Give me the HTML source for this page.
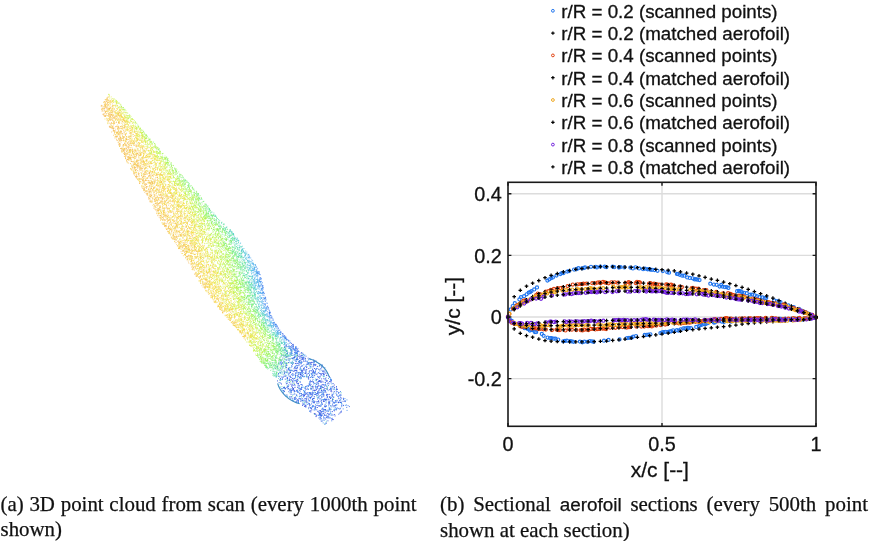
<!DOCTYPE html>
<html lang="en"><head><meta charset="utf-8"><title>Figure</title>
<style>
html,body{margin:0;padding:0;background:#fff;}
body{width:869px;height:541px;overflow:hidden;position:relative;}
svg{position:absolute;left:0;top:0;}
svg text{font-family:"Liberation Sans",sans-serif;fill:#111;stroke:#111;stroke-width:0.3px;}
.cap{position:absolute;-webkit-text-stroke:0.25px #111;font-family:"Liberation Serif",serif;font-size:20.9px;line-height:24.5px;color:#111;text-align:justify;}
.cap .sf{font-family:"Liberation Sans",sans-serif;font-size:18.9px;}
#ca{left:0.5px;top:492px;width:416px;}
#cb{left:440px;top:492px;width:428px;}
</style></head><body>
<svg width="869" height="541" viewBox="0 0 869 541">
<g id="cloud"><path d="M289.0 380.6h0.9M314.8 394.3h0.9M300.8 370.5h0.9M312.9 365.8h0.9M300.1 374.5h0.9M292.9 345.9h0.9" stroke="#2132d0" stroke-width="0.9" fill="none"/>
<path d="M288.9 379.0h0.9M311.9 386.3h0.9M320.2 388.5h0.9M311.8 394.2h0.9M281.1 384.0h0.9M284.1 347.5h0.9M318.0 401.6h0.9M306.1 398.8h0.9M284.1 387.6h0.9M317.3 366.4h0.9M305.3 406.9h0.9M308.7 397.2h0.9M319.3 392.3h0.9M291.5 347.2h0.9M329.4 396.5h0.9M296.7 353.2h0.9M334.9 400.8h0.9M324.8 378.7h0.9M305.9 401.8h0.9M319.5 376.4h0.9M301.7 398.6h0.9M334.2 387.4h0.9M299.0 362.1h0.9M327.1 380.9h0.9M323.5 411.0h0.9M286.5 395.1h0.9M304.1 406.3h0.9M295.8 365.3h0.9M331.3 391.7h0.9M315.2 414.2h0.9M312.0 377.6h0.9M293.9 397.7h0.9M316.7 386.4h0.9M308.3 379.0h0.9M303.5 361.5h0.9M317.3 405.3h0.9M283.6 387.3h0.9M311.1 408.4h0.9M299.6 374.3h0.9M326.7 389.5h0.9M301.9 358.1h0.9M324.2 406.3h0.9M299.2 356.2h0.9M314.4 413.7h0.9M332.7 419.6h0.9M320.6 411.5h0.9M296.1 359.6h0.9M316.9 407.5h0.9M322.9 399.9h0.9M329.4 377.5h0.9M314.8 373.2h0.9M313.8 390.2h0.9M332.6 383.5h0.9M312.6 371.9h0.9M326.5 394.7h0.9M294.4 360.0h0.9M300.8 389.4h0.9M313.8 401.2h0.9M298.8 361.7h0.9M328.8 394.4h0.9M313.8 396.6h0.9M305.5 394.3h0.9M288.3 341.0h0.9M302.3 370.7h0.9M321.0 415.2h0.9M320.5 406.0h0.9M318.7 412.9h0.9M290.9 343.4h0.9M317.6 393.1h0.9M317.4 391.8h0.9M339.4 413.1h0.9M340.4 412.0h0.9M312.3 372.3h0.9M324.2 414.8h0.9M320.2 410.7h0.9M285.8 364.1h0.9M293.6 390.9h0.9M287.8 386.7h0.9M313.5 361.4h0.9M299.4 364.0h0.9M321.4 385.1h0.9M314.2 375.4h0.9M285.2 338.4h0.9M324.7 412.7h0.9M308.1 363.9h0.9M315.6 416.6h0.9M306.8 388.2h0.9M325.0 382.6h0.9M301.1 395.3h0.9M292.7 344.4h0.9M293.7 368.7h0.9M296.4 370.3h0.9M291.1 350.9h0.9M322.4 384.5h0.9M296.2 395.3h0.9M302.0 373.0h0.9M294.5 387.5h0.9M321.4 397.4h0.9M301.8 385.1h0.9M326.4 399.9h0.9M287.4 386.4h0.9M309.0 375.6h0.9M296.7 383.4h0.9M296.2 382.1h0.9M327.4 416.7h0.9M300.4 401.3h0.9M332.0 400.9h0.9M321.4 409.2h0.9M299.8 373.1h0.9M342.9 398.3h0.9M312.5 387.4h0.9M293.6 357.8h0.9M305.8 393.2h0.9M321.1 390.5h0.9M285.9 344.9h0.9M307.3 392.9h0.9M316.6 382.7h0.9M301.4 365.9h0.9M323.3 374.5h0.9M319.2 365.5h0.9M277.1 366.8h0.9M286.7 356.6h0.9M328.5 399.9h0.9M290.2 348.9h0.9M304.7 405.9h0.9M325.1 409.7h0.9M297.0 375.9h0.9M311.5 373.5h0.9M306.2 367.6h0.9M292.1 387.4h0.9M308.8 403.8h0.9M309.5 363.9h0.9M281.5 388.4h0.9M323.2 396.0h0.9M294.1 357.6h0.9M334.0 410.8h0.9M318.9 381.1h0.9M302.6 404.7h0.9M292.2 388.9h0.9M303.7 400.1h0.9M286.3 356.9h0.9M313.8 413.7h0.9M290.7 392.1h0.9M310.7 388.4h0.9M315.8 415.8h0.9M292.6 358.4h0.9M314.0 402.2h0.9M334.4 405.6h0.9M325.8 380.3h0.9M315.4 364.4h0.9M286.1 367.6h0.9M303.9 395.6h0.9M333.8 391.6h0.9M315.2 406.9h0.9M298.1 403.1h0.9M309.0 405.8h0.9M333.8 385.0h0.9M281.9 362.8h0.9M325.5 373.2h0.9M307.3 364.5h0.9M312.1 381.1h0.9M294.4 357.2h0.9M289.3 382.7h0.9M298.8 385.9h0.9M297.8 383.8h0.9M322.8 390.2h0.9M344.0 401.1h0.9M282.6 392.4h0.9M327.1 373.3h0.9M337.9 402.7h0.9M311.1 362.4h0.9M305.2 386.9h0.9M323.3 387.5h0.9M290.6 394.2h0.9M299.8 382.2h0.9M313.1 398.6h0.9M295.5 373.2h0.9M332.5 405.8h0.9M312.6 386.3h0.9M318.5 396.1h0.9M294.0 367.3h0.9M342.9 405.6h0.9M304.2 395.1h0.9M293.2 388.9h0.9M331.7 395.6h0.9M298.1 401.9h0.9M289.7 352.8h0.9M289.2 373.1h0.9" stroke="#2339d6" stroke-width="0.9" fill="none"/>
<path d="M297.3 355.4h0.9M319.6 412.6h0.9M317.8 377.1h0.9M330.3 391.1h0.9M323.3 384.9h0.9M325.1 406.4h0.9M316.7 373.9h0.9M290.7 379.8h0.9M283.6 371.0h0.9M309.6 411.1h0.9M314.3 361.4h0.9M310.1 385.2h0.9M331.9 411.6h0.9M309.9 381.2h0.9M287.9 368.2h0.9M296.1 370.7h0.9M314.2 390.7h0.9M307.5 363.1h0.9M290.1 377.3h0.9M292.0 390.0h0.9M296.7 357.4h0.9M317.4 411.4h0.9M289.9 372.5h0.9M330.9 390.3h0.9M308.4 368.5h0.9M302.7 395.8h0.9M291.5 351.2h0.9M331.3 389.2h0.9M333.6 406.1h0.9M314.0 368.5h0.9M312.2 392.8h0.9M333.7 402.6h0.9M312.9 382.4h0.9M320.5 386.1h0.9M326.7 397.3h0.9M301.5 371.0h0.9M296.7 349.4h0.9M334.6 415.9h0.9M313.3 360.0h0.9M321.8 373.4h0.9M300.7 353.7h0.9M312.0 399.3h0.9M288.0 388.6h0.9M296.9 379.8h0.9M326.9 413.4h0.9M322.9 413.2h0.9M338.5 398.7h0.9M333.3 397.2h0.9M291.4 385.9h0.9M300.7 355.7h0.9M280.1 378.6h0.9M299.4 358.2h0.9M290.0 376.2h0.9M326.0 423.1h0.9M308.2 373.4h0.9M299.4 377.7h0.9M291.1 355.0h0.9M311.0 364.2h0.9M291.8 398.3h0.9M285.8 345.8h0.9M318.5 414.9h0.9M283.9 373.7h0.9M316.0 379.4h0.9M295.3 353.4h0.9M296.2 401.1h0.9M299.7 368.1h0.9M292.8 362.9h0.9M316.9 401.7h0.9M296.8 381.2h0.9M301.3 359.3h0.9M323.4 374.1h0.9M330.4 381.5h0.9M295.1 375.3h0.9M314.5 365.6h0.9M323.4 371.7h0.9M300.3 360.2h0.9M284.3 376.2h0.9M277.0 380.9h0.9M332.1 399.6h0.9M326.0 417.4h0.9M336.1 386.9h0.9M295.0 370.5h0.9M295.1 376.6h0.9M311.4 409.8h0.9M326.4 375.6h0.9M315.0 390.3h0.9M305.1 358.3h0.9M288.4 346.6h0.9M298.5 385.8h0.9M321.4 391.0h0.9M331.0 380.7h0.9M293.0 389.3h0.9M292.2 380.9h0.9M329.4 408.2h0.9M314.7 407.7h0.9M318.3 390.3h0.9M295.2 367.9h0.9M328.5 383.8h0.9M322.7 409.7h0.9M316.8 388.7h0.9M327.4 394.6h0.9M289.8 354.9h0.9M304.6 358.9h0.9M308.8 404.4h0.9M290.4 384.2h0.9M320.5 413.3h0.9M304.9 373.0h0.9M294.9 363.5h0.9M308.9 384.6h0.9M291.8 358.3h0.9M309.3 400.9h0.9M326.3 395.1h0.9M324.5 388.5h0.9M304.7 392.3h0.9M340.2 402.5h0.9M315.3 386.8h0.9M325.3 419.0h0.9M296.1 402.3h0.9M289.7 370.3h0.9M321.2 401.0h0.9M308.8 371.6h0.9M332.6 386.3h0.9M300.2 389.3h0.9M297.4 387.2h0.9M328.0 402.9h0.9M284.2 372.8h0.9M283.8 349.9h0.9M336.2 409.0h0.9M340.3 397.7h0.9M291.3 345.7h0.9M292.0 364.7h0.9M319.4 389.9h0.9M319.4 398.9h0.9M294.2 349.3h0.9M336.2 389.5h0.9M325.9 381.3h0.9M309.8 377.5h0.9M297.8 351.2h0.9M313.2 364.1h0.9M292.2 378.5h0.9M300.4 356.7h0.9M337.0 389.3h0.9M284.9 376.1h0.9M286.5 346.7h0.9M319.0 380.9h0.9M303.5 357.4h0.9M327.5 420.8h0.9M286.6 383.5h0.9M313.4 390.6h0.9M321.5 381.2h0.9M320.7 386.5h0.9M318.3 369.3h0.9M320.4 368.6h0.9M305.5 369.9h0.9M302.7 369.8h0.9M321.0 366.9h0.9M330.1 398.5h0.9M299.0 390.2h0.9M314.6 372.2h0.9M288.6 369.9h0.9M323.4 400.8h0.9M324.1 409.7h0.9M283.7 356.0h0.9M314.4 364.6h0.9M285.9 363.5h0.9M282.7 366.4h0.9M323.4 378.7h0.9M301.2 371.1h0.9M292.3 400.5h0.9M320.9 418.8h0.9M297.5 359.4h0.9M301.8 376.5h0.9M320.0 373.8h0.9M339.4 409.0h0.9M308.5 407.4h0.9M303.8 370.0h0.9M296.5 390.2h0.9M292.8 371.4h0.9M323.4 394.6h0.9M299.2 360.6h0.9M283.1 390.6h0.9M316.0 389.8h0.9M328.9 389.7h0.9M329.0 414.2h0.9M301.3 387.4h0.9M328.3 401.9h0.9M325.1 399.7h0.9M318.2 385.8h0.9M296.7 359.5h0.9M316.4 368.4h0.9M292.9 388.4h0.9M327.6 416.1h0.9M301.1 387.8h0.9M292.7 385.3h0.9M306.5 389.5h0.9M330.3 388.5h0.9M309.8 362.7h0.9M318.5 381.1h0.9M310.1 397.6h0.9M303.0 368.7h0.9M297.9 372.6h0.9M317.4 386.4h0.9M312.3 362.4h0.9M308.5 395.0h0.9M303.3 358.9h0.9M331.2 418.9h0.9M304.6 394.5h0.9M312.6 388.8h0.9M295.7 363.3h0.9M310.4 394.8h0.9M319.1 413.6h0.9M297.1 399.9h0.9M309.0 392.5h0.9M329.2 402.6h0.9" stroke="#2641dc" stroke-width="0.9" fill="none"/>
<path d="M283.6 336.0h0.78M282.1 333.7h0.78M270.8 315.9h0.78" stroke="#294be2" stroke-width="0.78" fill="none"/>
<path d="M326.0 386.1h0.9M302.5 359.5h0.9M296.1 380.1h0.9M300.5 384.5h0.9M322.6 411.5h0.9M340.6 412.1h0.9M302.8 358.1h0.9M285.3 355.0h0.9M287.0 378.4h0.9M285.8 356.9h0.9M312.8 382.0h0.9M306.2 376.3h0.9M296.8 353.9h0.9M323.1 401.5h0.9M287.0 377.8h0.9M311.0 381.6h0.9M317.3 379.3h0.9M289.7 371.2h0.9M332.3 419.5h0.9M317.5 381.9h0.9M279.6 359.5h0.9M316.0 380.2h0.9M324.2 401.3h0.9M303.0 396.0h0.9M288.3 373.8h0.9M294.4 356.7h0.9M321.7 387.5h0.9M297.7 351.0h0.9M304.6 388.6h0.9M325.5 392.3h0.9M294.2 391.4h0.9M291.7 384.6h0.9M329.1 376.6h0.9M313.2 406.0h0.9M301.9 375.3h0.9M293.8 350.7h0.9M295.7 361.3h0.9M295.6 391.3h0.9M282.5 355.3h0.9M319.7 381.2h0.9M306.7 396.8h0.9M307.9 377.2h0.9M283.1 393.6h0.9M310.4 412.0h0.9M315.6 394.4h0.9M312.2 375.3h0.9M305.6 405.1h0.9M286.5 369.9h0.9M316.4 415.1h0.9M322.2 371.1h0.9M284.8 379.2h0.9M323.0 373.3h0.9M311.4 394.5h0.9M312.8 402.2h0.9M297.8 383.3h0.9M340.7 402.2h0.9M296.2 359.1h0.9M312.9 370.5h0.9M300.5 374.7h0.9M296.5 358.8h0.9M330.6 386.9h0.9M291.3 380.0h0.9M292.7 349.3h0.9M326.1 375.3h0.9M309.5 370.5h0.9M316.4 395.7h0.9M318.3 377.3h0.9M337.8 402.4h0.9M292.4 373.6h0.9M293.4 382.0h0.9M322.6 382.0h0.9M300.9 362.3h0.9M323.7 390.2h0.9M319.4 410.8h0.9M320.4 381.0h0.9M295.3 380.8h0.9M286.7 387.1h0.9M324.3 392.0h0.9M310.3 389.0h0.9M307.7 377.2h0.9M321.9 365.2h0.9M282.7 376.7h0.9M290.0 372.4h0.9M311.9 399.8h0.9M326.2 399.6h0.9M296.4 368.4h0.9M313.5 398.4h0.9M310.0 407.6h0.9M325.3 415.4h0.9M302.1 405.4h0.9M310.7 388.7h0.9M290.1 346.8h0.9M311.7 395.9h0.9M327.9 414.8h0.9M296.5 350.2h0.9M304.5 373.3h0.9M318.8 373.3h0.9M295.8 398.8h0.9M309.9 393.3h0.9M293.5 378.4h0.9M297.9 400.3h0.9M334.2 414.5h0.9M315.7 374.4h0.9M318.1 400.8h0.9M329.8 409.3h0.9M332.5 403.2h0.9M297.7 400.2h0.9M311.8 401.2h0.9M290.0 350.1h0.9M306.3 369.6h0.9M305.2 405.7h0.9M322.1 387.1h0.9M305.1 373.2h0.9M293.8 399.0h0.9M308.7 362.4h0.9M335.2 405.6h0.9M295.2 348.0h0.9M302.1 358.0h0.9M294.4 394.1h0.9M305.3 400.9h0.9M300.9 363.7h0.9M300.8 355.5h0.9M285.1 388.3h0.9M318.4 381.2h0.9M298.6 398.8h0.9M297.7 356.5h0.9M287.6 359.9h0.9M316.1 384.4h0.9M343.0 399.4h0.9M305.7 399.3h0.9M301.5 362.1h0.9M297.1 367.6h0.9M291.0 396.8h0.9M296.2 359.5h0.9M326.3 395.7h0.9M327.8 382.9h0.9M307.7 358.2h0.9M338.0 402.2h0.9M295.5 375.4h0.9M285.3 357.1h0.9M288.8 376.7h0.9M301.8 400.5h0.9M297.5 392.2h0.9M284.9 388.9h0.9M330.6 397.7h0.9M296.9 363.4h0.9M323.5 370.4h0.9M291.5 358.3h0.9M287.9 368.7h0.9M322.6 408.2h0.9M305.8 402.8h0.9M321.1 374.8h0.9M291.0 390.5h0.9M294.3 384.8h0.9M317.9 383.9h0.9M310.8 370.8h0.9M330.4 379.9h0.9M318.6 405.9h0.9M301.9 371.3h0.9M297.2 379.2h0.9M306.7 374.0h0.9M289.5 359.2h0.9M297.2 355.2h0.9M328.5 404.1h0.9M288.5 358.4h0.9M324.9 384.9h0.9M292.4 348.7h0.9M291.4 363.3h0.9M290.8 349.7h0.9M300.0 376.2h0.9M318.9 405.9h0.9M330.4 405.6h0.9M317.0 393.6h0.9M313.7 402.9h0.9M282.5 377.5h0.9M342.6 401.3h0.9M310.4 410.7h0.9M302.4 403.1h0.9M299.0 393.2h0.9M320.3 382.0h0.9M318.3 397.4h0.9M285.9 383.8h0.9M320.4 375.0h0.9M302.3 353.2h0.9M288.4 391.7h0.9" stroke="#294be2" stroke-width="0.9" fill="none"/>
<path d="M284.3 335.5h0.78M282.7 334.6h0.78M269.8 312.9h0.78M268.9 310.7h0.78M285.6 337.3h0.78M267.3 306.1h0.78M278.9 330.3h0.78M268.9 312.5h0.78M264.0 293.6h0.78M278.1 328.4h0.78M283.4 336.2h0.78M269.0 313.4h0.78M275.8 324.5h0.78M295.5 346.7h0.78M265.2 298.2h0.78M282.5 333.5h0.78M264.8 297.1h0.78M271.7 318.4h0.78M285.3 337.0h0.78M289.5 341.0h0.78M269.4 311.3h0.78M271.3 317.2h0.78M262.5 285.6h0.78M275.5 324.1h0.78" stroke="#2e5fe7" stroke-width="0.78" fill="none"/>
<path d="M341.0 411.1h0.9M313.5 362.5h0.9M297.9 363.3h0.9M322.5 371.6h0.9M330.6 382.8h0.9M314.0 372.8h0.9M315.1 371.3h0.9M313.7 364.3h0.9M278.2 373.5h0.9M331.6 394.2h0.9M304.6 398.5h0.9M320.2 387.3h0.9M325.7 388.7h0.9M321.4 373.7h0.9M307.6 394.9h0.9M299.5 369.6h0.9M320.7 420.9h0.9M304.5 401.2h0.9M321.2 378.9h0.9M293.8 390.6h0.9M315.2 365.2h0.9M303.3 360.3h0.9M308.7 383.8h0.9M280.9 364.8h0.9M320.7 382.4h0.9M306.7 361.4h0.9M296.9 391.2h0.9M341.5 404.1h0.9M295.4 372.9h0.9M339.7 394.4h0.9M295.1 402.1h0.9M305.9 364.3h0.9M306.2 375.1h0.9M323.8 390.3h0.9M305.6 356.2h0.9M312.5 398.6h0.9M324.4 367.8h0.9M305.2 361.2h0.9M289.4 348.0h0.9M324.4 424.2h0.9M299.6 396.4h0.9M278.3 363.3h0.9M288.4 385.0h0.9M332.6 415.0h0.9M320.7 416.4h0.9M296.4 368.1h0.9M315.6 387.3h0.9M293.8 354.4h0.9M289.7 390.3h0.9M303.0 394.4h0.9M326.8 387.8h0.9M313.3 401.9h0.9M300.7 378.6h0.9M293.8 370.4h0.9M321.9 404.4h0.9M289.4 390.1h0.9M322.3 415.3h0.9M292.7 346.9h0.9M307.3 402.2h0.9M297.9 383.8h0.9M320.1 414.4h0.9M294.3 352.7h0.9M320.3 417.2h0.9M309.7 364.6h0.9M286.6 381.9h0.9M305.6 393.4h0.9M294.2 378.4h0.9M295.8 352.5h0.9M328.2 417.9h0.9M309.6 366.9h0.9M300.2 372.9h0.9M315.9 389.3h0.9M309.9 363.1h0.9M319.6 410.6h0.9M296.0 348.3h0.9M276.1 376.2h0.9M290.2 389.2h0.9M291.7 370.5h0.9M336.2 395.0h0.9M320.9 400.2h0.9M298.7 378.0h0.9M328.7 402.0h0.9M310.5 386.9h0.9M313.4 372.0h0.9M297.9 374.6h0.9M320.6 386.9h0.9M312.6 366.8h0.9M281.4 369.8h0.9M284.8 348.1h0.9M311.2 403.9h0.9M321.4 392.5h0.9M297.4 387.4h0.9M320.5 414.5h0.9M298.4 388.7h0.9M296.2 382.0h0.9M298.5 365.7h0.9M320.1 415.5h0.9M322.9 394.1h0.9M286.5 387.6h0.9M279.3 376.9h0.9M305.5 406.8h0.9M340.1 395.9h0.9M282.5 358.0h0.9M294.2 371.1h0.9M339.6 402.4h0.9M321.4 411.5h0.9M324.7 407.1h0.9M315.5 360.9h0.9M327.2 396.7h0.9M281.7 379.3h0.9M305.0 390.0h0.9M300.6 366.5h0.9M318.2 381.6h0.9M321.2 412.7h0.9M280.2 383.0h0.9M286.6 370.9h0.9M299.5 357.8h0.9M283.0 387.5h0.9M291.5 366.6h0.9M346.3 407.4h0.9M321.6 403.7h0.9M294.4 352.3h0.9M313.9 373.2h0.9M298.8 398.4h0.9M319.9 413.6h0.9M332.4 386.8h0.9M314.5 406.6h0.9M306.4 366.8h0.9M338.4 392.4h0.9M325.3 399.4h0.9M283.9 362.0h0.9M328.3 413.8h0.9M293.1 348.2h0.9M335.7 402.0h0.9M318.5 418.0h0.9M290.7 370.5h0.9M300.9 352.5h0.9M286.7 378.5h0.9M306.2 400.2h0.9M278.2 376.3h0.9M317.4 383.9h0.9M287.0 353.5h0.9M306.2 396.9h0.9M313.6 409.9h0.9M309.3 393.9h0.9M301.7 400.6h0.9M296.9 365.7h0.9M292.3 344.5h0.9M336.7 391.6h0.9M313.1 371.8h0.9M309.8 382.0h0.9M320.6 388.4h0.9M339.0 400.4h0.9M283.9 391.6h0.9M329.2 409.4h0.9M292.1 381.8h0.9M309.9 394.1h0.9M328.6 404.0h0.9M319.6 417.4h0.9M286.0 372.3h0.9M279.5 379.9h0.9M295.4 351.8h0.9M316.3 409.8h0.9M325.0 391.2h0.9M325.0 409.6h0.9M281.4 360.1h0.9M321.2 365.4h0.9M300.7 372.6h0.9M329.0 397.3h0.9M308.8 403.7h0.9M279.7 363.8h0.9M299.2 377.1h0.9M313.9 383.3h0.9M302.1 359.2h0.9M333.5 402.5h0.9M295.4 368.8h0.9M336.1 386.7h0.9M308.1 386.2h0.9M284.0 391.2h0.9M286.0 351.4h0.9M285.7 365.9h0.9M293.6 357.7h0.9M324.5 373.0h0.9M303.9 367.7h0.9M291.3 374.7h0.9M307.7 398.8h0.9M348.9 406.6h0.9M329.5 397.4h0.9M338.0 393.2h0.9M311.2 396.8h0.9M279.7 362.0h0.9M316.4 393.7h0.9M306.8 362.9h0.9M334.6 409.3h0.9M284.5 371.6h0.9M297.5 392.3h0.9M279.6 372.6h0.9M293.9 384.2h0.9M313.2 371.7h0.9M315.5 369.1h0.9M301.1 393.6h0.9M308.2 399.9h0.9M324.0 399.5h0.9M301.4 375.5h0.9M293.0 375.0h0.9M287.6 340.1h0.9M303.7 396.0h0.9M303.5 368.3h0.9M323.1 416.9h0.9M292.5 355.4h0.9M324.1 415.3h0.9M332.1 394.8h0.9M288.1 362.5h0.9M305.1 371.1h0.9M307.9 378.7h0.9M340.8 398.2h0.9M310.9 393.1h0.9M321.5 421.4h0.9M317.1 399.0h0.9M298.2 361.7h0.9M314.8 408.6h0.9M299.5 388.3h0.9M305.5 386.5h0.9" stroke="#2e5fe7" stroke-width="0.9" fill="none"/>
<path d="M274.5 324.1h0.78M280.0 332.4h0.78M270.8 317.9h0.78M259.8 277.9h0.78M273.9 322.3h0.78M272.8 320.3h0.78M277.6 327.5h0.78M269.5 312.9h0.78M263.0 287.4h0.78M269.4 312.8h0.78M263.4 292.3h0.78M269.2 313.0h0.78M263.9 298.1h0.78M260.8 278.5h0.78M269.8 312.3h0.78M265.0 297.7h0.78M279.5 330.1h0.78M278.7 332.9h0.78M266.5 306.9h0.78M280.3 332.0h0.78M262.8 292.7h0.78M262.3 288.4h0.78M276.6 326.2h0.78M267.7 307.4h0.78M268.5 309.7h0.78M265.2 301.4h0.78M265.4 298.0h0.78M277.3 328.9h0.78M276.6 325.6h0.78M276.9 326.6h0.78M280.5 331.6h0.78M259.5 279.5h0.78M270.1 315.4h0.78M266.9 306.4h0.78M262.8 289.0h0.78M259.9 277.8h0.78M275.0 324.9h0.78M294.9 348.5h0.78M267.8 307.5h0.78M258.4 273.0h0.78M289.4 343.3h0.78M263.6 303.6h0.78M285.7 338.5h0.78M286.4 339.2h0.78M275.3 326.6h0.78M283.8 336.8h0.78M280.8 332.8h0.78M260.6 281.7h0.78M273.7 322.9h0.78M292.7 346.2h0.78M261.9 290.2h0.78M285.4 338.7h0.78M286.8 339.5h0.78M261.8 285.3h0.78M261.8 286.5h0.78M295.2 350.5h0.78M281.9 336.1h0.78M264.2 304.7h0.78M285.2 337.2h0.78M266.0 308.1h0.78M269.2 312.6h0.78M261.8 286.0h0.78M263.7 299.3h0.78M259.9 274.7h0.78" stroke="#3473ed" stroke-width="0.78" fill="none"/>
<path d="M312.5 375.1h0.9M328.7 407.9h0.9M340.1 391.6h0.9M324.5 417.8h0.9M286.0 353.7h0.9M310.0 398.7h0.9M310.8 397.1h0.9M319.2 378.3h0.9M282.1 378.9h0.9M301.0 357.7h0.9M331.8 418.3h0.9M319.5 380.5h0.9M314.3 394.5h0.9M319.7 401.2h0.9M336.4 404.9h0.9M324.4 398.4h0.9M332.5 399.5h0.9M338.2 398.0h0.9M329.3 403.5h0.9M320.6 405.2h0.9M319.4 370.9h0.9M286.7 377.5h0.9M323.4 409.6h0.9M295.0 397.0h0.9M291.0 362.9h0.9M324.7 404.7h0.9M305.8 371.1h0.9M284.9 355.3h0.9M331.4 388.2h0.9M333.6 388.3h0.9M304.7 398.4h0.9M327.1 397.1h0.9M294.7 398.2h0.9M326.7 410.2h0.9M325.3 400.5h0.9M311.5 370.7h0.9M291.2 352.5h0.9M317.3 392.2h0.9M337.2 396.2h0.9M298.8 362.5h0.9M311.2 389.0h0.9M318.8 388.8h0.9M309.5 383.0h0.9M315.6 401.5h0.9M320.9 415.7h0.9M323.8 374.7h0.9M325.7 411.2h0.9M301.3 389.4h0.9M340.8 395.1h0.9M335.5 404.8h0.9M294.9 399.4h0.9M325.1 390.6h0.9M339.9 408.3h0.9M286.3 375.9h0.9M310.6 384.6h0.9M304.9 388.2h0.9M307.6 385.9h0.9M304.9 366.3h0.9M322.2 413.9h0.9M289.3 380.0h0.9M329.2 381.5h0.9M303.1 404.0h0.9M304.2 391.6h0.9M333.2 410.1h0.9M314.7 394.3h0.9M335.4 400.7h0.9M301.8 357.2h0.9M303.0 354.4h0.9M315.1 392.6h0.9M329.4 417.9h0.9M335.9 391.8h0.9M312.3 369.2h0.9M340.8 402.7h0.9M299.5 388.6h0.9M326.5 394.2h0.9M319.1 414.6h0.9M324.5 405.9h0.9M332.1 396.7h0.9M321.3 390.4h0.9M294.6 355.9h0.9M336.4 394.8h0.9M347.6 405.6h0.9M321.1 415.4h0.9M307.8 376.6h0.9M305.9 372.9h0.9M313.4 377.0h0.9M323.4 417.9h0.9M284.7 345.9h0.9M326.0 406.1h0.9M284.8 350.6h0.9M333.2 397.2h0.9M293.9 399.0h0.9M338.3 414.2h0.9M292.8 346.8h0.9M298.3 364.9h0.9M331.3 420.8h0.9M310.3 408.6h0.9M306.3 386.1h0.9M323.2 393.1h0.9M326.8 411.2h0.9M297.5 348.4h0.9M299.4 373.0h0.9M295.0 347.8h0.9M329.2 381.6h0.9M337.2 408.0h0.9M321.3 402.5h0.9M319.1 414.7h0.9M293.2 379.8h0.9M298.9 393.9h0.9M289.0 367.9h0.9M295.5 350.7h0.9M317.6 392.5h0.9M319.4 373.5h0.9M304.3 376.3h0.9M320.4 386.2h0.9M328.4 417.0h0.9M302.2 365.8h0.9M335.3 407.3h0.9M285.0 366.9h0.9M301.2 384.5h0.9M289.4 370.3h0.9M304.0 392.1h0.9M323.5 418.9h0.9M310.0 397.4h0.9M313.0 392.8h0.9M290.3 396.9h0.9M303.4 376.8h0.9M317.5 403.3h0.9M317.7 411.2h0.9M290.7 391.7h0.9M321.4 367.6h0.9M331.4 414.2h0.9M325.6 403.0h0.9M332.1 398.9h0.9M295.7 359.9h0.9M288.9 396.9h0.9M296.7 401.2h0.9M311.7 406.6h0.9M310.2 392.6h0.9M287.3 388.9h0.9M312.1 406.2h0.9M284.6 372.6h0.9M291.3 386.2h0.9M312.2 399.2h0.9M312.1 393.0h0.9M312.9 406.0h0.9M281.3 364.1h0.9M323.6 389.2h0.9M274.9 368.7h0.9M336.6 400.9h0.9M328.3 405.8h0.9M309.4 397.8h0.9M312.7 373.0h0.9M294.6 385.8h0.9M300.4 399.6h0.9M344.9 401.6h0.9M296.2 394.9h0.9M312.1 369.3h0.9M334.8 402.2h0.9M342.8 405.3h0.9M290.3 398.7h0.9M316.3 393.5h0.9M309.1 385.1h0.9M292.6 400.9h0.9M290.2 391.0h0.9M295.7 347.9h0.9M323.3 413.6h0.9M303.8 391.4h0.9M278.7 382.5h0.9M284.4 346.5h0.9M327.0 417.8h0.9M301.3 374.0h0.9M296.3 353.6h0.9M327.0 383.8h0.9M300.7 361.3h0.9M303.7 393.1h0.9M324.5 371.8h0.9M315.4 383.4h0.9M288.8 389.2h0.9M293.6 390.4h0.9M285.9 360.0h0.9M302.0 355.6h0.9M318.4 405.9h0.9M338.0 396.3h0.9M324.6 379.8h0.9M318.4 412.3h0.9M307.6 392.8h0.9M322.0 394.8h0.9M299.9 391.1h0.9M341.1 405.3h0.9M328.2 399.2h0.9M278.0 374.1h0.9M341.3 406.7h0.9M308.2 363.2h0.9M309.9 380.2h0.9M287.3 352.6h0.9M318.1 394.2h0.9M336.0 388.7h0.9M297.1 351.5h0.9M296.7 381.4h0.9M296.8 352.6h0.9M308.3 396.2h0.9M301.9 394.5h0.9M301.0 393.8h0.9M286.2 365.4h0.9M335.7 390.1h0.9M330.1 389.6h0.9M295.3 397.9h0.9M296.8 358.4h0.9" stroke="#3473ed" stroke-width="0.9" fill="none"/>
<path d="M262.3 292.5h0.78M259.1 281.5h0.78M273.4 324.1h0.78M268.3 308.6h0.78M262.0 282.7h0.78M269.8 315.4h0.78M260.9 281.3h0.78M273.6 323.1h0.78M265.0 304.0h0.78M275.2 324.4h0.78M261.1 290.1h0.78M264.5 300.9h0.78M275.2 324.5h0.78M262.8 297.7h0.78M260.5 279.5h0.78M268.8 315.0h0.78M288.0 340.8h0.78M277.2 331.7h0.78M258.6 271.8h0.78M256.8 273.8h0.78M284.7 337.5h0.78M255.9 267.3h0.78M277.3 331.3h0.78M264.4 298.3h0.78M262.5 286.0h0.78M273.4 322.7h0.78M261.2 288.8h0.78M257.2 272.4h0.78M270.3 317.3h0.78M282.5 336.0h0.78M260.5 278.0h0.78M272.4 320.1h0.78M291.6 346.2h0.78M286.1 339.7h0.78M263.0 301.7h0.78M265.0 304.9h0.78M259.9 281.7h0.78M255.5 273.8h0.78M264.1 298.4h0.78M258.2 286.8h0.78M261.7 288.3h0.78M259.1 274.5h0.78M256.3 271.8h0.78M258.3 285.0h0.78M254.9 264.7h0.78M257.3 268.4h0.78M257.9 274.0h0.78M273.4 322.4h0.78M257.6 275.9h0.78M258.6 271.7h0.78M265.6 299.9h0.78M256.7 271.5h0.78M256.5 269.4h0.78M262.0 287.5h0.78M265.9 307.7h0.78M268.6 316.7h0.78M259.3 280.0h0.78M260.2 281.6h0.78M267.4 313.2h0.78M262.6 303.8h0.78M269.1 316.1h0.78M273.7 325.1h0.78M263.0 292.0h0.78M266.5 309.2h0.78M257.1 273.0h0.78M284.0 337.4h0.78M253.5 270.7h0.78M266.5 303.0h0.78M272.8 319.1h0.78M266.8 303.4h0.78M256.9 272.2h0.78M266.9 311.6h0.78M285.7 340.1h0.78M261.8 295.2h0.78M256.2 272.7h0.78M264.9 305.2h0.78M264.6 303.7h0.78M275.8 325.2h0.78M266.9 309.0h0.78M286.1 339.8h0.78M259.3 278.2h0.78M271.7 317.1h0.78M265.5 299.9h0.78M266.5 314.3h0.78M265.8 310.3h0.78M263.5 306.8h0.78M258.1 273.4h0.78M270.5 315.6h0.78M275.7 326.2h0.78M268.9 314.4h0.78M260.6 284.6h0.78M262.6 293.7h0.78M260.9 289.4h0.78M248.3 254.5h0.78M277.9 330.5h0.78M260.5 279.1h0.78M264.4 298.5h0.78M258.8 272.8h0.78M269.8 318.8h0.78M292.6 345.8h0.78M268.6 317.9h0.78M275.6 327.0h0.78M263.0 292.4h0.78M272.2 323.2h0.78M265.4 309.6h0.78M254.0 268.0h0.78M261.4 293.4h0.78M260.4 282.6h0.78M262.8 295.1h0.78M273.3 326.4h0.78M261.2 284.8h0.78M284.3 336.9h0.78" stroke="#3987ef" stroke-width="0.78" fill="none"/>
<path d="M319.3 385.9h0.9M291.3 347.7h0.9M323.5 395.8h0.9M312.9 364.5h0.9M280.8 355.2h0.9M330.8 379.7h0.9M311.5 407.5h0.9M312.1 391.0h0.9M297.6 402.8h0.9M284.8 349.5h0.9M298.9 396.7h0.9M330.5 397.8h0.9M332.0 404.7h0.9M288.3 369.8h0.9M303.4 364.7h0.9M302.4 400.0h0.9M294.0 399.3h0.9M297.6 373.8h0.9M315.4 407.6h0.9M321.1 402.9h0.9M331.4 415.4h0.9M335.7 409.9h0.9M335.7 408.4h0.9M319.6 377.1h0.9M297.7 375.9h0.9M312.4 377.5h0.9M286.5 365.2h0.9M281.7 390.5h0.9M300.0 398.5h0.9M297.3 391.3h0.9M298.9 354.3h0.9M307.1 394.8h0.9M305.1 360.1h0.9M311.0 374.3h0.9M320.4 398.8h0.9M333.6 407.0h0.9M293.8 380.6h0.9M291.0 353.5h0.9M324.7 382.5h0.9M295.5 346.6h0.9M309.5 359.6h0.9M308.6 400.8h0.9M329.6 415.0h0.9M326.1 415.1h0.9M321.8 393.3h0.9M321.0 396.2h0.9M300.7 369.8h0.9M281.0 377.0h0.9M343.2 399.2h0.9M338.4 392.6h0.9M313.0 402.6h0.9M302.7 376.3h0.9M311.0 376.2h0.9M321.6 396.6h0.9M295.2 402.3h0.9M288.0 374.9h0.9M329.1 408.7h0.9M317.1 387.5h0.9M330.6 379.3h0.9M287.4 380.3h0.9M291.0 365.7h0.9M307.8 362.7h0.9M339.3 402.0h0.9M309.2 374.6h0.9M330.6 400.9h0.9M289.8 342.5h0.9M335.5 402.2h0.9M302.9 396.9h0.9M322.7 394.1h0.9M312.0 405.8h0.9M319.3 366.2h0.9M325.6 377.8h0.9M298.1 402.3h0.9M306.2 377.0h0.9M340.3 400.7h0.9M303.1 357.6h0.9M318.6 402.8h0.9M314.8 386.4h0.9M288.4 348.3h0.9M335.6 393.3h0.9M305.9 366.0h0.9M292.7 362.8h0.9M316.9 366.5h0.9M292.6 394.6h0.9M289.6 362.7h0.9M326.4 416.3h0.9M325.3 384.1h0.9M318.7 388.8h0.9M346.6 410.4h0.9M300.2 363.1h0.9M339.3 395.4h0.9M301.6 387.5h0.9M317.9 372.5h0.9M307.5 385.8h0.9M296.7 372.1h0.9M329.3 401.4h0.9M301.4 372.4h0.9M324.6 385.3h0.9M279.7 370.9h0.9M302.7 400.8h0.9M311.6 402.0h0.9M310.7 373.4h0.9M291.2 390.2h0.9M323.5 384.8h0.9M300.0 367.9h0.9M312.6 393.9h0.9M302.7 372.6h0.9M295.4 352.4h0.9M288.7 360.4h0.9M322.9 392.3h0.9M321.6 365.2h0.9M295.0 354.1h0.9M326.4 399.0h0.9M326.9 388.3h0.9M322.4 420.2h0.9M328.1 410.1h0.9M285.7 396.4h0.9M308.0 359.8h0.9M329.9 379.6h0.9M338.2 408.6h0.9M298.1 400.9h0.9M330.4 411.7h0.9M303.4 356.2h0.9M295.1 366.3h0.9M315.9 405.4h0.9M344.5 398.6h0.9M296.6 366.0h0.9M304.2 404.3h0.9M281.4 363.0h0.9M289.5 379.8h0.9M282.1 368.0h0.9M318.5 363.6h0.9M317.6 391.6h0.9M294.8 380.3h0.9M296.7 351.3h0.9M292.0 375.7h0.9M315.3 388.1h0.9M295.6 361.4h0.9M296.4 372.0h0.9M298.5 361.4h0.9M312.3 395.3h0.9M279.9 362.7h0.9M320.0 392.3h0.9M330.0 413.0h0.9M328.0 385.6h0.9M346.5 399.9h0.9M317.1 376.3h0.9M289.3 348.2h0.9M329.5 410.7h0.9M300.5 400.0h0.9M298.6 351.7h0.9M321.7 391.6h0.9M291.2 377.6h0.9M314.5 410.0h0.9M335.7 409.7h0.9M333.2 394.0h0.9M304.1 391.2h0.9M308.2 408.7h0.9M320.6 404.3h0.9M310.1 359.4h0.9M308.1 389.2h0.9M311.9 376.0h0.9M323.5 375.9h0.9M316.5 368.5h0.9M319.9 418.3h0.9M315.1 370.0h0.9M319.5 369.5h0.9M315.6 369.7h0.9M303.1 390.6h0.9M284.9 363.2h0.9M298.1 376.5h0.9M294.1 350.0h0.9M328.1 411.4h0.9M320.2 395.4h0.9M329.7 417.9h0.9M313.3 384.0h0.9M321.4 370.2h0.9M294.5 374.8h0.9M296.0 390.5h0.9M321.1 394.4h0.9M316.2 403.0h0.9M326.0 405.9h0.9M294.8 356.2h0.9M330.0 388.3h0.9M296.4 402.8h0.9M338.8 395.8h0.9M283.4 388.4h0.9M321.8 411.4h0.9M346.1 405.0h0.9M281.5 363.3h0.9M325.6 380.2h0.9M291.7 374.2h0.9M303.8 369.0h0.9M280.1 372.9h0.9M300.2 362.4h0.9M323.7 420.3h0.9M344.9 405.3h0.9M288.1 369.4h0.9M324.3 386.3h0.9M318.8 396.0h0.9M314.5 408.5h0.9M327.0 394.7h0.9M309.1 411.2h0.9M331.3 406.9h0.9M280.8 361.4h0.9M287.5 380.5h0.9M345.1 400.9h0.9M289.3 346.8h0.9M315.1 404.8h0.9M293.6 349.1h0.9M290.3 353.8h0.9M309.3 393.2h0.9M323.3 399.5h0.9M310.0 366.7h0.9M322.6 375.9h0.9M290.6 367.6h0.9M317.9 415.5h0.9M310.7 366.9h0.9M331.8 401.1h0.9M336.6 400.2h0.9M325.2 410.3h0.9M307.9 403.3h0.9M316.8 395.2h0.9M333.4 389.6h0.9M300.1 393.4h0.9M330.3 380.4h0.9M322.0 408.8h0.9M309.1 381.9h0.9M342.7 408.9h0.9M340.3 399.5h0.9M281.9 379.4h0.9M295.2 377.7h0.9M290.6 392.5h0.9M310.6 377.2h0.9M297.2 390.2h0.9M292.9 357.7h0.9M321.7 399.6h0.9M319.6 419.4h0.9M295.2 373.7h0.9M333.2 402.0h0.9M310.1 405.0h0.9M312.6 379.6h0.9M299.8 395.7h0.9M319.2 415.8h0.9M313.8 398.2h0.9M318.7 393.0h0.9M300.8 388.5h0.9M333.9 403.2h0.9" stroke="#3987ef" stroke-width="0.9" fill="none"/>
<path d="M258.4 284.3h0.78M260.7 298.5h0.78M261.4 288.3h0.78M252.3 260.7h0.78M250.4 258.0h0.78M269.7 323.8h0.78M258.5 280.8h0.78M291.0 350.9h0.78M264.6 310.7h0.78M279.4 332.7h0.78M270.7 323.1h0.78M284.4 338.5h0.78M276.5 332.3h0.78M279.7 334.5h0.78M257.1 274.1h0.78M261.4 283.7h0.78M254.1 269.4h0.78M261.9 293.6h0.78M259.0 280.1h0.78M257.3 281.3h0.78M263.7 298.8h0.78M280.2 337.2h0.78M282.6 338.1h0.78M262.6 297.9h0.78M269.6 321.9h0.78M273.0 324.4h0.78M272.6 327.4h0.78M248.3 257.2h0.78M261.0 297.5h0.78M259.1 286.6h0.78M252.1 263.2h0.78M255.6 276.4h0.78M265.1 307.8h0.78M259.5 301.4h0.78M278.1 331.9h0.78M248.2 257.6h0.78M256.5 281.6h0.78M257.3 279.7h0.78M257.0 275.5h0.78M259.8 292.4h0.78M253.2 264.2h0.78M280.3 333.0h0.78M258.4 281.8h0.78M264.9 311.2h0.78M263.9 307.0h0.78M262.7 293.4h0.78M288.3 344.0h0.78M274.8 325.0h0.78M260.0 292.4h0.78M270.1 325.6h0.78M283.0 336.8h0.78M278.1 334.4h0.78M255.3 265.5h0.78M249.4 257.5h0.78M241.3 251.0h0.78M255.9 275.6h0.78M251.4 259.9h0.78M254.4 275.1h0.78M260.0 290.8h0.78M253.6 274.2h0.78M263.6 295.4h0.78M280.3 334.0h0.78M275.5 326.8h0.78M259.7 286.1h0.78M253.9 267.7h0.78M263.1 305.2h0.78M295.3 349.8h0.78M255.6 269.4h0.78M261.9 290.9h0.78M262.5 299.5h0.78M253.5 275.8h0.78M260.0 285.8h0.78M260.6 288.9h0.78M266.4 308.3h0.78M282.4 339.2h0.78M277.6 332.6h0.78M262.3 300.7h0.78M276.1 330.6h0.78M263.6 307.6h0.78M254.2 271.1h0.78M266.8 315.1h0.78M259.1 285.8h0.78M256.4 272.3h0.78M272.1 325.4h0.78M261.1 298.5h0.78M280.5 337.7h0.78M257.3 278.2h0.78M259.4 287.4h0.78M256.5 270.7h0.78M264.9 308.6h0.78M272.8 323.1h0.78M262.0 292.2h0.78M269.3 317.6h0.78M257.9 271.8h0.78M256.2 270.7h0.78M257.2 293.2h0.78M269.1 319.2h0.78M252.9 264.3h0.78M257.6 282.6h0.78M277.8 330.0h0.78M268.2 316.2h0.78M267.1 319.8h0.78M261.3 301.0h0.78M259.1 273.8h0.78M259.5 281.1h0.78M259.5 285.8h0.78M281.5 337.5h0.78M284.3 337.9h0.78M270.6 320.4h0.78M256.6 282.7h0.78M253.6 269.6h0.78M254.1 278.8h0.78M254.0 285.0h0.78M280.5 337.3h0.78M252.0 270.5h0.78M261.9 289.2h0.78M254.2 267.1h0.78M258.4 291.5h0.78M256.3 279.5h0.78M252.1 268.9h0.78M256.1 273.3h0.78M258.1 285.3h0.78M258.8 281.3h0.78M280.3 334.5h0.78M261.1 293.2h0.78M258.4 283.3h0.78M252.1 264.0h0.78M263.7 312.7h0.78M275.8 328.1h0.78M259.8 292.9h0.78M265.4 310.4h0.78M257.2 273.4h0.78M273.7 325.2h0.78M281.8 336.0h0.78M255.9 266.7h0.78M279.9 334.5h0.78M265.7 315.1h0.78M249.3 256.1h0.78" stroke="#3f9ded" stroke-width="0.78" fill="none"/>
<path d="M318.2 383.2h0.9M311.5 374.2h0.9M299.6 381.4h0.9M322.0 408.3h0.9M314.2 372.4h0.9M333.3 392.8h0.9M309.4 383.3h0.9M302.9 374.7h0.9M309.2 392.8h0.9M330.0 378.2h0.9M329.9 388.2h0.9M304.5 355.0h0.9M287.3 386.2h0.9M288.6 356.5h0.9M303.4 387.2h0.9M335.4 405.1h0.9M292.0 353.3h0.9M322.7 410.8h0.9M300.3 377.7h0.9M304.1 403.0h0.9M320.1 406.2h0.9M284.2 388.7h0.9M306.6 361.2h0.9M308.1 389.4h0.9M281.3 366.9h0.9M294.8 349.6h0.9M281.7 388.8h0.9M289.4 397.1h0.9M314.8 409.4h0.9M309.0 400.6h0.9M325.0 423.1h0.9M295.9 353.5h0.9M281.7 372.1h0.9M287.8 385.0h0.9M331.4 395.9h0.9M291.6 363.2h0.9M301.7 373.6h0.9M296.5 353.8h0.9M294.7 366.7h0.9M288.2 355.7h0.9M287.5 372.4h0.9M298.9 372.4h0.9M318.2 398.1h0.9M300.9 377.4h0.9M313.0 361.0h0.9M323.5 376.5h0.9M285.5 395.0h0.9M297.4 359.9h0.9M312.4 406.9h0.9M308.1 386.1h0.9M291.8 383.0h0.9M327.7 390.7h0.9M297.5 385.2h0.9M285.8 360.0h0.9M283.4 374.8h0.9M328.0 378.5h0.9M322.7 422.9h0.9M291.3 370.1h0.9M293.8 393.0h0.9M291.8 361.6h0.9M280.5 373.0h0.9" stroke="#3f9ded" stroke-width="0.9" fill="none"/>
<path d="M252.8 279.7h0.78M248.5 255.1h0.78M259.7 293.5h0.78M261.5 304.5h0.78M257.4 280.4h0.78M262.0 302.0h0.78M259.9 283.0h0.78M235.5 241.4h0.78M251.0 262.0h0.78M286.9 379.7h0.78M291.0 349.3h0.78M284.1 342.6h0.78M253.2 269.0h0.78M261.3 302.8h0.78M233.0 233.5h0.78M286.2 342.4h0.78M278.7 333.0h0.78M284.2 344.1h0.78M271.9 329.0h0.78M271.4 322.4h0.78M255.5 285.4h0.78M255.5 271.4h0.78M256.1 283.1h0.78M283.3 391.2h0.78M258.5 282.7h0.78M288.9 375.2h0.78M258.0 285.3h0.78M241.7 249.0h0.78M260.5 292.9h0.78M247.5 260.6h0.78M281.5 340.0h0.78M238.0 240.3h0.78M264.5 315.8h0.78M280.3 380.2h0.78M250.5 261.5h0.78M247.6 261.2h0.78M284.1 343.5h0.78M291.0 349.4h0.78M248.8 260.8h0.78M255.1 264.9h0.78M261.8 301.9h0.78M252.8 272.6h0.78M257.2 286.6h0.78M264.5 312.9h0.78M260.9 307.2h0.78M253.9 268.4h0.78M252.4 262.8h0.78M268.5 312.8h0.78M262.9 311.1h0.78M253.2 265.8h0.78M277.3 335.7h0.78M255.9 275.8h0.78M252.9 263.8h0.78M250.8 267.6h0.78M267.6 320.1h0.78M248.5 265.7h0.78M274.0 329.3h0.78M266.7 316.6h0.78M253.7 280.4h0.78M256.8 282.3h0.78M276.4 334.2h0.78M244.9 255.5h0.78M245.3 258.6h0.78M254.3 264.8h0.78M253.7 269.4h0.78M252.7 270.7h0.78M253.9 280.0h0.78M257.1 281.2h0.78M255.6 283.4h0.78M259.4 298.4h0.78M277.2 331.1h0.78M253.8 277.4h0.78M254.6 267.3h0.78M274.2 328.5h0.78M294.9 353.7h0.78M259.0 292.4h0.78M241.6 250.9h0.78M265.3 314.7h0.78M266.3 319.9h0.78M257.8 286.9h0.78M260.8 298.1h0.78M259.0 289.1h0.78M250.1 265.1h0.78M263.9 308.3h0.78M260.2 299.5h0.78M273.3 325.6h0.78M256.6 279.3h0.78M259.6 304.8h0.78M245.5 257.1h0.78M254.0 268.7h0.78M273.3 326.4h0.78M264.5 306.5h0.78M259.6 295.4h0.78M277.5 333.3h0.78M254.7 272.2h0.78M255.3 271.2h0.78M252.6 272.7h0.78M278.1 333.4h0.78M259.2 296.3h0.78M258.2 284.2h0.78M257.2 276.8h0.78M289.7 354.5h0.78M284.5 343.8h0.78M262.4 303.5h0.78M288.6 346.0h0.78M265.6 310.8h0.78M254.5 282.0h0.78M270.3 322.9h0.78M249.6 261.3h0.78M286.9 343.9h0.78M269.7 321.7h0.78M254.7 274.4h0.78M248.8 261.8h0.78M259.5 293.3h0.78M249.2 256.8h0.78M288.7 345.7h0.78M243.9 252.4h0.78M247.6 255.7h0.78M271.0 321.8h0.78M266.1 313.8h0.78M252.9 270.7h0.78M268.8 325.0h0.78M271.2 326.0h0.78M257.7 291.7h0.78M260.4 310.5h0.78M284.8 343.1h0.78M246.5 252.1h0.78M289.5 348.3h0.78M248.7 258.8h0.78M284.4 339.2h0.78M271.8 325.9h0.78M255.2 283.0h0.78M268.6 316.5h0.78M271.8 322.8h0.78M248.9 276.5h0.78M252.5 268.8h0.78M260.1 296.1h0.78M250.8 272.2h0.78M255.0 285.7h0.78M285.4 342.7h0.78M262.4 310.7h0.78M254.9 287.0h0.78M257.7 280.1h0.78M277.2 333.1h0.78M263.1 311.7h0.78M270.6 325.0h0.78M249.7 265.1h0.78M240.3 243.0h0.78M258.3 292.1h0.78M257.2 293.7h0.78M249.9 267.1h0.78M260.7 302.0h0.78M263.2 308.3h0.78M251.4 263.7h0.78M283.2 340.0h0.78M254.9 279.9h0.78M258.3 293.6h0.78M242.9 251.4h0.78M244.9 254.6h0.78M296.0 359.1h0.78M254.2 278.4h0.78M267.1 315.1h0.78M252.6 268.1h0.78M258.0 288.8h0.78M255.2 267.2h0.78M253.8 281.2h0.78M262.3 308.5h0.78M274.8 330.9h0.78M257.1 297.4h0.78M256.7 282.2h0.78M284.3 340.2h0.78M265.1 310.5h0.78M260.9 305.8h0.78M284.2 342.1h0.78M251.9 270.2h0.78M246.0 259.4h0.78M247.5 257.2h0.78M264.0 311.1h0.78" stroke="#44b2eb" stroke-width="0.78" fill="none"/>
<path d="M316.2 362.0h0.9M295.1 360.0h0.9M307.3 364.0h0.9M313.8 362.6h0.9M298.3 392.1h0.9M322.7 399.5h0.9M290.8 388.7h0.9M291.5 350.2h0.9M312.8 381.7h0.9M312.9 400.5h0.9M328.9 408.2h0.9M304.2 376.6h0.9M301.5 386.2h0.9M309.1 372.7h0.9M289.4 369.2h0.9M315.1 385.9h0.9M284.4 361.8h0.9M304.5 393.6h0.9M323.3 391.1h0.9M330.3 413.6h0.9M292.6 359.9h0.9M298.0 374.1h0.9M331.4 384.0h0.9M308.0 396.2h0.9M293.4 401.0h0.9M332.1 386.9h0.9M307.0 404.4h0.9M303.8 355.3h0.9M341.0 403.5h0.9M304.2 391.9h0.9M285.5 382.2h0.9M301.4 362.5h0.9M300.4 368.7h0.9M314.8 380.2h0.9" stroke="#44b2eb" stroke-width="0.9" fill="none"/>
<path d="M251.3 270.2h0.78M261.0 311.4h0.78M246.8 267.4h0.78M248.3 260.9h0.78M251.4 286.0h0.78M240.7 251.3h0.78M265.3 315.0h0.78M250.9 282.0h0.78M279.8 379.8h0.78M257.6 285.2h0.78M270.0 322.2h0.78M260.5 305.4h0.78M255.8 285.3h0.78M250.4 268.9h0.78M273.4 332.5h0.78M258.1 299.4h0.78M256.7 298.5h0.78M255.2 294.8h0.78M278.7 384.1h0.78M262.9 314.1h0.78M248.5 279.0h0.78M236.6 239.6h0.78M255.5 288.2h0.78M248.6 265.6h0.78M259.3 301.4h0.78M265.2 320.4h0.78M275.1 331.7h0.78M247.1 260.5h0.78M262.0 313.0h0.78M294.3 355.0h0.78M234.1 236.2h0.78M258.6 306.6h0.78M255.0 277.8h0.78M249.4 267.6h0.78M253.0 279.5h0.78M244.8 255.5h0.78M276.3 334.1h0.78M286.8 385.6h0.78M250.6 270.6h0.78M249.2 268.5h0.78M251.6 278.9h0.78M287.8 348.0h0.78M262.6 307.9h0.78M253.8 295.7h0.78M258.1 304.7h0.78M267.6 320.8h0.78M252.5 284.7h0.78M268.0 324.9h0.78M254.8 286.9h0.78M250.3 266.6h0.78M247.6 264.1h0.78M267.3 325.4h0.78M251.7 266.8h0.78M255.0 298.2h0.78M277.4 334.2h0.78M251.1 274.0h0.78M254.2 288.0h0.78M246.7 258.9h0.78M246.0 253.4h0.78M258.2 300.3h0.78M236.1 239.7h0.78M263.6 311.4h0.78M241.4 246.8h0.78M275.4 335.5h0.78M242.5 248.6h0.78M268.3 325.7h0.78M251.8 278.2h0.78M246.2 257.8h0.78M277.2 332.9h0.78M252.8 282.1h0.78M247.2 264.7h0.78M239.8 243.6h0.78M261.1 309.6h0.78M250.8 276.5h0.78M252.6 266.8h0.78M236.6 243.5h0.78M282.7 342.4h0.78M275.9 377.2h0.78M264.4 317.8h0.78M255.5 282.0h0.78M258.0 294.0h0.78M254.3 283.4h0.78M268.6 321.0h0.78M285.1 376.2h0.78M258.9 307.0h0.78M233.2 233.7h0.78M263.6 315.8h0.78M284.6 344.6h0.78M242.8 251.6h0.78M258.5 303.8h0.78M266.9 316.9h0.78M246.6 267.2h0.78M249.0 276.0h0.78M243.0 250.4h0.78M249.1 265.6h0.78M281.4 389.1h0.78M266.5 316.1h0.78M275.6 336.5h0.78M252.7 280.9h0.78M279.7 386.9h0.78M284.5 342.0h0.78M277.5 334.1h0.78M286.7 373.8h0.78M241.9 250.1h0.78M249.6 269.9h0.78M270.0 323.9h0.78M280.6 343.2h0.78M253.5 288.3h0.78M255.4 284.8h0.78M244.4 256.9h0.78M242.1 249.3h0.78M252.1 276.4h0.78M277.2 333.2h0.78M244.8 253.5h0.78M243.6 252.2h0.78M252.6 285.6h0.78M258.9 308.0h0.78M273.1 329.9h0.78M276.2 332.8h0.78M256.5 289.1h0.78M295.9 356.5h0.78M255.5 274.6h0.78M274.6 333.0h0.78M250.1 264.9h0.78M277.0 336.1h0.78M240.9 250.2h0.78M273.7 330.5h0.78M270.9 325.9h0.78M290.1 348.6h0.78M270.9 326.0h0.78M238.8 245.2h0.78M260.5 301.7h0.78M239.3 246.2h0.78M250.8 266.0h0.78M257.3 299.2h0.78M275.6 329.1h0.78M243.9 253.1h0.78M270.8 327.1h0.78M260.6 308.6h0.78M241.0 253.9h0.78M257.5 282.0h0.78M248.5 262.4h0.78M251.0 270.5h0.78M248.1 269.4h0.78M255.0 289.5h0.78M265.2 314.9h0.78M281.5 342.3h0.78M234.5 238.1h0.78M249.4 263.3h0.78M242.9 260.1h0.78M235.5 243.7h0.78M279.8 379.9h0.78M253.6 286.9h0.78M258.3 297.5h0.78M276.6 334.4h0.78M229.5 231.6h0.78M281.6 379.7h0.78M271.0 327.8h0.78M251.7 276.0h0.78M244.6 253.7h0.78M243.6 248.5h0.78M252.3 275.9h0.78M262.2 312.9h0.78M259.9 297.6h0.78M254.2 293.4h0.78M286.8 346.5h0.78M283.5 341.6h0.78M270.7 326.7h0.78M257.1 288.1h0.78M270.0 324.7h0.78M251.7 282.4h0.78M253.1 285.0h0.78M261.0 313.2h0.78M248.2 262.1h0.78M269.1 320.6h0.78M261.3 311.2h0.78M268.6 325.7h0.78M248.9 269.1h0.78M253.2 263.3h0.78M258.5 301.3h0.78M253.5 283.5h0.78M281.5 343.6h0.78M237.8 240.7h0.78M254.1 281.8h0.78M254.4 286.9h0.78M254.5 290.2h0.78M245.3 251.0h0.78M282.6 391.8h0.78M254.8 298.9h0.78M249.7 268.8h0.78M292.8 363.6h0.78M245.7 254.5h0.78M244.2 256.0h0.78M276.1 336.4h0.78M249.6 282.3h0.78M235.6 241.7h0.78M262.5 315.9h0.78M275.7 333.1h0.78M272.6 327.1h0.78M256.5 297.9h0.78M256.0 289.3h0.78M254.1 283.2h0.78M279.6 338.4h0.78M261.2 307.6h0.78M257.7 279.8h0.78M233.0 234.7h0.78M254.9 293.2h0.78M236.9 238.6h0.78M289.4 361.3h0.78M230.3 231.6h0.78M263.8 314.4h0.78M289.5 353.4h0.78M264.6 319.3h0.78M269.4 323.9h0.78M248.9 283.0h0.78M251.3 271.4h0.78M245.0 252.7h0.78M252.1 287.4h0.78M263.8 311.7h0.78M271.3 331.1h0.78M254.5 289.9h0.78M259.2 303.0h0.78M238.5 240.9h0.78M243.5 257.3h0.78M255.9 273.3h0.78M243.1 257.7h0.78M266.9 320.7h0.78M253.9 282.2h0.78M252.1 276.3h0.78M250.3 263.1h0.78M250.8 290.8h0.78M244.0 259.9h0.78M284.4 344.2h0.78M284.6 347.9h0.78M251.4 273.5h0.78" stroke="#4bc3d8" stroke-width="0.78" fill="none"/>
<path d="M298.8 361.6h0.9M300.0 378.8h0.9M310.5 365.2h0.9M296.7 396.2h0.9M334.0 409.2h0.9M324.6 424.0h0.9M316.9 397.5h0.9M313.7 373.9h0.9M293.4 357.9h0.9M295.0 376.9h0.9M304.6 387.5h0.9M287.1 396.4h0.9M314.3 392.3h0.9M319.5 365.2h0.9M292.0 399.8h0.9M296.9 377.2h0.9M289.4 392.9h0.9M300.5 369.9h0.9M315.6 384.1h0.9M298.8 388.0h0.9M330.2 406.1h0.9M330.9 409.3h0.9M325.8 401.9h0.9M321.0 386.9h0.9" stroke="#4bc3d8" stroke-width="0.9" fill="none"/>
<path d="M211.4 212.4h0.78M276.6 371.0h0.78M281.1 340.0h0.78M261.8 305.6h0.78M263.2 311.0h0.78M229.8 235.3h0.78M250.5 285.7h0.78M274.4 333.2h0.78M256.2 291.3h0.78M264.1 318.7h0.78M289.5 355.4h0.78M258.3 305.1h0.78M250.9 277.1h0.78M238.1 240.9h0.78M242.2 249.7h0.78M235.4 241.2h0.78M282.3 350.3h0.78M247.5 262.6h0.78M286.4 363.6h0.78M241.0 256.6h0.78M242.0 259.2h0.78M274.8 376.0h0.78M264.5 323.7h0.78M279.6 375.8h0.78M273.2 365.3h0.78M244.0 275.9h0.78M241.4 256.0h0.78M278.9 369.2h0.78M227.9 235.2h0.78M264.3 314.7h0.78M232.8 234.8h0.78M277.7 342.4h0.78M263.0 317.7h0.78M290.4 362.9h0.78M275.3 335.1h0.78M234.0 238.7h0.78M266.0 323.5h0.78M256.3 291.9h0.78M265.8 322.9h0.78M269.0 325.7h0.78M230.2 229.9h0.78M273.4 368.9h0.78M272.4 332.7h0.78M265.1 322.4h0.78M244.7 264.0h0.78M252.8 292.6h0.78M279.0 339.9h0.78M283.0 344.8h0.78M240.4 253.3h0.78M288.7 355.1h0.78M246.9 269.8h0.78M251.6 278.8h0.78M279.0 372.6h0.78M283.9 363.4h0.78M246.7 265.8h0.78M248.4 270.7h0.78M249.4 286.7h0.78M214.0 216.1h0.78M249.7 290.0h0.78M281.6 386.5h0.78M284.1 355.9h0.78M241.0 256.9h0.78M291.5 355.5h0.78M272.3 373.4h0.78M279.3 344.7h0.78M247.8 272.9h0.78M241.8 263.1h0.78M244.2 273.7h0.78M241.3 253.8h0.78M260.0 310.3h0.78M228.0 233.1h0.78M281.2 348.9h0.78M241.5 256.6h0.78M264.2 315.0h0.78M273.5 373.4h0.78M231.4 232.2h0.78M258.6 306.3h0.78M284.5 368.8h0.78M285.3 359.7h0.78M247.4 254.2h0.78M267.7 322.3h0.78M243.2 251.6h0.78M232.6 237.1h0.78M249.9 285.9h0.78M255.9 301.0h0.78M235.7 239.1h0.78M262.4 315.5h0.78M287.4 354.5h0.78M258.0 309.4h0.78M275.9 339.3h0.78M263.1 313.5h0.78M286.5 362.7h0.78M263.7 318.0h0.78M244.9 274.8h0.78M275.6 335.8h0.78M252.2 277.4h0.78M236.7 237.9h0.78M250.9 283.0h0.78M223.6 224.3h0.78M281.2 343.1h0.78M245.1 263.2h0.78M253.9 292.9h0.78M258.5 306.5h0.78M257.3 302.7h0.78M232.8 235.2h0.78M273.9 333.1h0.78M225.3 228.0h0.78M260.1 315.9h0.78M286.8 371.5h0.78M277.7 370.0h0.78M254.3 295.2h0.78M284.6 346.9h0.78M249.8 270.4h0.78M285.2 349.9h0.78M251.2 292.2h0.78M256.8 303.2h0.78M283.5 342.3h0.78M233.6 240.1h0.78M221.0 223.4h0.78M245.1 266.1h0.78M292.7 359.9h0.78M254.0 291.4h0.78M245.3 262.9h0.78M239.4 260.0h0.78M257.1 301.2h0.78M281.9 343.5h0.78M264.9 319.1h0.78M234.6 238.1h0.78M225.8 227.5h0.78M279.4 370.8h0.78M265.5 321.0h0.78M283.5 360.2h0.78M287.7 382.2h0.78M253.9 297.3h0.78M243.4 265.6h0.78M287.5 358.1h0.78M275.5 335.6h0.78M248.4 273.0h0.78M241.2 251.0h0.78M283.7 372.8h0.78M250.3 279.4h0.78M286.2 350.4h0.78M251.0 287.4h0.78M245.7 270.9h0.78M237.1 247.7h0.78M265.7 322.0h0.78M271.5 332.5h0.78M249.0 284.3h0.78M238.2 242.8h0.78M226.5 226.9h0.78M271.1 330.7h0.78M286.3 354.9h0.78M219.4 220.4h0.78M275.6 377.0h0.78M281.0 347.8h0.78M231.0 231.3h0.78M265.5 321.2h0.78M243.1 260.0h0.78M241.1 246.9h0.78M265.2 323.0h0.78M277.8 376.2h0.78M245.7 262.5h0.78M282.4 366.8h0.78M246.9 261.2h0.78M246.6 264.9h0.78M258.2 308.6h0.78M282.6 350.5h0.78M277.5 375.2h0.78M283.4 364.7h0.78M285.7 348.1h0.78M233.4 238.8h0.78M284.0 350.0h0.78M229.7 230.4h0.78M238.9 247.6h0.78M253.0 288.5h0.78M281.0 342.6h0.78M256.7 299.8h0.78M278.0 336.8h0.78M290.7 371.0h0.78M271.7 329.6h0.78M245.2 258.8h0.78M252.6 281.2h0.78M254.0 287.7h0.78M291.7 355.2h0.78M254.9 292.5h0.78M274.9 358.0h0.78M241.4 255.6h0.78M268.5 326.1h0.78M254.8 294.8h0.78M270.7 325.9h0.78M238.2 256.6h0.78M280.5 341.8h0.78M248.3 278.7h0.78M244.5 261.0h0.78M286.6 350.6h0.78M269.0 326.0h0.78M250.6 284.6h0.78M236.2 246.6h0.78M261.8 313.1h0.78M253.1 289.7h0.78M239.0 247.6h0.78M287.3 352.0h0.78M277.7 336.0h0.78M283.8 347.7h0.78M242.3 249.5h0.78M290.4 351.9h0.78M249.3 280.4h0.78M285.1 374.9h0.78M237.8 254.2h0.78M231.6 231.6h0.78M236.6 241.0h0.78M283.9 386.7h0.78M242.7 265.0h0.78M286.6 379.9h0.78M242.5 267.1h0.78M270.4 333.9h0.78M288.1 355.2h0.78M250.2 276.2h0.78M286.8 372.6h0.78M264.7 322.4h0.78M234.5 239.0h0.78M253.6 290.0h0.78M248.6 281.7h0.78M232.3 237.6h0.78M251.5 278.5h0.78M232.0 233.4h0.78M245.0 254.8h0.78M289.7 358.8h0.78M247.5 276.7h0.78M256.9 301.3h0.78M252.6 297.3h0.78M234.1 238.1h0.78M275.6 335.2h0.78M231.0 233.0h0.78M214.9 215.6h0.78M239.1 255.5h0.78M264.4 320.3h0.78M267.1 319.5h0.78M242.1 246.2h0.78M249.1 288.2h0.78M241.3 249.9h0.78M279.4 344.3h0.78M262.3 314.4h0.78M231.6 234.8h0.78M279.8 387.4h0.78M275.2 334.9h0.78M242.4 252.4h0.78M244.8 268.3h0.78M247.8 275.5h0.78M240.2 254.2h0.78M229.0 235.1h0.78M247.8 267.5h0.78M276.2 372.4h0.78M278.1 378.5h0.78M238.3 249.2h0.78M274.5 362.9h0.78M237.5 245.4h0.78M232.9 257.1h0.78M231.9 232.9h0.78M274.0 375.9h0.78M271.1 365.3h0.78M262.3 314.2h0.78M225.3 229.2h0.78M283.7 344.5h0.78M253.8 288.2h0.78M241.9 257.3h0.78M275.6 338.2h0.78M241.2 250.3h0.78M240.2 256.0h0.78M261.4 314.3h0.78M279.8 380.4h0.78M256.4 299.0h0.78M252.2 285.2h0.78M259.7 314.1h0.78M251.7 288.1h0.78M291.8 350.9h0.78M253.0 287.1h0.78M248.5 278.4h0.78M273.5 334.9h0.78M236.7 249.2h0.78M279.8 345.3h0.78M229.2 231.4h0.78M281.6 343.0h0.78M258.1 297.8h0.78M223.7 230.1h0.78M271.9 335.2h0.78M230.1 230.0h0.78M250.5 289.2h0.78M280.5 341.4h0.78M254.8 288.7h0.78M241.2 253.3h0.78M244.5 268.0h0.78M276.3 340.3h0.78M255.7 289.8h0.78M252.9 292.0h0.78M257.3 293.1h0.78M247.1 272.8h0.78M248.0 270.7h0.78M224.5 228.4h0.78M239.1 253.3h0.78M239.2 250.2h0.78M241.2 250.5h0.78M240.4 246.3h0.78" stroke="#52d3bd" stroke-width="0.78" fill="none"/>
<path d="M315.0 379.0h0.9M308.8 362.7h0.9M297.9 380.3h0.9M311.1 386.6h0.9M316.5 395.9h0.9M301.0 397.0h0.9M310.3 368.2h0.9M334.2 389.3h0.9M325.9 421.2h0.9M311.3 388.8h0.9M340.7 392.8h0.9M314.1 414.5h0.9M315.7 380.9h0.9M302.6 401.8h0.9" stroke="#52d3bd" stroke-width="0.9" fill="none"/>
<path d="M260.1 315.4h0.78M285.6 357.1h0.78M271.7 362.5h0.78M254.0 303.2h0.78M282.4 363.5h0.78M236.6 243.8h0.78M234.2 249.8h0.78M282.6 350.0h0.78M277.9 363.5h0.78M241.6 263.1h0.78M273.0 335.1h0.78M251.2 283.2h0.78M212.0 222.0h0.78M253.6 296.4h0.78M250.7 280.4h0.78M245.3 274.9h0.78M245.5 266.7h0.78M279.7 360.3h0.78M259.9 316.3h0.78M229.4 231.8h0.78M261.9 319.4h0.78M231.3 232.9h0.78M247.1 273.8h0.78M280.8 366.4h0.78M285.3 365.6h0.78M266.4 324.4h0.78M252.6 300.0h0.78M237.5 256.4h0.78M250.9 298.1h0.78M251.7 294.1h0.78M256.8 307.7h0.78M260.8 321.7h0.78M217.8 221.2h0.78M215.9 220.4h0.78M258.2 315.3h0.78M237.9 255.1h0.78M231.8 239.6h0.78M260.4 312.7h0.78M244.9 289.8h0.78M276.5 376.0h0.78M281.4 355.0h0.78M236.1 241.9h0.78M205.8 204.3h0.78M223.1 228.5h0.78M255.0 307.1h0.78M246.1 271.4h0.78M219.5 227.1h0.78M244.9 277.3h0.78M234.2 239.1h0.78M285.1 348.4h0.78M226.3 227.3h0.78M247.6 272.1h0.78M252.0 299.0h0.78M240.2 247.0h0.78M235.4 252.6h0.78M241.8 264.4h0.78M258.1 314.4h0.78M264.4 363.5h0.78M251.4 291.8h0.78M265.7 324.1h0.78M259.2 321.7h0.78M273.3 369.2h0.78M265.3 365.4h0.78M287.6 356.7h0.78M230.6 234.8h0.78M267.4 330.1h0.78M240.7 266.5h0.78M249.0 276.3h0.78M207.6 208.7h0.78M274.2 367.6h0.78M243.1 266.0h0.78M209.4 209.4h0.78M281.7 342.9h0.78M284.3 354.9h0.78M278.5 344.1h0.78M225.4 229.5h0.78M249.5 285.0h0.78M267.1 329.2h0.78M278.2 345.0h0.78M255.0 299.1h0.78M247.5 288.5h0.78M274.0 373.0h0.78M240.3 257.8h0.78M214.7 219.9h0.78M241.1 256.8h0.78M245.4 282.6h0.78M227.2 229.4h0.78M218.2 222.6h0.78M239.0 253.3h0.78M219.3 222.2h0.78M262.9 320.2h0.78M273.5 338.0h0.78M243.8 262.1h0.78M248.6 287.6h0.78M250.1 284.6h0.78M246.8 281.3h0.78M214.7 216.5h0.78M278.1 370.3h0.78M247.4 285.7h0.78M272.6 337.3h0.78M234.3 247.2h0.78M225.7 233.1h0.78M251.8 301.1h0.78M287.0 355.2h0.78M230.6 242.9h0.78M251.9 284.2h0.78M268.0 329.1h0.78M279.6 338.2h0.78M262.4 320.4h0.78M236.9 247.7h0.78M280.6 351.3h0.78M216.0 219.5h0.78M276.2 367.0h0.78M230.4 236.1h0.78M248.3 282.0h0.78M277.0 344.7h0.78M284.4 351.8h0.78M244.4 276.1h0.78M249.1 302.1h0.78M237.6 253.1h0.78M262.3 322.2h0.78M287.2 350.7h0.78M243.8 265.4h0.78M276.0 373.4h0.78M234.4 245.7h0.78M270.2 331.1h0.78M265.6 367.1h0.78M277.5 337.7h0.78M243.8 260.8h0.78M250.5 284.2h0.78M253.6 301.2h0.78M238.6 247.5h0.78M232.2 240.2h0.78M280.0 349.1h0.78M248.1 278.3h0.78M229.4 229.8h0.78M265.5 326.2h0.78M208.8 209.9h0.78M281.8 349.2h0.78M238.7 254.9h0.78M211.5 211.8h0.78M250.9 297.6h0.78M201.6 199.3h0.78M232.2 238.7h0.78M277.1 342.2h0.78M246.9 272.7h0.78M235.7 244.4h0.78M285.3 365.0h0.78M282.9 363.0h0.78M236.0 251.2h0.78M226.4 231.3h0.78M246.3 274.7h0.78M209.0 209.4h0.78M272.0 337.6h0.78M257.0 308.9h0.78M241.7 272.7h0.78M292.2 362.4h0.78M291.6 363.2h0.78M215.4 216.0h0.78M291.3 355.3h0.78M238.4 257.5h0.78M273.8 371.4h0.78M274.0 374.8h0.78M268.2 329.3h0.78M282.6 352.5h0.78M262.7 317.7h0.78M238.5 250.4h0.78M275.0 368.4h0.78M236.4 246.7h0.78M241.9 273.3h0.78M277.4 368.5h0.78M247.1 278.8h0.78M276.2 372.1h0.78M250.4 295.0h0.78M250.7 298.0h0.78M278.7 361.8h0.78M246.1 278.7h0.78M256.0 304.7h0.78M244.7 267.3h0.78M277.2 367.7h0.78M222.8 227.1h0.78M246.7 277.4h0.78M275.1 375.9h0.78M233.3 258.4h0.78M273.8 375.6h0.78M234.7 245.2h0.78M279.7 346.7h0.78M243.9 262.5h0.78M240.8 258.9h0.78M240.9 253.2h0.78M282.9 354.1h0.78M245.8 283.5h0.78M235.0 248.4h0.78M286.4 353.4h0.78M245.8 270.6h0.78M257.8 315.8h0.78M239.7 255.7h0.78M276.4 374.8h0.78M237.8 276.4h0.78M265.7 319.6h0.78M268.8 330.9h0.78M262.5 319.1h0.78M233.4 255.7h0.78M240.4 271.0h0.78M278.1 344.4h0.78M275.2 355.9h0.78M258.9 318.0h0.78M239.8 261.8h0.78M283.4 355.7h0.78M208.9 208.6h0.78M279.9 372.9h0.78M284.9 355.3h0.78M254.0 294.4h0.78M285.5 367.9h0.78M246.5 285.5h0.78M244.0 275.5h0.78M281.0 371.3h0.78M279.5 369.7h0.78M214.6 215.0h0.78M231.0 235.3h0.78M216.6 218.5h0.78M275.2 365.3h0.78M255.3 304.2h0.78M288.5 359.9h0.78M264.2 316.4h0.78M231.5 242.2h0.78M262.2 318.6h0.78M273.4 334.7h0.78M280.8 347.6h0.78M251.8 296.0h0.78M275.5 341.9h0.78M281.7 374.7h0.78M274.4 373.2h0.78M214.9 216.4h0.78M243.5 278.6h0.78M253.6 288.5h0.78M281.8 373.2h0.78M239.4 253.4h0.78M283.1 367.9h0.78M286.1 356.4h0.78M229.0 231.9h0.78M228.9 237.5h0.78M232.4 250.0h0.78M221.1 222.5h0.78M234.8 238.0h0.78M289.8 353.3h0.78M268.0 368.6h0.78M266.9 326.8h0.78M283.2 364.3h0.78M237.9 266.5h0.78M290.2 356.4h0.78M272.7 339.9h0.78M237.3 252.7h0.78M262.6 315.8h0.78M232.6 247.1h0.78M242.5 263.7h0.78M289.1 367.4h0.78M272.7 360.3h0.78M275.6 336.5h0.78M271.7 370.0h0.78M284.5 352.5h0.78M272.1 338.3h0.78M278.1 347.1h0.78M234.4 253.6h0.78M275.3 374.9h0.78M236.5 256.6h0.78M276.9 365.2h0.78M231.1 238.2h0.78M251.3 292.7h0.78M255.3 311.7h0.78M214.1 220.5h0.78M222.8 224.3h0.78M247.8 283.1h0.78M275.4 367.7h0.78M241.0 251.8h0.78M279.0 344.6h0.78M229.4 235.3h0.78M257.3 307.4h0.78M254.8 297.1h0.78M237.0 256.5h0.78M248.5 287.2h0.78M243.2 269.7h0.78M256.3 312.3h0.78M285.5 359.1h0.78M246.1 276.2h0.78M279.9 357.6h0.78M278.8 341.4h0.78M287.6 355.9h0.78M228.8 240.6h0.78M256.0 310.3h0.78M253.7 293.5h0.78M231.4 243.5h0.78M275.6 373.3h0.78M290.3 358.4h0.78M276.2 345.3h0.78M268.9 365.6h0.78M249.1 281.8h0.78M273.6 366.0h0.78M274.3 365.7h0.78M281.0 343.0h0.78M282.7 350.1h0.78M272.3 367.9h0.78M251.4 286.3h0.78M287.1 351.7h0.78M251.4 287.4h0.78M285.2 352.2h0.78M248.0 282.5h0.78M243.0 273.7h0.78M235.9 254.1h0.78M271.3 365.2h0.78M237.1 248.3h0.78M242.4 269.7h0.78M276.2 350.2h0.78M285.7 353.4h0.78M219.6 225.0h0.78M285.7 362.6h0.78M276.4 339.0h0.78M241.4 260.8h0.78M255.3 294.9h0.78M246.7 282.3h0.78M279.1 346.5h0.78M240.5 268.6h0.78M282.9 351.8h0.78M231.0 238.5h0.78M279.3 350.2h0.78M238.8 249.8h0.78M234.0 240.5h0.78M188.8 183.7h0.78M282.6 365.7h0.78M246.5 274.7h0.78M240.5 257.4h0.78M274.7 371.5h0.78M240.5 262.5h0.78M273.2 375.9h0.78M233.2 234.5h0.78M285.4 355.1h0.78M284.0 353.0h0.78M251.1 283.7h0.78M263.2 315.0h0.78M275.2 365.6h0.78M213.5 213.0h0.78M273.5 332.8h0.78M279.3 343.8h0.78M236.9 252.0h0.78M249.9 293.5h0.78M272.5 371.5h0.78M263.3 319.4h0.78M263.3 323.5h0.78M230.2 247.6h0.78M280.4 360.5h0.78M242.3 263.6h0.78M208.6 211.7h0.78M262.5 322.8h0.78M244.5 268.4h0.78M233.4 234.4h0.78M257.3 311.0h0.78M278.9 348.2h0.78M253.0 300.1h0.78M234.9 246.9h0.78M281.3 353.8h0.78M280.0 368.5h0.78M250.4 287.3h0.78M240.2 269.4h0.78M197.9 195.8h0.78M207.6 205.9h0.78M257.2 311.1h0.78M228.5 233.5h0.78M279.8 356.4h0.78M248.4 285.8h0.78M276.1 342.4h0.78M251.3 283.8h0.78M261.6 322.3h0.78M284.6 353.1h0.78M259.4 314.8h0.78M232.1 239.9h0.78M221.6 222.2h0.78M237.2 249.6h0.78M269.5 328.1h0.78M208.2 213.1h0.78M250.7 287.0h0.78M243.6 270.0h0.78M240.9 267.6h0.78M245.1 283.3h0.78M272.4 334.4h0.78M275.2 336.6h0.78M275.7 367.1h0.78M240.2 257.0h0.78M230.4 239.9h0.78M246.3 274.5h0.78M213.4 214.7h0.78M223.6 223.8h0.78M225.2 228.9h0.78M277.0 338.1h0.78M285.4 367.5h0.78M209.1 209.9h0.78M284.1 371.4h0.78M257.6 296.3h0.78M236.3 255.3h0.78M283.9 359.4h0.78M249.8 276.5h0.78M244.7 264.2h0.78M244.5 284.3h0.78M216.1 217.6h0.78M227.0 234.1h0.78M276.7 374.0h0.78M224.4 230.5h0.78M252.0 296.6h0.78M286.4 381.4h0.78M220.5 225.7h0.78M273.7 334.5h0.78M273.2 333.0h0.78M283.0 350.4h0.78M277.1 368.5h0.78M278.7 364.2h0.78M257.1 310.5h0.78M273.7 362.5h0.78M221.0 226.9h0.78M281.2 356.1h0.78M263.7 323.0h0.78M241.9 252.8h0.78M227.5 232.3h0.78M187.8 182.5h0.78M273.1 374.4h0.78M246.8 268.3h0.78M260.0 315.4h0.78M274.4 336.2h0.78M250.3 289.7h0.78M253.4 303.3h0.78M277.9 364.9h0.78M232.8 243.0h0.78M285.2 355.1h0.78M229.5 233.3h0.78M247.9 282.1h0.78M286.9 355.0h0.78M254.6 295.1h0.78M229.0 231.3h0.78M233.9 244.2h0.78M278.6 364.9h0.78M255.2 296.4h0.78M256.2 306.1h0.78M249.7 289.7h0.78M234.7 254.5h0.78M271.5 335.4h0.78M250.0 290.4h0.78M237.1 240.3h0.78M279.3 343.4h0.78M218.2 219.5h0.78M256.1 306.7h0.78M254.3 294.5h0.78M246.7 292.6h0.78M279.7 340.1h0.78M232.2 237.8h0.78M283.1 361.8h0.78M253.0 295.3h0.78M239.5 248.2h0.78M239.1 253.6h0.78M248.8 282.7h0.78M238.1 242.5h0.78M254.3 298.3h0.78M276.1 375.0h0.78M281.4 351.3h0.78M286.5 350.0h0.78M278.3 362.9h0.78M255.2 304.3h0.78M244.7 262.6h0.78M243.0 275.5h0.78M272.1 334.2h0.78M212.7 215.0h0.78M286.1 350.5h0.78M275.3 374.2h0.78M266.6 325.5h0.78M226.4 231.5h0.78M280.0 350.3h0.78M284.2 349.4h0.78M234.1 242.6h0.78M248.2 278.4h0.78M270.3 365.9h0.78M279.2 344.0h0.78M282.9 348.3h0.78M266.2 366.4h0.78M238.4 256.7h0.78" stroke="#59e2a2" stroke-width="0.78" fill="none"/>
<path d="M321.1 389.3h0.9M304.6 402.4h0.9M326.9 386.2h0.9M292.2 395.9h0.9M323.2 376.8h0.9M301.8 354.2h0.9M308.8 365.6h0.9" stroke="#59e2a2" stroke-width="0.9" fill="none"/>
<path d="M271.2 365.4h0.78M286.5 363.1h0.78M270.0 363.6h0.78M218.1 230.7h0.78M219.7 228.1h0.78M277.2 367.4h0.78M208.6 216.3h0.78M283.9 358.1h0.78M278.2 343.0h0.78M211.4 215.4h0.78M231.2 241.7h0.78M275.3 352.3h0.78M226.3 231.7h0.78M232.2 249.3h0.78M212.7 218.4h0.78M276.5 365.8h0.78M248.4 296.0h0.78M243.5 271.9h0.78M246.0 271.1h0.78M232.3 252.6h0.78M244.0 270.7h0.78M280.7 365.5h0.78M275.9 362.7h0.78M276.0 341.0h0.78M223.8 230.2h0.78M257.9 314.4h0.78M276.2 373.7h0.78M235.1 254.1h0.78M252.5 301.0h0.78M232.7 251.2h0.78M256.2 309.3h0.78M239.4 264.9h0.78M264.9 327.7h0.78M277.1 351.6h0.78M273.5 346.6h0.78M184.5 180.5h0.78M237.2 265.4h0.78M269.4 338.2h0.78M243.1 280.2h0.78M253.9 301.5h0.78M269.5 362.4h0.78M257.9 313.2h0.78M226.5 246.3h0.78M267.6 362.8h0.78M251.0 306.0h0.78M232.0 253.4h0.78M190.0 186.1h0.78M229.2 246.5h0.78M250.7 303.9h0.78M234.4 250.0h0.78M232.6 253.0h0.78M249.0 285.1h0.78M269.2 331.9h0.78M239.8 284.3h0.78M218.5 226.5h0.78M247.8 288.4h0.78M210.9 215.5h0.78M261.5 359.9h0.78M280.7 360.6h0.78M235.2 251.6h0.78M224.8 230.2h0.78M275.5 357.8h0.78M277.9 346.5h0.78M242.5 283.3h0.78M212.8 215.0h0.78M275.3 344.2h0.78M281.0 348.0h0.78M259.5 321.0h0.78M193.4 189.1h0.78M234.9 263.3h0.78M275.2 360.6h0.78M224.0 244.3h0.78M242.4 271.1h0.78M188.3 186.6h0.78M198.2 194.2h0.78M238.9 272.7h0.78M239.9 264.6h0.78M263.3 323.3h0.78M261.4 322.9h0.78M222.6 234.8h0.78M251.5 305.3h0.78M238.9 262.7h0.78M237.2 262.9h0.78M271.2 367.5h0.78M236.3 260.1h0.78M231.1 241.1h0.78M221.1 232.2h0.78M279.7 352.0h0.78M275.8 366.7h0.78M223.0 226.5h0.78M265.5 366.0h0.78M224.1 231.2h0.78M278.0 368.8h0.78M224.2 227.9h0.78M225.1 239.6h0.78M225.3 243.6h0.78M261.3 324.9h0.78M277.4 372.5h0.78M211.6 216.3h0.78M249.9 290.6h0.78M280.0 368.8h0.78M224.6 230.9h0.78M197.9 198.2h0.78M247.1 296.1h0.78M275.4 368.6h0.78M251.6 300.8h0.78M249.4 293.3h0.78M206.0 212.2h0.78M230.4 253.8h0.78M276.0 369.1h0.78M280.5 360.4h0.78M224.0 235.9h0.78M265.1 365.8h0.78M274.3 359.2h0.78M257.0 320.4h0.78M231.5 270.7h0.78M233.3 239.2h0.78M267.1 361.2h0.78M264.8 329.8h0.78M235.8 260.3h0.78M251.0 287.5h0.78M244.8 298.9h0.78M264.8 327.5h0.78M282.0 347.7h0.78M246.9 295.8h0.78M254.4 311.0h0.78M206.1 208.8h0.78M241.4 278.7h0.78M277.7 351.3h0.78M230.5 250.4h0.78M245.9 282.0h0.78M244.2 277.2h0.78M275.9 351.7h0.78M282.2 359.2h0.78M258.5 313.6h0.78M199.8 199.6h0.78M279.9 359.9h0.78M281.4 351.6h0.78M254.3 316.7h0.78M207.8 211.9h0.78M248.1 286.8h0.78M276.6 348.8h0.78M185.2 179.8h0.78M198.6 203.7h0.78M251.3 306.4h0.78M276.3 358.2h0.78M215.5 221.8h0.78M224.2 245.4h0.78M253.7 311.5h0.78M220.1 243.1h0.78M279.1 346.4h0.78M266.8 367.5h0.78M264.2 365.0h0.78M249.8 304.4h0.78M257.3 310.1h0.78M251.7 307.2h0.78M248.0 283.8h0.78M234.7 252.5h0.78M198.4 199.3h0.78M277.4 345.5h0.78M230.7 241.3h0.78M224.8 232.2h0.78M230.0 240.8h0.78M246.7 281.1h0.78M206.1 205.2h0.78M267.2 368.9h0.78M274.8 363.6h0.78M196.3 192.4h0.78M222.7 229.1h0.78M276.5 344.1h0.78M185.1 180.6h0.78M184.3 184.2h0.78M257.0 315.9h0.78M231.5 240.5h0.78M267.4 327.6h0.78M227.8 232.4h0.78M252.9 298.9h0.78M236.6 258.7h0.78M242.7 275.3h0.78M259.1 314.7h0.78M243.8 286.7h0.78M234.3 252.2h0.78M242.4 285.9h0.78M218.0 225.7h0.78M218.6 223.7h0.78M230.1 242.4h0.78M261.6 325.9h0.78M280.9 354.5h0.78M272.9 339.1h0.78M268.9 364.4h0.78M225.4 233.2h0.78M225.8 231.5h0.78M275.4 338.0h0.78M204.8 208.3h0.78M263.1 325.4h0.78M259.5 313.0h0.78M275.0 362.4h0.78M282.8 354.3h0.78M276.2 361.9h0.78M232.4 251.8h0.78M240.0 274.6h0.78M231.3 251.2h0.78M237.0 260.5h0.78M153.2 142.1h0.78M230.6 250.7h0.78M218.8 228.5h0.78M186.5 189.8h0.78M224.3 243.7h0.78M242.0 267.9h0.78M266.1 356.9h0.78M283.7 362.1h0.78M206.2 207.3h0.78M254.3 308.7h0.78M216.8 229.0h0.78M242.8 275.8h0.78M253.9 302.7h0.78M239.6 273.9h0.78M263.2 325.3h0.78M233.5 250.5h0.78M227.9 249.8h0.78M277.3 353.2h0.78M235.6 259.3h0.78M279.9 345.2h0.78M232.4 247.5h0.78M257.1 318.5h0.78M212.7 215.9h0.78M237.7 261.6h0.78M287.5 363.3h0.78M232.5 249.2h0.78M242.9 280.9h0.78M224.2 238.9h0.78M236.7 264.9h0.78M268.7 353.5h0.78M238.6 257.2h0.78M284.2 358.9h0.78M227.5 237.8h0.78M224.9 243.5h0.78M252.2 295.9h0.78M258.1 312.7h0.78M232.7 252.1h0.78M273.6 368.3h0.78M225.4 235.4h0.78M277.0 344.2h0.78M232.3 251.5h0.78M265.4 329.1h0.78M197.2 195.4h0.78M243.9 297.7h0.78M265.0 360.4h0.78M229.3 236.4h0.78M276.2 372.8h0.78M273.8 349.2h0.78M218.2 233.3h0.78M246.1 284.1h0.78M259.0 322.0h0.78M197.3 193.9h0.78M276.5 364.9h0.78M170.6 164.4h0.78M263.3 321.7h0.78M278.4 347.8h0.78M198.0 193.6h0.78M275.7 338.7h0.78M231.7 246.4h0.78M242.8 286.3h0.78M201.5 202.4h0.78M252.6 304.5h0.78M236.6 268.4h0.78M235.8 253.5h0.78M214.9 223.5h0.78M204.5 204.9h0.78M195.2 193.5h0.78M221.8 234.0h0.78M204.9 206.7h0.78M247.1 289.1h0.78M276.9 369.7h0.78M280.8 356.7h0.78M251.3 304.7h0.78M239.7 267.3h0.78M275.9 364.0h0.78M245.0 282.2h0.78M209.9 217.2h0.78M266.4 353.2h0.78M278.3 363.0h0.78M245.9 282.5h0.78M240.6 269.7h0.78M242.6 257.8h0.78M257.2 319.2h0.78M216.8 224.4h0.78M271.6 356.5h0.78M278.4 349.3h0.78M179.7 175.0h0.78M232.5 251.0h0.78M277.9 358.7h0.78M249.9 300.4h0.78M235.7 256.2h0.78M234.9 254.1h0.78M242.2 285.0h0.78M272.8 338.5h0.78M280.8 366.1h0.78M268.7 332.6h0.78M252.1 295.4h0.78M224.5 242.1h0.78M275.9 350.6h0.78M263.5 327.0h0.78M244.8 291.4h0.78M269.8 364.2h0.78M209.7 210.6h0.78M222.4 229.4h0.78M265.1 359.4h0.78M246.4 298.4h0.78M264.0 325.9h0.78M188.4 186.1h0.78M276.1 346.1h0.78M273.0 371.1h0.78M277.4 351.6h0.78M267.5 332.2h0.78M226.0 238.7h0.78M233.2 238.2h0.78M203.7 205.5h0.78M271.9 362.9h0.78M279.8 349.9h0.78M286.1 354.8h0.78M253.8 307.8h0.78M242.7 279.6h0.78M243.9 286.4h0.78M159.2 148.9h0.78M183.1 177.3h0.78M248.8 289.5h0.78M278.0 363.3h0.78M269.4 336.3h0.78M264.9 363.3h0.78M227.3 236.8h0.78M271.6 337.4h0.78M273.7 360.5h0.78M256.7 316.3h0.78M227.0 246.2h0.78M230.7 244.5h0.78M249.0 295.2h0.78M248.5 301.4h0.78M253.6 308.1h0.78M249.9 297.8h0.78M232.0 234.4h0.78M255.1 309.7h0.78M174.6 169.3h0.78M234.6 276.5h0.78M218.6 230.3h0.78M264.4 325.2h0.78M271.7 352.9h0.78M213.4 223.1h0.78M239.2 281.9h0.78M264.1 322.7h0.78M250.9 304.8h0.78M199.5 202.9h0.78M263.2 326.2h0.78M261.4 324.0h0.78M249.8 292.3h0.78M246.1 297.8h0.78M222.1 228.5h0.78M196.9 193.7h0.78M230.4 235.7h0.78M235.0 248.2h0.78M276.0 360.8h0.78M238.5 264.2h0.78M219.5 226.2h0.78M175.6 171.3h0.78M266.1 363.5h0.78M184.4 181.9h0.78M229.3 236.4h0.78M269.3 367.1h0.78M234.0 255.1h0.78M241.2 280.2h0.78M244.2 285.7h0.78M254.9 315.0h0.78M201.2 198.9h0.78M266.9 359.8h0.78M235.4 263.6h0.78M245.2 277.6h0.78M234.7 253.1h0.78M262.8 324.3h0.78M256.7 312.9h0.78M266.6 329.4h0.78M240.9 286.6h0.78M266.4 331.4h0.78M239.6 272.5h0.78M183.4 181.2h0.78M243.1 265.8h0.78M218.5 223.9h0.78M233.1 240.9h0.78M247.2 290.2h0.78M254.4 306.6h0.78M273.1 341.0h0.78M231.7 260.6h0.78M275.0 360.5h0.78M202.9 201.5h0.78M271.8 364.5h0.78M214.7 220.0h0.78M275.0 356.9h0.78M195.9 191.3h0.78M238.5 256.3h0.78M236.0 257.6h0.78M275.7 357.7h0.78M254.8 309.1h0.78M278.1 360.8h0.78M280.4 352.9h0.78M256.4 307.1h0.78M207.1 206.9h0.78M238.2 268.4h0.78M241.6 266.3h0.78M228.9 244.0h0.78M220.3 231.5h0.78M230.4 238.7h0.78M269.3 367.7h0.78M239.4 263.0h0.78M234.6 262.2h0.78M196.2 194.4h0.78M266.3 367.8h0.78M188.4 184.5h0.78M236.1 262.7h0.78M228.3 237.3h0.78M260.5 356.8h0.78M254.7 315.2h0.78M241.7 270.7h0.78M233.0 251.4h0.78M253.0 304.6h0.78M251.5 306.9h0.78M250.5 295.1h0.78M203.2 212.8h0.78M197.5 194.7h0.78M238.8 268.9h0.78M179.7 174.4h0.78M275.2 357.6h0.78M275.8 350.8h0.78M280.4 353.3h0.78M275.2 349.0h0.78M241.9 265.0h0.78M281.5 354.5h0.78M266.0 327.9h0.78M242.4 261.7h0.78M248.6 296.6h0.78M210.8 220.9h0.78M277.8 367.0h0.78M232.1 264.7h0.78M192.1 187.3h0.78M273.8 343.3h0.78M267.5 360.0h0.78M225.8 240.4h0.78M268.4 351.6h0.78M212.5 215.5h0.78M249.8 295.4h0.78M267.5 327.8h0.78M232.3 256.8h0.78M264.5 328.9h0.78M246.8 287.3h0.78M249.6 300.5h0.78M263.9 325.8h0.78M244.5 268.0h0.78M250.7 288.7h0.78M237.6 259.2h0.78M276.4 364.2h0.78M246.8 296.6h0.78M217.4 229.3h0.78M254.2 310.2h0.78M217.0 218.4h0.78M280.4 350.5h0.78M275.0 348.1h0.78M282.7 355.2h0.78M273.6 366.2h0.78M269.4 366.1h0.78M280.0 349.3h0.78M281.3 353.6h0.78M271.8 366.1h0.78M193.8 190.8h0.78M199.6 198.0h0.78M233.0 266.7h0.78M211.0 215.4h0.78M276.4 343.4h0.78M256.5 309.8h0.78M241.8 280.5h0.78M204.7 208.5h0.78M238.5 283.5h0.78M269.6 363.9h0.78M246.4 287.1h0.78M249.7 302.3h0.78M272.7 338.3h0.78M210.0 212.7h0.78M260.9 328.5h0.78M234.2 248.3h0.78M186.8 181.3h0.78M210.2 210.7h0.78M279.6 367.3h0.78M266.1 367.8h0.78M246.8 297.0h0.78M275.1 360.8h0.78M264.4 362.5h0.78M207.3 220.8h0.78M269.4 334.5h0.78M210.3 213.2h0.78M248.8 304.4h0.78M199.3 206.4h0.78M222.6 240.6h0.78M258.5 311.4h0.78M261.1 316.3h0.78M245.8 301.9h0.78M222.9 229.3h0.78M184.4 181.8h0.78M238.2 263.1h0.78M228.8 241.4h0.78M243.5 267.0h0.78M252.3 304.1h0.78M232.1 246.9h0.78M243.2 275.1h0.78M253.7 303.2h0.78M237.2 259.1h0.78M273.5 365.2h0.78M267.3 367.2h0.78M239.7 267.4h0.78M269.7 363.2h0.78M236.7 266.2h0.78M270.6 334.1h0.78M253.1 309.8h0.78M280.6 360.5h0.78M263.8 352.6h0.78M248.0 289.2h0.78M227.5 239.4h0.78M208.4 211.2h0.78M210.3 215.1h0.78M270.2 370.4h0.78M223.1 229.9h0.78M276.2 356.0h0.78M272.4 375.2h0.78M270.4 365.7h0.78M223.5 224.8h0.78M203.5 201.3h0.78M251.1 306.5h0.78M233.2 247.3h0.78M281.7 351.0h0.78M284.2 366.1h0.78M244.6 269.1h0.78M247.0 285.9h0.78M247.6 288.7h0.78M239.9 266.2h0.78M233.4 251.8h0.78M256.4 312.1h0.78M219.2 226.2h0.78M207.6 209.3h0.78M269.9 367.6h0.78M182.3 177.7h0.78M188.5 186.9h0.78M272.5 362.8h0.78M244.3 280.9h0.78M247.7 295.3h0.78M268.4 354.2h0.78M216.3 223.7h0.78M283.0 361.1h0.78M278.7 354.4h0.78M271.8 360.5h0.78M230.3 240.9h0.78M248.7 289.9h0.78M267.6 363.2h0.78M250.1 301.8h0.78M238.8 275.1h0.78M212.1 216.8h0.78M279.0 347.1h0.78M225.7 233.1h0.78M248.4 290.8h0.78M250.9 300.7h0.78M237.6 257.3h0.78M277.8 351.3h0.78M206.4 210.3h0.78M209.2 218.4h0.78M216.2 217.0h0.78M207.9 213.6h0.78M279.0 343.4h0.78M279.9 349.2h0.78M184.3 180.0h0.78M247.1 290.2h0.78M226.6 256.6h0.78M272.5 363.8h0.78M251.9 295.3h0.78M264.7 329.7h0.78M195.9 202.4h0.78M242.9 285.8h0.78M219.5 228.4h0.78M274.6 348.7h0.78M224.8 234.5h0.78M220.8 227.3h0.78M239.5 261.8h0.78M214.6 222.8h0.78M273.3 353.8h0.78M212.0 216.0h0.78M281.5 368.4h0.78M261.3 325.3h0.78M244.7 282.2h0.78M241.7 266.5h0.78M279.0 350.3h0.78M207.7 213.6h0.78M280.6 348.2h0.78M225.9 248.0h0.78M241.5 269.1h0.78M250.5 302.2h0.78M277.7 352.0h0.78M283.5 370.8h0.78M251.4 299.7h0.78M258.6 316.8h0.78M259.4 316.4h0.78M240.6 268.4h0.78M252.0 304.4h0.78M268.0 363.7h0.78M280.3 367.8h0.78M246.2 289.6h0.78M198.6 197.1h0.78M282.9 356.0h0.78M276.9 345.9h0.78M267.3 332.0h0.78M208.2 207.8h0.78M272.0 351.9h0.78M240.5 267.4h0.78M273.7 364.5h0.78M277.6 352.8h0.78M281.5 359.5h0.78M199.3 198.9h0.78M237.7 257.1h0.78M209.5 211.3h0.78M228.0 248.9h0.78M250.5 292.7h0.78M265.5 334.0h0.78" stroke="#6eeb7f" stroke-width="0.78" fill="none"/>
<path d="M296.5 355.9h0.9M293.5 383.5h0.9M296.0 355.3h0.9M326.4 388.7h0.9M332.9 399.2h0.9M306.6 376.2h0.9M290.3 381.4h0.9" stroke="#6eeb7f" stroke-width="0.9" fill="none"/>
<path d="M166.8 159.6h0.78M264.9 351.3h0.78M155.0 145.3h0.78M223.6 243.2h0.78M267.7 343.4h0.78M276.9 354.7h0.78M227.0 236.3h0.78M267.6 356.8h0.78M241.9 283.1h0.78M223.0 242.7h0.78M279.0 344.5h0.78M233.7 269.6h0.78M248.9 299.6h0.78M230.9 241.2h0.78M182.4 181.5h0.78M263.4 333.4h0.78M264.9 330.1h0.78M261.3 362.1h0.78M194.2 195.6h0.78M198.6 200.9h0.78M143.3 131.9h0.78M214.1 220.7h0.78M218.0 229.8h0.78M166.3 157.1h0.78M207.7 213.6h0.78M255.3 318.6h0.78M260.0 356.3h0.78M269.6 335.9h0.78M237.4 267.6h0.78M268.8 356.2h0.78M214.0 230.6h0.78M191.8 195.3h0.78M216.0 229.0h0.78M271.9 349.5h0.78M178.7 176.5h0.78M206.6 214.5h0.78M261.9 361.1h0.78M256.1 318.4h0.78M178.7 179.9h0.78M172.9 165.6h0.78M225.5 255.7h0.78M247.9 290.6h0.78M269.4 347.5h0.78M213.4 229.5h0.78M248.2 291.0h0.78M263.3 361.4h0.78M267.8 337.8h0.78M265.3 367.3h0.78M240.2 284.5h0.78M225.4 234.0h0.78M204.9 210.5h0.78M229.0 252.7h0.78M260.5 328.1h0.78M261.7 356.1h0.78M245.3 289.9h0.78M242.1 297.7h0.78M268.3 345.6h0.78M275.2 338.8h0.78M263.5 363.7h0.78M273.4 343.7h0.78M277.2 351.8h0.78M186.5 188.7h0.78M185.6 182.1h0.78M200.1 203.4h0.78M278.6 360.1h0.78M252.9 309.2h0.78M249.8 312.2h0.78M275.9 352.9h0.78M234.4 263.5h0.78M162.5 157.2h0.78M264.4 326.6h0.78M207.8 216.0h0.78M226.0 252.2h0.78M247.6 287.9h0.78M264.7 363.0h0.78M211.2 219.6h0.78M248.6 298.5h0.78M225.6 235.6h0.78M266.6 363.5h0.78M266.5 361.7h0.78M204.8 209.7h0.78M240.2 291.1h0.78M227.4 254.9h0.78M276.0 348.8h0.78M154.6 147.4h0.78M253.4 310.5h0.78M226.4 245.0h0.78M273.7 360.2h0.78M269.8 337.3h0.78M178.5 177.4h0.78M204.5 218.6h0.78M245.2 292.4h0.78M182.0 176.1h0.78M259.5 319.5h0.78M209.5 215.0h0.78M189.4 193.5h0.78M257.3 355.1h0.78M167.0 159.3h0.78M181.1 177.7h0.78M246.0 297.3h0.78M231.8 276.6h0.78M216.5 230.4h0.78M171.1 166.3h0.78M230.4 255.7h0.78M174.9 169.9h0.78M230.1 244.2h0.78M257.4 355.0h0.78M187.0 185.7h0.78M269.3 356.1h0.78M259.7 323.0h0.78M274.6 350.5h0.78M239.0 264.9h0.78M251.9 314.7h0.78M243.5 302.7h0.78M236.7 287.3h0.78M269.8 335.8h0.78M192.5 189.0h0.78M275.1 366.3h0.78M168.6 165.5h0.78M257.3 353.4h0.78M142.6 136.0h0.78M229.9 285.5h0.78M204.4 216.1h0.78M248.3 295.4h0.78M263.7 359.3h0.78M249.8 311.7h0.78M277.7 345.6h0.78M268.3 351.7h0.78M175.8 173.1h0.78M194.9 198.4h0.78M255.2 319.3h0.78M260.7 348.6h0.78M251.6 314.7h0.78M194.4 192.9h0.78M245.2 287.4h0.78M203.7 210.3h0.78M189.2 187.4h0.78M230.7 252.5h0.78M206.4 213.8h0.78M271.8 368.8h0.78M195.6 200.6h0.78M203.9 206.6h0.78M225.5 237.7h0.78M273.1 349.6h0.78M261.4 357.9h0.78M197.4 198.8h0.78M239.8 265.8h0.78M264.5 354.3h0.78M242.0 280.6h0.78M248.8 299.8h0.78M264.9 359.8h0.78M208.4 216.7h0.78M224.1 247.1h0.78M231.8 263.1h0.78M270.4 362.0h0.78M247.5 309.4h0.78M243.1 297.0h0.78M243.6 265.8h0.78M221.0 239.8h0.78M266.1 360.6h0.78M267.6 353.7h0.78M259.0 326.3h0.78M231.0 242.2h0.78M274.0 356.1h0.78M236.3 271.6h0.78M205.2 218.5h0.78M190.2 189.7h0.78M236.4 269.2h0.78M239.2 294.3h0.78M242.0 284.4h0.78M236.1 276.9h0.78M170.7 163.1h0.78M227.8 244.4h0.78M166.0 157.3h0.78M195.9 195.9h0.78M245.6 284.5h0.78M273.5 344.1h0.78M216.5 223.7h0.78M272.9 357.8h0.78M268.1 335.5h0.78M203.3 206.9h0.78M239.9 276.0h0.78M251.1 317.4h0.78M269.7 343.3h0.78M233.2 260.3h0.78M239.5 283.3h0.78M212.2 218.3h0.78M210.0 219.0h0.78M224.9 233.0h0.78M270.3 356.2h0.78M147.1 136.3h0.78M180.2 177.0h0.78M267.6 335.0h0.78M194.2 205.5h0.78M260.9 325.3h0.78M254.0 313.7h0.78M262.6 362.8h0.78M191.1 194.0h0.78M278.9 359.5h0.78M266.7 355.1h0.78M273.0 347.1h0.78M234.9 260.4h0.78M242.7 280.6h0.78M275.7 362.6h0.78M233.8 260.4h0.78M228.0 248.7h0.78M267.1 355.3h0.78M220.6 234.9h0.78M277.3 350.5h0.78M274.5 346.3h0.78M238.6 275.4h0.78M252.0 309.6h0.78M267.7 332.5h0.78M241.6 272.4h0.78M267.2 356.3h0.78M265.4 355.7h0.78M268.4 358.6h0.78M137.4 125.0h0.78M268.2 352.0h0.78M270.8 367.2h0.78M249.7 311.3h0.78M199.1 198.4h0.78M221.9 232.2h0.78M252.5 305.3h0.78M239.8 290.6h0.78M241.0 284.7h0.78M230.9 259.1h0.78M224.9 233.1h0.78M238.2 284.5h0.78M225.5 249.1h0.78M263.1 354.5h0.78M149.5 140.8h0.78M232.9 257.8h0.78M220.3 237.5h0.78M260.4 326.8h0.78M267.5 347.1h0.78M267.5 360.5h0.78M185.5 189.6h0.78M225.9 249.7h0.78M279.3 358.6h0.78M271.8 358.5h0.78M221.7 238.4h0.78M236.4 277.5h0.78M224.3 232.4h0.78M212.2 237.6h0.78M199.8 207.9h0.78M205.3 204.3h0.78M228.5 247.2h0.78M253.0 322.5h0.78M263.6 331.7h0.78M247.8 304.4h0.78M233.6 255.8h0.78M237.7 251.4h0.78M273.0 345.4h0.78M188.5 185.7h0.78M223.7 239.1h0.78M248.9 292.4h0.78M234.1 266.1h0.78M187.0 187.6h0.78M244.2 297.3h0.78M240.5 287.9h0.78M214.4 222.5h0.78M235.7 254.5h0.78M216.1 220.9h0.78M193.9 194.4h0.78M235.6 280.9h0.78M227.5 269.7h0.78M251.9 301.0h0.78M243.2 292.9h0.78M197.8 205.2h0.78M230.0 240.5h0.78M236.7 279.3h0.78M239.9 287.7h0.78M247.0 295.6h0.78M267.1 360.3h0.78M243.3 284.3h0.78M244.1 299.5h0.78M253.2 310.9h0.78M229.1 253.2h0.78M185.7 180.5h0.78M240.6 287.5h0.78M263.9 336.4h0.78M149.6 139.3h0.78M196.4 195.9h0.78M240.5 283.3h0.78M269.6 365.9h0.78M218.1 231.4h0.78M268.9 338.5h0.78M244.1 282.9h0.78M228.1 256.6h0.78M235.5 266.4h0.78M222.2 247.2h0.78M271.9 356.8h0.78M188.9 188.5h0.78M193.1 199.5h0.78M242.2 277.5h0.78M276.7 349.1h0.78M274.4 360.9h0.78M212.9 229.4h0.78M205.5 205.4h0.78M231.4 253.2h0.78M266.8 331.2h0.78M263.6 363.2h0.78M201.7 204.0h0.78M259.0 349.2h0.78M188.5 185.4h0.78M236.8 263.7h0.78M246.1 288.0h0.78M230.3 250.2h0.78M238.1 289.7h0.78M262.5 322.5h0.78M270.1 350.8h0.78M235.4 255.5h0.78M154.3 143.7h0.78M237.3 277.0h0.78M157.4 147.4h0.78M247.8 302.6h0.78M248.6 311.7h0.78M259.0 325.3h0.78M227.8 269.0h0.78M232.4 257.1h0.78M258.9 357.9h0.78M248.4 304.0h0.78M231.8 254.2h0.78M232.6 256.0h0.78M194.5 195.0h0.78M215.7 234.9h0.78M191.1 198.2h0.78M228.9 267.6h0.78M184.9 184.3h0.78M192.8 192.5h0.78M253.3 315.1h0.78M232.1 265.4h0.78M207.5 217.1h0.78M274.0 353.9h0.78M238.0 266.7h0.78M243.5 301.2h0.78M174.1 168.1h0.78M271.8 340.7h0.78M236.6 268.5h0.78M262.6 359.9h0.78M279.3 347.0h0.78M272.9 346.1h0.78M241.3 282.2h0.78M218.8 231.8h0.78M272.4 342.6h0.78M261.6 363.3h0.78M240.5 281.2h0.78M205.5 215.5h0.78M205.7 215.9h0.78M263.4 357.2h0.78M269.3 334.7h0.78M206.6 217.2h0.78M207.9 218.6h0.78M269.9 354.8h0.78M226.3 239.0h0.78M172.3 170.6h0.78M259.5 330.6h0.78M263.3 323.8h0.78M278.0 348.9h0.78M124.0 109.3h0.78M226.3 270.3h0.78M275.6 342.5h0.78M211.0 222.5h0.78M258.4 317.8h0.78M244.0 299.2h0.78M193.4 189.3h0.78M240.5 292.5h0.78M167.8 163.1h0.78M269.5 354.1h0.78M241.8 283.6h0.78M230.7 266.9h0.78M203.0 212.5h0.78M192.3 187.7h0.78M234.7 274.4h0.78M265.4 331.0h0.78M220.6 238.3h0.78M272.7 339.7h0.78M214.2 218.6h0.78M245.8 297.6h0.78M190.7 190.7h0.78M208.2 214.9h0.78M237.4 261.3h0.78M230.1 248.3h0.78M261.4 358.7h0.78M255.0 312.9h0.78M243.8 284.9h0.78M220.4 226.4h0.78M231.9 253.6h0.78M209.5 222.2h0.78M251.3 308.1h0.78M268.4 341.3h0.78M241.0 273.6h0.78M189.1 188.3h0.78M237.4 279.9h0.78M201.2 197.8h0.78M269.0 343.2h0.78M161.8 157.9h0.78M167.6 160.3h0.78M244.1 295.3h0.78M228.1 252.3h0.78M236.4 290.0h0.78M230.4 264.7h0.78M272.5 339.5h0.78M226.7 249.9h0.78M206.4 213.9h0.78M263.9 340.3h0.78M254.6 316.8h0.78M167.2 161.3h0.78M196.6 197.7h0.78M268.8 361.5h0.78M220.0 228.5h0.78M161.8 153.9h0.78M243.1 283.2h0.78M267.4 367.3h0.78M257.4 320.7h0.78M202.7 201.7h0.78M156.6 149.8h0.78M263.3 362.5h0.78M235.3 266.8h0.78M266.8 351.2h0.78M207.4 213.0h0.78M261.5 323.9h0.78M274.1 353.9h0.78M207.7 216.2h0.78M209.8 218.5h0.78M174.5 168.3h0.78M239.6 282.4h0.78M179.4 181.1h0.78M183.6 178.8h0.78M274.9 361.3h0.78M174.8 174.4h0.78M265.6 358.4h0.78M265.8 360.6h0.78M252.3 305.8h0.78M218.5 222.2h0.78M229.9 260.0h0.78M243.6 288.1h0.78M239.1 281.7h0.78M250.7 313.8h0.78M206.8 206.2h0.78M173.3 172.9h0.78M260.3 357.9h0.78M277.0 358.0h0.78M261.7 362.7h0.78M190.9 199.8h0.78M195.9 199.6h0.78M196.3 202.1h0.78M261.0 324.4h0.78M229.0 243.0h0.78M209.0 208.7h0.78M145.5 134.8h0.78M266.4 360.9h0.78M248.4 302.2h0.78M148.7 139.9h0.78M276.0 347.1h0.78M247.8 292.7h0.78M228.2 248.6h0.78M184.3 184.1h0.78M191.9 188.7h0.78M228.0 260.9h0.78M271.3 357.0h0.78M201.0 206.1h0.78M229.6 267.6h0.78M165.9 162.5h0.78M159.5 151.4h0.78M269.6 336.2h0.78M167.8 164.0h0.78M215.2 233.2h0.78M255.2 321.7h0.78M198.7 204.0h0.78M273.6 349.7h0.78M250.2 309.2h0.78M253.7 310.7h0.78M179.6 175.2h0.78M246.9 292.3h0.78M271.3 344.1h0.78M182.2 180.6h0.78M271.5 357.0h0.78M231.0 257.8h0.78M249.8 300.9h0.78M243.1 299.6h0.78M247.6 299.2h0.78M232.7 261.6h0.78M210.9 221.9h0.78M261.7 329.7h0.78M247.0 305.0h0.78M268.1 337.8h0.78M227.4 248.9h0.78M194.6 201.1h0.78M233.5 271.1h0.78M197.9 198.0h0.78M268.2 364.3h0.78M265.0 365.1h0.78M226.9 246.6h0.78M271.8 342.9h0.78M222.0 229.2h0.78M274.6 347.8h0.78M226.0 239.3h0.78M238.6 276.5h0.78M215.5 225.3h0.78M228.6 257.3h0.78M262.2 335.5h0.78M270.1 336.7h0.78M226.2 244.8h0.78M233.4 274.4h0.78M191.9 199.3h0.78M191.7 187.2h0.78M176.0 171.4h0.78M266.1 365.8h0.78M205.0 214.2h0.78M198.2 204.1h0.78M275.8 358.2h0.78M211.7 218.5h0.78M255.4 311.6h0.78M237.0 260.7h0.78M255.0 311.8h0.78M227.3 251.0h0.78M211.7 225.0h0.78M258.3 332.2h0.78M265.1 333.8h0.78M275.1 346.8h0.78M263.5 329.9h0.78M234.8 261.0h0.78M245.6 282.7h0.78M211.5 218.8h0.78M228.7 261.2h0.78M271.7 350.9h0.78M247.9 303.4h0.78M232.9 258.7h0.78M223.4 242.5h0.78M221.9 257.8h0.78M199.7 195.6h0.78M249.5 296.6h0.78M253.1 301.4h0.78M204.8 217.6h0.78M228.7 264.3h0.78M234.9 264.3h0.78M197.6 200.7h0.78M204.5 215.8h0.78M243.7 297.5h0.78M240.0 277.9h0.78M230.7 270.7h0.78M234.8 261.3h0.78M170.9 165.3h0.78M238.5 267.4h0.78M236.9 278.3h0.78M213.8 220.1h0.78M229.7 253.0h0.78M183.5 179.8h0.78M238.6 266.9h0.78M190.8 185.6h0.78M279.5 358.1h0.78M271.8 336.6h0.78M223.9 244.5h0.78M166.5 166.9h0.78M205.9 214.7h0.78M175.8 171.2h0.78M205.8 213.2h0.78M224.9 245.8h0.78M266.8 351.6h0.78M244.2 307.7h0.78M239.2 283.3h0.78M193.6 193.2h0.78M234.5 269.3h0.78M272.1 359.9h0.78M239.7 272.8h0.78M270.4 349.0h0.78M212.1 221.4h0.78M181.2 180.1h0.78M177.4 175.7h0.78M205.9 213.2h0.78M277.2 353.7h0.78M238.2 264.6h0.78M257.4 356.7h0.78M276.2 352.7h0.78M243.8 290.7h0.78M163.8 157.5h0.78M226.9 257.5h0.78M265.6 354.1h0.78M241.9 287.4h0.78M215.8 224.5h0.78M221.9 231.6h0.78M199.1 198.2h0.78M229.1 263.1h0.78M263.4 327.2h0.78M270.0 341.5h0.78M268.9 358.5h0.78M271.8 356.9h0.78M270.1 341.6h0.78M149.2 139.4h0.78M247.0 309.4h0.78M275.8 356.1h0.78M255.8 323.7h0.78M269.7 336.7h0.78M265.9 366.5h0.78M275.2 359.5h0.78M266.8 354.8h0.78M248.5 307.9h0.78M260.2 328.0h0.78M266.1 353.4h0.78M231.7 282.4h0.78M265.1 358.6h0.78M257.8 355.0h0.78M270.2 355.1h0.78M215.6 229.1h0.78M237.5 271.4h0.78M276.3 352.6h0.78M231.1 265.3h0.78M187.9 185.2h0.78M270.5 357.9h0.78M145.5 135.0h0.78M198.8 205.5h0.78M235.1 274.1h0.78M178.9 182.8h0.78M272.0 367.2h0.78M209.1 217.0h0.78M206.6 217.3h0.78M187.4 182.6h0.78M264.6 332.9h0.78M219.9 229.4h0.78M246.4 302.4h0.78M261.6 328.8h0.78M277.2 349.0h0.78M226.3 254.1h0.78M204.6 206.6h0.78M216.9 230.5h0.78M263.6 361.9h0.78M216.9 229.2h0.78M205.2 214.4h0.78M266.0 363.7h0.78M248.5 300.3h0.78M177.2 178.7h0.78M195.1 199.4h0.78M261.6 325.0h0.78M278.3 350.4h0.78M201.0 198.2h0.78M215.4 233.0h0.78M184.8 183.9h0.78M269.9 359.0h0.78M267.9 349.0h0.78M232.4 258.7h0.78M263.2 327.4h0.78M261.2 320.0h0.78M264.5 358.4h0.78M242.9 287.0h0.78M222.2 230.6h0.78M165.5 159.0h0.78M272.4 345.7h0.78M264.1 334.6h0.78M259.2 359.5h0.78M235.7 261.8h0.78M220.6 231.0h0.78M264.4 350.7h0.78M245.1 295.1h0.78M244.2 301.0h0.78M270.3 358.9h0.78M239.0 273.4h0.78M276.3 355.0h0.78M271.2 350.4h0.78M248.1 299.3h0.78M195.5 203.3h0.78M241.1 279.5h0.78M254.1 312.0h0.78M265.6 364.8h0.78M221.3 239.9h0.78M259.3 353.7h0.78M216.2 222.4h0.78M244.5 277.7h0.78M204.6 203.8h0.78M172.2 167.8h0.78M241.9 276.2h0.78M121.0 106.7h0.78M255.2 318.5h0.78M229.3 259.6h0.78M249.6 313.6h0.78M245.7 298.6h0.78M226.8 229.2h0.78M275.2 351.3h0.78M216.9 225.1h0.78M263.8 331.1h0.78M261.2 320.6h0.78M226.4 264.0h0.78M206.0 211.3h0.78M176.5 169.9h0.78M209.9 220.4h0.78M259.9 361.2h0.78M233.9 256.3h0.78M258.0 357.6h0.78M218.1 226.6h0.78M229.1 248.6h0.78M252.0 311.5h0.78M235.8 271.9h0.78M192.2 197.6h0.78M232.8 266.7h0.78M204.5 215.5h0.78M172.3 170.0h0.78M272.8 346.0h0.78M255.7 313.5h0.78M265.7 336.0h0.78M239.1 292.1h0.78M233.6 263.1h0.78M181.0 185.8h0.78M213.7 229.4h0.78M206.5 215.6h0.78M234.4 260.0h0.78M226.2 240.6h0.78M194.1 192.4h0.78M233.5 260.7h0.78M256.7 312.7h0.78M272.1 353.3h0.78M255.6 310.4h0.78M274.0 348.4h0.78M235.6 280.3h0.78M225.6 252.9h0.78M252.4 314.9h0.78M241.2 278.3h0.78M279.1 357.4h0.78M223.3 248.0h0.78M218.1 237.6h0.78M274.3 346.6h0.78M274.3 364.4h0.78M239.0 273.9h0.78M181.6 175.7h0.78M232.4 269.1h0.78M251.7 316.0h0.78M177.2 173.3h0.78M247.5 302.0h0.78M271.6 360.4h0.78M239.2 279.9h0.78M203.1 208.4h0.78M248.9 295.7h0.78M272.8 343.3h0.78M264.1 328.5h0.78M259.1 322.7h0.78M217.1 229.8h0.78M254.7 319.7h0.78M229.3 247.1h0.78M207.6 225.3h0.78M257.8 325.1h0.78M251.6 343.2h0.78M268.3 347.4h0.78M229.0 244.3h0.78M251.6 303.9h0.78M259.1 326.3h0.78M205.5 209.9h0.78M247.8 297.1h0.78M222.9 245.5h0.78M146.3 137.2h0.78M183.8 185.1h0.78M239.5 287.8h0.78M226.3 239.4h0.78M214.8 224.6h0.78M267.2 358.1h0.78M271.7 340.9h0.78M267.0 359.5h0.78M242.3 282.1h0.78M207.1 220.4h0.78M267.6 363.4h0.78M244.1 295.9h0.78M168.4 160.8h0.78M275.7 351.1h0.78M271.1 359.7h0.78M200.0 204.7h0.78M165.4 159.1h0.78M224.8 243.2h0.78M201.9 207.0h0.78M232.2 268.9h0.78M212.8 215.6h0.78M254.9 319.8h0.78M243.9 262.9h0.78M227.2 263.7h0.78M266.3 345.3h0.78M236.1 262.4h0.78M250.9 311.2h0.78M211.7 217.3h0.78M258.9 354.9h0.78M241.5 300.8h0.78M260.8 362.2h0.78M244.5 288.5h0.78M240.0 286.2h0.78M272.3 355.6h0.78M247.5 284.4h0.78M236.3 278.1h0.78M178.4 171.9h0.78M210.8 223.5h0.78M273.9 348.0h0.78M209.5 220.6h0.78M234.7 271.8h0.78M238.9 271.7h0.78M258.0 317.2h0.78M279.5 360.3h0.78M234.2 254.7h0.78M158.1 149.6h0.78M265.0 329.1h0.78M280.0 353.6h0.78" stroke="#85f45c" stroke-width="0.78" fill="none"/>
<path d="M211.0 223.0h0.78M237.2 280.1h0.78M243.8 290.4h0.78M140.9 129.8h0.78M227.4 262.0h0.78M236.3 282.4h0.78M177.1 176.5h0.78M255.2 320.4h0.78M181.8 185.0h0.78M206.0 218.7h0.78M230.6 253.7h0.78M205.7 224.3h0.78M205.5 225.7h0.78M269.2 343.6h0.78M206.3 223.7h0.78M264.2 365.6h0.78M270.5 352.2h0.78M189.4 189.8h0.78M256.7 348.2h0.78M267.6 347.8h0.78M199.4 206.6h0.78M155.1 146.8h0.78M237.2 279.8h0.78M171.8 168.0h0.78M176.5 172.3h0.78M135.1 122.0h0.78M193.2 200.4h0.78M218.8 222.2h0.78M263.7 335.1h0.78M142.2 135.8h0.78M165.1 164.1h0.78M242.3 298.4h0.78M220.6 246.9h0.78M178.0 184.5h0.78M229.9 278.1h0.78M128.9 116.4h0.78M227.6 254.6h0.78M261.2 359.3h0.78M203.1 212.4h0.78M196.6 198.9h0.78M191.3 196.3h0.78M231.2 283.2h0.78M212.5 230.6h0.78M208.9 228.8h0.78M203.6 212.9h0.78M186.6 194.8h0.78M122.8 107.5h0.78M262.2 352.6h0.78M273.9 346.4h0.78M226.8 286.6h0.78M233.7 259.4h0.78M226.9 268.8h0.78M143.9 136.4h0.78M196.1 215.2h0.78M181.6 181.7h0.78M217.0 243.5h0.78M185.3 193.0h0.78M208.5 224.9h0.78M226.2 240.3h0.78M239.8 287.3h0.78M234.4 274.4h0.78M230.7 272.2h0.78M151.4 141.8h0.78M237.7 287.3h0.78M239.1 282.9h0.78M165.0 165.6h0.78M248.3 299.8h0.78M222.1 245.9h0.78M175.3 170.3h0.78M216.6 247.3h0.78M231.7 271.4h0.78M235.9 281.7h0.78M228.5 265.9h0.78M228.9 254.7h0.78M217.2 228.5h0.78M246.6 320.2h0.78M183.4 183.9h0.78M151.9 143.8h0.78M262.3 351.7h0.78M259.5 350.2h0.78M198.0 200.7h0.78M234.2 292.5h0.78M269.8 337.4h0.78M260.8 333.6h0.78M160.2 151.4h0.78M236.8 305.6h0.78M206.9 216.2h0.78M225.0 248.4h0.78M230.5 261.0h0.78M158.7 150.2h0.78M244.7 296.4h0.78M120.4 107.3h0.78M223.2 277.5h0.78M223.5 246.1h0.78M141.5 130.4h0.78M202.2 207.0h0.78M217.5 246.1h0.78M235.8 280.8h0.78M233.7 273.6h0.78M203.2 213.1h0.78M213.4 227.3h0.78M182.7 183.9h0.78M259.5 339.7h0.78M190.1 191.2h0.78M223.8 249.1h0.78M184.9 188.5h0.78M240.0 283.7h0.78M188.0 189.8h0.78M195.6 211.4h0.78M246.4 312.0h0.78M200.2 211.0h0.78M233.0 269.2h0.78M236.2 277.0h0.78M258.5 329.1h0.78M226.3 246.1h0.78M220.7 266.6h0.78M211.4 228.3h0.78M141.2 133.1h0.78M270.7 364.0h0.78M229.3 250.4h0.78M237.9 291.8h0.78M230.7 260.4h0.78M201.8 207.9h0.78M250.3 319.0h0.78M167.1 174.0h0.78M226.5 271.5h0.78M203.5 217.3h0.78M230.1 263.0h0.78M199.2 210.6h0.78M265.3 333.2h0.78M235.6 307.6h0.78M249.0 317.3h0.78M228.7 256.2h0.78M242.3 282.9h0.78M209.7 226.2h0.78M272.8 358.8h0.78M144.5 134.0h0.78M135.7 129.1h0.78M264.3 343.0h0.78M188.8 195.7h0.78M179.7 182.9h0.78M271.9 346.0h0.78M264.7 332.5h0.78M173.3 170.7h0.78M261.0 329.8h0.78M260.4 345.3h0.78M238.3 281.0h0.78M135.8 128.5h0.78M227.8 291.5h0.78M267.2 354.6h0.78M233.3 285.1h0.78M229.3 271.4h0.78M264.5 329.6h0.78M212.4 237.7h0.78M223.2 264.0h0.78M262.0 357.8h0.78M167.1 162.5h0.78M183.1 180.0h0.78M265.4 331.6h0.78M233.8 265.8h0.78M220.5 259.1h0.78M272.8 355.5h0.78M234.6 298.3h0.78M238.4 299.8h0.78M252.9 317.2h0.78M165.2 162.9h0.78M180.7 174.6h0.78M199.3 214.1h0.78M198.5 209.5h0.78M260.4 356.8h0.78M271.2 350.1h0.78M222.0 231.2h0.78M255.8 323.3h0.78M193.5 216.5h0.78M236.4 267.1h0.78M212.1 224.6h0.78M154.2 143.6h0.78M219.3 249.2h0.78M267.6 341.2h0.78M269.3 347.8h0.78M233.5 261.9h0.78M236.2 274.0h0.78M266.0 344.6h0.78M224.9 255.1h0.78M177.4 179.1h0.78M261.0 359.6h0.78M219.6 234.2h0.78M217.6 243.5h0.78M263.5 360.3h0.78M237.7 301.8h0.78M257.5 349.0h0.78M230.4 283.9h0.78M203.1 220.1h0.78M257.5 355.3h0.78M245.9 304.8h0.78M265.7 350.1h0.78M167.7 158.7h0.78M220.0 235.6h0.78M226.8 249.2h0.78M160.7 157.2h0.78M198.0 214.9h0.78M212.9 219.8h0.78M233.8 287.0h0.78M232.3 289.2h0.78M252.8 316.1h0.78M175.0 185.4h0.78M248.6 313.3h0.78M231.8 282.9h0.78M233.6 294.0h0.78M205.6 218.4h0.78M242.5 291.9h0.78M232.5 266.2h0.78M146.0 134.9h0.78M244.1 305.0h0.78M252.4 316.0h0.78M209.3 238.3h0.78M198.0 211.5h0.78M215.6 245.8h0.78M259.8 349.6h0.78M184.1 193.6h0.78M194.0 195.9h0.78M219.4 236.6h0.78M136.2 129.1h0.78M262.9 358.9h0.78M231.4 288.7h0.78M224.6 293.0h0.78M200.5 211.6h0.78M186.5 189.1h0.78M199.9 209.7h0.78M222.2 256.9h0.78M267.0 359.8h0.78M232.5 271.7h0.78M226.7 258.8h0.78M264.0 340.9h0.78M262.1 336.9h0.78M158.2 153.2h0.78M222.8 245.1h0.78M263.3 350.3h0.78M161.8 158.1h0.78M269.7 345.1h0.78M265.2 349.9h0.78M218.0 258.8h0.78M236.0 287.0h0.78M196.6 207.9h0.78M233.7 291.6h0.78M267.5 343.5h0.78M182.5 180.8h0.78M206.0 230.2h0.78M145.5 138.4h0.78M223.3 254.2h0.78M247.6 304.2h0.78M197.2 212.7h0.78M238.0 287.7h0.78M207.7 218.1h0.78M176.9 184.8h0.78M228.0 288.2h0.78M253.7 322.5h0.78M190.7 192.4h0.78M233.2 291.4h0.78M267.2 337.4h0.78M260.3 344.3h0.78M265.4 347.4h0.78M185.6 197.1h0.78M237.8 273.2h0.78M194.0 197.3h0.78M114.8 101.5h0.78M249.1 304.9h0.78M228.7 272.6h0.78M215.2 241.7h0.78M247.5 315.6h0.78M199.8 217.0h0.78M129.2 114.9h0.78M236.1 296.9h0.78M247.9 311.0h0.78M182.1 184.4h0.78M187.7 198.2h0.78M268.0 354.7h0.78M259.8 361.3h0.78M227.1 259.8h0.78M225.6 259.3h0.78M225.2 238.1h0.78M241.9 296.5h0.78M212.1 237.0h0.78M221.0 248.7h0.78M263.1 337.5h0.78M227.4 262.0h0.78M237.3 290.6h0.78M179.1 179.2h0.78M260.0 326.9h0.78M222.9 257.8h0.78M191.2 191.1h0.78M199.6 210.7h0.78M191.6 200.3h0.78M231.5 267.5h0.78M165.1 168.0h0.78M239.9 299.5h0.78M175.6 168.5h0.78M263.8 334.5h0.78M261.5 361.4h0.78M157.7 148.1h0.78M233.8 275.3h0.78M243.4 292.5h0.78M244.0 286.8h0.78M210.4 226.2h0.78M268.3 354.2h0.78M258.5 325.2h0.78M213.6 239.1h0.78M187.6 191.3h0.78M226.1 245.9h0.78M248.6 306.6h0.78M227.4 260.5h0.78M250.2 310.2h0.78M263.1 330.8h0.78M238.0 284.7h0.78M267.9 351.9h0.78M219.6 256.2h0.78M219.8 247.1h0.78M248.5 307.1h0.78M214.7 224.6h0.78M260.8 325.6h0.78M219.8 251.9h0.78M149.6 139.1h0.78M139.7 129.1h0.78M263.6 360.6h0.78M233.6 274.5h0.78M184.5 186.2h0.78M189.6 191.2h0.78M255.8 331.1h0.78M213.9 240.2h0.78M228.0 250.9h0.78M251.9 318.8h0.78M259.9 338.5h0.78M210.1 219.0h0.78M165.6 160.2h0.78M226.0 260.2h0.78M205.0 218.3h0.78M151.2 142.9h0.78M197.1 196.1h0.78M145.1 138.8h0.78M204.1 225.4h0.78M263.9 351.0h0.78M220.9 243.6h0.78M117.5 102.7h0.78M265.7 338.9h0.78M217.8 238.1h0.78M207.5 225.3h0.78M197.6 205.0h0.78M201.9 224.8h0.78M199.7 211.9h0.78M191.9 195.1h0.78M157.2 151.8h0.78M217.6 245.2h0.78M203.8 215.2h0.78M270.3 349.4h0.78M263.1 363.4h0.78M193.4 195.9h0.78M263.1 349.2h0.78M256.8 327.4h0.78M115.9 101.0h0.78M228.3 274.0h0.78M151.3 153.2h0.78M214.6 241.7h0.78M271.9 345.9h0.78M222.4 260.1h0.78M217.7 235.3h0.78M219.9 236.9h0.78M205.3 217.9h0.78M162.7 159.7h0.78M214.4 245.5h0.78M171.1 165.3h0.78M212.8 244.1h0.78M265.2 354.6h0.78M209.2 223.6h0.78M221.8 246.2h0.78M233.5 269.6h0.78M169.5 172.0h0.78M239.1 282.0h0.78M232.4 304.4h0.78M263.8 350.0h0.78M203.7 217.2h0.78M267.3 342.2h0.78M264.6 359.0h0.78M266.8 346.6h0.78M260.2 347.9h0.78M265.0 342.8h0.78M207.7 247.5h0.78M248.8 311.3h0.78M205.6 207.0h0.78M258.9 350.7h0.78M273.7 344.2h0.78M165.3 157.7h0.78M207.7 258.3h0.78M261.1 342.3h0.78M236.4 293.4h0.78M262.3 338.4h0.78M197.6 199.0h0.78M241.2 308.1h0.78M263.6 354.0h0.78M240.7 290.9h0.78M150.0 153.4h0.78M220.3 242.4h0.78M163.8 159.3h0.78M172.1 169.7h0.78M208.7 228.1h0.78M234.7 287.7h0.78M184.8 186.8h0.78M239.1 294.0h0.78M233.5 281.2h0.78M269.7 349.7h0.78M264.6 361.7h0.78M214.0 226.8h0.78M226.0 274.2h0.78M266.6 340.8h0.78M203.4 211.4h0.78M261.8 352.6h0.78M242.9 307.9h0.78M273.2 348.1h0.78M268.4 347.8h0.78M167.9 162.7h0.78M239.6 280.8h0.78M209.7 220.3h0.78M224.9 265.3h0.78M243.2 298.1h0.78M215.7 231.3h0.78M192.2 207.3h0.78M243.2 308.4h0.78M273.4 349.5h0.78M243.1 310.1h0.78M212.8 231.7h0.78M219.1 233.1h0.78M232.9 275.6h0.78M219.6 249.2h0.78M259.8 358.3h0.78M234.2 280.6h0.78M270.7 346.8h0.78M242.1 292.6h0.78M241.3 290.5h0.78M197.4 215.4h0.78M268.9 343.8h0.78M139.8 127.9h0.78M201.7 211.9h0.78M245.0 308.2h0.78M253.4 344.6h0.78M238.1 287.7h0.78M221.8 242.8h0.78M252.9 322.3h0.78M234.7 294.6h0.78M136.4 123.3h0.78M202.9 209.4h0.78M195.7 199.3h0.78M261.1 332.3h0.78M205.4 218.3h0.78M236.0 293.9h0.78M164.5 158.0h0.78M138.4 126.4h0.78M175.3 169.9h0.78M145.9 138.6h0.78M192.0 203.3h0.78M196.7 204.1h0.78M259.3 355.0h0.78M267.4 335.5h0.78M242.7 297.0h0.78M190.7 216.4h0.78M177.9 180.8h0.78M193.8 204.8h0.78M254.2 345.0h0.78M198.2 212.4h0.78M166.7 162.8h0.78M198.0 193.9h0.78M256.4 341.5h0.78M211.3 222.0h0.78M156.4 153.1h0.78M217.9 229.9h0.78M225.3 247.7h0.78M264.2 350.3h0.78M185.0 191.2h0.78M139.6 132.9h0.78M245.5 290.2h0.78M223.1 243.9h0.78M230.3 291.6h0.78M265.2 335.2h0.78M271.5 357.2h0.78M182.6 182.9h0.78M186.0 182.2h0.78M198.3 200.1h0.78M202.5 219.5h0.78M264.6 335.8h0.78M236.0 282.6h0.78M255.4 316.8h0.78M260.3 359.1h0.78M167.1 160.4h0.78M230.7 287.6h0.78M260.4 345.6h0.78M258.9 330.3h0.78M191.8 198.7h0.78M214.2 242.5h0.78M248.3 319.2h0.78M253.2 315.3h0.78M167.6 164.8h0.78M143.9 137.2h0.78M271.7 352.9h0.78M237.5 282.2h0.78M262.5 343.6h0.78M195.2 197.0h0.78M260.3 348.7h0.78M179.2 176.2h0.78M212.5 232.3h0.78M166.7 162.4h0.78M179.3 174.1h0.78M265.5 361.1h0.78M236.6 289.3h0.78M217.1 234.7h0.78M267.9 347.2h0.78M246.6 313.9h0.78M199.2 219.4h0.78M263.5 332.2h0.78M260.4 328.7h0.78M118.6 102.8h0.78M226.5 268.1h0.78M192.5 208.4h0.78M235.1 280.8h0.78M182.8 185.2h0.78M265.8 330.5h0.78M230.8 280.3h0.78M216.8 235.8h0.78M221.0 239.1h0.78M211.0 228.3h0.78M267.8 343.4h0.78M176.7 178.1h0.78M197.6 222.1h0.78M225.7 256.3h0.78M170.7 168.3h0.78M167.3 162.6h0.78M239.8 292.7h0.78M220.8 244.8h0.78M178.1 178.4h0.78M240.7 296.1h0.78M231.8 258.6h0.78M200.9 209.7h0.78M222.4 236.8h0.78M251.9 323.6h0.78M226.6 264.8h0.78M188.2 191.9h0.78M265.9 355.5h0.78M227.7 248.2h0.78M122.5 107.7h0.78M223.0 274.9h0.78M214.9 235.6h0.78M197.8 242.1h0.78M222.6 241.3h0.78M159.4 151.9h0.78M226.2 254.6h0.78M169.7 167.2h0.78M220.5 257.0h0.78M254.0 350.3h0.78M173.7 172.4h0.78M253.3 318.2h0.78M166.1 163.6h0.78M260.1 356.7h0.78M269.3 336.3h0.78M243.8 293.4h0.78M244.2 297.5h0.78M249.4 309.2h0.78M192.8 198.1h0.78M196.3 191.8h0.78M234.0 267.1h0.78M241.4 301.9h0.78M187.6 193.7h0.78M212.8 229.5h0.78M193.4 210.8h0.78M172.0 171.8h0.78M269.3 343.1h0.78M256.8 328.1h0.78M166.6 163.8h0.78M225.1 251.0h0.78M216.5 237.4h0.78M230.3 290.0h0.78M240.8 281.9h0.78M241.4 296.9h0.78M230.7 262.5h0.78M132.1 118.7h0.78M222.1 238.8h0.78M188.5 183.8h0.78M249.0 345.3h0.78M260.7 340.7h0.78M234.8 285.5h0.78M187.8 187.4h0.78M201.4 210.8h0.78M146.0 135.7h0.78M210.4 234.5h0.78M212.5 223.6h0.78M242.5 324.2h0.78M226.6 257.1h0.78M179.5 181.5h0.78M210.5 243.4h0.78M223.0 267.7h0.78M177.8 184.7h0.78M236.8 288.3h0.78M195.6 205.1h0.78M240.0 284.0h0.78M233.0 270.1h0.78M252.5 341.6h0.78M225.2 261.9h0.78M230.4 252.2h0.78M198.2 200.1h0.78M163.1 160.2h0.78M268.8 353.6h0.78M233.3 270.7h0.78M250.5 315.4h0.78M231.1 248.0h0.78M247.6 309.1h0.78M172.6 177.9h0.78M184.5 191.3h0.78M204.0 223.4h0.78M248.5 314.7h0.78M261.8 357.4h0.78M260.6 350.4h0.78M241.2 296.7h0.78M122.8 107.7h0.78M199.4 210.1h0.78M188.1 194.8h0.78M190.8 191.0h0.78M241.1 290.4h0.78M170.8 162.7h0.78M251.3 316.4h0.78M254.6 318.2h0.78M146.5 137.9h0.78M264.1 349.0h0.78M266.6 334.3h0.78M202.2 218.2h0.78M204.6 218.5h0.78M201.0 213.7h0.78M175.7 171.1h0.78M155.9 148.8h0.78M228.0 277.5h0.78M165.2 158.8h0.78M272.3 353.5h0.78M211.2 223.9h0.78M239.3 291.3h0.78M178.9 178.3h0.78M200.2 215.9h0.78M221.3 246.4h0.78M158.3 156.9h0.78M140.1 130.8h0.78M227.6 261.8h0.78M177.8 178.8h0.78M275.9 345.6h0.78M241.0 296.3h0.78M218.1 238.4h0.78M134.9 128.4h0.78M243.6 293.4h0.78M182.5 185.8h0.78M197.9 209.1h0.78M229.4 256.4h0.78M227.6 250.1h0.78M142.9 131.5h0.78M230.4 270.7h0.78M217.0 234.0h0.78M211.1 214.5h0.78M188.8 189.8h0.78M156.3 147.0h0.78M197.1 207.4h0.78M218.8 236.6h0.78M255.6 348.5h0.78M124.0 110.9h0.78M199.6 206.4h0.78M239.5 303.9h0.78M204.3 216.7h0.78M202.8 217.9h0.78M255.6 317.4h0.78M222.8 245.8h0.78M228.7 252.5h0.78M157.8 149.6h0.78M266.8 360.8h0.78M126.6 112.9h0.78M248.9 304.0h0.78M265.5 359.5h0.78M150.1 141.9h0.78M230.5 260.3h0.78M202.6 210.5h0.78M196.2 193.7h0.78M234.0 285.0h0.78M219.4 273.4h0.78M252.2 316.5h0.78M255.0 324.4h0.78M234.2 285.3h0.78M213.1 236.2h0.78M251.5 318.4h0.78M186.6 191.1h0.78M213.3 227.7h0.78M120.7 105.1h0.78M247.7 312.9h0.78M197.9 197.4h0.78M264.7 352.6h0.78M209.1 227.7h0.78M257.0 351.4h0.78M223.1 272.3h0.78M250.0 322.9h0.78M255.3 345.0h0.78M220.4 257.8h0.78M233.9 296.3h0.78M254.2 317.0h0.78M211.1 228.6h0.78M174.8 172.4h0.78M207.2 223.1h0.78M228.5 264.7h0.78M231.4 277.9h0.78M224.7 264.5h0.78M258.4 357.0h0.78M162.1 153.5h0.78M143.4 134.3h0.78M247.4 312.2h0.78M190.1 212.4h0.78M220.1 237.1h0.78M267.7 353.6h0.78M169.7 167.1h0.78M180.3 180.6h0.78M194.1 202.0h0.78M242.7 309.0h0.78M224.6 265.9h0.78M217.0 224.3h0.78M147.4 140.6h0.78M227.2 260.8h0.78M241.7 304.2h0.78M240.8 300.4h0.78M261.5 342.4h0.78M256.2 350.6h0.78M236.1 287.5h0.78M245.5 313.1h0.78M250.0 310.5h0.78M243.7 307.9h0.78M239.9 299.1h0.78M226.1 243.4h0.78M224.7 274.1h0.78M265.0 349.3h0.78M258.9 337.9h0.78M238.8 287.1h0.78M245.3 308.8h0.78M208.7 225.7h0.78M263.5 328.0h0.78M217.4 253.5h0.78M229.5 248.5h0.78M214.6 234.3h0.78M218.3 243.6h0.78M172.9 171.1h0.78M159.9 156.4h0.78M239.6 296.0h0.78M145.3 138.4h0.78M201.1 220.8h0.78M232.2 274.4h0.78M172.7 165.4h0.78M266.2 340.6h0.78M156.7 148.2h0.78M215.3 233.4h0.78M190.3 197.6h0.78M207.3 221.8h0.78M264.9 333.8h0.78M160.4 153.1h0.78M258.6 330.1h0.78M230.8 276.7h0.78M236.1 298.3h0.78M202.5 213.9h0.78M181.0 181.8h0.78M198.8 225.6h0.78M201.6 211.0h0.78M272.7 352.1h0.78M200.1 211.2h0.78M196.0 202.4h0.78M170.6 164.0h0.78M158.0 149.0h0.78M243.9 289.0h0.78M259.0 352.3h0.78M224.1 263.8h0.78M259.4 321.2h0.78M229.5 247.9h0.78M217.6 228.9h0.78M190.3 191.5h0.78M251.3 314.1h0.78M263.3 339.6h0.78M159.4 151.1h0.78M240.4 301.6h0.78M227.4 272.8h0.78M256.2 319.0h0.78M234.1 270.2h0.78M236.1 280.4h0.78M189.7 190.9h0.78M272.5 343.3h0.78M171.0 166.3h0.78M180.6 181.7h0.78M254.1 322.5h0.78M218.1 243.9h0.78M233.2 293.1h0.78M261.0 349.8h0.78M225.1 248.1h0.78M231.7 281.0h0.78M146.3 135.5h0.78M211.2 223.1h0.78M255.3 325.0h0.78M167.1 158.3h0.78M197.8 202.0h0.78M221.9 249.3h0.78M232.1 265.2h0.78M264.8 349.0h0.78M241.1 299.0h0.78M213.7 227.7h0.78M228.4 258.5h0.78M182.8 189.6h0.78M209.4 224.9h0.78M230.4 287.5h0.78M193.4 197.3h0.78M148.3 138.1h0.78M227.8 285.6h0.78M225.4 260.1h0.78M236.4 288.1h0.78M209.2 216.3h0.78M162.7 153.4h0.78M235.5 283.6h0.78M237.9 298.2h0.78M269.1 354.0h0.78M253.1 348.4h0.78M233.4 276.9h0.78M257.5 351.2h0.78M215.2 237.9h0.78M203.1 206.0h0.78M165.4 158.5h0.78M266.4 352.3h0.78M210.9 228.3h0.78M223.2 256.6h0.78M264.7 349.7h0.78M237.0 282.8h0.78M234.5 287.4h0.78M216.3 231.2h0.78M248.8 311.4h0.78M222.4 254.1h0.78M169.0 165.1h0.78M183.2 182.7h0.78M142.0 134.6h0.78M236.2 290.5h0.78M182.0 183.5h0.78M261.6 329.7h0.78M231.6 258.3h0.78M204.0 218.7h0.78M218.5 233.9h0.78M175.2 181.1h0.78M183.3 188.4h0.78M272.6 350.2h0.78M271.6 347.8h0.78M219.7 265.1h0.78M200.7 217.4h0.78M271.3 342.7h0.78M200.7 207.9h0.78M231.9 272.9h0.78M225.3 267.9h0.78M233.9 261.3h0.78M260.1 356.5h0.78M261.2 328.2h0.78M206.0 212.9h0.78M212.8 234.4h0.78M236.5 262.2h0.78M262.7 333.4h0.78M159.2 153.7h0.78M261.6 327.3h0.78M162.0 161.2h0.78M271.3 345.4h0.78M151.7 143.1h0.78M218.9 229.2h0.78M171.5 174.0h0.78M272.5 356.5h0.78M183.1 186.2h0.78M241.4 297.8h0.78M235.5 276.0h0.78M243.9 294.6h0.78M204.8 211.9h0.78M252.1 320.0h0.78M261.9 344.3h0.78M218.7 245.1h0.78M229.3 256.7h0.78M159.4 152.6h0.78M185.2 183.2h0.78M207.9 228.4h0.78M233.9 273.9h0.78M224.4 258.7h0.78M248.4 308.5h0.78M253.0 321.0h0.78M194.0 202.7h0.78M257.1 325.0h0.78M264.1 348.8h0.78M143.7 132.6h0.78M233.1 270.8h0.78M268.3 356.8h0.78M257.8 323.9h0.78M194.0 194.9h0.78M237.5 264.8h0.78M173.0 173.6h0.78M261.3 360.9h0.78M262.0 346.0h0.78M216.2 242.8h0.78M225.7 249.0h0.78M243.6 305.7h0.78M257.0 332.4h0.78M154.9 147.2h0.78M213.0 245.9h0.78M225.4 253.9h0.78M216.0 252.1h0.78M225.2 239.7h0.78M225.9 240.1h0.78M198.5 208.0h0.78M232.2 283.0h0.78M261.8 329.7h0.78M257.2 321.2h0.78M223.7 241.5h0.78M274.8 349.6h0.78M240.0 293.2h0.78M222.4 238.9h0.78M266.2 353.4h0.78M154.1 146.2h0.78M227.7 261.5h0.78M273.3 355.4h0.78M254.1 316.9h0.78M260.6 348.6h0.78M234.1 279.0h0.78M234.9 277.7h0.78M197.2 199.3h0.78M142.2 132.6h0.78M195.2 212.3h0.78M218.5 244.3h0.78M237.6 280.2h0.78M220.8 255.4h0.78M220.9 236.1h0.78M176.2 174.3h0.78M236.5 287.0h0.78M256.2 355.5h0.78M237.8 288.7h0.78M261.2 361.3h0.78M155.7 147.0h0.78M239.1 299.8h0.78M256.1 348.2h0.78M172.6 174.1h0.78M164.7 157.8h0.78M188.9 191.2h0.78M217.2 253.5h0.78M153.6 151.9h0.78M230.6 258.8h0.78M233.2 299.5h0.78M212.6 258.6h0.78M215.4 242.9h0.78M239.9 289.8h0.78M249.5 326.0h0.78M122.7 109.2h0.78M221.5 244.3h0.78M233.4 292.9h0.78M236.6 286.7h0.78M191.0 206.5h0.78M235.0 280.7h0.78M197.5 211.8h0.78M239.1 299.7h0.78M240.7 287.1h0.78M238.2 298.2h0.78M173.2 176.1h0.78M246.3 310.4h0.78M258.3 321.7h0.78M208.1 220.8h0.78M228.1 254.7h0.78M261.6 328.6h0.78M269.8 338.4h0.78M222.2 238.6h0.78M187.8 192.5h0.78M259.8 354.9h0.78M249.3 308.6h0.78M244.6 304.3h0.78M228.3 244.1h0.78M256.4 349.4h0.78M192.6 204.0h0.78M162.0 156.1h0.78M203.0 216.5h0.78M121.0 106.9h0.78M222.6 232.4h0.78M180.4 182.3h0.78M233.1 286.8h0.78M235.6 283.3h0.78M232.1 276.2h0.78M237.0 264.1h0.78M253.0 311.7h0.78M246.8 309.0h0.78M223.3 259.5h0.78M245.8 313.7h0.78M269.6 338.0h0.78M222.8 253.5h0.78M266.7 349.5h0.78M190.8 192.7h0.78M205.7 216.6h0.78M194.6 207.6h0.78M189.2 191.4h0.78M239.5 279.3h0.78M260.7 351.7h0.78M263.6 351.6h0.78M140.2 129.0h0.78M214.7 225.1h0.78M223.0 245.4h0.78M210.7 233.8h0.78M213.8 224.5h0.78M240.6 284.9h0.78M267.9 349.2h0.78M198.7 209.1h0.78M216.9 242.4h0.78M145.4 140.4h0.78M192.9 209.5h0.78M224.8 273.9h0.78M235.8 287.3h0.78M258.2 324.0h0.78M262.3 337.0h0.78M165.7 163.6h0.78M262.4 327.3h0.78M213.0 225.4h0.78M227.7 249.9h0.78M227.0 260.4h0.78" stroke="#a4f54f" stroke-width="0.78" fill="none"/>
<path d="M247.9 315.6h0.78M209.3 280.1h0.78M204.5 249.4h0.78M199.8 206.9h0.78M116.0 102.4h0.78M256.2 346.1h0.78M229.0 260.5h0.78M185.1 193.5h0.78M222.0 281.5h0.78M108.2 94.4h0.78M158.4 152.5h0.78M196.2 206.9h0.78M248.7 342.6h0.78M181.0 184.4h0.78M206.1 237.1h0.78M250.6 315.4h0.78M124.7 109.4h0.78M215.6 257.3h0.78M256.7 329.6h0.78M214.6 229.1h0.78M181.3 188.8h0.78M211.0 246.6h0.78M188.6 221.1h0.78M253.3 350.4h0.78M160.1 152.0h0.78M213.0 245.4h0.78M238.3 305.4h0.78M169.7 169.3h0.78M225.3 275.3h0.78M251.4 321.6h0.78M209.7 239.9h0.78M174.3 189.6h0.78M195.7 211.7h0.78M216.2 236.4h0.78M147.6 150.6h0.78M250.7 325.3h0.78M218.7 250.3h0.78M219.5 256.7h0.78M130.6 116.4h0.78M172.3 195.9h0.78M253.9 349.5h0.78M240.5 292.9h0.78M187.1 197.1h0.78M196.6 209.1h0.78M251.3 342.8h0.78M224.9 266.4h0.78M230.1 266.0h0.78M226.2 263.6h0.78M174.8 173.2h0.78M225.8 277.2h0.78M229.0 293.5h0.78M263.2 344.3h0.78M192.1 196.7h0.78M215.1 253.7h0.78M219.4 256.5h0.78M224.8 275.3h0.78M227.8 262.7h0.78M184.0 218.1h0.78M219.6 274.6h0.78M149.0 153.0h0.78M196.0 196.7h0.78M222.9 262.7h0.78M174.9 192.1h0.78M228.6 288.2h0.78M174.2 177.6h0.78M253.8 324.3h0.78M154.4 155.5h0.78M226.1 282.7h0.78M167.8 162.6h0.78M252.0 328.1h0.78M155.7 148.4h0.78M250.5 346.2h0.78M190.8 205.4h0.78M263.2 345.9h0.78M215.5 225.0h0.78M220.9 259.4h0.78M191.0 218.4h0.78M208.4 242.3h0.78M150.0 142.5h0.78M248.2 319.8h0.78M207.4 228.2h0.78M204.8 226.4h0.78M186.0 207.6h0.78M259.9 342.2h0.78M220.6 240.6h0.78M143.9 137.9h0.78M189.3 201.9h0.78M151.2 147.9h0.78M251.2 314.7h0.78M249.5 318.5h0.78M204.9 218.6h0.78M156.1 151.3h0.78M159.5 158.4h0.78M211.0 239.0h0.78M162.9 161.5h0.78M214.5 270.0h0.78M227.9 262.0h0.78M230.5 272.7h0.78M261.4 358.3h0.78M205.1 219.1h0.78M183.6 211.9h0.78M248.8 314.8h0.78M238.3 307.3h0.78M238.1 304.2h0.78M252.6 332.3h0.78M242.0 314.0h0.78M223.7 263.3h0.78M198.8 202.5h0.78M239.5 302.0h0.78M118.4 103.5h0.78M238.0 295.3h0.78M156.8 151.7h0.78M222.7 244.2h0.78M168.1 172.6h0.78M234.4 322.3h0.78M237.1 288.6h0.78M221.6 300.4h0.78M228.5 276.6h0.78M238.5 303.3h0.78M198.9 246.5h0.78M165.6 162.1h0.78M265.8 349.1h0.78M227.0 271.0h0.78M212.4 250.7h0.78M232.3 285.9h0.78M171.8 216.9h0.78M135.6 131.5h0.78M191.8 212.6h0.78M254.5 338.7h0.78M212.6 236.9h0.78M175.8 183.6h0.78M216.4 250.5h0.78M229.6 264.7h0.78M251.2 316.2h0.78M231.7 283.5h0.78M217.7 251.3h0.78M186.1 191.0h0.78M194.4 223.8h0.78M216.5 249.3h0.78M210.2 239.2h0.78M212.5 265.9h0.78M226.6 295.8h0.78M218.5 235.7h0.78M236.6 284.9h0.78M193.2 198.3h0.78M238.6 307.9h0.78M188.7 199.2h0.78M219.5 264.3h0.78M220.4 255.8h0.78M119.9 110.8h0.78M201.3 230.3h0.78M207.0 255.6h0.78M214.5 277.6h0.78M176.7 177.0h0.78M202.5 266.0h0.78M239.6 305.2h0.78M161.9 157.8h0.78M202.2 218.9h0.78M178.3 188.4h0.78M238.8 302.3h0.78M149.1 142.0h0.78M173.6 177.8h0.78M179.0 180.4h0.78M218.1 232.2h0.78M197.3 217.7h0.78M273.1 345.6h0.78M232.2 308.3h0.78M198.7 227.7h0.78M217.7 271.8h0.78M254.9 326.8h0.78M166.9 164.5h0.78M204.4 243.8h0.78M188.8 194.5h0.78M233.2 281.8h0.78M206.9 276.2h0.78M249.0 326.3h0.78M225.1 276.4h0.78M142.1 132.5h0.78M230.9 278.5h0.78M151.3 152.5h0.78M185.9 202.0h0.78M196.6 216.5h0.78M122.5 109.8h0.78M225.8 257.4h0.78M208.5 289.8h0.78M218.8 241.2h0.78M135.5 123.1h0.78M235.7 297.2h0.78M145.4 137.7h0.78M209.1 284.0h0.78M208.4 235.5h0.78M183.6 189.0h0.78M159.4 158.3h0.78M210.3 248.9h0.78M226.5 248.9h0.78M256.2 338.2h0.78M236.6 286.0h0.78M116.0 100.8h0.78M218.2 234.1h0.78M180.1 184.2h0.78M252.2 330.2h0.78M209.0 285.4h0.78M204.2 221.2h0.78M229.7 270.2h0.78M249.8 323.9h0.78M138.3 127.4h0.78M232.2 303.7h0.78M185.2 194.1h0.78M125.7 112.6h0.78M233.7 304.4h0.78M222.1 280.2h0.78M247.8 320.3h0.78M229.0 305.2h0.78M165.5 168.1h0.78M165.4 171.9h0.78M233.2 299.4h0.78M127.6 118.3h0.78M218.9 257.9h0.78M213.1 271.3h0.78M267.9 345.9h0.78M220.8 260.5h0.78M223.1 250.6h0.78M217.2 235.0h0.78M232.5 317.3h0.78M131.5 126.6h0.78M235.2 288.2h0.78M250.7 321.6h0.78M231.2 306.3h0.78M250.8 341.3h0.78M265.3 336.7h0.78M265.5 346.8h0.78M142.5 130.3h0.78M257.6 321.9h0.78M246.6 314.6h0.78M261.2 336.3h0.78M202.3 264.7h0.78M138.8 132.0h0.78M220.9 261.5h0.78M239.4 287.1h0.78M214.6 250.1h0.78M225.3 293.5h0.78M204.2 224.8h0.78M159.9 153.6h0.78M222.7 263.6h0.78M189.3 197.8h0.78M169.9 172.1h0.78M125.2 117.5h0.78M265.7 350.8h0.78M237.8 297.7h0.78M220.1 266.0h0.78M210.9 246.0h0.78M202.0 237.0h0.78M241.4 306.3h0.78M250.1 324.8h0.78M175.3 183.4h0.78M218.2 250.9h0.78M196.6 198.7h0.78M177.4 183.9h0.78M253.7 331.4h0.78M225.6 276.8h0.78M127.9 115.7h0.78M195.2 219.0h0.78M134.8 122.9h0.78M227.1 272.9h0.78M242.8 302.2h0.78M254.3 335.1h0.78M173.0 177.1h0.78M186.3 196.7h0.78M245.0 303.8h0.78M148.8 144.4h0.78M250.7 334.1h0.78M170.8 170.8h0.78M173.1 177.4h0.78M227.4 284.2h0.78M142.3 136.1h0.78M155.7 156.1h0.78M173.4 187.4h0.78M157.5 153.3h0.78M178.9 193.0h0.78M241.7 300.2h0.78M205.7 238.7h0.78M199.6 212.0h0.78M186.1 205.6h0.78M204.0 232.0h0.78M256.7 347.7h0.78M259.7 330.1h0.78M220.8 252.4h0.78M245.6 317.6h0.78M156.3 153.7h0.78M249.5 329.1h0.78M195.9 203.8h0.78M199.8 233.6h0.78M224.7 291.3h0.78M178.3 180.8h0.78M195.6 240.0h0.78M164.2 159.0h0.78M266.7 338.3h0.78M243.1 306.6h0.78M222.0 280.8h0.78M228.7 308.7h0.78M266.7 354.6h0.78M212.6 242.3h0.78M187.1 195.1h0.78M241.9 308.5h0.78M259.5 334.1h0.78M153.6 152.0h0.78M137.9 126.6h0.78M214.5 250.6h0.78M228.5 282.8h0.78M206.4 243.4h0.78M184.5 187.5h0.78M212.5 259.7h0.78M245.8 313.6h0.78M259.0 351.6h0.78M262.8 344.4h0.78M207.7 252.9h0.78M250.5 330.7h0.78M203.1 212.1h0.78M258.8 333.1h0.78M214.4 242.7h0.78M181.6 186.4h0.78M232.7 282.0h0.78M120.8 109.9h0.78M248.4 337.2h0.78M223.9 270.5h0.78M134.1 120.8h0.78M245.4 313.0h0.78M191.4 241.0h0.78M128.9 115.8h0.78M266.4 346.2h0.78M193.0 196.9h0.78M192.9 210.9h0.78M233.7 280.0h0.78M253.7 320.7h0.78M166.3 170.3h0.78M220.6 264.8h0.78M208.2 240.0h0.78M208.8 247.4h0.78M174.0 181.7h0.78M206.9 228.3h0.78M194.6 214.5h0.78M173.1 181.2h0.78M244.1 307.9h0.78M255.2 345.5h0.78M136.2 127.7h0.78M169.0 169.9h0.78M216.4 236.6h0.78M135.1 126.6h0.78M239.9 324.2h0.78M193.0 219.8h0.78M221.7 281.5h0.78M233.6 272.1h0.78M207.7 233.1h0.78M217.9 263.9h0.78M221.0 273.5h0.78M205.1 256.0h0.78M131.3 118.9h0.78M116.2 104.0h0.78M167.2 170.9h0.78M246.5 325.6h0.78M235.6 292.4h0.78M228.8 286.3h0.78M242.3 326.9h0.78M126.1 117.5h0.78M225.6 286.0h0.78M260.1 327.3h0.78M214.1 256.6h0.78M157.0 153.2h0.78M260.4 345.3h0.78M133.4 122.6h0.78M224.0 260.7h0.78M255.3 354.1h0.78M221.5 251.3h0.78M240.3 309.4h0.78M267.4 346.0h0.78M243.3 309.5h0.78M221.5 255.3h0.78M217.1 234.6h0.78M169.1 171.0h0.78M150.3 141.9h0.78M206.0 271.7h0.78M150.2 162.9h0.78M193.7 215.6h0.78M183.5 189.3h0.78M249.4 317.8h0.78M231.0 280.0h0.78M242.6 304.2h0.78M236.5 289.3h0.78M146.5 141.8h0.78M253.2 351.2h0.78M262.2 351.4h0.78M224.0 276.1h0.78M136.6 136.0h0.78M190.4 201.2h0.78M258.4 348.3h0.78M185.2 193.1h0.78M175.0 179.9h0.78M206.5 240.0h0.78M231.6 287.4h0.78M261.5 339.2h0.78M225.0 282.9h0.78M235.4 302.3h0.78M191.5 199.4h0.78M129.7 115.4h0.78M252.9 329.3h0.78M145.5 136.8h0.78M228.4 276.7h0.78M139.2 129.7h0.78M190.4 202.5h0.78M211.6 250.4h0.78M190.6 209.3h0.78M191.0 203.9h0.78M231.1 283.2h0.78M202.1 226.5h0.78M151.1 141.7h0.78M215.0 279.6h0.78M232.8 288.4h0.78M232.9 291.9h0.78M216.0 260.4h0.78M123.6 115.1h0.78M185.1 199.5h0.78M194.7 214.6h0.78M208.6 236.8h0.78M212.6 225.3h0.78M118.7 108.3h0.78M198.7 228.6h0.78M233.8 290.9h0.78M194.5 207.0h0.78M141.0 132.3h0.78M200.0 268.1h0.78M197.6 220.2h0.78M200.2 223.9h0.78M225.1 256.8h0.78M216.7 246.4h0.78M176.6 219.0h0.78M203.6 238.4h0.78M199.5 223.6h0.78M230.2 283.7h0.78M216.1 256.7h0.78M115.8 113.8h0.78M181.4 188.0h0.78M166.6 167.2h0.78M235.2 305.0h0.78M187.0 197.9h0.78M119.3 132.1h0.78M243.0 312.0h0.78M221.7 258.3h0.78M193.4 206.5h0.78M201.9 220.0h0.78M160.5 167.1h0.78M226.9 267.6h0.78M218.3 245.9h0.78M183.7 195.7h0.78M141.0 133.3h0.78M252.4 327.4h0.78M235.7 292.3h0.78M246.1 315.2h0.78M237.0 284.8h0.78M201.6 223.1h0.78M144.5 150.8h0.78M161.7 159.3h0.78M163.6 168.1h0.78M189.6 203.0h0.78M215.6 251.0h0.78M229.3 283.5h0.78M189.3 199.6h0.78M220.4 263.5h0.78M242.4 300.3h0.78M254.8 344.7h0.78M191.1 218.1h0.78M250.5 340.9h0.78M201.3 225.3h0.78M206.0 237.1h0.78M113.6 98.5h0.78M251.6 335.0h0.78M188.8 208.0h0.78M151.3 144.2h0.78M195.3 205.2h0.78M143.6 141.4h0.78M201.2 233.6h0.78M206.5 220.6h0.78M235.5 313.7h0.78M251.4 319.1h0.78M127.7 117.8h0.78M230.6 279.8h0.78M160.7 158.4h0.78M229.1 259.6h0.78M234.3 276.2h0.78M190.2 199.1h0.78M197.1 243.8h0.78M228.6 276.4h0.78M183.3 191.9h0.78M232.3 292.8h0.78M253.6 319.6h0.78M172.4 185.0h0.78M246.4 342.0h0.78M221.5 295.3h0.78M235.2 309.0h0.78M178.7 185.7h0.78M131.9 119.2h0.78M209.0 259.0h0.78M130.1 120.8h0.78M233.4 306.6h0.78M181.2 211.3h0.78M253.9 324.3h0.78M170.9 173.9h0.78M145.0 135.7h0.78M262.5 345.1h0.78M120.7 108.6h0.78M258.5 345.9h0.78M170.5 173.4h0.78M177.4 206.3h0.78M125.5 110.6h0.78M214.3 237.8h0.78M187.6 191.8h0.78M212.0 226.2h0.78M261.8 346.2h0.78M219.5 252.2h0.78M214.3 261.6h0.78M244.4 308.5h0.78M214.9 237.2h0.78M221.7 241.7h0.78M127.8 118.2h0.78M136.6 127.9h0.78M203.7 234.0h0.78M158.4 152.8h0.78M183.7 192.5h0.78M230.4 267.8h0.78M230.5 278.7h0.78M191.7 211.7h0.78M120.8 106.5h0.78M234.3 314.3h0.78M225.9 260.5h0.78M135.3 125.0h0.78M197.2 274.0h0.78M232.5 284.1h0.78M255.8 347.1h0.78M190.8 214.6h0.78M249.7 345.3h0.78M200.0 208.7h0.78M252.0 339.4h0.78M236.3 286.8h0.78M220.3 250.5h0.78M195.2 214.4h0.78M224.3 258.9h0.78M251.8 325.8h0.78M195.9 196.8h0.78M141.0 135.4h0.78M243.5 322.1h0.78M232.6 311.7h0.78M247.9 307.1h0.78M195.3 208.1h0.78M157.6 157.1h0.78M237.1 301.8h0.78M218.2 245.7h0.78M147.3 145.0h0.78M184.6 193.6h0.78M160.9 157.2h0.78M142.9 136.7h0.78M186.3 201.8h0.78M260.4 332.7h0.78M240.4 305.4h0.78M174.3 184.1h0.78M196.4 207.3h0.78M221.8 264.1h0.78M191.2 203.8h0.78M217.0 252.6h0.78M197.3 233.1h0.78M222.6 286.1h0.78M223.6 286.9h0.78M239.2 306.3h0.78M186.3 194.6h0.78M184.4 198.6h0.78M236.5 314.9h0.78M247.6 317.8h0.78M207.3 257.0h0.78M120.1 104.8h0.78M216.5 240.2h0.78M237.0 294.3h0.78M164.6 156.1h0.78M153.0 146.7h0.78M146.5 144.9h0.78M129.9 121.9h0.78M220.5 259.3h0.78M239.3 307.3h0.78M210.2 234.3h0.78M212.5 235.1h0.78M175.0 193.7h0.78M188.9 213.6h0.78M194.6 237.8h0.78M253.0 350.0h0.78M223.8 266.5h0.78M180.6 185.9h0.78M198.3 218.9h0.78M220.3 262.7h0.78M221.3 274.1h0.78M234.3 310.1h0.78M177.2 222.5h0.78M237.0 299.0h0.78M193.3 238.4h0.78M222.0 276.0h0.78M180.0 196.7h0.78M218.0 251.0h0.78M139.3 128.3h0.78M233.5 288.7h0.78M160.1 163.1h0.78M252.1 333.7h0.78M223.5 300.9h0.78M256.5 332.3h0.78M145.2 141.7h0.78M237.7 298.5h0.78M174.7 227.7h0.78M163.7 178.6h0.78M218.4 269.4h0.78M234.6 287.6h0.78M244.0 317.0h0.78M211.8 252.9h0.78M191.9 240.7h0.78M167.1 173.3h0.78M225.4 268.1h0.78M140.0 128.5h0.78M131.7 119.6h0.78M236.4 308.7h0.78M197.9 220.2h0.78M218.5 245.0h0.78M205.5 240.0h0.78M194.1 211.8h0.78M240.9 327.6h0.78M197.6 224.4h0.78M181.4 194.5h0.78M207.6 262.0h0.78M229.0 292.4h0.78M266.6 339.3h0.78M228.2 261.4h0.78M150.8 153.8h0.78M259.7 331.0h0.78M162.5 172.0h0.78M222.3 279.3h0.78M242.7 305.2h0.78M255.1 327.8h0.78M253.1 320.9h0.78M239.8 294.0h0.78M115.5 100.4h0.78M261.8 337.8h0.78M190.9 209.9h0.78M217.3 261.8h0.78M165.4 158.6h0.78M126.9 119.8h0.78M259.2 334.1h0.78M180.3 198.7h0.78M210.6 285.1h0.78M144.9 142.5h0.78M213.7 258.6h0.78M240.2 299.1h0.78M239.5 293.9h0.78M181.9 188.6h0.78M246.6 320.5h0.78M259.2 337.3h0.78M195.8 207.6h0.78M196.5 233.5h0.78M224.5 256.0h0.78M196.3 257.1h0.78M258.3 350.6h0.78M244.3 297.6h0.78M204.2 237.0h0.78M200.7 209.0h0.78M210.6 239.3h0.78M200.6 227.5h0.78M219.0 266.3h0.78M118.9 107.0h0.78M255.7 355.4h0.78M203.9 221.7h0.78M196.2 213.7h0.78M229.9 282.5h0.78M267.8 340.1h0.78M205.4 234.6h0.78M178.9 180.4h0.78M176.1 184.8h0.78M178.8 183.8h0.78M222.3 270.7h0.78M219.4 240.2h0.78M182.5 190.7h0.78M167.4 165.8h0.78M158.5 153.5h0.78M247.3 311.4h0.78M222.2 254.0h0.78M230.5 275.6h0.78M229.0 316.6h0.78M245.1 309.3h0.78M203.2 272.2h0.78M194.7 210.7h0.78M253.9 347.2h0.78M215.1 266.1h0.78M161.5 170.9h0.78M235.3 283.9h0.78M128.1 118.8h0.78M235.1 291.6h0.78M218.0 248.5h0.78M147.8 147.0h0.78M138.1 139.3h0.78M135.0 122.1h0.78M245.8 300.2h0.78M169.3 161.8h0.78M176.7 178.2h0.78M231.6 296.8h0.78M152.0 147.4h0.78M223.9 273.3h0.78M193.4 217.7h0.78M216.0 266.2h0.78M218.7 287.3h0.78M227.8 269.5h0.78M129.4 117.2h0.78M233.0 293.5h0.78M235.4 295.9h0.78M241.3 292.9h0.78M202.0 241.3h0.78M212.7 242.0h0.78M250.7 337.8h0.78M199.1 218.4h0.78M255.7 328.5h0.78M163.6 162.4h0.78M204.6 219.1h0.78M214.0 251.6h0.78M197.2 221.2h0.78M229.7 286.2h0.78M240.7 305.6h0.78M227.0 275.4h0.78M227.8 255.7h0.78M250.0 341.3h0.78M252.9 323.0h0.78M219.4 236.9h0.78M231.1 284.5h0.78M163.5 182.7h0.78M189.0 207.0h0.78M203.4 234.5h0.78M262.3 332.3h0.78M221.5 259.0h0.78M152.8 148.0h0.78M166.2 172.1h0.78M181.7 191.0h0.78M222.6 268.3h0.78M161.2 161.4h0.78M208.5 245.0h0.78M182.9 200.5h0.78M251.6 342.9h0.78M208.7 228.8h0.78M220.2 273.9h0.78M199.1 223.7h0.78M212.4 274.8h0.78M225.9 295.9h0.78M225.7 254.4h0.78M213.9 254.8h0.78M201.0 256.5h0.78M240.9 314.1h0.78M192.6 208.4h0.78M228.3 265.4h0.78M173.2 176.4h0.78M198.3 226.2h0.78M202.0 218.4h0.78M194.6 211.3h0.78M210.7 259.7h0.78M208.0 223.7h0.78M198.5 214.7h0.78M236.9 298.2h0.78M220.6 278.0h0.78M192.7 209.6h0.78M155.1 157.0h0.78M256.2 332.9h0.78M239.3 300.9h0.78M206.6 278.8h0.78M222.0 265.0h0.78M223.5 267.2h0.78M239.1 298.7h0.78M210.5 235.3h0.78M218.3 241.4h0.78M221.8 245.2h0.78M190.9 259.0h0.78M140.4 138.2h0.78M243.3 305.3h0.78M238.4 290.0h0.78M231.8 287.0h0.78M223.2 282.6h0.78M221.2 251.7h0.78M229.2 272.7h0.78M260.0 331.5h0.78M198.3 222.0h0.78M207.9 245.4h0.78M221.0 274.9h0.78M222.5 264.6h0.78M136.5 142.8h0.78M184.6 189.5h0.78M188.9 200.1h0.78M199.5 213.8h0.78M200.0 236.4h0.78M261.8 347.2h0.78M243.8 305.9h0.78M145.7 157.3h0.78M255.0 351.3h0.78M191.9 202.7h0.78M234.4 281.7h0.78M204.3 221.5h0.78M208.1 224.2h0.78M238.1 315.8h0.78M264.6 346.2h0.78M224.9 287.6h0.78M144.8 141.3h0.78M265.9 342.6h0.78M123.1 109.4h0.78M226.6 261.5h0.78M129.6 118.0h0.78M132.3 128.2h0.78M191.9 198.8h0.78M254.3 344.3h0.78M181.1 186.4h0.78M179.7 213.1h0.78M211.2 233.3h0.78M188.6 193.4h0.78M259.8 343.5h0.78M189.3 208.5h0.78M201.9 227.9h0.78M127.9 118.3h0.78M145.5 144.4h0.78M196.3 201.2h0.78M219.9 259.5h0.78M218.2 267.8h0.78M189.0 188.8h0.78M210.4 248.3h0.78M236.5 289.0h0.78M172.5 172.7h0.78M191.4 227.6h0.78M201.4 229.2h0.78M234.9 280.2h0.78M263.4 351.5h0.78M203.1 220.0h0.78M154.0 152.1h0.78M244.2 312.1h0.78M150.4 141.1h0.78M170.1 193.3h0.78M225.7 247.9h0.78M214.1 259.5h0.78M200.9 216.2h0.78M248.2 318.9h0.78M193.4 212.5h0.78M228.8 287.6h0.78M194.9 206.0h0.78M234.6 292.4h0.78M192.9 205.7h0.78M237.7 288.8h0.78M200.5 214.3h0.78M202.1 224.0h0.78M243.4 317.8h0.78M176.8 181.5h0.78M228.5 308.2h0.78M176.3 183.2h0.78M111.0 99.1h0.78M180.6 189.5h0.78M181.0 186.8h0.78M223.0 256.8h0.78M233.5 299.2h0.78M247.2 339.6h0.78M157.1 155.3h0.78M194.5 225.4h0.78M144.2 140.0h0.78M196.7 224.7h0.78M257.5 347.7h0.78M210.3 235.1h0.78M237.4 298.7h0.78M181.2 197.1h0.78M204.8 232.4h0.78M244.2 316.0h0.78M198.1 208.7h0.78M147.5 147.5h0.78M173.0 181.3h0.78M219.3 267.9h0.78M117.8 107.6h0.78M157.1 154.1h0.78M244.0 307.2h0.78M211.9 245.0h0.78M211.2 233.5h0.78M137.5 128.7h0.78M123.9 112.6h0.78M151.2 151.2h0.78M122.2 117.4h0.78M200.0 211.6h0.78M210.4 239.3h0.78M159.7 160.3h0.78M244.5 319.2h0.78M261.3 350.1h0.78M194.3 204.1h0.78M227.7 274.8h0.78M170.1 174.3h0.78M172.4 181.7h0.78M127.4 113.1h0.78M260.9 353.3h0.78M126.0 115.9h0.78M241.2 318.6h0.78M226.9 268.7h0.78M232.6 295.3h0.78M256.1 325.1h0.78M161.0 156.8h0.78M186.2 202.9h0.78M190.3 208.4h0.78M142.6 137.9h0.78M163.2 163.9h0.78M256.1 327.1h0.78M195.7 242.7h0.78M256.4 328.2h0.78M216.8 257.4h0.78M185.3 194.8h0.78M220.9 253.0h0.78M233.0 289.0h0.78M225.2 262.4h0.78M248.9 340.1h0.78M252.3 327.1h0.78M209.6 235.8h0.78M219.4 261.8h0.78M148.7 150.9h0.78M114.6 99.7h0.78M191.6 241.7h0.78M136.4 127.6h0.78M150.5 152.0h0.78M148.2 144.7h0.78M234.6 314.8h0.78M210.8 239.2h0.78M199.2 273.5h0.78M264.3 351.2h0.78M225.2 257.8h0.78M215.4 251.9h0.78M196.5 217.5h0.78M244.3 319.2h0.78M174.6 175.1h0.78M189.9 207.1h0.78M226.1 261.8h0.78M253.6 335.9h0.78M232.9 283.2h0.78M235.5 308.4h0.78M198.0 210.1h0.78M215.8 237.9h0.78M254.0 350.4h0.78M193.6 207.9h0.78M208.9 234.8h0.78M254.4 329.1h0.78M229.2 279.7h0.78M202.3 228.5h0.78M261.3 352.8h0.78M224.6 268.8h0.78M130.0 120.1h0.78M244.7 311.3h0.78M246.0 307.3h0.78M235.6 284.0h0.78M135.6 126.6h0.78M144.0 133.9h0.78M237.2 314.7h0.78M240.0 313.7h0.78M256.6 348.0h0.78M129.6 117.4h0.78M263.3 333.6h0.78M248.0 325.7h0.78M226.9 280.8h0.78M231.4 303.6h0.78M255.4 327.6h0.78M127.0 115.7h0.78M208.0 240.3h0.78M231.9 278.6h0.78M190.5 197.7h0.78M172.4 170.6h0.78M138.0 126.1h0.78M168.7 169.8h0.78M219.1 254.0h0.78M186.8 201.9h0.78M195.6 230.6h0.78M219.3 243.7h0.78M145.5 142.4h0.78M263.4 339.9h0.78M192.9 206.2h0.78M233.7 287.3h0.78M230.1 285.2h0.78M258.0 341.8h0.78M203.5 214.3h0.78M244.8 303.3h0.78M233.7 289.9h0.78M136.5 135.4h0.78M237.7 293.6h0.78M195.3 201.8h0.78M222.1 271.4h0.78M243.3 313.0h0.78M164.0 165.2h0.78M223.4 269.5h0.78M199.8 226.9h0.78M171.4 183.5h0.78M234.8 276.3h0.78M198.4 235.6h0.78M214.9 232.0h0.78M147.0 143.7h0.78M211.1 250.4h0.78M202.0 226.6h0.78M182.2 198.5h0.78M224.7 256.8h0.78M216.0 243.9h0.78M178.9 200.1h0.78M220.6 257.4h0.78M235.9 306.2h0.78M230.7 292.3h0.78M202.4 241.1h0.78M255.2 342.4h0.78M152.5 147.8h0.78M210.2 226.6h0.78M133.6 123.0h0.78M152.2 150.0h0.78M144.7 138.5h0.78M213.2 271.7h0.78M229.0 273.9h0.78M170.1 177.4h0.78M223.8 283.2h0.78M195.5 206.3h0.78M234.6 286.7h0.78M140.7 140.5h0.78M226.0 269.9h0.78M151.6 148.1h0.78M150.3 144.9h0.78M249.8 316.6h0.78M264.5 338.3h0.78M220.9 252.0h0.78M207.7 229.1h0.78M237.4 301.5h0.78M162.4 168.4h0.78M224.1 302.1h0.78M239.7 312.7h0.78M224.6 280.2h0.78M219.8 256.7h0.78M217.6 239.9h0.78M179.6 184.2h0.78M192.5 209.1h0.78M170.2 176.7h0.78M166.7 180.0h0.78M214.8 247.9h0.78M216.8 233.7h0.78M232.9 283.2h0.78M252.9 337.5h0.78M222.6 238.4h0.78M225.2 266.1h0.78M131.3 135.2h0.78M219.2 267.4h0.78M249.5 328.3h0.78M268.0 344.6h0.78M208.6 246.1h0.78M232.0 280.7h0.78M224.3 299.3h0.78M228.1 269.4h0.78M165.0 164.5h0.78M216.4 279.3h0.78M164.7 161.8h0.78M163.8 158.8h0.78M247.5 322.4h0.78M240.9 319.7h0.78M251.2 314.6h0.78M216.6 272.1h0.78M170.2 172.4h0.78M234.5 288.2h0.78M242.2 304.2h0.78M211.2 246.6h0.78M241.3 320.0h0.78M257.1 355.7h0.78M217.6 269.0h0.78M229.4 271.8h0.78M204.5 262.7h0.78M203.0 248.1h0.78M206.6 251.6h0.78M168.9 170.9h0.78M214.5 233.9h0.78M165.0 168.9h0.78M148.3 139.8h0.78M208.0 269.2h0.78M118.1 113.5h0.78M231.8 283.3h0.78M228.6 293.8h0.78M234.9 280.9h0.78M229.7 256.1h0.78M201.4 214.3h0.78M236.5 286.8h0.78M258.7 347.5h0.78M211.4 262.9h0.78M224.3 271.6h0.78M116.1 103.4h0.78M196.2 220.0h0.78M261.2 341.9h0.78M122.5 113.0h0.78M162.4 165.3h0.78M218.0 246.2h0.78M131.8 125.5h0.78M204.4 231.6h0.78M167.5 170.8h0.78M160.3 174.0h0.78M261.4 349.1h0.78M198.0 259.1h0.78M224.7 274.8h0.78M213.7 237.7h0.78M147.8 140.5h0.78M161.7 158.9h0.78M229.1 264.8h0.78M217.4 257.5h0.78M191.0 206.7h0.78M252.5 325.8h0.78M182.0 227.1h0.78M215.9 256.7h0.78M221.4 267.4h0.78M255.0 323.9h0.78M158.1 156.5h0.78M261.7 354.1h0.78M193.2 194.8h0.78M175.7 181.1h0.78M154.0 161.1h0.78M217.6 270.0h0.78M167.8 178.2h0.78M246.1 328.9h0.78M244.9 306.5h0.78M214.9 239.2h0.78M170.8 181.3h0.78M240.4 297.1h0.78M255.0 325.3h0.78M259.2 345.5h0.78M214.9 234.8h0.78M227.5 250.8h0.78M260.4 336.4h0.78M208.9 234.8h0.78M174.9 178.7h0.78M194.7 207.1h0.78M244.4 307.4h0.78M203.8 229.6h0.78M193.5 209.3h0.78M259.4 349.3h0.78M149.7 143.8h0.78M217.1 252.4h0.78M243.9 313.4h0.78M255.4 344.8h0.78M186.9 201.4h0.78M249.1 325.3h0.78M227.3 254.1h0.78M223.4 254.7h0.78M201.2 230.1h0.78M242.3 306.6h0.78M218.2 271.8h0.78M237.4 302.6h0.78M174.5 183.6h0.78M177.3 185.1h0.78M200.3 209.0h0.78M228.5 276.8h0.78M208.9 267.8h0.78M220.7 291.3h0.78M178.8 182.1h0.78M170.7 169.6h0.78M192.5 197.3h0.78M218.0 242.5h0.78M250.6 322.7h0.78M236.5 288.5h0.78M263.5 350.2h0.78M157.0 156.1h0.78M194.4 239.0h0.78M227.9 281.4h0.78M204.1 229.1h0.78M225.2 279.8h0.78M228.6 310.2h0.78M214.3 241.4h0.78M142.2 136.0h0.78M123.2 109.9h0.78M132.2 123.1h0.78M247.4 323.9h0.78M192.3 207.0h0.78M218.7 277.3h0.78M199.0 230.1h0.78M250.5 325.0h0.78M238.8 297.5h0.78M250.1 320.8h0.78M171.3 197.5h0.78M224.9 273.6h0.78M219.8 246.7h0.78M236.6 288.6h0.78M142.1 132.4h0.78M127.5 117.4h0.78M253.6 343.0h0.78M235.8 282.3h0.78M199.8 226.2h0.78M230.6 289.4h0.78M220.8 273.1h0.78M184.7 195.9h0.78M224.6 257.5h0.78M154.8 144.3h0.78M204.6 217.0h0.78M219.5 264.9h0.78M208.6 237.9h0.78M251.7 344.0h0.78M156.3 151.8h0.78M141.7 137.9h0.78M228.4 269.9h0.78M178.7 184.0h0.78M234.1 298.8h0.78M158.4 166.6h0.78M209.0 277.1h0.78M236.5 284.5h0.78M219.8 280.1h0.78M209.2 245.2h0.78M260.1 335.3h0.78M232.1 276.9h0.78M207.6 243.6h0.78M205.8 217.3h0.78M131.2 121.6h0.78M175.1 180.8h0.78M250.3 333.9h0.78M229.4 302.5h0.78M233.4 292.6h0.78M158.4 158.7h0.78M201.4 239.5h0.78M211.9 262.2h0.78M162.6 167.7h0.78M193.8 220.7h0.78M193.7 215.7h0.78M192.9 221.2h0.78M254.8 350.7h0.78M260.4 352.8h0.78M155.5 151.3h0.78M248.7 317.3h0.78M236.1 301.1h0.78M240.1 313.1h0.78M108.9 95.1h0.78M140.7 132.3h0.78M256.9 328.4h0.78M260.9 355.6h0.78M224.2 264.8h0.78M201.2 225.0h0.78M164.3 168.5h0.78M220.7 239.6h0.78M262.9 358.3h0.78M249.3 320.0h0.78M167.6 179.6h0.78M260.9 354.6h0.78M139.1 135.5h0.78M206.8 247.4h0.78M233.5 308.1h0.78M218.3 276.3h0.78M258.2 347.6h0.78M237.0 305.0h0.78M214.3 255.7h0.78M201.4 217.8h0.78M137.5 126.9h0.78M230.1 292.7h0.78M155.7 152.7h0.78M224.3 250.3h0.78M257.8 331.0h0.78M198.6 240.2h0.78M200.5 227.0h0.78M171.7 167.6h0.78M186.5 196.2h0.78M260.4 354.4h0.78M263.5 340.0h0.78M203.3 219.2h0.78M219.8 263.9h0.78M230.9 274.6h0.78M130.8 118.7h0.78M164.7 163.6h0.78M156.7 155.8h0.78M248.9 313.3h0.78M260.0 342.5h0.78M175.4 181.7h0.78M257.1 346.4h0.78M256.4 351.4h0.78M229.3 282.7h0.78M119.7 112.4h0.78M251.2 326.5h0.78M155.8 165.3h0.78M184.2 199.8h0.78M203.3 240.3h0.78M173.1 171.0h0.78M146.5 146.7h0.78M219.1 246.7h0.78M214.7 240.7h0.78M176.0 179.4h0.78M215.9 229.3h0.78M159.6 168.4h0.78M259.4 340.5h0.78M240.4 301.2h0.78M176.7 180.6h0.78M200.7 219.9h0.78M226.3 271.9h0.78M205.6 229.8h0.78M230.4 295.0h0.78M185.1 193.0h0.78M252.8 326.0h0.78M188.2 198.7h0.78M137.8 134.3h0.78M132.2 127.7h0.78M165.7 162.6h0.78M232.5 290.7h0.78M220.2 240.0h0.78" stroke="#c3f544" stroke-width="0.78" fill="none"/>
<path d="M208.0 288.2h0.78M174.9 197.9h0.78M220.6 271.5h0.78M197.5 219.9h0.78M240.7 313.7h0.78M244.8 324.8h0.78M147.2 143.0h0.78M259.6 336.9h0.78M176.3 179.5h0.78M251.6 335.9h0.78M121.4 117.5h0.78M223.5 284.0h0.78M185.0 233.1h0.78M197.7 226.2h0.78M119.0 107.0h0.78M170.2 188.4h0.78M206.5 251.0h0.78M195.2 240.4h0.78M191.0 220.2h0.78M118.3 114.4h0.78M119.0 109.9h0.78M225.6 271.6h0.78M149.1 157.2h0.78M163.2 180.8h0.78M141.5 138.5h0.78M131.8 127.7h0.78M251.7 335.8h0.78M145.4 165.4h0.78M212.3 243.1h0.78M227.6 264.5h0.78M151.6 158.6h0.78M217.1 278.8h0.78M212.5 283.6h0.78M164.0 181.0h0.78M193.6 215.3h0.78M167.5 176.1h0.78M228.9 295.9h0.78M215.4 276.1h0.78M112.9 100.3h0.78M211.7 256.6h0.78M198.2 237.8h0.78M231.0 309.6h0.78M161.7 164.4h0.78M251.7 339.0h0.78M218.4 291.2h0.78M220.5 274.9h0.78M195.1 205.7h0.78M234.3 303.7h0.78M203.2 258.8h0.78M215.4 271.0h0.78M141.0 141.4h0.78M223.4 293.8h0.78M127.8 137.2h0.78M194.8 214.2h0.78M176.4 208.5h0.78M187.8 234.4h0.78M170.0 235.1h0.78M202.1 240.5h0.78M207.0 241.9h0.78M218.1 277.3h0.78M156.9 167.4h0.78M234.1 315.4h0.78M173.8 192.3h0.78M211.2 262.1h0.78M198.9 221.0h0.78M191.5 225.2h0.78M181.3 209.4h0.78M245.5 333.4h0.78M225.3 294.7h0.78M159.4 164.2h0.78M225.3 292.4h0.78M152.6 157.8h0.78M248.5 334.9h0.78M156.9 168.1h0.78M221.4 256.5h0.78M192.4 207.2h0.78M226.3 310.2h0.78M197.9 249.2h0.78M121.2 114.1h0.78M255.2 334.2h0.78M194.3 214.2h0.78M142.7 141.3h0.78M125.4 118.2h0.78M180.0 183.1h0.78M138.1 131.1h0.78M218.4 280.2h0.78M153.0 150.6h0.78M189.2 235.8h0.78M247.4 333.5h0.78M219.5 304.3h0.78M216.6 290.2h0.78M223.6 283.4h0.78M250.4 330.9h0.78M233.5 293.1h0.78M217.2 295.4h0.78M176.2 226.1h0.78M222.2 303.1h0.78M190.1 203.5h0.78M182.4 226.4h0.78M233.4 293.4h0.78M246.4 324.6h0.78M253.7 349.8h0.78M217.0 295.3h0.78M213.2 260.1h0.78M250.2 337.1h0.78M211.8 253.6h0.78M223.4 298.9h0.78M185.2 245.0h0.78M167.9 173.9h0.78M192.5 227.5h0.78M232.7 312.9h0.78M187.8 211.0h0.78M136.6 139.1h0.78M229.6 302.8h0.78M194.0 250.3h0.78M185.3 220.8h0.78M198.7 234.6h0.78M137.4 133.0h0.78M125.7 127.7h0.78M204.1 220.4h0.78M256.9 338.9h0.78M206.0 237.7h0.78M222.3 310.5h0.78M223.9 270.3h0.78M213.6 274.4h0.78M210.4 238.4h0.78M209.7 282.3h0.78M217.5 282.6h0.78M205.0 241.4h0.78M139.0 129.1h0.78M175.8 223.1h0.78M234.4 315.1h0.78M196.9 231.0h0.78M201.7 239.7h0.78M215.6 275.5h0.78M137.1 135.5h0.78M215.9 288.0h0.78M189.9 221.3h0.78M250.8 340.3h0.78M195.2 228.3h0.78M199.4 255.8h0.78M188.5 236.1h0.78M194.0 214.3h0.78M220.7 251.6h0.78M182.7 197.9h0.78M186.8 223.1h0.78M197.0 236.3h0.78M186.8 219.5h0.78M193.2 239.0h0.78M214.3 275.0h0.78M154.8 180.8h0.78M217.6 252.8h0.78M187.0 215.5h0.78M200.9 258.3h0.78M194.2 219.5h0.78M213.1 281.8h0.78M184.3 205.8h0.78M217.3 275.4h0.78M159.0 177.8h0.78M204.7 250.4h0.78M180.5 216.6h0.78M193.2 229.0h0.78M185.8 196.5h0.78M189.6 247.2h0.78M156.2 157.1h0.78M192.2 219.9h0.78M222.5 295.9h0.78M237.4 303.2h0.78M180.0 189.6h0.78M196.1 248.8h0.78M222.0 269.2h0.78M204.6 227.9h0.78M199.4 260.0h0.78M121.6 119.9h0.78M242.8 311.5h0.78M184.4 213.7h0.78M160.9 184.2h0.78M214.1 294.9h0.78M179.4 227.3h0.78M209.5 268.5h0.78M192.8 254.1h0.78M156.6 156.8h0.78M229.0 278.3h0.78M202.0 228.6h0.78M117.1 113.0h0.78M163.6 194.7h0.78M163.1 178.5h0.78M127.7 124.5h0.78M191.6 201.7h0.78M237.0 295.1h0.78M225.5 291.4h0.78M233.6 305.1h0.78M199.4 232.8h0.78M195.3 225.3h0.78M254.5 332.5h0.78M150.6 150.8h0.78M202.1 257.2h0.78M241.5 322.1h0.78M239.9 319.8h0.78M198.1 215.3h0.78M193.4 203.6h0.78M232.9 297.7h0.78M203.8 223.4h0.78M171.5 187.4h0.78M195.2 226.9h0.78M239.0 315.8h0.78M159.4 182.5h0.78M198.0 230.8h0.78M188.8 238.6h0.78M183.2 250.8h0.78M226.5 294.3h0.78M177.6 183.4h0.78M207.6 264.6h0.78M200.2 220.3h0.78M183.4 205.7h0.78M135.8 131.3h0.78M216.5 275.8h0.78M136.7 161.9h0.78M221.3 262.1h0.78M186.1 240.3h0.78M217.5 298.8h0.78M132.7 121.8h0.78M254.0 341.4h0.78M228.5 285.7h0.78M214.4 252.8h0.78M220.5 272.0h0.78M192.0 212.9h0.78M200.3 219.0h0.78M139.9 131.1h0.78M222.7 306.2h0.78M201.7 271.4h0.78M239.2 314.4h0.78M194.8 238.2h0.78M201.8 242.5h0.78M161.5 222.8h0.78M252.8 342.2h0.78M245.3 322.9h0.78M214.9 281.4h0.78M159.6 160.2h0.78M146.0 148.8h0.78M241.3 309.9h0.78M230.5 273.3h0.78M212.3 237.3h0.78M235.7 313.9h0.78M222.2 288.5h0.78M199.2 223.7h0.78M226.8 277.6h0.78M155.1 163.8h0.78M206.4 238.6h0.78M237.4 291.4h0.78M248.5 322.5h0.78M181.0 236.4h0.78M146.1 155.2h0.78M115.3 107.0h0.78M207.1 236.7h0.78M187.0 259.3h0.78M174.5 198.7h0.78M193.8 254.5h0.78M173.6 213.4h0.78M245.0 316.8h0.78M173.3 215.8h0.78M257.0 342.3h0.78M159.7 154.8h0.78M159.3 163.3h0.78M121.6 109.1h0.78M223.6 281.1h0.78M168.1 217.6h0.78M221.3 280.4h0.78M225.0 309.4h0.78M201.6 243.3h0.78M126.8 129.8h0.78M181.8 205.3h0.78M192.4 232.0h0.78M126.9 118.9h0.78M146.0 160.5h0.78M166.6 179.3h0.78M185.5 258.2h0.78M205.6 233.0h0.78M116.9 135.0h0.78M157.4 160.3h0.78M205.9 260.8h0.78M216.6 289.2h0.78M188.2 209.3h0.78M169.0 193.4h0.78M188.5 205.2h0.78M164.6 166.6h0.78M238.0 297.8h0.78M226.2 286.6h0.78M228.3 304.4h0.78M250.1 335.2h0.78M212.2 278.1h0.78M138.0 134.8h0.78M214.0 272.6h0.78M178.1 205.1h0.78M206.5 239.7h0.78M181.1 221.0h0.78M191.7 232.3h0.78M150.0 150.4h0.78M200.0 231.2h0.78M218.4 295.0h0.78M191.0 257.4h0.78M231.9 288.0h0.78M136.7 134.3h0.78M246.7 322.9h0.78M125.1 112.8h0.78M254.5 334.0h0.78M168.4 176.9h0.78M143.2 135.9h0.78M252.7 338.9h0.78M249.3 337.3h0.78M196.1 219.0h0.78M204.5 273.3h0.78M150.1 178.5h0.78M190.5 214.6h0.78M257.0 354.0h0.78M210.6 237.7h0.78M238.9 325.1h0.78M156.8 174.9h0.78M234.8 308.6h0.78M212.6 244.2h0.78M193.2 250.7h0.78M156.6 157.8h0.78M201.9 250.9h0.78M161.1 172.5h0.78M166.5 170.0h0.78M207.4 277.4h0.78M127.6 127.8h0.78M250.6 336.2h0.78M203.8 250.4h0.78M193.2 240.2h0.78M200.0 282.9h0.78M150.3 148.2h0.78M175.7 193.6h0.78M214.6 282.2h0.78M159.0 181.8h0.78M169.0 187.2h0.78M178.3 207.5h0.78M163.5 166.5h0.78M219.7 279.8h0.78M249.8 330.3h0.78M204.3 231.3h0.78M209.2 282.2h0.78M175.8 224.4h0.78M228.8 314.6h0.78M237.7 321.5h0.78M142.3 157.0h0.78M201.2 263.9h0.78M205.8 283.7h0.78M224.1 290.3h0.78M136.3 138.5h0.78M198.8 250.2h0.78M241.7 330.5h0.78M168.0 179.1h0.78M227.9 288.7h0.78M195.7 266.3h0.78M207.7 226.2h0.78M121.9 116.6h0.78M152.5 160.3h0.78M168.7 173.6h0.78M194.9 246.8h0.78M187.7 203.4h0.78M108.6 94.4h0.78M217.4 252.7h0.78M262.1 341.5h0.78M157.8 190.6h0.78M214.8 282.8h0.78M233.9 283.4h0.78M229.6 315.5h0.78M155.9 160.1h0.78M191.0 218.6h0.78M248.0 333.1h0.78M226.2 298.0h0.78M151.9 144.9h0.78M210.6 243.5h0.78M119.3 146.5h0.78M162.5 166.3h0.78M160.2 163.2h0.78M179.0 206.4h0.78M183.0 234.9h0.78M239.3 320.2h0.78M155.9 173.8h0.78M158.5 212.5h0.78M178.6 192.3h0.78M167.3 202.4h0.78M186.8 249.2h0.78M193.0 264.0h0.78M164.4 179.3h0.78M138.0 136.4h0.78M214.9 241.9h0.78M200.8 249.5h0.78M254.6 340.1h0.78M237.1 296.5h0.78M209.7 274.0h0.78M195.6 224.6h0.78M251.7 327.9h0.78M210.8 277.7h0.78M217.6 255.6h0.78M144.4 140.1h0.78M177.4 185.5h0.78M219.2 293.7h0.78M243.3 332.9h0.78M249.7 342.9h0.78M203.4 261.9h0.78M117.0 101.6h0.78M173.8 204.0h0.78M197.4 253.1h0.78M238.4 319.8h0.78M177.3 198.0h0.78M249.3 341.9h0.78M234.9 317.0h0.78M190.3 241.1h0.78M234.9 309.8h0.78M178.0 200.9h0.78M161.4 166.6h0.78M185.7 232.4h0.78M125.2 122.4h0.78M234.9 308.8h0.78M134.3 158.5h0.78M210.0 265.7h0.78M173.9 184.4h0.78M169.2 184.9h0.78M217.4 252.7h0.78M195.6 229.2h0.78M205.8 283.3h0.78M205.2 239.4h0.78M171.7 175.3h0.78M196.7 251.3h0.78M162.5 176.4h0.78M190.1 227.3h0.78M192.5 219.0h0.78M189.0 227.9h0.78M126.6 124.1h0.78M184.3 236.0h0.78M201.8 253.7h0.78M210.7 265.9h0.78M122.3 109.8h0.78M219.0 291.2h0.78M251.1 342.6h0.78M215.4 252.3h0.78M173.7 185.3h0.78M149.2 161.2h0.78M169.2 192.8h0.78M240.3 322.5h0.78M186.2 199.8h0.78M256.9 333.1h0.78M209.0 256.3h0.78M194.0 262.5h0.78M154.1 158.3h0.78M156.5 159.9h0.78M192.9 214.5h0.78M229.6 284.2h0.78M185.3 247.1h0.78M186.2 203.8h0.78M196.1 243.1h0.78M203.5 231.4h0.78M155.1 173.0h0.78M216.5 285.2h0.78M174.2 182.7h0.78M196.8 211.5h0.78M200.3 223.2h0.78M177.6 191.3h0.78M211.7 252.4h0.78M249.1 316.2h0.78M158.5 178.5h0.78M206.9 262.5h0.78M201.0 246.4h0.78M206.0 256.0h0.78M112.0 100.5h0.78M175.8 196.7h0.78M242.9 336.7h0.78M168.3 184.6h0.78M122.4 113.8h0.78M217.1 273.4h0.78M172.3 187.8h0.78M238.2 300.5h0.78M188.1 240.5h0.78M173.9 181.5h0.78M117.5 106.4h0.78M247.5 338.1h0.78M184.1 207.1h0.78M251.8 338.1h0.78M250.4 320.8h0.78M147.5 170.7h0.78M119.5 103.9h0.78M198.6 236.4h0.78M141.4 134.0h0.78M143.2 142.9h0.78M212.2 246.0h0.78M165.0 184.4h0.78M183.4 200.2h0.78M146.6 140.9h0.78M213.9 258.2h0.78M170.4 210.6h0.78M202.0 234.9h0.78M167.8 173.4h0.78M251.8 331.9h0.78M201.4 251.2h0.78M178.3 248.1h0.78M166.1 196.5h0.78M243.7 335.2h0.78M122.5 113.2h0.78M184.3 235.2h0.78M215.4 284.0h0.78M239.0 314.4h0.78M189.2 206.1h0.78M259.3 349.9h0.78M237.7 308.5h0.78M157.6 160.3h0.78M220.0 305.6h0.78M202.0 233.0h0.78M198.9 268.6h0.78M152.9 168.7h0.78M221.5 278.3h0.78M184.2 199.1h0.78M159.9 164.9h0.78M142.1 148.1h0.78M195.0 254.4h0.78M156.3 175.3h0.78M124.6 121.2h0.78M163.5 187.0h0.78M231.1 294.1h0.78M155.0 156.3h0.78M202.9 231.8h0.78M220.8 307.1h0.78M154.4 172.6h0.78M190.9 200.5h0.78M198.6 271.4h0.78M218.7 278.8h0.78M164.0 174.0h0.78M198.1 249.6h0.78M229.2 299.1h0.78M144.3 139.0h0.78M191.0 215.3h0.78M217.2 282.2h0.78M168.9 186.1h0.78M191.7 240.9h0.78M247.2 337.8h0.78M212.8 267.9h0.78M206.7 259.2h0.78M203.3 224.0h0.78M141.6 174.6h0.78M204.6 255.8h0.78M175.7 178.9h0.78M204.1 266.0h0.78M208.8 269.3h0.78M151.1 166.7h0.78M172.6 187.9h0.78M198.3 216.9h0.78M176.4 189.6h0.78M193.1 220.1h0.78M120.2 114.2h0.78M212.5 266.7h0.78M227.9 300.6h0.78M217.8 270.6h0.78M132.4 152.4h0.78M159.0 175.8h0.78M151.5 154.3h0.78M235.0 324.2h0.78M213.5 278.1h0.78M215.7 294.0h0.78M216.9 281.4h0.78M231.3 291.4h0.78M137.4 136.2h0.78M134.4 130.2h0.78M180.4 192.9h0.78M240.8 320.3h0.78M186.8 256.4h0.78M221.1 304.0h0.78M144.5 144.7h0.78M206.7 291.9h0.78M226.5 277.6h0.78M250.0 345.4h0.78M214.8 288.7h0.78M222.1 299.2h0.78M185.6 216.1h0.78M212.0 257.3h0.78M179.3 199.0h0.78M157.1 158.1h0.78M172.7 188.7h0.78M183.4 196.1h0.78M209.1 256.4h0.78M196.8 227.0h0.78M189.3 213.3h0.78M216.6 276.4h0.78M214.1 296.0h0.78M232.0 308.0h0.78M225.4 291.9h0.78M133.4 165.6h0.78M250.8 326.4h0.78M229.2 303.1h0.78M257.6 344.3h0.78M190.9 246.9h0.78M173.3 206.3h0.78M227.2 298.1h0.78M216.2 266.2h0.78M183.6 195.8h0.78M227.5 304.7h0.78M134.4 139.7h0.78M192.5 230.3h0.78M219.4 289.3h0.78M236.2 311.9h0.78M215.6 251.0h0.78M184.8 195.7h0.78M219.5 287.1h0.78M200.9 229.8h0.78M170.1 189.5h0.78M126.1 122.1h0.78M202.4 231.1h0.78M154.0 155.2h0.78M164.1 172.8h0.78M182.6 223.0h0.78M164.0 175.1h0.78M159.1 169.5h0.78M219.5 278.7h0.78M230.4 287.3h0.78M190.0 208.8h0.78M163.5 172.5h0.78M172.4 195.2h0.78M179.2 236.1h0.78M185.4 208.3h0.78M231.2 305.1h0.78M243.7 330.0h0.78M149.9 146.0h0.78M111.0 125.4h0.78M189.3 210.8h0.78M121.5 112.3h0.78M204.5 257.1h0.78M207.3 236.0h0.78M154.7 165.3h0.78M143.5 153.3h0.78M174.1 182.5h0.78M154.3 156.8h0.78M235.8 313.2h0.78M151.6 181.7h0.78M156.9 147.9h0.78M164.1 203.4h0.78M210.0 241.3h0.78M129.7 126.1h0.78M191.2 253.6h0.78M177.0 221.0h0.78M188.9 233.3h0.78M169.3 233.1h0.78M189.8 208.9h0.78M130.1 151.1h0.78M207.3 253.3h0.78M206.8 249.2h0.78M184.3 210.3h0.78M180.5 212.3h0.78M210.4 276.8h0.78M126.3 136.5h0.78M214.6 298.2h0.78M160.2 161.6h0.78M176.2 202.4h0.78M151.3 152.1h0.78M169.3 174.6h0.78M228.5 297.4h0.78M153.9 182.7h0.78M186.0 207.5h0.78M238.6 303.0h0.78M219.2 280.4h0.78M198.4 263.0h0.78M160.8 166.9h0.78M147.0 146.3h0.78M116.9 105.3h0.78M155.4 158.6h0.78M224.7 315.2h0.78M218.4 291.2h0.78M160.7 183.2h0.78M239.4 327.4h0.78M170.4 185.5h0.78M189.7 218.0h0.78M180.3 214.1h0.78M173.5 205.1h0.78M190.1 228.9h0.78M211.4 241.5h0.78M251.3 336.1h0.78M207.5 234.4h0.78M226.5 300.7h0.78M247.4 327.4h0.78M200.3 261.7h0.78M206.3 238.8h0.78M172.9 192.9h0.78M179.9 235.1h0.78M180.2 205.7h0.78M175.3 190.8h0.78M147.9 154.7h0.78M257.9 337.9h0.78M126.2 120.3h0.78M178.7 203.1h0.78M203.9 237.2h0.78M202.0 223.5h0.78M126.6 121.3h0.78M171.8 183.8h0.78M256.3 335.4h0.78M142.3 146.5h0.78M258.4 346.6h0.78M168.9 179.2h0.78M207.9 267.0h0.78M214.7 264.5h0.78M179.0 239.2h0.78M193.6 221.4h0.78M181.6 206.7h0.78M154.5 162.0h0.78M184.9 211.5h0.78M180.9 205.4h0.78M253.3 333.7h0.78M234.1 295.1h0.78M194.1 222.6h0.78M157.4 183.0h0.78M180.9 187.0h0.78M212.8 275.8h0.78M178.3 225.0h0.78M171.1 194.2h0.78M159.3 179.1h0.78M222.7 280.9h0.78M223.1 262.1h0.78M246.9 324.1h0.78M192.8 232.0h0.78M218.1 275.4h0.78M141.8 135.2h0.78M156.8 159.1h0.78M229.2 290.8h0.78M250.6 327.8h0.78M213.9 283.0h0.78M195.4 224.1h0.78M223.4 303.9h0.78M141.0 137.4h0.78M262.1 337.1h0.78M115.1 105.1h0.78M142.7 158.3h0.78M136.9 140.5h0.78M174.3 188.1h0.78M169.9 178.1h0.78M228.5 295.1h0.78M194.8 244.0h0.78M192.4 225.1h0.78M141.9 149.1h0.78M199.4 248.1h0.78M138.9 179.8h0.78M199.7 267.5h0.78M175.7 205.6h0.78M146.4 138.5h0.78M220.8 280.0h0.78M194.3 227.6h0.78M251.5 346.0h0.78M255.6 337.7h0.78M215.7 253.6h0.78M200.5 247.7h0.78M190.2 211.7h0.78M112.3 98.6h0.78M225.6 299.9h0.78M230.3 283.5h0.78M191.3 223.1h0.78M159.9 158.4h0.78M179.3 195.2h0.78M193.0 244.3h0.78M248.6 331.6h0.78M203.7 245.6h0.78M179.8 211.0h0.78M219.0 282.8h0.78M186.0 208.6h0.78M181.5 198.4h0.78M115.0 111.7h0.78M116.5 113.8h0.78M235.0 294.9h0.78M217.6 289.8h0.78M251.0 324.8h0.78M202.3 247.5h0.78M159.2 163.0h0.78M203.4 260.5h0.78M134.4 142.2h0.78M150.0 156.3h0.78M224.9 288.6h0.78M166.5 176.3h0.78M228.8 267.1h0.78M134.8 135.6h0.78M198.4 235.7h0.78M182.2 245.6h0.78M188.7 212.8h0.78M241.0 323.5h0.78M137.0 131.3h0.78M243.1 329.9h0.78M124.7 116.4h0.78M189.3 213.7h0.78M235.7 313.4h0.78M258.6 330.6h0.78M169.4 176.5h0.78M210.1 275.7h0.78M212.0 278.5h0.78M160.9 162.0h0.78M216.4 292.4h0.78M248.9 319.1h0.78M201.4 249.6h0.78M196.2 239.9h0.78M164.5 183.1h0.78M206.7 271.2h0.78M163.8 162.7h0.78M233.4 325.5h0.78M256.1 346.6h0.78M129.7 138.9h0.78M246.8 326.1h0.78M233.5 304.3h0.78M227.7 306.2h0.78M133.6 125.6h0.78M248.9 324.7h0.78M126.9 121.1h0.78M227.3 287.0h0.78M237.8 320.5h0.78M191.7 222.4h0.78M170.6 173.9h0.78M180.6 203.6h0.78M229.9 290.9h0.78M216.4 241.1h0.78M226.0 309.2h0.78M130.5 125.3h0.78M150.0 149.9h0.78M226.2 290.9h0.78M135.5 172.0h0.78M137.3 136.9h0.78M212.6 260.0h0.78M240.0 311.8h0.78M127.6 127.5h0.78M207.1 222.7h0.78M168.8 182.0h0.78M165.7 194.5h0.78M246.3 320.0h0.78M177.0 208.8h0.78M223.6 276.9h0.78M198.6 235.3h0.78M141.5 134.8h0.78M202.9 221.6h0.78M215.8 283.1h0.78M195.6 244.1h0.78M151.5 161.4h0.78M228.3 303.3h0.78M178.5 187.7h0.78M181.9 190.2h0.78M212.3 276.4h0.78M152.2 171.4h0.78M195.5 221.4h0.78M179.9 224.0h0.78M205.7 254.4h0.78M160.3 184.8h0.78M180.4 207.1h0.78M210.4 256.4h0.78M241.6 309.8h0.78M192.1 245.8h0.78M118.3 121.6h0.78M182.9 199.0h0.78M198.2 245.6h0.78M207.6 284.2h0.78M223.0 297.1h0.78M174.5 195.2h0.78M184.1 208.4h0.78M209.6 258.2h0.78M239.7 304.5h0.78M238.1 305.0h0.78M133.2 141.6h0.78M170.6 182.0h0.78M237.5 329.8h0.78M113.0 102.3h0.78M189.5 215.6h0.78M208.6 254.6h0.78M156.2 163.9h0.78M186.8 238.9h0.78M110.8 96.9h0.78M162.6 177.3h0.78M220.2 290.9h0.78M185.0 208.8h0.78M212.3 296.4h0.78M139.7 140.5h0.78M229.6 309.9h0.78M247.2 320.6h0.78M180.2 220.8h0.78M241.7 321.4h0.78M175.3 207.3h0.78M215.8 245.7h0.78M221.5 282.1h0.78M127.2 123.9h0.78M202.2 238.7h0.78M139.8 132.4h0.78M262.1 352.5h0.78M210.2 254.7h0.78M175.5 204.5h0.78M212.5 256.7h0.78M208.8 269.1h0.78M221.8 294.6h0.78M228.6 271.3h0.78M200.7 230.2h0.78M186.6 237.4h0.78M154.7 147.8h0.78M173.6 200.0h0.78M220.9 307.3h0.78M212.2 282.7h0.78M169.0 173.5h0.78M253.3 332.7h0.78M174.3 194.9h0.78M233.3 283.4h0.78M233.4 296.0h0.78M213.7 240.1h0.78M169.9 181.2h0.78M255.8 338.9h0.78M221.7 292.7h0.78M158.9 160.2h0.78M168.8 191.4h0.78M218.8 304.3h0.78M194.3 243.9h0.78M245.0 313.9h0.78M187.0 206.7h0.78M115.8 102.8h0.78M228.4 301.7h0.78M117.3 120.4h0.78M166.0 167.2h0.78M195.3 238.8h0.78M224.0 294.9h0.78M143.8 141.0h0.78M218.2 268.6h0.78M241.3 326.5h0.78M211.2 257.3h0.78M233.4 311.8h0.78M240.2 300.3h0.78M214.9 302.1h0.78M238.3 300.1h0.78M145.1 141.9h0.78M206.7 287.2h0.78M212.7 281.4h0.78M217.7 286.8h0.78M199.0 228.5h0.78M125.7 115.0h0.78M189.7 197.3h0.78M220.9 279.9h0.78M122.9 125.7h0.78M235.3 311.0h0.78M243.7 325.3h0.78M187.7 219.0h0.78M180.6 207.3h0.78M198.2 226.4h0.78M203.1 231.2h0.78M199.3 236.3h0.78M183.9 222.6h0.78M214.0 296.7h0.78M203.3 267.6h0.78M153.2 169.1h0.78M201.6 248.5h0.78M125.6 115.3h0.78M170.0 190.0h0.78M201.0 223.3h0.78M189.9 255.7h0.78M205.2 240.3h0.78M218.7 261.7h0.78M167.3 199.0h0.78M190.2 212.2h0.78M179.3 193.9h0.78M148.6 150.5h0.78M149.5 153.4h0.78M244.2 317.6h0.78M239.6 331.3h0.78M219.8 264.6h0.78M172.0 186.3h0.78M119.8 138.0h0.78M201.0 248.7h0.78M216.5 273.8h0.78M154.8 156.4h0.78M249.9 326.9h0.78M113.4 99.7h0.78M211.8 253.2h0.78M199.6 230.8h0.78M124.2 117.1h0.78M142.8 145.4h0.78M167.8 208.3h0.78M177.9 214.6h0.78M238.3 301.9h0.78M225.0 299.1h0.78M158.1 167.9h0.78M140.2 143.1h0.78M228.3 282.6h0.78M214.2 276.7h0.78M210.2 249.7h0.78M253.6 351.0h0.78M164.1 167.4h0.78M206.3 272.5h0.78M218.2 296.1h0.78M234.6 306.3h0.78M179.0 194.8h0.78M220.8 271.3h0.78M225.8 308.5h0.78M193.7 221.8h0.78M226.9 306.5h0.78M227.1 303.6h0.78M216.4 271.0h0.78M177.8 195.9h0.78M217.0 254.5h0.78M137.4 138.1h0.78M213.7 254.9h0.78M140.5 135.8h0.78M146.6 163.6h0.78M220.9 305.8h0.78M156.2 160.6h0.78M245.5 332.5h0.78M163.2 177.0h0.78M229.3 287.5h0.78M180.1 223.6h0.78M198.7 251.2h0.78M233.6 320.2h0.78M255.7 333.6h0.78M170.3 174.7h0.78M175.5 193.6h0.78M183.9 197.5h0.78M167.9 189.1h0.78M148.5 162.9h0.78M168.4 177.0h0.78M230.2 305.9h0.78M212.1 255.8h0.78M259.4 332.8h0.78M197.7 233.1h0.78M173.7 202.7h0.78M237.3 320.9h0.78M242.8 330.0h0.78M159.6 174.7h0.78M207.6 254.4h0.78M229.5 290.1h0.78M249.1 317.1h0.78M131.9 127.5h0.78M256.6 339.1h0.78M155.8 156.2h0.78M207.7 261.6h0.78M139.7 139.7h0.78M187.7 211.1h0.78M184.5 192.6h0.78M207.7 254.1h0.78M148.5 151.4h0.78M232.0 308.0h0.78M230.7 289.6h0.78M187.3 241.5h0.78M135.7 133.6h0.78M192.1 221.7h0.78M190.9 229.6h0.78M244.8 321.4h0.78M229.4 309.5h0.78M193.8 227.4h0.78M251.3 334.6h0.78M205.0 285.2h0.78M203.9 236.8h0.78M124.4 121.6h0.78M217.4 263.5h0.78M184.8 234.6h0.78M229.4 274.8h0.78M235.0 298.9h0.78M207.4 239.2h0.78M256.1 330.0h0.78M200.2 257.6h0.78M160.1 179.0h0.78M223.5 274.5h0.78M136.4 128.0h0.78M209.6 268.3h0.78M227.6 317.4h0.78M183.6 197.4h0.78M196.4 234.1h0.78M249.0 321.6h0.78M244.1 317.1h0.78M215.3 287.4h0.78M189.9 203.8h0.78M246.9 332.8h0.78M150.5 155.1h0.78M221.4 287.4h0.78M190.2 207.8h0.78M235.8 296.1h0.78M169.5 181.5h0.78M153.2 152.7h0.78M220.5 286.6h0.78M168.4 188.1h0.78M225.7 292.2h0.78M158.7 163.5h0.78M217.3 284.3h0.78M143.8 147.9h0.78M160.2 162.4h0.78M126.4 118.2h0.78M222.9 298.4h0.78M194.1 245.4h0.78M162.4 175.9h0.78M229.6 271.8h0.78M209.2 271.6h0.78M181.2 194.5h0.78M123.6 117.4h0.78M214.4 288.7h0.78M237.7 326.8h0.78M185.3 195.2h0.78M133.3 119.7h0.78M195.2 214.6h0.78M176.2 199.0h0.78M252.9 320.6h0.78M172.6 175.9h0.78M192.9 228.1h0.78M184.6 220.5h0.78M150.3 154.1h0.78M200.8 230.1h0.78M242.4 324.5h0.78M216.6 278.3h0.78M258.1 339.3h0.78M210.1 290.4h0.78M184.8 254.3h0.78M142.4 137.9h0.78M227.0 269.6h0.78M205.8 239.0h0.78M237.7 312.5h0.78M257.4 338.0h0.78M178.7 204.6h0.78M247.2 330.4h0.78M227.3 307.4h0.78M201.7 226.8h0.78M217.0 257.4h0.78M239.2 293.5h0.78M214.5 283.8h0.78M171.4 198.4h0.78M255.5 348.7h0.78M199.9 281.8h0.78M139.7 151.0h0.78M178.5 206.4h0.78M161.2 160.4h0.78M216.1 240.0h0.78M177.0 200.3h0.78M128.4 122.4h0.78M126.7 123.2h0.78M204.5 275.1h0.78M212.5 263.8h0.78M177.3 201.9h0.78M210.0 277.0h0.78M121.3 116.4h0.78M231.2 300.2h0.78M143.3 150.8h0.78M218.8 281.7h0.78M184.4 214.8h0.78M202.4 266.0h0.78M202.6 277.1h0.78M148.0 153.7h0.78M175.4 189.7h0.78M220.6 289.1h0.78M175.2 198.3h0.78M201.6 223.5h0.78M177.3 202.2h0.78M151.6 149.4h0.78M225.7 299.6h0.78M193.8 212.9h0.78M141.4 152.6h0.78M227.3 280.7h0.78M196.3 247.4h0.78M186.8 230.5h0.78M159.6 166.5h0.78M200.1 253.8h0.78M240.0 311.9h0.78M253.6 336.8h0.78M207.1 251.2h0.78M253.0 341.1h0.78M229.5 320.3h0.78M217.5 287.2h0.78M159.6 173.6h0.78M231.7 310.8h0.78M191.4 243.6h0.78M190.8 261.5h0.78M245.7 325.3h0.78M179.1 195.2h0.78M160.9 181.7h0.78M249.9 335.7h0.78M224.8 303.6h0.78M214.7 294.2h0.78M162.1 187.1h0.78M163.0 169.2h0.78M196.0 226.2h0.78M199.4 226.7h0.78M108.2 109.1h0.78M177.1 226.5h0.78M262.2 335.1h0.78M234.3 285.9h0.78M111.8 101.4h0.78M234.2 306.8h0.78M196.6 231.7h0.78M203.1 223.9h0.78M240.8 307.5h0.78M240.0 326.0h0.78M138.7 136.1h0.78M140.1 132.4h0.78M209.4 293.5h0.78M198.4 226.8h0.78M187.8 217.7h0.78M211.2 246.2h0.78M160.7 181.6h0.78M234.0 306.0h0.78M168.8 177.0h0.78M136.2 135.7h0.78M188.2 235.4h0.78M145.3 143.8h0.78M143.1 161.4h0.78M238.9 309.9h0.78M253.2 345.2h0.78M186.4 207.4h0.78M248.8 336.3h0.78M205.4 249.9h0.78M216.3 239.6h0.78M220.0 286.3h0.78M181.0 244.3h0.78M168.2 180.9h0.78M249.8 335.5h0.78M191.7 222.0h0.78M189.9 243.8h0.78M159.5 158.9h0.78M183.8 217.0h0.78M241.5 304.8h0.78M225.6 278.0h0.78M222.8 273.1h0.78M142.9 146.8h0.78M133.9 156.4h0.78M139.0 145.2h0.78M181.5 205.5h0.78M181.1 190.0h0.78M247.5 318.3h0.78M231.1 273.9h0.78M122.6 149.3h0.78M163.1 195.1h0.78M215.2 282.2h0.78M117.2 105.6h0.78M230.3 300.3h0.78M224.4 291.8h0.78M160.3 206.1h0.78M166.2 177.0h0.78M219.5 291.5h0.78M173.4 207.6h0.78M201.9 242.7h0.78M143.3 161.0h0.78M147.5 156.8h0.78M163.1 185.3h0.78M117.6 113.7h0.78M183.0 202.6h0.78M196.3 230.0h0.78M128.4 121.1h0.78M207.3 226.0h0.78M213.5 275.5h0.78M201.9 281.1h0.78M149.0 166.0h0.78M253.6 340.3h0.78M211.1 258.2h0.78M116.9 103.2h0.78M195.1 237.3h0.78M225.1 256.2h0.78M246.9 332.3h0.78M111.8 112.4h0.78M194.9 215.7h0.78M135.6 153.5h0.78M165.0 185.4h0.78M146.8 141.8h0.78M238.9 317.8h0.78M200.1 225.7h0.78M157.1 170.1h0.78M188.8 249.1h0.78M126.0 139.6h0.78M205.6 248.1h0.78M261.5 336.9h0.78M247.2 332.2h0.78M225.1 284.2h0.78M216.8 258.0h0.78M257.9 344.1h0.78M257.1 336.4h0.78M252.2 336.6h0.78M187.0 219.4h0.78M188.7 198.6h0.78M199.2 269.8h0.78M176.2 190.8h0.78M210.1 244.9h0.78M198.9 257.2h0.78M237.7 314.2h0.78M135.5 137.4h0.78M164.4 169.8h0.78M263.7 336.8h0.78M211.7 249.4h0.78M153.5 156.5h0.78M198.5 237.5h0.78M233.0 306.0h0.78M227.8 309.4h0.78M203.0 265.6h0.78M203.8 232.4h0.78M191.0 225.9h0.78M225.7 311.4h0.78M202.8 252.9h0.78M217.5 258.0h0.78M239.2 300.1h0.78M228.8 316.8h0.78M200.9 263.8h0.78M153.1 162.7h0.78M262.2 347.9h0.78M232.9 298.4h0.78M178.5 204.1h0.78M215.1 258.8h0.78M140.6 140.0h0.78M201.8 231.6h0.78M231.9 291.2h0.78M189.4 217.3h0.78M192.9 229.8h0.78M165.0 201.9h0.78M197.1 256.1h0.78M212.9 246.4h0.78M218.1 288.8h0.78M147.4 168.8h0.78M150.4 149.9h0.78M242.3 314.1h0.78M208.6 230.5h0.78M178.8 194.7h0.78M212.4 255.0h0.78M203.1 278.6h0.78M225.0 273.9h0.78M200.8 235.4h0.78M218.3 273.1h0.78M160.8 166.6h0.78M187.0 228.6h0.78M192.0 213.8h0.78M225.0 296.3h0.78M215.4 265.3h0.78M239.4 315.9h0.78M186.1 248.6h0.78M185.9 208.3h0.78M138.1 149.0h0.78M217.1 256.2h0.78M149.9 161.5h0.78M135.5 137.4h0.78M242.9 323.6h0.78M240.3 308.0h0.78M113.0 100.6h0.78M150.3 152.9h0.78M153.5 151.4h0.78M136.1 141.6h0.78M236.5 314.5h0.78M196.7 220.9h0.78M173.9 228.8h0.78M166.8 199.4h0.78M232.5 308.8h0.78M202.0 250.0h0.78M188.3 240.6h0.78M142.0 142.3h0.78M252.1 336.4h0.78M184.8 194.6h0.78M235.9 308.3h0.78M125.0 117.1h0.78M208.0 271.5h0.78M222.8 295.8h0.78M200.2 237.1h0.78M191.7 207.1h0.78M163.3 193.7h0.78M197.0 220.8h0.78M187.0 222.5h0.78M205.5 252.9h0.78M138.1 160.2h0.78M210.2 264.9h0.78M151.4 173.5h0.78M228.3 295.3h0.78M194.1 225.0h0.78M187.0 215.0h0.78M185.1 224.7h0.78M227.2 278.5h0.78M124.2 116.0h0.78M179.6 239.2h0.78M202.2 219.6h0.78M112.4 101.5h0.78M136.7 139.0h0.78M201.5 229.9h0.78M204.5 243.3h0.78M213.4 263.0h0.78M237.6 307.2h0.78M205.7 229.0h0.78M224.2 294.2h0.78M217.2 273.0h0.78M224.6 289.7h0.78M226.1 302.3h0.78M227.5 297.0h0.78M203.4 247.3h0.78M226.9 286.0h0.78M133.0 125.0h0.78M194.7 263.4h0.78M209.2 287.6h0.78M231.5 315.2h0.78M260.6 346.9h0.78M162.8 211.3h0.78M163.8 210.2h0.78M238.0 316.6h0.78M253.9 336.9h0.78M232.0 321.6h0.78M253.2 337.5h0.78M186.1 239.1h0.78M242.5 326.6h0.78M221.8 268.7h0.78M195.5 224.2h0.78M176.2 193.4h0.78M231.1 313.4h0.78M239.6 297.0h0.78M193.5 222.2h0.78M173.6 189.2h0.78M159.6 165.6h0.78M127.7 115.6h0.78M250.3 333.7h0.78M136.4 129.9h0.78M259.5 341.9h0.78M107.4 123.0h0.78M234.1 325.4h0.78M115.1 105.9h0.78M132.5 119.6h0.78M179.2 232.6h0.78M164.8 170.3h0.78M154.3 146.0h0.78M196.3 262.9h0.78M227.2 290.5h0.78M193.7 249.1h0.78M203.5 258.4h0.78M148.6 155.9h0.78M170.8 178.0h0.78M178.6 205.7h0.78M181.1 227.3h0.78M257.1 350.0h0.78M225.8 304.4h0.78M193.9 244.9h0.78M232.3 287.9h0.78M168.2 193.2h0.78M229.8 308.0h0.78M170.5 193.0h0.78M227.1 271.7h0.78M198.1 265.8h0.78M135.4 164.2h0.78M228.8 317.9h0.78M203.6 254.2h0.78M171.6 233.8h0.78M202.4 236.3h0.78M245.2 340.1h0.78M116.0 102.0h0.78M225.0 278.0h0.78M254.8 326.9h0.78M163.8 216.7h0.78M160.4 210.2h0.78M172.3 209.0h0.78M187.5 207.7h0.78M197.6 270.3h0.78M212.9 275.5h0.78M238.0 327.7h0.78M200.0 247.6h0.78M187.2 199.7h0.78M214.9 271.6h0.78M132.8 144.7h0.78M251.6 343.4h0.78M202.7 247.0h0.78M126.2 120.0h0.78M138.8 146.5h0.78M108.9 96.1h0.78M212.4 291.1h0.78M131.0 127.3h0.78M252.4 330.1h0.78M191.3 221.0h0.78M216.8 272.8h0.78M239.6 307.1h0.78M252.4 328.8h0.78M216.9 292.6h0.78M251.7 333.9h0.78M119.4 110.7h0.78M213.9 283.1h0.78M208.1 241.7h0.78M214.2 271.6h0.78M214.2 256.6h0.78M205.5 234.8h0.78M168.6 198.0h0.78M180.9 195.0h0.78M258.4 341.3h0.78M199.8 267.7h0.78M236.4 305.9h0.78M240.2 325.3h0.78M255.7 341.5h0.78M202.7 217.2h0.78M195.4 213.7h0.78M207.5 229.6h0.78M163.1 177.9h0.78M166.7 194.1h0.78M250.4 342.2h0.78M209.0 269.0h0.78M176.2 187.2h0.78M141.9 157.9h0.78M209.0 271.6h0.78M156.3 152.2h0.78M210.3 265.5h0.78M171.4 178.6h0.78M152.4 160.5h0.78M177.9 201.3h0.78M233.1 292.1h0.78M189.3 208.9h0.78M167.5 187.2h0.78M178.4 198.9h0.78M190.5 238.2h0.78M180.1 185.5h0.78M163.2 170.1h0.78M226.0 293.4h0.78M127.8 126.3h0.78M172.0 196.7h0.78M226.6 296.5h0.78M156.9 157.7h0.78M121.0 114.0h0.78M182.1 196.5h0.78M234.3 301.8h0.78M199.6 247.8h0.78M179.0 188.5h0.78M251.2 335.9h0.78M175.5 182.8h0.78M160.1 178.3h0.78M192.4 206.7h0.78M202.2 257.5h0.78M264.6 346.1h0.78M131.9 151.8h0.78M198.6 266.4h0.78M209.3 236.0h0.78M193.8 259.9h0.78M234.1 280.3h0.78M219.9 286.0h0.78M186.7 218.4h0.78M238.0 301.9h0.78M120.9 116.3h0.78M182.8 201.8h0.78M186.0 210.0h0.78M251.3 345.1h0.78M249.3 338.7h0.78M120.4 116.9h0.78M174.4 192.7h0.78M164.2 198.5h0.78M192.9 216.5h0.78M187.5 211.6h0.78M250.7 346.1h0.78M169.1 183.0h0.78M138.6 166.4h0.78M200.7 258.9h0.78M217.3 267.5h0.78M166.9 178.8h0.78M202.3 239.2h0.78M239.1 316.1h0.78M192.0 212.9h0.78M183.9 207.5h0.78M158.7 192.6h0.78M197.7 232.7h0.78M144.4 178.1h0.78M222.8 271.3h0.78M160.4 169.5h0.78M243.4 321.1h0.78M236.7 319.6h0.78M181.6 196.8h0.78M184.3 211.2h0.78M189.3 250.8h0.78M195.9 233.5h0.78M162.3 177.8h0.78M176.4 239.9h0.78M198.7 250.0h0.78M178.8 185.8h0.78M252.5 345.6h0.78M218.1 300.7h0.78M228.5 280.3h0.78M229.5 292.2h0.78M153.3 157.3h0.78M250.2 340.6h0.78M242.2 331.3h0.78M200.5 215.6h0.78M221.4 298.0h0.78M123.3 138.0h0.78M125.4 131.0h0.78M183.8 249.4h0.78M123.9 124.0h0.78M241.1 305.9h0.78M141.7 133.4h0.78M201.8 237.7h0.78M216.8 272.7h0.78M250.9 337.6h0.78M255.7 337.6h0.78M200.7 232.8h0.78M201.1 217.6h0.78M126.7 121.1h0.78M237.0 308.2h0.78M126.9 116.1h0.78M150.0 170.3h0.78M215.1 268.9h0.78M163.8 166.3h0.78M183.8 198.2h0.78M231.7 293.3h0.78M219.1 281.3h0.78M117.9 107.5h0.78M256.0 338.8h0.78M210.1 257.7h0.78M250.4 336.5h0.78M198.5 242.2h0.78M238.2 312.7h0.78M168.7 173.1h0.78M226.5 299.1h0.78M130.7 119.9h0.78M179.4 244.5h0.78M216.4 273.1h0.78M181.1 191.5h0.78M241.2 313.3h0.78M249.5 331.7h0.78M154.8 157.0h0.78M132.0 131.1h0.78M198.2 239.0h0.78M197.4 268.5h0.78M232.6 325.0h0.78M238.0 307.0h0.78M133.7 129.7h0.78M174.7 213.9h0.78M193.8 220.7h0.78M158.2 194.1h0.78M173.5 189.5h0.78M134.0 127.0h0.78M113.6 102.1h0.78M217.1 262.4h0.78M134.3 128.2h0.78M210.5 243.3h0.78M241.0 324.9h0.78M163.5 184.0h0.78M229.8 309.1h0.78M257.3 336.3h0.78M189.3 252.1h0.78M166.6 174.9h0.78M209.9 254.0h0.78M240.9 320.4h0.78M218.0 293.4h0.78M186.8 216.0h0.78M222.5 306.8h0.78M208.2 255.9h0.78M192.6 223.3h0.78M242.0 313.6h0.78M230.0 319.2h0.78M242.6 329.2h0.78M159.0 169.7h0.78M134.2 140.1h0.78M142.3 138.5h0.78M161.1 170.1h0.78M241.0 311.7h0.78M127.9 121.9h0.78M135.9 133.4h0.78M182.2 204.5h0.78M240.1 311.5h0.78M154.5 164.3h0.78M196.6 257.7h0.78M180.3 190.6h0.78M157.2 168.8h0.78M249.7 341.6h0.78M254.5 335.3h0.78M176.8 204.0h0.78M229.2 283.8h0.78M172.7 173.2h0.78M167.8 171.7h0.78M175.4 194.1h0.78M197.9 263.6h0.78M213.7 265.1h0.78M125.5 112.2h0.78M161.6 175.2h0.78M242.7 328.5h0.78M244.1 335.9h0.78M213.2 274.0h0.78M144.1 137.1h0.78M197.7 246.5h0.78M206.1 248.4h0.78M163.2 181.8h0.78M156.0 156.1h0.78M176.9 184.7h0.78M132.7 132.1h0.78M210.5 239.8h0.78M186.3 234.0h0.78M151.6 147.1h0.78M165.3 168.1h0.78M181.9 214.8h0.78M223.9 274.6h0.78M253.5 342.3h0.78M162.8 174.5h0.78M258.0 342.9h0.78M114.0 105.3h0.78M121.6 126.1h0.78M192.0 215.5h0.78M194.6 249.3h0.78M245.1 335.4h0.78M186.6 225.4h0.78M169.8 190.0h0.78M165.1 173.9h0.78M190.0 203.2h0.78M245.0 318.3h0.78M237.9 304.9h0.78M216.6 280.9h0.78M189.7 259.2h0.78M173.5 187.7h0.78M187.6 216.7h0.78M209.9 240.5h0.78M203.6 267.4h0.78M210.2 243.9h0.78M252.6 345.6h0.78M182.7 237.3h0.78M231.7 306.3h0.78M213.7 288.0h0.78M208.4 278.1h0.78M150.5 148.5h0.78M166.7 218.4h0.78M219.7 305.5h0.78M214.5 265.9h0.78M222.8 272.2h0.78M127.1 126.4h0.78M168.6 186.5h0.78M253.1 339.2h0.78M206.6 263.9h0.78M207.1 252.0h0.78M132.9 127.8h0.78M211.5 296.4h0.78M120.1 110.6h0.78M220.8 290.6h0.78M187.2 252.0h0.78M145.4 167.9h0.78M161.8 175.0h0.78M157.4 162.6h0.78M148.8 143.4h0.78M229.2 310.0h0.78M203.9 267.3h0.78M192.7 223.3h0.78M248.7 341.5h0.78M132.7 125.6h0.78M202.6 248.9h0.78M221.1 261.4h0.78M230.7 307.4h0.78M151.1 147.8h0.78M139.2 143.7h0.78M256.3 346.7h0.78M140.8 136.1h0.78M214.4 280.3h0.78M254.6 338.4h0.78M254.5 342.4h0.78M234.0 314.2h0.78M149.1 147.6h0.78M128.7 143.8h0.78M149.4 167.2h0.78M116.3 101.2h0.78M123.7 114.6h0.78M194.8 232.8h0.78M199.4 262.6h0.78M224.2 309.2h0.78M180.4 195.9h0.78M236.7 293.5h0.78M254.2 337.5h0.78M157.3 160.8h0.78M210.3 252.4h0.78M150.0 146.2h0.78M254.8 339.0h0.78M210.5 246.0h0.78M249.4 326.9h0.78M202.1 241.5h0.78M209.1 282.8h0.78M226.3 300.6h0.78M187.1 231.5h0.78M183.5 243.0h0.78M205.7 260.3h0.78M172.1 208.9h0.78M171.0 193.7h0.78M236.4 327.8h0.78M203.0 270.1h0.78M170.1 211.2h0.78M218.5 260.5h0.78M233.7 305.1h0.78M177.9 183.6h0.78M257.1 343.7h0.78M151.9 149.4h0.78M214.6 266.5h0.78M169.2 176.6h0.78M175.4 190.0h0.78M217.1 284.1h0.78M152.9 151.7h0.78M211.8 261.3h0.78M176.4 213.5h0.78M173.1 193.0h0.78M158.4 165.1h0.78M169.6 217.8h0.78M194.0 225.2h0.78M200.8 234.3h0.78M210.9 260.7h0.78M199.8 220.9h0.78M231.0 292.0h0.78M194.5 226.2h0.78M203.7 233.2h0.78M136.7 149.0h0.78M180.7 195.6h0.78M205.2 227.2h0.78M245.7 329.7h0.78M177.0 199.6h0.78M227.1 308.8h0.78M208.9 238.8h0.78M162.7 210.9h0.78M220.3 273.2h0.78M194.7 225.9h0.78M144.2 163.3h0.78M160.2 180.1h0.78M251.8 328.0h0.78M169.0 179.0h0.78M231.0 289.5h0.78M260.4 342.1h0.78M197.0 237.5h0.78M159.2 170.7h0.78M228.0 295.3h0.78M232.2 306.4h0.78M154.9 155.1h0.78M226.1 304.7h0.78M225.5 303.4h0.78M153.9 159.5h0.78M146.2 155.6h0.78M154.2 168.3h0.78M223.0 282.6h0.78M151.8 184.6h0.78M156.3 173.2h0.78M180.7 206.5h0.78M227.9 311.1h0.78M200.6 255.7h0.78M174.2 183.2h0.78M252.3 335.5h0.78M218.4 260.5h0.78M224.1 310.7h0.78M224.6 286.2h0.78" stroke="#e3eb3c" stroke-width="0.78" fill="none"/>
<path d="M198.2 265.0h0.78M187.6 209.1h0.78M134.2 132.1h0.78M167.9 220.5h0.78M173.9 201.3h0.78M114.1 132.4h0.78M207.4 273.1h0.78M151.7 154.1h0.78M145.6 178.4h0.78M183.1 195.0h0.78M126.1 139.4h0.78M161.4 182.4h0.78M198.4 247.0h0.78M162.0 190.6h0.78M192.7 233.9h0.78M235.5 322.1h0.78M163.4 212.4h0.78M172.9 221.3h0.78M161.8 187.2h0.78M137.5 132.6h0.78M123.3 127.7h0.78M176.9 194.3h0.78M147.7 182.7h0.78M189.1 224.5h0.78M144.4 189.9h0.78M194.7 234.4h0.78M155.4 190.8h0.78M252.8 331.4h0.78M189.8 236.6h0.78M120.3 109.5h0.78M117.8 120.4h0.78M151.9 156.9h0.78M117.8 119.2h0.78M170.5 224.1h0.78M181.4 240.1h0.78M117.0 124.9h0.78M206.5 274.0h0.78M173.5 208.7h0.78M124.0 116.2h0.78M193.9 227.5h0.78M241.6 324.6h0.78M137.1 164.5h0.78M252.4 334.4h0.78M213.6 282.7h0.78M190.7 232.6h0.78M119.2 121.7h0.78M164.1 208.0h0.78M174.6 217.4h0.78M237.2 324.6h0.78M137.9 180.4h0.78M255.2 334.6h0.78M149.5 166.2h0.78M115.3 134.7h0.78M212.5 257.8h0.78M107.9 109.6h0.78M146.3 167.4h0.78M158.4 197.5h0.78M215.2 302.0h0.78M160.0 210.9h0.78M217.5 272.5h0.78M159.5 200.3h0.78M197.5 273.8h0.78M164.5 164.2h0.78M174.9 188.5h0.78M194.9 230.0h0.78M198.9 254.7h0.78M161.4 171.3h0.78M173.6 216.4h0.78M165.8 203.9h0.78M144.3 140.0h0.78M173.3 200.8h0.78M187.4 232.4h0.78M236.5 314.6h0.78M160.8 203.4h0.78M188.1 240.1h0.78M108.0 102.4h0.78M158.5 190.0h0.78M119.2 132.8h0.78M186.3 230.1h0.78M135.8 147.1h0.78M120.1 145.8h0.78M140.0 170.2h0.78M139.8 151.2h0.78M171.0 224.3h0.78M188.4 227.9h0.78M201.6 234.4h0.78M145.1 156.8h0.78M172.5 226.8h0.78M194.2 256.9h0.78M176.4 204.0h0.78M194.0 245.3h0.78M191.8 250.7h0.78M120.9 120.9h0.78M196.5 229.7h0.78M178.1 206.7h0.78M184.1 244.1h0.78M122.1 151.4h0.78M210.1 283.6h0.78M133.8 172.7h0.78M192.1 260.2h0.78M249.1 326.1h0.78M187.1 259.7h0.78M107.5 113.2h0.78M228.3 319.2h0.78M127.8 156.9h0.78M160.3 185.6h0.78M138.3 142.5h0.78M147.7 192.8h0.78M249.5 336.7h0.78M110.5 127.7h0.78M239.6 316.4h0.78M142.4 170.6h0.78M141.4 162.7h0.78M196.2 239.6h0.78M214.5 268.6h0.78M133.9 138.7h0.78M155.5 194.9h0.78M198.8 253.4h0.78M236.2 325.8h0.78M141.6 176.1h0.78M120.8 115.8h0.78M163.5 224.6h0.78M184.7 222.2h0.78M138.8 134.3h0.78M115.9 115.6h0.78M180.0 247.1h0.78M118.0 142.1h0.78M190.9 240.7h0.78M132.1 152.5h0.78M144.4 165.4h0.78M235.3 320.4h0.78M200.3 254.1h0.78M137.7 163.5h0.78M198.7 263.8h0.78M126.9 162.8h0.78M248.5 335.0h0.78M205.3 252.1h0.78M220.4 273.6h0.78M187.1 240.7h0.78M191.3 238.9h0.78M164.3 204.4h0.78M112.0 114.1h0.78M123.3 140.9h0.78M135.3 170.0h0.78M182.4 208.8h0.78M130.7 143.3h0.78M147.9 190.0h0.78M139.2 160.0h0.78M248.9 329.0h0.78M138.0 154.6h0.78M118.7 119.4h0.78M112.3 111.9h0.78M141.4 147.2h0.78M230.0 307.5h0.78M108.6 100.1h0.78M188.2 230.5h0.78M180.5 219.0h0.78M238.1 329.4h0.78M236.4 324.6h0.78M238.2 325.1h0.78M142.1 136.7h0.78M180.1 234.4h0.78M173.9 207.0h0.78M237.6 327.4h0.78M215.1 301.4h0.78M174.0 199.9h0.78M142.3 159.1h0.78M124.9 141.8h0.78M199.5 233.6h0.78M155.1 167.7h0.78M210.4 297.7h0.78M206.0 286.3h0.78M108.9 110.4h0.78M249.1 345.1h0.78M142.1 145.9h0.78M239.9 330.6h0.78M175.4 223.3h0.78M215.5 290.6h0.78M146.7 155.3h0.78M176.5 231.9h0.78M203.2 282.0h0.78M204.1 245.9h0.78M180.5 228.8h0.78M154.9 166.5h0.78M148.7 182.3h0.78M205.5 283.8h0.78M164.0 200.4h0.78M140.4 148.2h0.78M227.7 310.6h0.78M156.4 185.5h0.78M160.4 184.5h0.78M146.1 172.3h0.78M112.7 105.3h0.78M213.7 299.2h0.78M153.7 190.5h0.78M236.4 327.7h0.78M154.0 183.7h0.78M143.7 154.5h0.78M205.1 267.8h0.78M166.8 217.2h0.78M187.5 252.2h0.78M202.7 269.6h0.78M197.3 255.0h0.78M162.3 183.4h0.78M170.1 197.5h0.78M172.1 200.6h0.78M175.3 232.3h0.78M183.9 249.0h0.78M158.3 213.5h0.78M119.1 120.3h0.78M191.1 231.3h0.78M226.3 310.2h0.78M161.9 206.9h0.78M164.2 188.1h0.78M152.5 160.5h0.78M151.7 158.6h0.78M120.7 114.0h0.78M234.2 317.9h0.78M218.0 306.3h0.78M214.1 298.4h0.78M178.0 216.9h0.78M109.8 102.8h0.78M245.0 336.2h0.78M179.7 238.9h0.78M187.4 256.5h0.78M143.3 155.3h0.78M153.2 189.0h0.78M136.1 172.5h0.78M209.2 284.7h0.78M225.4 310.3h0.78M211.2 297.5h0.78M112.3 116.1h0.78M201.4 271.4h0.78M153.2 174.0h0.78M148.4 158.2h0.78M214.7 301.1h0.78M150.9 201.0h0.78M179.9 223.6h0.78M157.0 183.1h0.78M179.3 220.1h0.78M222.0 274.9h0.78M189.6 237.1h0.78M214.5 268.5h0.78M130.1 158.7h0.78M126.3 160.3h0.78M204.3 253.9h0.78M140.1 154.1h0.78M192.2 235.3h0.78M183.3 198.5h0.78M196.8 245.3h0.78M141.2 145.1h0.78M164.4 201.6h0.78M239.3 321.5h0.78M125.4 124.6h0.78M200.9 261.7h0.78M119.0 116.6h0.78M227.9 276.2h0.78M152.5 155.5h0.78M144.2 162.8h0.78M184.4 242.0h0.78M221.1 298.9h0.78M181.8 215.9h0.78M176.1 237.0h0.78M186.9 213.0h0.78M150.9 162.8h0.78M191.3 223.3h0.78M151.0 185.0h0.78M181.1 221.5h0.78M187.1 237.1h0.78M187.8 258.1h0.78M140.3 162.8h0.78M164.7 179.3h0.78M240.1 316.6h0.78M130.4 138.7h0.78M140.4 158.7h0.78M116.1 118.2h0.78M183.3 203.4h0.78M210.8 277.3h0.78M239.1 324.3h0.78M156.6 183.0h0.78M172.1 197.6h0.78M129.7 138.5h0.78M141.2 153.9h0.78M115.3 113.9h0.78M160.6 175.1h0.78M255.0 333.0h0.78M156.7 184.2h0.78M143.4 167.8h0.78M249.4 330.6h0.78M168.7 181.1h0.78M132.8 171.3h0.78M189.5 257.9h0.78M229.3 309.8h0.78M255.4 337.9h0.78M219.9 309.3h0.78M158.4 185.5h0.78M191.0 263.2h0.78M188.9 228.1h0.78M117.8 129.4h0.78M209.2 266.2h0.78M147.4 148.1h0.78M161.9 208.6h0.78M227.0 314.5h0.78M214.3 302.1h0.78M145.5 146.6h0.78M226.3 317.2h0.78M172.4 219.9h0.78M219.2 308.0h0.78M133.0 143.5h0.78M161.5 214.4h0.78M107.9 105.2h0.78M139.3 181.8h0.78M225.5 306.7h0.78M114.6 112.5h0.78M173.9 237.1h0.78M143.6 140.0h0.78M163.7 186.9h0.78M182.7 236.4h0.78M164.7 194.0h0.78M146.2 170.6h0.78M149.1 185.6h0.78M143.8 146.7h0.78M180.8 223.0h0.78M129.2 127.0h0.78M178.5 206.5h0.78M249.7 330.4h0.78M218.9 303.1h0.78M211.2 284.4h0.78M214.9 296.7h0.78M177.0 217.4h0.78M228.9 302.1h0.78M154.4 206.1h0.78M104.6 104.7h0.78M181.2 215.2h0.78M142.4 186.4h0.78M188.7 258.6h0.78M169.4 179.7h0.78M208.5 256.4h0.78M133.3 161.6h0.78M211.6 273.9h0.78M206.1 266.9h0.78M171.1 204.7h0.78M212.8 259.7h0.78M204.2 287.8h0.78M214.3 273.0h0.78M169.4 203.7h0.78M228.1 306.8h0.78M186.5 215.2h0.78M222.4 309.2h0.78M157.0 169.5h0.78M123.8 120.6h0.78M142.4 185.1h0.78M202.6 270.7h0.78M235.8 315.4h0.78M168.3 190.5h0.78M154.1 171.5h0.78M202.7 273.9h0.78M184.8 255.4h0.78M207.6 272.4h0.78M212.8 288.9h0.78M125.1 158.3h0.78M140.7 181.9h0.78M125.7 130.5h0.78M196.8 256.4h0.78M113.9 121.2h0.78M169.5 200.9h0.78M122.8 119.2h0.78M173.1 194.8h0.78M164.9 215.9h0.78M165.4 188.4h0.78M178.4 244.6h0.78M145.0 163.7h0.78M163.8 204.1h0.78M244.7 333.8h0.78M203.2 265.5h0.78M185.7 248.2h0.78M171.4 237.3h0.78M129.6 154.3h0.78M192.5 224.8h0.78M135.3 164.9h0.78M145.9 160.2h0.78M163.4 191.0h0.78M216.3 276.8h0.78M166.9 191.5h0.78M233.1 308.9h0.78M150.3 168.2h0.78M218.9 301.8h0.78M243.6 338.2h0.78M133.8 154.7h0.78M230.4 298.4h0.78M170.3 192.6h0.78M145.7 150.2h0.78M165.8 200.2h0.78M202.4 242.4h0.78M116.6 132.9h0.78M179.5 242.1h0.78M189.6 256.9h0.78M205.5 279.3h0.78M221.9 303.5h0.78M209.2 286.4h0.78M193.7 230.0h0.78M242.5 319.8h0.78M170.0 190.6h0.78M142.9 156.5h0.78M163.5 212.3h0.78M174.0 218.2h0.78M217.7 288.9h0.78M186.2 244.5h0.78M119.4 117.2h0.78M177.5 198.0h0.78M119.5 115.6h0.78M128.8 131.4h0.78M128.8 159.3h0.78M159.6 181.0h0.78M186.2 226.4h0.78M168.7 225.2h0.78M187.2 251.9h0.78M180.2 241.2h0.78M123.5 137.6h0.78M231.0 302.0h0.78M161.7 201.2h0.78M145.1 164.1h0.78M221.1 295.6h0.78M225.6 307.9h0.78M149.0 172.6h0.78M161.2 191.7h0.78M186.0 222.9h0.78M155.7 185.5h0.78M242.5 331.3h0.78M188.3 227.1h0.78M244.5 325.5h0.78M244.8 326.6h0.78M231.3 317.5h0.78M192.2 232.6h0.78M157.5 181.6h0.78M113.9 108.6h0.78M200.1 277.3h0.78M181.2 229.6h0.78M209.5 269.3h0.78M202.4 272.5h0.78M205.4 256.7h0.78M162.9 208.7h0.78M153.7 191.6h0.78M220.8 281.5h0.78M157.8 186.7h0.78M178.4 216.5h0.78M121.5 119.7h0.78M176.3 230.8h0.78M159.9 215.4h0.78M121.9 129.1h0.78M175.3 201.1h0.78M136.4 175.9h0.78M108.9 106.1h0.78M117.3 115.0h0.78M173.3 228.6h0.78M214.4 298.1h0.78M169.0 231.1h0.78M113.5 105.8h0.78M193.2 232.7h0.78M188.3 247.3h0.78M191.5 263.4h0.78M179.1 247.1h0.78M222.0 296.0h0.78M189.9 256.8h0.78M180.3 215.2h0.78M163.9 215.9h0.78M173.7 196.0h0.78M154.1 182.1h0.78M110.5 111.5h0.78M123.3 118.8h0.78M158.4 185.6h0.78M205.0 283.0h0.78M208.6 284.7h0.78M159.3 183.9h0.78M128.8 152.2h0.78M184.1 206.8h0.78M197.1 246.4h0.78M155.8 207.5h0.78M118.4 115.8h0.78M172.9 200.9h0.78M122.9 145.0h0.78M196.4 222.2h0.78M215.5 284.9h0.78M234.5 306.7h0.78M149.7 170.5h0.78M133.7 145.5h0.78M192.1 236.1h0.78M136.4 172.2h0.78M177.0 222.9h0.78M210.2 292.9h0.78M180.1 197.9h0.78M165.0 193.1h0.78M142.2 183.5h0.78M195.7 248.1h0.78M184.8 231.6h0.78M161.1 181.5h0.78M186.4 235.9h0.78M209.3 243.0h0.78M155.6 190.1h0.78M199.7 245.7h0.78M191.6 266.4h0.78M170.9 211.2h0.78M228.6 301.7h0.78M120.6 131.4h0.78M178.9 231.9h0.78M115.0 119.5h0.78M230.5 301.1h0.78M180.7 248.0h0.78M120.9 128.7h0.78M125.4 124.4h0.78M134.7 162.8h0.78M150.4 176.1h0.78M175.2 215.3h0.78M161.3 182.2h0.78M177.1 202.7h0.78M108.7 107.7h0.78M199.9 253.5h0.78M153.7 196.6h0.78M124.6 120.6h0.78M167.0 202.9h0.78M118.0 115.5h0.78M138.9 158.0h0.78M138.4 156.4h0.78M159.0 174.8h0.78M166.2 205.5h0.78M230.2 304.6h0.78M203.0 273.9h0.78M148.7 166.1h0.78M159.7 182.5h0.78M202.5 275.6h0.78M178.3 221.6h0.78M192.0 244.3h0.78M172.0 236.0h0.78M250.0 337.0h0.78M231.6 309.5h0.78M214.2 285.8h0.78M219.7 289.7h0.78M173.3 196.5h0.78M216.1 276.0h0.78M191.4 233.5h0.78M143.0 146.2h0.78M203.1 275.2h0.78M163.2 203.6h0.78M122.2 124.1h0.78M133.3 171.0h0.78M185.1 240.4h0.78M176.7 190.0h0.78M172.6 219.8h0.78M121.6 117.2h0.78M194.8 232.0h0.78M204.9 280.7h0.78M211.8 252.1h0.78M126.9 139.7h0.78M199.8 269.5h0.78M216.1 290.0h0.78M175.0 234.6h0.78M137.5 146.7h0.78M172.4 216.6h0.78M118.7 112.0h0.78M240.3 331.7h0.78M229.3 315.7h0.78M136.5 151.0h0.78M153.8 171.0h0.78M190.6 253.7h0.78M227.5 305.8h0.78M208.3 239.5h0.78M245.4 326.6h0.78M216.8 277.0h0.78M145.1 172.1h0.78M168.2 184.5h0.78M243.6 330.0h0.78M198.1 276.9h0.78M132.2 139.0h0.78M184.4 239.9h0.78M112.4 108.5h0.78M150.1 177.3h0.78M112.1 120.7h0.78M208.2 286.9h0.78M211.5 263.0h0.78M128.6 144.4h0.78M215.7 255.4h0.78M185.9 231.3h0.78M193.9 262.1h0.78M210.4 274.4h0.78M196.4 251.5h0.78M140.3 154.0h0.78M130.1 147.6h0.78M216.3 279.9h0.78M213.8 282.6h0.78M144.6 157.8h0.78M163.3 191.3h0.78M189.9 242.9h0.78M156.9 189.4h0.78M107.8 97.2h0.78M191.5 263.1h0.78M112.2 106.9h0.78M241.8 317.4h0.78M213.2 291.5h0.78M241.3 333.2h0.78M171.7 193.5h0.78M145.4 163.8h0.78M192.5 243.6h0.78M133.7 155.6h0.78M186.2 217.6h0.78M189.4 248.7h0.78M146.3 157.2h0.78M178.4 242.3h0.78M204.8 279.5h0.78M258.2 348.5h0.78M199.7 250.8h0.78M157.4 192.5h0.78M167.0 191.3h0.78M145.7 168.1h0.78M185.6 246.4h0.78M203.0 261.6h0.78M181.9 240.6h0.78M163.4 186.4h0.78M166.3 204.0h0.78M226.6 284.9h0.78M223.1 299.4h0.78M182.3 253.5h0.78M221.4 308.5h0.78M220.0 289.0h0.78M143.0 155.2h0.78M189.8 240.8h0.78M110.1 100.7h0.78M199.9 276.7h0.78M122.2 135.9h0.78M159.7 170.4h0.78M180.9 221.7h0.78M161.6 194.7h0.78M175.4 226.9h0.78M154.3 173.9h0.78M180.8 234.3h0.78M174.6 227.3h0.78M144.8 172.7h0.78M130.8 131.0h0.78M233.8 317.4h0.78M142.9 180.8h0.78M171.2 219.0h0.78M151.2 195.4h0.78M116.9 111.9h0.78M153.2 193.0h0.78M149.9 189.7h0.78M211.2 292.9h0.78M234.7 312.1h0.78M174.7 198.2h0.78M131.9 123.1h0.78M244.3 330.9h0.78M191.5 260.1h0.78M215.1 286.9h0.78M124.2 148.8h0.78M126.3 136.9h0.78M146.6 190.5h0.78M237.3 313.8h0.78M162.5 220.5h0.78M141.7 140.4h0.78M211.6 293.3h0.78M157.4 206.8h0.78M201.0 269.0h0.78M183.5 222.7h0.78M201.1 278.7h0.78M206.5 268.0h0.78M218.2 286.1h0.78M232.8 314.9h0.78M235.1 322.7h0.78M211.6 267.7h0.78M120.9 123.2h0.78M232.7 323.3h0.78M159.3 207.8h0.78M144.7 174.4h0.78M246.6 337.2h0.78M191.7 225.4h0.78M184.6 198.9h0.78M182.2 229.0h0.78M116.2 108.7h0.78M246.6 322.9h0.78M138.8 181.0h0.78M177.7 221.8h0.78M204.4 249.8h0.78M144.5 151.4h0.78M196.0 236.9h0.78M226.6 291.7h0.78M130.5 155.5h0.78M208.9 270.3h0.78M125.6 126.7h0.78M120.5 118.7h0.78M203.8 283.7h0.78M229.6 317.6h0.78M157.6 213.5h0.78M215.2 293.3h0.78M194.6 256.3h0.78M113.5 121.8h0.78M130.4 134.1h0.78M142.0 158.1h0.78M111.6 117.7h0.78M184.2 254.4h0.78M133.9 162.6h0.78M193.9 266.7h0.78M198.6 273.1h0.78M219.8 269.2h0.78M155.5 169.4h0.78M149.0 183.7h0.78M160.6 197.2h0.78M197.3 266.7h0.78M178.6 230.9h0.78M166.9 190.6h0.78M193.9 237.5h0.78M174.3 239.6h0.78M178.4 231.8h0.78M109.4 98.1h0.78M115.7 102.6h0.78M139.5 169.7h0.78M165.9 225.6h0.78M181.2 230.0h0.78M192.0 265.2h0.78M246.9 317.7h0.78M185.8 239.9h0.78M173.5 209.2h0.78M119.0 109.7h0.78M187.8 231.8h0.78M171.6 205.7h0.78M189.4 219.5h0.78M219.8 299.8h0.78M205.6 256.1h0.78M150.3 183.0h0.78M149.8 162.8h0.78M162.1 175.4h0.78M108.6 96.8h0.78M201.3 222.2h0.78M181.7 216.2h0.78M184.3 230.3h0.78M212.8 296.4h0.78M149.7 182.7h0.78M210.9 279.5h0.78M203.1 285.9h0.78M176.5 225.6h0.78M186.6 238.6h0.78M128.8 151.7h0.78M206.9 272.5h0.78M230.8 319.2h0.78M131.2 140.0h0.78M215.2 260.4h0.78M167.3 221.5h0.78M240.8 323.7h0.78M146.0 160.9h0.78M142.8 151.5h0.78M224.8 315.9h0.78M199.9 244.3h0.78M175.2 200.4h0.78M133.0 134.4h0.78M120.3 138.3h0.78M163.7 201.4h0.78M223.0 288.1h0.78M219.4 268.9h0.78M112.9 123.0h0.78M130.9 129.3h0.78M183.7 212.7h0.78M125.1 133.7h0.78M165.3 193.0h0.78M230.3 318.5h0.78M210.9 282.3h0.78M150.0 189.0h0.78M124.2 143.2h0.78M124.0 126.5h0.78M173.0 212.9h0.78M217.2 279.6h0.78M205.0 239.1h0.78M157.3 202.3h0.78M190.1 250.6h0.78M178.1 248.4h0.78M169.6 191.3h0.78M116.4 133.1h0.78M171.8 227.8h0.78M216.3 291.9h0.78M172.9 216.7h0.78M197.9 239.9h0.78M163.5 189.0h0.78M195.7 268.7h0.78M239.8 331.0h0.78M117.9 111.0h0.78M143.2 153.4h0.78M136.5 129.1h0.78M118.9 123.3h0.78M164.0 189.1h0.78M190.7 261.6h0.78M130.2 168.6h0.78M240.6 326.1h0.78M141.2 175.6h0.78M130.4 130.7h0.78M138.5 144.6h0.78M176.1 237.6h0.78M211.2 277.5h0.78M173.2 233.0h0.78M132.6 157.7h0.78M212.1 296.5h0.78M194.8 256.9h0.78M177.6 205.1h0.78M195.1 246.1h0.78M131.5 147.4h0.78M136.1 137.1h0.78M216.9 298.5h0.78M169.5 185.4h0.78M170.9 189.7h0.78M162.0 204.3h0.78M141.5 141.6h0.78M124.6 152.5h0.78M165.1 181.2h0.78M219.1 304.4h0.78M193.6 268.7h0.78M149.3 154.5h0.78M178.5 224.3h0.78M200.7 267.4h0.78M168.8 192.3h0.78M229.1 292.3h0.78M247.7 335.1h0.78M133.0 157.5h0.78M240.3 324.2h0.78M200.4 258.1h0.78M149.5 156.5h0.78M205.3 279.7h0.78M242.6 321.5h0.78M155.9 165.3h0.78M147.6 157.2h0.78M200.2 280.9h0.78M131.9 140.5h0.78M179.8 195.3h0.78M217.8 287.2h0.78M220.1 274.3h0.78M230.9 317.4h0.78M234.4 314.1h0.78M160.5 174.6h0.78M136.6 141.2h0.78M164.5 164.9h0.78M152.7 185.8h0.78M192.1 222.1h0.78M130.0 136.8h0.78M161.7 175.0h0.78M179.0 220.2h0.78M123.5 140.2h0.78M223.3 277.8h0.78M194.3 242.5h0.78M210.9 291.3h0.78M178.1 201.2h0.78M131.2 141.7h0.78M132.0 143.3h0.78M134.1 132.1h0.78M178.2 211.4h0.78M157.0 201.0h0.78M147.7 156.6h0.78M198.6 281.1h0.78M152.5 197.2h0.78M150.7 158.2h0.78M136.0 134.0h0.78M206.5 262.6h0.78M131.2 130.0h0.78M191.8 235.4h0.78M214.8 273.1h0.78M142.6 182.3h0.78M187.4 248.2h0.78M180.6 201.5h0.78M131.6 150.4h0.78M212.7 299.6h0.78M156.0 197.3h0.78M116.3 133.8h0.78M170.3 203.2h0.78M211.2 257.5h0.78M202.4 284.4h0.78M169.7 229.6h0.78M179.8 215.6h0.78M185.4 255.5h0.78M183.7 203.4h0.78M199.5 251.6h0.78M162.5 188.5h0.78M178.7 199.5h0.78M251.0 337.0h0.78M210.5 261.4h0.78M143.4 161.0h0.78M106.5 98.2h0.78M179.6 211.8h0.78M179.9 222.1h0.78M207.9 283.4h0.78M177.6 217.4h0.78M154.7 160.0h0.78M195.8 257.3h0.78M136.7 140.2h0.78M162.9 187.3h0.78M225.1 305.7h0.78M195.7 272.2h0.78M224.6 306.7h0.78M217.4 289.4h0.78M154.8 203.6h0.78M205.1 287.3h0.78M186.8 234.8h0.78M169.9 211.6h0.78M201.4 268.0h0.78M105.1 99.8h0.78M239.3 313.4h0.78M122.8 118.0h0.78M171.0 228.8h0.78M176.2 192.3h0.78M217.1 290.8h0.78M190.9 245.9h0.78M168.6 216.3h0.78M174.1 187.8h0.78M163.8 223.7h0.78M170.3 210.7h0.78M111.7 115.1h0.78M122.0 138.0h0.78M133.8 132.0h0.78M214.7 272.2h0.78M152.1 169.0h0.78M192.7 269.8h0.78M177.7 228.0h0.78M193.8 216.5h0.78M157.3 200.3h0.78M107.1 105.2h0.78M197.0 240.5h0.78M218.9 304.3h0.78M160.2 192.7h0.78M230.0 308.0h0.78M147.3 154.5h0.78M211.9 284.9h0.78M172.8 238.8h0.78M127.9 124.9h0.78M117.1 108.6h0.78M144.1 169.0h0.78M182.6 246.1h0.78M227.9 299.5h0.78M223.5 294.8h0.78M215.9 299.7h0.78M220.3 309.1h0.78M146.6 159.5h0.78M168.3 223.7h0.78M147.7 195.2h0.78M135.3 157.1h0.78M179.8 243.9h0.78M155.3 163.9h0.78M133.9 159.1h0.78M211.8 267.5h0.78M208.7 281.1h0.78M179.4 243.1h0.78M124.0 127.3h0.78M122.2 148.8h0.78M131.7 128.1h0.78M214.1 295.7h0.78M151.3 151.4h0.78M198.4 260.8h0.78M106.2 118.3h0.78M107.8 120.2h0.78M131.0 145.1h0.78M196.6 264.6h0.78M184.1 215.6h0.78M244.0 329.8h0.78M172.9 199.3h0.78M170.7 217.7h0.78M223.3 290.4h0.78M219.3 275.7h0.78M239.5 332.7h0.78M170.5 192.3h0.78M168.9 209.1h0.78M231.0 322.4h0.78M200.4 256.2h0.78M191.4 256.5h0.78M167.9 196.9h0.78M156.2 191.0h0.78M145.1 171.2h0.78M197.8 240.2h0.78M170.5 228.9h0.78M228.6 313.4h0.78M200.6 252.8h0.78M232.8 314.5h0.78M180.9 207.0h0.78M158.8 210.2h0.78M134.5 149.0h0.78M211.9 271.7h0.78M151.9 189.5h0.78M238.8 330.3h0.78M185.7 252.2h0.78M216.4 296.0h0.78M195.8 240.8h0.78M204.7 286.8h0.78M125.5 145.3h0.78M156.7 182.8h0.78M199.1 267.7h0.78M117.6 126.5h0.78M187.2 245.4h0.78M191.7 230.4h0.78M172.2 220.5h0.78M183.3 223.5h0.78M129.1 150.5h0.78M212.0 298.3h0.78M194.2 242.9h0.78M169.7 201.4h0.78M162.0 185.0h0.78M128.7 135.9h0.78M242.1 327.8h0.78M140.7 165.0h0.78M184.4 245.8h0.78M241.3 306.8h0.78M228.6 315.4h0.78M167.2 177.1h0.78M150.4 162.7h0.78M111.0 110.6h0.78M163.0 223.8h0.78M200.1 258.0h0.78M226.2 312.3h0.78M130.6 132.6h0.78M145.3 148.6h0.78M114.0 123.6h0.78M224.0 308.6h0.78M243.9 337.0h0.78M185.6 253.6h0.78M241.4 329.1h0.78M196.0 258.3h0.78M137.3 166.8h0.78M177.0 217.7h0.78M147.6 171.3h0.78M111.4 101.8h0.78M122.1 136.1h0.78M212.3 266.3h0.78M209.5 272.1h0.78M123.4 148.2h0.78M190.8 259.6h0.78M232.5 309.1h0.78M180.0 241.3h0.78M131.4 137.1h0.78M175.3 197.0h0.78M227.1 311.5h0.78M201.5 266.4h0.78M153.6 170.4h0.78M143.4 178.6h0.78M248.2 329.3h0.78M227.4 299.6h0.78M131.7 143.6h0.78M238.2 318.3h0.78M197.7 226.5h0.78M160.7 191.7h0.78M118.7 112.3h0.78M202.8 238.8h0.78M200.4 262.0h0.78M201.7 254.8h0.78M222.7 302.0h0.78M203.6 271.9h0.78M114.5 117.2h0.78M253.2 328.7h0.78M227.1 299.1h0.78M172.8 211.7h0.78M148.8 198.8h0.78M188.0 208.9h0.78M140.3 145.7h0.78M241.8 323.2h0.78M219.0 280.1h0.78M167.9 212.5h0.78M178.6 207.4h0.78M110.1 107.7h0.78M199.8 271.6h0.78M210.8 283.5h0.78M154.4 187.4h0.78M163.4 188.5h0.78M205.8 275.0h0.78M169.6 229.4h0.78M188.9 249.7h0.78M194.4 239.3h0.78M184.9 207.9h0.78M151.9 171.3h0.78M169.4 222.4h0.78M246.6 333.4h0.78M208.6 259.7h0.78M152.7 169.5h0.78M107.5 123.7h0.78M109.0 117.7h0.78M158.3 181.0h0.78M167.4 195.9h0.78M117.6 131.4h0.78M129.9 163.5h0.78M125.4 121.1h0.78M106.7 115.7h0.78M188.0 233.2h0.78M129.5 123.2h0.78M174.6 230.8h0.78M159.4 213.5h0.78M160.2 187.2h0.78M210.8 283.0h0.78M239.5 331.5h0.78M174.0 185.5h0.78M162.0 169.1h0.78M247.6 333.9h0.78M143.2 174.1h0.78M160.5 168.1h0.78M123.3 144.8h0.78M178.3 218.4h0.78M200.8 236.0h0.78M177.9 223.0h0.78M164.8 189.7h0.78M163.1 179.8h0.78M151.9 182.3h0.78M196.2 269.6h0.78M158.5 194.9h0.78M206.6 279.9h0.78M150.8 163.5h0.78M129.1 158.1h0.78M198.1 251.2h0.78M148.6 186.8h0.78M152.1 182.4h0.78M142.0 161.0h0.78M177.6 219.0h0.78M124.4 144.9h0.78M126.4 139.7h0.78M208.2 289.7h0.78M166.9 180.5h0.78M163.4 205.6h0.78M174.5 215.5h0.78M245.5 335.2h0.78M220.8 302.3h0.78M165.4 185.0h0.78M179.7 208.5h0.78M156.4 177.3h0.78M134.5 153.0h0.78M210.8 259.0h0.78M139.0 144.0h0.78M159.0 207.0h0.78M242.9 321.8h0.78M222.0 300.0h0.78M114.0 118.6h0.78M224.8 294.8h0.78M174.1 202.1h0.78M185.4 244.2h0.78M189.4 213.5h0.78M143.0 153.8h0.78M214.5 286.0h0.78M228.8 314.2h0.78M109.5 101.6h0.78M135.5 135.2h0.78M216.9 269.2h0.78M164.4 213.6h0.78M216.3 289.7h0.78M192.3 253.3h0.78M236.4 322.6h0.78M137.2 178.9h0.78M191.8 212.6h0.78M156.1 189.5h0.78M168.6 225.2h0.78M196.3 243.5h0.78M111.0 127.1h0.78M163.3 212.4h0.78M130.0 140.7h0.78M179.0 216.8h0.78M181.1 213.8h0.78M172.2 205.8h0.78M183.4 213.9h0.78M160.9 169.3h0.78M134.8 154.4h0.78M152.0 168.1h0.78M192.8 253.1h0.78M184.0 254.4h0.78M127.2 122.1h0.78M254.7 332.1h0.78M211.7 288.8h0.78M244.2 329.2h0.78M135.1 150.2h0.78M226.8 315.0h0.78M173.3 220.7h0.78M192.3 257.2h0.78M219.4 297.9h0.78M118.7 143.6h0.78M230.3 309.8h0.78M139.5 168.2h0.78M126.7 129.2h0.78M225.6 308.1h0.78M201.0 246.4h0.78M109.5 102.4h0.78M139.1 136.8h0.78M177.0 212.9h0.78M159.0 203.1h0.78M182.2 229.2h0.78M106.4 111.5h0.78M182.4 235.1h0.78M130.0 132.8h0.78M137.2 140.1h0.78M237.3 329.6h0.78M249.9 337.6h0.78M106.9 100.4h0.78M190.4 232.0h0.78M146.6 148.4h0.78M186.5 223.5h0.78M236.2 310.0h0.78M153.3 180.0h0.78M108.9 103.8h0.78M122.9 150.0h0.78M199.0 278.1h0.78M185.5 241.6h0.78M146.0 165.1h0.78M155.0 159.2h0.78M187.8 207.1h0.78M180.7 249.5h0.78M215.6 302.8h0.78M161.7 214.0h0.78M141.8 178.0h0.78M188.1 245.3h0.78M140.5 155.6h0.78M133.1 153.5h0.78M223.5 312.0h0.78M197.7 274.0h0.78M220.0 303.2h0.78M198.1 272.7h0.78M192.8 241.2h0.78M167.2 216.4h0.78M206.8 281.0h0.78M140.0 165.6h0.78M189.5 259.2h0.78M206.9 249.8h0.78M219.4 306.6h0.78M125.8 121.6h0.78M154.0 199.6h0.78M165.6 195.8h0.78M181.2 242.1h0.78M167.7 211.3h0.78M155.6 164.4h0.78M162.1 224.1h0.78M167.8 227.9h0.78M131.5 132.6h0.78M177.9 245.9h0.78M123.3 119.5h0.78M180.8 218.6h0.78M176.2 225.1h0.78M211.2 295.8h0.78M177.2 205.6h0.78M214.2 297.2h0.78M207.7 286.3h0.78M172.5 194.0h0.78M182.6 249.2h0.78M188.4 245.4h0.78M239.7 318.9h0.78M199.4 226.6h0.78M180.1 236.0h0.78M162.2 179.9h0.78M187.5 215.7h0.78M175.6 231.0h0.78M192.5 250.7h0.78M203.9 233.3h0.78M242.1 332.4h0.78M136.7 160.6h0.78M163.8 211.2h0.78M192.2 247.4h0.78M233.5 322.2h0.78M179.7 195.4h0.78M131.6 170.5h0.78M136.1 161.8h0.78M198.4 274.3h0.78M197.1 239.2h0.78M211.6 284.6h0.78M238.0 306.9h0.78M187.0 242.9h0.78M197.6 241.4h0.78M178.7 216.8h0.78M181.7 230.5h0.78M126.4 124.2h0.78M131.7 151.1h0.78M191.8 257.0h0.78M189.4 259.4h0.78M180.0 241.9h0.78M191.4 232.5h0.78M189.0 252.0h0.78M217.2 306.8h0.78M128.6 150.4h0.78M154.6 162.8h0.78M204.8 288.3h0.78M169.6 196.7h0.78M136.2 138.3h0.78M125.7 120.8h0.78M158.5 160.3h0.78M149.9 183.8h0.78M202.5 261.4h0.78M192.5 269.6h0.78M215.5 292.1h0.78M208.5 261.2h0.78M150.8 161.4h0.78M155.1 190.2h0.78M118.1 123.0h0.78M126.1 133.1h0.78M165.3 197.7h0.78M194.5 232.4h0.78M152.5 205.3h0.78M133.9 131.1h0.78M197.3 254.2h0.78M113.6 131.4h0.78M248.0 327.8h0.78M220.4 297.9h0.78M151.6 191.4h0.78M189.1 250.4h0.78M164.9 191.5h0.78M229.7 314.3h0.78M209.0 278.5h0.78M236.3 323.1h0.78M241.7 330.3h0.78M125.6 141.5h0.78M139.6 179.7h0.78M169.9 206.0h0.78M168.0 226.6h0.78M199.8 264.3h0.78M152.2 178.7h0.78M148.6 176.0h0.78M222.5 313.2h0.78M143.1 155.7h0.78M131.3 165.1h0.78M174.1 203.8h0.78M126.0 139.7h0.78M169.5 226.2h0.78M155.0 207.7h0.78M116.7 116.8h0.78M175.1 185.7h0.78M165.7 228.5h0.78M203.3 273.5h0.78M154.6 187.9h0.78M246.8 332.1h0.78M189.3 219.2h0.78M177.5 202.3h0.78M223.4 300.0h0.78M111.6 110.1h0.78M190.2 244.1h0.78M225.3 301.1h0.78M192.2 221.4h0.78M163.4 194.2h0.78M172.5 200.8h0.78M221.1 290.0h0.78M133.9 169.6h0.78M227.8 319.4h0.78M227.6 315.3h0.78M240.9 323.0h0.78M129.9 152.4h0.78M199.9 245.9h0.78M167.5 211.4h0.78M191.3 227.7h0.78M133.9 166.6h0.78M233.5 304.9h0.78M178.8 227.2h0.78M227.0 305.2h0.78M159.7 189.1h0.78M208.3 264.5h0.78M112.1 126.2h0.78M149.6 196.5h0.78M225.8 315.2h0.78M185.4 218.9h0.78M198.4 270.0h0.78M213.3 268.5h0.78M231.4 315.7h0.78M230.7 303.7h0.78M162.2 207.8h0.78M123.3 139.9h0.78M146.0 170.8h0.78M180.1 212.7h0.78M165.4 214.0h0.78M204.0 284.0h0.78M163.3 214.7h0.78M200.1 262.5h0.78M148.9 182.4h0.78M107.4 120.7h0.78M165.5 195.3h0.78M124.7 119.1h0.78M173.6 232.1h0.78M189.9 229.0h0.78M138.4 145.1h0.78M202.2 261.1h0.78M219.0 307.2h0.78M156.1 163.3h0.78M218.0 284.2h0.78M239.7 332.8h0.78M214.2 257.3h0.78M173.9 223.6h0.78M169.0 230.8h0.78M155.7 193.6h0.78M220.1 292.9h0.78M180.7 210.7h0.78M127.7 129.7h0.78M115.7 136.4h0.78M135.9 154.1h0.78M138.2 179.2h0.78M168.4 211.9h0.78M174.5 239.1h0.78M138.8 138.0h0.78M156.8 185.1h0.78M109.8 103.9h0.78M160.6 193.8h0.78M119.7 115.7h0.78M209.6 288.6h0.78M184.1 220.4h0.78M213.8 295.5h0.78M161.5 179.3h0.78M157.5 197.8h0.78M199.5 276.6h0.78M213.1 272.4h0.78M213.9 280.4h0.78M151.9 172.7h0.78M128.1 125.3h0.78M226.7 295.7h0.78M161.9 193.7h0.78M205.7 286.4h0.78M244.3 335.6h0.78M130.8 139.0h0.78M177.7 231.5h0.78M160.6 211.4h0.78M173.0 195.4h0.78M182.6 205.7h0.78M207.3 256.5h0.78M170.7 230.2h0.78M156.0 200.3h0.78M119.1 146.1h0.78M202.3 234.2h0.78M187.3 245.3h0.78M129.7 130.0h0.78M185.3 213.5h0.78M148.7 181.2h0.78M191.4 242.3h0.78M209.8 285.8h0.78M200.4 250.9h0.78M149.6 178.1h0.78M107.7 111.1h0.78M147.6 178.0h0.78M156.4 188.2h0.78M193.6 240.6h0.78M186.2 253.1h0.78M182.9 255.7h0.78M234.2 316.4h0.78M138.7 152.7h0.78M163.1 190.3h0.78M145.2 161.1h0.78M127.2 130.6h0.78M149.4 163.4h0.78M192.0 251.4h0.78M204.2 273.6h0.78M167.9 174.3h0.78M198.1 217.4h0.78M167.9 231.4h0.78M159.2 191.9h0.78M206.0 283.2h0.78M156.2 189.0h0.78M141.3 173.7h0.78M205.8 264.8h0.78M109.1 109.2h0.78M205.8 265.4h0.78M234.5 300.1h0.78M191.6 220.3h0.78M188.4 251.8h0.78M239.8 328.2h0.78M139.1 178.4h0.78M123.8 149.7h0.78M186.0 252.6h0.78M153.8 159.0h0.78M113.4 114.4h0.78M115.6 136.9h0.78M106.9 99.1h0.78M194.2 263.9h0.78M131.7 141.6h0.78M141.9 142.2h0.78M140.2 159.6h0.78M224.1 283.9h0.78M186.0 204.0h0.78M218.2 300.2h0.78M174.9 228.8h0.78M178.4 209.3h0.78M184.9 254.1h0.78M168.8 233.1h0.78M186.3 210.8h0.78M130.6 143.5h0.78M158.5 180.6h0.78M201.3 249.1h0.78M205.7 271.7h0.78M216.0 291.9h0.78M202.4 255.4h0.78M209.7 286.5h0.78M205.6 270.2h0.78M191.5 251.5h0.78M213.3 292.0h0.78M114.8 110.6h0.78M221.8 298.3h0.78M215.8 279.9h0.78M189.7 241.0h0.78M199.1 243.9h0.78M204.4 271.1h0.78M231.7 309.6h0.78M129.2 133.0h0.78M206.2 280.7h0.78M207.0 287.4h0.78M214.7 286.2h0.78M211.6 260.6h0.78M131.3 121.5h0.78M220.4 293.6h0.78M200.8 272.2h0.78M163.3 214.1h0.78M180.5 206.4h0.78M207.6 284.7h0.78M181.8 228.7h0.78M237.9 329.9h0.78M126.0 138.9h0.78M200.1 236.9h0.78M120.8 107.3h0.78M213.3 270.8h0.78M133.1 126.4h0.78M207.2 286.7h0.78M157.9 198.2h0.78M173.6 209.8h0.78M115.2 120.4h0.78M181.4 224.6h0.78M213.5 279.0h0.78M215.2 296.6h0.78M150.8 186.3h0.78M199.9 259.7h0.78M215.3 270.6h0.78M164.8 177.0h0.78M182.4 209.0h0.78M123.0 112.1h0.78M172.5 229.2h0.78M145.6 156.0h0.78M181.5 253.5h0.78M202.8 261.3h0.78M192.8 247.7h0.78M183.4 232.0h0.78M134.8 167.5h0.78M162.6 192.3h0.78M143.6 183.7h0.78M215.6 287.5h0.78M153.2 188.5h0.78M152.5 171.7h0.78M153.8 154.7h0.78M118.4 133.3h0.78M140.3 161.1h0.78M144.8 176.4h0.78M227.3 316.6h0.78M158.5 205.5h0.78M129.7 150.1h0.78M122.4 117.6h0.78M185.8 227.1h0.78M160.0 220.3h0.78M243.7 328.7h0.78M235.3 319.8h0.78M164.7 178.5h0.78M241.6 333.2h0.78M107.3 119.3h0.78M136.4 161.4h0.78M220.0 272.7h0.78M164.2 225.9h0.78M160.9 218.7h0.78M138.6 142.8h0.78M233.1 302.7h0.78M140.9 157.7h0.78M212.5 294.6h0.78M192.5 243.0h0.78M199.8 250.6h0.78M179.6 211.6h0.78M199.3 250.7h0.78M156.5 184.6h0.78M239.6 326.1h0.78M161.5 189.7h0.78M157.4 210.8h0.78M195.6 272.6h0.78M111.2 109.2h0.78M225.0 295.6h0.78M133.7 141.6h0.78M174.6 236.3h0.78M221.6 302.4h0.78M110.3 110.6h0.78M147.0 163.8h0.78M108.8 118.2h0.78M126.6 129.7h0.78M160.8 217.2h0.78M214.3 301.9h0.78M134.4 152.5h0.78M170.4 176.2h0.78M147.6 161.4h0.78M169.3 190.2h0.78M103.0 102.6h0.78M163.2 173.8h0.78M223.2 306.4h0.78M224.7 296.6h0.78M127.3 152.2h0.78M207.3 281.9h0.78M116.4 116.0h0.78M109.8 100.3h0.78M249.5 329.7h0.78M175.3 190.6h0.78M110.0 104.9h0.78M165.2 176.2h0.78M198.5 248.6h0.78M121.2 111.7h0.78M226.3 306.0h0.78M178.2 244.0h0.78M183.3 208.0h0.78M166.7 184.8h0.78M185.0 208.5h0.78M131.7 142.7h0.78M218.6 288.9h0.78M236.4 320.0h0.78M168.6 199.9h0.78M142.4 152.9h0.78M209.4 287.6h0.78M211.4 262.4h0.78M215.2 290.5h0.78M145.3 151.9h0.78M160.0 217.5h0.78M189.1 255.8h0.78M147.9 183.2h0.78M184.5 243.9h0.78M212.2 297.5h0.78M169.4 201.0h0.78M161.1 212.9h0.78M150.3 196.7h0.78M110.3 117.8h0.78M196.2 238.5h0.78M212.8 271.6h0.78M154.4 174.6h0.78M187.4 234.8h0.78M177.6 211.0h0.78M165.0 220.3h0.78M232.5 296.7h0.78M133.8 160.8h0.78M205.8 277.6h0.78M240.0 332.2h0.78M230.6 305.5h0.78M158.4 203.5h0.78M192.5 237.9h0.78M116.5 112.9h0.78M142.8 160.8h0.78M183.9 203.7h0.78M231.4 316.3h0.78M144.3 187.4h0.78M151.9 183.7h0.78M158.0 209.0h0.78M123.9 121.0h0.78M147.1 156.4h0.78M242.2 325.7h0.78M200.1 275.7h0.78M204.2 269.1h0.78M186.8 222.1h0.78M152.3 186.4h0.78M207.2 273.9h0.78M127.1 150.2h0.78M194.5 228.6h0.78M177.1 209.1h0.78M225.1 306.1h0.78M132.0 129.3h0.78M153.8 158.5h0.78M196.7 236.1h0.78M107.6 112.0h0.78M195.1 267.0h0.78M207.8 269.8h0.78M112.3 123.5h0.78M210.5 281.7h0.78M202.0 279.5h0.78M145.2 157.5h0.78M169.2 228.5h0.78M148.9 193.8h0.78M180.5 203.0h0.78M229.6 317.7h0.78M162.2 180.2h0.78M161.0 212.2h0.78M213.0 286.7h0.78M174.1 185.0h0.78M130.3 130.5h0.78M199.8 258.0h0.78M143.6 161.9h0.78M144.9 151.8h0.78M118.2 122.5h0.78M215.8 278.1h0.78M186.3 216.6h0.78M126.5 146.3h0.78M124.9 141.6h0.78M157.4 176.1h0.78M192.9 242.9h0.78M120.8 115.8h0.78M167.0 191.7h0.78M112.2 109.1h0.78M160.2 176.0h0.78M168.6 196.6h0.78M149.2 195.8h0.78M195.1 242.4h0.78M197.6 271.6h0.78M170.9 186.8h0.78M207.1 279.8h0.78M192.3 214.0h0.78M140.2 155.3h0.78M172.3 226.6h0.78M147.9 162.3h0.78M219.3 309.1h0.78M184.3 222.9h0.78M176.8 209.1h0.78M181.6 219.1h0.78M173.3 187.0h0.78M118.8 128.9h0.78M111.3 102.3h0.78M201.4 279.6h0.78M239.8 320.8h0.78M186.2 239.6h0.78M108.3 116.3h0.78M237.6 312.6h0.78M242.2 330.7h0.78M132.1 130.9h0.78M190.9 251.1h0.78M197.5 252.6h0.78M200.3 266.7h0.78M234.1 323.7h0.78M231.5 315.5h0.78M172.0 238.6h0.78M156.7 190.9h0.78M121.9 119.2h0.78M124.1 154.5h0.78M197.4 268.6h0.78M172.3 216.9h0.78M190.8 260.5h0.78M217.3 268.0h0.78M180.7 224.4h0.78M208.3 281.0h0.78M213.2 264.7h0.78M221.2 296.7h0.78M162.6 184.7h0.78M144.9 142.2h0.78M192.2 232.5h0.78M187.1 233.5h0.78M157.0 177.5h0.78M143.7 163.9h0.78M113.3 107.9h0.78M140.9 173.3h0.78M235.5 326.7h0.78M217.9 305.8h0.78M158.6 192.3h0.78M217.9 291.6h0.78M205.3 290.5h0.78M194.4 247.4h0.78M234.2 318.1h0.78M129.1 128.6h0.78M198.6 251.5h0.78M160.2 211.8h0.78M237.3 329.6h0.78M164.4 212.3h0.78M217.6 295.9h0.78M177.2 225.3h0.78M176.4 210.2h0.78M182.9 222.3h0.78M233.9 316.3h0.78M215.8 293.9h0.78M167.5 208.5h0.78M160.0 207.4h0.78M143.3 175.1h0.78M217.6 305.1h0.78M216.4 298.7h0.78M148.0 189.5h0.78M195.4 249.5h0.78M145.6 167.9h0.78M172.2 198.9h0.78M187.5 249.0h0.78M163.8 209.2h0.78M189.9 240.6h0.78M162.2 197.8h0.78M131.6 168.5h0.78M140.8 146.7h0.78M154.9 170.2h0.78M181.5 202.1h0.78M116.3 119.2h0.78M171.2 225.6h0.78M148.1 150.4h0.78M165.4 188.5h0.78M190.7 233.1h0.78M176.1 193.4h0.78M243.5 334.2h0.78M131.7 153.8h0.78M208.9 256.1h0.78M243.0 329.8h0.78M243.1 325.0h0.78M172.5 196.5h0.78M188.3 212.1h0.78M101.9 108.9h0.78M141.2 142.4h0.78M158.4 183.2h0.78M212.9 264.3h0.78M160.3 182.8h0.78M178.4 246.9h0.78M217.0 302.2h0.78M148.9 172.1h0.78M107.7 99.9h0.78M181.4 226.4h0.78M241.5 315.6h0.78M149.1 173.9h0.78M190.6 233.8h0.78M211.7 288.5h0.78M132.0 150.6h0.78M241.7 332.8h0.78M205.8 272.5h0.78M220.9 296.1h0.78M104.9 106.9h0.78M229.3 310.6h0.78M213.0 289.9h0.78M214.2 292.9h0.78M244.3 337.1h0.78M185.0 218.7h0.78M189.2 238.0h0.78M220.7 305.7h0.78M207.3 284.7h0.78M202.7 278.3h0.78M179.3 189.6h0.78M136.6 134.6h0.78M169.6 186.6h0.78M162.0 203.6h0.78M200.9 267.4h0.78M178.3 196.1h0.78M151.3 195.5h0.78M193.9 226.4h0.78M213.0 289.7h0.78M242.2 325.0h0.78M210.8 275.0h0.78M180.9 245.8h0.78M166.3 215.0h0.78M143.6 161.8h0.78M167.3 228.5h0.78M129.0 157.2h0.78M154.8 198.3h0.78M164.6 186.5h0.78M151.0 163.7h0.78M205.6 248.6h0.78M213.5 287.5h0.78M188.3 252.4h0.78M174.4 191.9h0.78M118.7 139.1h0.78M194.7 250.0h0.78M198.8 280.6h0.78M199.8 281.7h0.78M161.7 195.1h0.78M194.8 240.8h0.78M151.1 180.9h0.78M141.3 168.0h0.78M161.2 195.1h0.78M209.0 277.8h0.78M130.2 151.5h0.78M169.5 191.5h0.78M104.9 111.5h0.78M127.2 128.7h0.78M190.5 238.8h0.78M119.0 134.8h0.78M208.1 265.2h0.78M196.1 276.1h0.78M216.5 286.7h0.78M212.2 285.8h0.78M205.0 251.9h0.78M249.6 340.7h0.78M177.7 218.4h0.78M207.7 264.6h0.78M210.0 280.9h0.78M125.9 129.1h0.78M157.9 172.8h0.78M194.8 222.2h0.78M199.9 280.0h0.78M161.2 190.4h0.78M147.7 163.0h0.78M205.7 291.3h0.78M130.5 159.8h0.78M224.4 311.3h0.78M136.6 139.1h0.78M176.4 217.2h0.78M109.2 119.8h0.78M203.5 279.3h0.78M173.8 220.2h0.78M159.0 176.2h0.78M140.5 162.6h0.78M212.6 275.7h0.78M112.2 128.2h0.78M175.9 201.5h0.78M224.3 305.4h0.78M207.4 252.2h0.78M224.2 307.6h0.78M157.1 180.6h0.78M128.7 130.9h0.78M168.2 202.7h0.78M106.5 111.4h0.78M160.4 216.9h0.78M112.8 105.8h0.78M192.6 242.8h0.78M227.1 306.0h0.78M185.5 250.8h0.78M129.5 160.2h0.78M209.8 291.5h0.78M212.0 287.7h0.78M174.0 241.5h0.78M152.9 165.8h0.78M140.8 178.9h0.78M160.4 175.0h0.78M211.0 292.7h0.78M108.5 118.5h0.78M117.3 113.4h0.78M177.5 213.4h0.78M235.4 326.2h0.78M177.5 215.8h0.78M104.0 108.6h0.78M253.3 336.0h0.78M127.3 153.6h0.78M225.1 287.5h0.78M228.8 316.8h0.78M211.3 294.0h0.78M133.2 141.1h0.78M207.8 246.8h0.78M229.3 315.3h0.78M152.0 163.4h0.78M193.7 258.7h0.78M123.2 120.5h0.78M135.0 137.0h0.78M105.1 105.1h0.78M160.0 177.7h0.78M177.1 201.6h0.78M147.0 178.6h0.78M222.3 303.5h0.78M140.1 163.6h0.78M185.9 247.4h0.78M247.7 342.0h0.78M203.2 284.6h0.78M172.9 225.9h0.78M237.8 298.5h0.78M117.1 109.4h0.78M161.9 186.5h0.78M126.0 133.8h0.78M207.2 255.6h0.78M207.8 291.3h0.78M150.1 171.5h0.78M143.1 155.9h0.78M197.2 275.6h0.78M144.0 151.0h0.78M167.2 179.3h0.78M142.4 164.7h0.78M169.0 208.2h0.78M134.8 149.9h0.78M148.7 156.7h0.78M175.9 190.4h0.78M201.2 261.6h0.78M185.2 249.2h0.78M209.0 289.3h0.78M120.1 136.8h0.78M170.6 207.5h0.78M129.1 122.8h0.78M157.5 173.0h0.78M167.9 232.0h0.78M176.8 227.7h0.78M139.6 155.6h0.78M181.0 233.3h0.78M185.8 226.0h0.78M243.6 336.3h0.78M240.8 316.9h0.78M170.4 177.1h0.78M177.1 205.6h0.78M164.2 203.8h0.78M250.9 329.2h0.78M242.6 327.9h0.78M176.3 227.1h0.78M179.5 216.2h0.78M151.9 171.8h0.78M170.7 192.7h0.78M105.3 105.6h0.78M194.3 241.5h0.78M131.8 129.0h0.78M146.5 153.7h0.78M196.0 239.5h0.78M202.5 245.8h0.78M187.3 204.8h0.78M165.2 177.5h0.78M167.1 186.7h0.78M195.9 274.4h0.78M194.6 250.2h0.78M137.1 139.3h0.78M126.6 150.7h0.78M176.8 192.6h0.78M224.7 288.9h0.78M225.0 308.4h0.78M228.3 289.1h0.78M170.5 197.2h0.78M186.7 229.6h0.78M127.6 154.6h0.78M229.1 309.2h0.78M180.7 219.8h0.78M177.5 211.3h0.78M197.5 241.0h0.78M217.1 297.2h0.78M174.0 193.7h0.78M176.2 211.5h0.78M195.8 236.7h0.78M188.2 226.5h0.78M116.2 110.5h0.78M203.4 256.0h0.78M223.3 296.1h0.78M223.6 282.3h0.78M156.8 168.1h0.78M104.6 119.0h0.78M226.2 304.6h0.78M146.5 157.7h0.78M124.9 154.9h0.78M119.9 115.0h0.78M176.3 207.1h0.78M160.6 213.5h0.78M202.3 265.0h0.78M169.2 232.8h0.78M160.6 181.2h0.78M227.6 295.1h0.78M182.7 204.8h0.78M192.7 233.3h0.78M159.5 174.5h0.78M204.0 276.7h0.78M167.7 188.5h0.78M182.0 216.9h0.78M198.0 256.8h0.78M195.4 273.3h0.78M116.3 132.8h0.78M140.5 147.2h0.78M198.9 247.5h0.78M190.5 216.9h0.78M132.4 167.0h0.78M208.5 287.4h0.78M209.7 270.0h0.78M213.8 288.8h0.78M133.9 143.2h0.78M114.9 112.8h0.78M234.6 326.3h0.78M114.6 112.9h0.78M190.2 255.6h0.78M194.3 247.4h0.78M159.1 169.0h0.78M222.4 284.2h0.78M112.4 101.9h0.78M154.6 152.2h0.78M144.7 168.2h0.78M225.1 309.9h0.78M193.2 260.7h0.78M188.1 213.3h0.78M198.6 243.5h0.78M209.0 293.3h0.78M183.3 234.4h0.78M204.7 277.7h0.78M196.6 265.9h0.78M198.3 259.9h0.78M205.1 278.7h0.78M189.0 219.8h0.78M192.4 266.3h0.78M135.2 172.4h0.78M119.6 110.3h0.78M165.1 204.3h0.78M121.8 127.6h0.78M209.6 284.8h0.78M109.5 119.8h0.78M185.3 198.9h0.78M173.1 205.2h0.78M186.6 232.0h0.78M198.2 264.4h0.78M108.3 110.9h0.78M140.1 153.9h0.78M154.7 158.9h0.78M240.3 318.7h0.78M193.0 263.9h0.78M185.2 217.0h0.78M204.7 275.2h0.78M211.7 274.4h0.78M245.4 314.6h0.78M143.8 166.1h0.78M152.2 175.5h0.78M182.4 223.9h0.78M120.0 118.1h0.78M175.8 188.8h0.78M131.2 126.3h0.78M140.4 167.4h0.78M227.4 283.8h0.78M138.4 146.2h0.78M129.3 150.2h0.78M199.3 263.9h0.78M167.5 208.2h0.78M173.3 214.8h0.78M238.6 319.4h0.78M195.3 244.2h0.78M129.9 136.0h0.78M138.8 143.3h0.78M200.5 254.9h0.78M166.9 188.5h0.78M120.7 133.5h0.78M216.0 274.3h0.78M200.3 271.4h0.78M247.2 324.7h0.78M177.2 238.4h0.78M214.2 260.1h0.78M182.5 203.2h0.78M186.2 251.3h0.78M196.7 265.0h0.78M230.0 287.4h0.78M202.2 264.9h0.78M168.5 179.6h0.78M161.4 175.5h0.78M203.2 248.8h0.78M140.0 160.1h0.78M151.1 202.0h0.78M157.9 172.4h0.78M170.0 221.1h0.78M146.6 174.3h0.78M173.6 199.6h0.78M167.7 217.1h0.78M138.8 150.7h0.78M178.3 201.6h0.78M161.5 177.9h0.78M235.5 327.0h0.78M204.9 249.4h0.78M109.1 108.7h0.78M121.6 152.5h0.78M179.2 246.3h0.78M163.1 210.8h0.78M211.6 287.0h0.78M183.1 205.5h0.78M170.0 199.8h0.78M168.3 190.0h0.78M144.9 152.9h0.78M151.5 202.1h0.78M152.7 188.9h0.78M238.4 310.3h0.78M124.0 118.4h0.78M186.7 251.0h0.78M160.4 202.7h0.78M243.5 336.5h0.78M139.4 147.3h0.78M188.6 249.4h0.78M200.6 263.6h0.78M215.0 273.2h0.78M191.0 231.6h0.78M201.1 250.4h0.78M214.9 291.2h0.78M185.1 246.2h0.78M196.4 264.3h0.78M199.0 244.2h0.78M193.4 234.8h0.78M220.1 309.2h0.78M150.8 192.7h0.78M140.2 149.7h0.78M236.6 321.1h0.78M217.8 306.2h0.78M211.3 284.1h0.78M181.6 211.9h0.78M163.8 214.5h0.78M164.0 178.2h0.78M105.0 103.5h0.78M215.4 286.5h0.78M235.2 325.5h0.78M212.3 282.6h0.78M119.8 113.7h0.78M107.5 105.8h0.78M187.0 232.2h0.78M162.9 186.0h0.78M192.9 232.0h0.78M184.9 205.6h0.78M216.4 258.6h0.78M242.6 325.1h0.78M170.4 193.0h0.78M197.6 261.5h0.78M120.3 126.7h0.78M230.2 314.5h0.78M173.3 236.8h0.78M168.0 215.5h0.78M202.8 246.8h0.78M220.8 290.6h0.78M194.4 230.3h0.78M206.0 279.2h0.78M187.5 219.9h0.78M156.2 167.1h0.78M212.8 294.0h0.78M228.0 291.4h0.78M161.0 189.0h0.78M122.3 121.3h0.78M135.2 164.7h0.78M153.1 176.7h0.78M213.9 289.1h0.78M200.8 240.5h0.78M131.0 140.8h0.78M127.6 159.7h0.78M209.8 287.6h0.78M183.6 219.8h0.78M231.1 308.5h0.78M189.1 217.8h0.78M160.5 173.1h0.78M227.4 307.9h0.78M209.8 272.3h0.78M158.3 198.7h0.78M195.5 236.0h0.78M244.2 329.4h0.78M170.9 225.2h0.78M116.7 120.0h0.78M191.6 222.3h0.78M188.7 260.0h0.78M231.7 309.9h0.78M202.1 282.5h0.78M143.9 161.9h0.78M193.1 260.4h0.78M210.1 284.5h0.78M175.5 213.5h0.78M141.1 185.7h0.78M150.5 171.6h0.78M196.7 261.4h0.78M188.6 246.5h0.78M112.2 106.0h0.78M173.2 223.0h0.78M210.7 269.0h0.78M191.5 243.7h0.78M200.4 271.9h0.78M111.6 112.2h0.78M179.0 196.5h0.78M176.1 191.9h0.78M231.8 321.8h0.78M202.0 276.1h0.78M183.1 230.9h0.78M170.5 221.0h0.78M230.5 298.5h0.78M191.1 222.7h0.78M155.1 200.8h0.78M230.0 320.4h0.78M185.0 240.5h0.78M252.7 347.3h0.78M205.8 253.5h0.78M152.0 198.5h0.78M137.0 133.8h0.78M219.8 306.4h0.78M158.3 184.9h0.78M196.1 265.1h0.78M167.2 218.9h0.78M179.3 248.6h0.78M197.2 254.5h0.78M160.4 182.2h0.78M191.8 240.6h0.78M117.2 132.7h0.78M156.4 203.3h0.78M219.6 297.7h0.78M184.9 251.4h0.78M195.9 247.7h0.78M180.0 207.2h0.78M225.5 302.0h0.78M170.2 182.6h0.78M174.1 230.7h0.78M199.6 231.7h0.78M239.0 323.3h0.78M136.1 153.1h0.78M125.1 140.3h0.78M156.1 174.6h0.78M187.1 231.1h0.78M155.1 201.8h0.78M203.8 275.0h0.78M237.5 322.2h0.78M190.9 210.9h0.78M180.9 216.9h0.78M215.0 250.9h0.78M182.9 203.4h0.78M182.2 237.9h0.78M239.1 309.6h0.78M177.8 205.1h0.78M107.4 115.7h0.78M230.8 322.3h0.78M180.5 234.3h0.78M209.0 270.4h0.78M109.7 114.1h0.78M135.0 128.0h0.78M140.7 146.2h0.78M208.7 276.4h0.78M153.9 172.5h0.78M124.2 127.8h0.78M203.5 229.6h0.78M181.5 241.6h0.78M135.3 150.4h0.78M186.8 223.3h0.78M139.8 153.8h0.78M123.3 119.5h0.78M210.4 257.6h0.78M222.3 307.0h0.78M182.8 226.6h0.78M167.3 190.2h0.78M166.6 195.4h0.78M143.7 190.6h0.78M127.8 129.8h0.78M218.3 292.3h0.78M142.8 164.3h0.78M189.7 219.5h0.78M176.6 234.1h0.78M187.7 226.0h0.78M241.1 319.6h0.78M208.7 270.2h0.78M172.2 206.4h0.78M197.4 250.9h0.78M195.0 258.4h0.78M181.5 210.6h0.78M137.5 138.5h0.78M169.3 182.6h0.78M196.7 268.4h0.78M206.5 275.5h0.78M162.4 187.2h0.78M194.2 217.9h0.78M193.2 228.9h0.78" stroke="#f9d93d" stroke-width="0.78" fill="none"/>
<path d="M222.2 312.4h0.78M182.8 246.7h0.78M174.3 207.9h0.78M105.1 112.6h0.78M114.7 115.4h0.78M137.1 153.6h0.78M154.2 187.8h0.78M126.5 145.2h0.78M197.1 251.7h0.78M149.0 173.5h0.78M105.2 116.5h0.78M163.0 217.8h0.78M165.5 202.4h0.78M174.5 238.0h0.78M157.6 209.1h0.78M133.1 153.9h0.78M155.0 206.7h0.78M218.0 301.0h0.78M129.9 158.9h0.78M140.2 181.6h0.78M165.0 226.8h0.78M135.8 140.5h0.78M110.6 123.3h0.78M194.5 251.5h0.78M179.5 248.5h0.78M114.0 111.5h0.78M139.5 155.6h0.78M104.1 101.6h0.78M117.4 133.8h0.78M108.8 114.8h0.78M132.1 157.1h0.78M118.7 128.7h0.78M231.4 309.5h0.78M124.8 150.0h0.78M186.3 251.5h0.78M242.3 336.5h0.78M190.5 245.7h0.78M123.6 122.6h0.78M197.7 266.2h0.78M207.6 290.3h0.78M144.3 188.9h0.78M161.1 216.8h0.78M231.8 323.0h0.78M113.6 123.8h0.78M185.0 227.1h0.78M200.8 257.9h0.78M220.9 310.4h0.78M189.7 263.3h0.78M170.8 237.1h0.78M111.2 118.0h0.78M162.2 217.4h0.78M133.8 174.0h0.78M154.1 192.3h0.78M183.9 248.5h0.78M187.8 231.7h0.78M118.9 138.2h0.78M176.3 219.2h0.78M155.8 175.3h0.78M146.7 193.4h0.78M219.5 308.9h0.78M162.4 202.4h0.78M182.5 234.2h0.78M169.4 232.6h0.78M175.9 225.0h0.78M191.4 249.7h0.78M103.9 108.6h0.78M154.6 195.9h0.78M195.1 250.0h0.78M128.6 152.3h0.78M193.6 266.2h0.78M160.8 202.3h0.78M156.8 210.7h0.78M124.4 137.2h0.78M210.9 279.3h0.78M125.3 156.8h0.78M151.6 190.2h0.78M188.5 220.5h0.78M173.0 238.9h0.78M154.7 201.4h0.78M195.8 236.0h0.78M157.6 199.7h0.78M195.0 250.1h0.78M105.4 106.7h0.78M190.7 258.8h0.78M172.0 196.1h0.78M144.6 185.3h0.78M106.3 101.2h0.78M189.0 231.3h0.78M166.0 198.1h0.78M135.3 167.7h0.78M132.5 165.8h0.78M178.4 231.6h0.78M108.2 115.8h0.78M134.7 163.2h0.78M203.8 263.9h0.78M161.8 199.5h0.78M155.0 199.9h0.78M173.2 235.8h0.78M157.5 200.6h0.78M165.0 196.3h0.78M134.5 131.4h0.78M185.8 256.7h0.78M153.4 187.8h0.78M100.8 106.3h0.78M131.4 133.2h0.78M163.9 215.6h0.78M115.9 116.5h0.78M149.0 195.0h0.78M130.0 128.6h0.78M205.9 290.4h0.78M177.6 204.7h0.78M182.5 246.6h0.78M121.0 138.4h0.78M135.1 163.4h0.78M195.5 276.0h0.78M164.5 208.1h0.78M176.1 221.2h0.78M176.9 227.2h0.78M142.0 180.1h0.78M178.3 216.4h0.78M151.0 163.2h0.78M167.9 226.6h0.78M223.5 310.9h0.78M192.6 250.4h0.78M163.8 223.4h0.78M151.3 184.2h0.78M179.1 247.4h0.78M160.7 197.6h0.78M220.3 302.2h0.78M148.7 164.1h0.78M169.7 234.0h0.78M104.1 105.9h0.78M219.7 307.1h0.78M169.0 220.3h0.78M131.0 157.9h0.78M125.8 141.2h0.78M128.9 149.4h0.78M149.6 185.5h0.78M183.4 235.3h0.78M140.8 152.4h0.78M173.9 214.7h0.78M202.1 245.2h0.78M191.9 258.5h0.78M199.8 257.3h0.78M117.1 126.9h0.78M186.7 251.6h0.78M120.2 148.5h0.78M127.0 122.1h0.78M171.1 212.4h0.78M167.8 209.0h0.78M181.3 246.0h0.78M154.5 182.7h0.78M180.9 223.7h0.78M154.2 200.3h0.78M127.8 152.8h0.78M125.1 138.6h0.78M120.6 131.4h0.78M156.0 185.1h0.78M204.4 284.7h0.78M153.5 208.2h0.78M108.2 114.8h0.78M106.6 104.0h0.78M179.8 230.5h0.78M115.0 116.3h0.78M135.3 132.9h0.78M195.0 268.2h0.78M122.0 128.7h0.78M161.5 196.6h0.78M105.4 106.4h0.78M125.7 153.4h0.78M139.1 183.2h0.78M208.9 281.1h0.78M146.8 195.3h0.78M124.7 154.7h0.78M138.8 152.9h0.78M141.2 170.1h0.78M121.0 150.8h0.78M156.3 202.9h0.78M142.5 161.8h0.78M148.9 175.5h0.78M123.6 145.1h0.78M132.9 136.5h0.78M193.4 267.4h0.78M240.8 324.5h0.78M138.5 173.8h0.78M105.5 115.5h0.78M124.9 134.9h0.78M165.1 225.7h0.78M198.6 263.8h0.78M175.0 238.0h0.78M169.8 222.6h0.78M168.4 228.3h0.78M180.1 215.2h0.78M146.1 161.9h0.78M141.0 161.4h0.78M198.4 270.6h0.78M222.0 312.6h0.78M217.8 306.6h0.78M164.2 196.0h0.78M185.7 222.0h0.78M168.0 192.8h0.78M149.3 186.9h0.78M133.5 151.7h0.78M149.7 199.0h0.78M126.7 146.9h0.78M107.5 102.5h0.78M186.7 240.0h0.78M117.1 128.3h0.78M118.5 123.1h0.78M175.8 242.5h0.78M139.5 169.6h0.78M195.3 257.0h0.78M159.0 207.9h0.78M180.5 235.8h0.78M189.4 249.4h0.78M128.3 156.5h0.78M130.3 135.9h0.78M105.1 102.6h0.78M114.5 138.0h0.78M166.9 209.8h0.78M217.0 299.5h0.78M120.8 116.7h0.78M163.4 196.8h0.78M168.0 201.3h0.78M196.3 223.8h0.78M149.5 167.2h0.78M151.7 171.9h0.78M132.2 167.3h0.78M174.8 242.8h0.78M123.6 140.4h0.78M116.2 139.4h0.78M126.5 139.2h0.78M137.9 164.1h0.78M144.4 173.7h0.78M183.5 244.9h0.78M114.1 132.9h0.78M165.1 216.8h0.78M172.5 201.6h0.78M153.9 181.2h0.78M207.0 273.3h0.78M160.9 197.9h0.78M187.2 258.3h0.78M140.6 172.5h0.78M185.0 254.7h0.78M129.6 133.3h0.78M170.2 195.9h0.78M115.3 126.5h0.78M183.1 240.3h0.78M144.3 192.3h0.78M106.4 120.0h0.78M140.3 167.9h0.78M168.5 226.9h0.78M231.4 316.9h0.78M229.3 319.0h0.78M151.7 200.3h0.78M160.2 215.4h0.78M147.2 178.0h0.78M149.8 201.0h0.78M146.0 191.4h0.78M190.4 225.2h0.78M178.9 234.1h0.78M141.6 167.0h0.78M156.6 212.3h0.78M167.4 198.3h0.78M138.2 173.1h0.78M114.6 128.0h0.78M205.3 284.3h0.78M164.7 204.6h0.78M137.0 148.7h0.78M197.9 258.6h0.78M205.9 261.8h0.78M155.1 198.7h0.78M243.1 325.6h0.78M129.0 155.8h0.78M176.5 214.6h0.78M153.2 175.0h0.78M168.2 228.8h0.78M166.5 187.1h0.78M119.0 143.3h0.78M191.1 260.8h0.78M113.2 130.6h0.78M204.7 288.9h0.78M206.5 282.1h0.78M173.2 213.6h0.78M204.4 254.8h0.78M158.5 199.0h0.78M125.5 148.9h0.78M193.8 226.3h0.78M133.6 143.2h0.78M206.1 248.1h0.78M125.0 158.1h0.78M178.1 235.2h0.78M195.8 273.9h0.78M159.1 187.1h0.78M194.1 270.1h0.78M161.7 192.7h0.78M208.0 272.5h0.78M188.0 247.0h0.78M218.7 286.3h0.78M122.6 148.3h0.78M142.0 180.6h0.78M179.1 248.1h0.78M170.4 212.6h0.78M120.0 130.9h0.78M124.8 153.6h0.78M129.9 141.8h0.78M179.6 245.5h0.78M138.2 145.7h0.78M230.7 318.6h0.78M106.0 113.5h0.78M154.0 205.0h0.78M102.8 106.4h0.78M144.5 184.0h0.78M196.9 256.7h0.78M150.4 197.0h0.78M143.0 163.0h0.78M138.4 160.6h0.78M125.3 158.7h0.78M134.2 135.7h0.78M156.2 193.6h0.78M194.6 254.1h0.78M128.3 160.1h0.78M157.3 179.7h0.78M194.5 274.4h0.78M174.8 226.8h0.78M129.6 144.0h0.78M147.7 182.3h0.78M179.7 202.1h0.78M219.0 283.8h0.78M186.2 236.8h0.78M170.3 200.9h0.78M152.5 182.9h0.78M133.3 140.8h0.78M137.2 163.5h0.78M137.5 165.9h0.78M124.1 154.6h0.78M129.9 142.9h0.78M157.9 208.6h0.78M208.9 281.4h0.78M177.6 211.6h0.78M117.3 119.1h0.78M202.2 259.6h0.78M177.5 241.2h0.78M185.5 247.5h0.78M141.7 139.8h0.78M138.0 173.2h0.78M104.3 115.9h0.78M124.6 124.0h0.78M183.5 228.7h0.78M171.3 201.3h0.78M155.7 197.9h0.78M182.9 245.4h0.78M155.0 167.7h0.78M111.9 119.9h0.78M162.7 211.0h0.78M105.5 107.0h0.78M150.5 195.6h0.78M192.3 263.4h0.78M119.2 136.7h0.78M170.2 206.0h0.78M151.2 177.0h0.78M211.4 270.3h0.78M136.3 145.0h0.78M184.1 213.8h0.78M193.1 245.9h0.78M142.4 188.5h0.78M142.6 166.5h0.78M181.1 235.1h0.78M198.1 250.3h0.78M144.9 174.3h0.78M107.6 108.8h0.78M175.6 236.5h0.78M143.2 161.4h0.78M150.4 163.8h0.78M119.7 139.0h0.78M182.4 251.4h0.78M185.2 253.4h0.78M111.2 114.7h0.78M212.6 293.3h0.78M123.1 153.6h0.78M184.2 252.5h0.78M206.2 270.2h0.78M171.0 230.8h0.78M168.0 205.2h0.78M186.7 250.2h0.78M160.8 191.9h0.78M151.6 183.1h0.78M166.1 229.4h0.78M163.9 202.8h0.78M188.4 256.2h0.78M143.1 157.8h0.78M241.1 334.1h0.78M117.0 140.4h0.78M144.0 157.7h0.78M203.6 284.3h0.78M192.2 268.6h0.78M148.3 197.6h0.78M160.4 180.6h0.78M139.0 140.2h0.78M113.2 115.3h0.78M165.8 200.5h0.78M140.9 160.9h0.78M212.5 295.6h0.78M161.4 215.6h0.78M137.6 165.5h0.78M152.1 201.8h0.78M130.0 158.7h0.78M140.3 147.7h0.78M172.5 239.1h0.78M123.5 130.6h0.78M165.7 208.4h0.78M152.4 199.0h0.78M120.0 133.2h0.78M171.7 205.0h0.78M158.8 213.1h0.78M133.9 168.3h0.78M109.6 127.2h0.78M181.4 222.4h0.78M113.6 122.0h0.78M130.3 145.2h0.78M111.5 113.1h0.78M119.0 143.9h0.78M169.2 217.8h0.78M104.8 115.7h0.78M163.9 189.6h0.78M187.9 249.6h0.78M192.5 250.7h0.78M114.8 118.7h0.78M178.7 202.5h0.78M140.2 152.9h0.78M244.0 319.0h0.78M115.9 105.9h0.78M136.5 178.1h0.78M171.9 223.0h0.78M142.4 176.9h0.78M138.6 154.2h0.78M125.2 135.2h0.78M160.2 174.0h0.78M122.9 150.8h0.78M128.4 157.4h0.78M162.6 219.6h0.78M155.4 169.6h0.78M176.6 219.1h0.78M184.5 236.3h0.78M140.5 154.6h0.78M239.4 331.1h0.78M137.8 139.9h0.78M201.8 266.5h0.78M192.0 256.4h0.78M215.8 275.1h0.78M123.5 136.5h0.78M142.6 179.5h0.78M154.8 181.8h0.78M135.9 174.7h0.78M131.0 166.7h0.78M108.2 113.6h0.78M167.0 218.8h0.78M190.3 221.9h0.78M124.4 154.3h0.78M150.6 158.9h0.78M145.9 164.0h0.78M143.9 189.7h0.78M156.0 199.0h0.78M127.1 143.6h0.78M131.0 161.3h0.78M140.2 166.6h0.78M185.8 226.0h0.78M112.4 105.6h0.78M140.5 168.6h0.78M115.1 129.9h0.78M137.6 162.1h0.78M187.0 224.0h0.78M216.2 302.1h0.78M124.6 131.6h0.78M116.0 122.1h0.78M165.9 205.3h0.78M158.0 191.7h0.78M142.1 148.5h0.78M110.5 124.9h0.78M141.8 187.8h0.78M162.5 220.2h0.78M142.8 160.1h0.78M166.2 219.2h0.78M134.0 163.8h0.78M126.0 155.9h0.78M109.8 120.2h0.78M114.9 117.1h0.78M136.9 153.9h0.78M206.1 279.2h0.78M155.8 180.4h0.78M185.4 222.3h0.78M205.8 266.5h0.78M144.5 180.5h0.78M161.5 200.8h0.78M145.6 180.1h0.78M206.1 271.7h0.78M191.2 260.9h0.78M201.5 270.1h0.78M142.1 162.1h0.78M113.0 118.0h0.78M165.8 207.5h0.78M190.9 234.5h0.78M114.2 109.3h0.78M194.4 263.3h0.78M196.6 238.6h0.78M115.8 137.9h0.78M121.0 128.4h0.78M158.1 211.1h0.78M122.9 140.3h0.78M188.5 245.4h0.78M123.6 149.3h0.78M171.3 238.0h0.78M156.6 173.9h0.78M115.0 136.2h0.78M123.1 130.2h0.78M185.9 246.5h0.78M110.5 107.1h0.78M164.9 225.3h0.78M120.2 120.2h0.78M163.5 199.0h0.78M119.6 135.7h0.78M168.3 181.2h0.78M127.1 147.2h0.78M144.4 172.6h0.78M105.4 101.8h0.78M167.6 220.4h0.78M233.9 321.8h0.78M190.1 253.4h0.78M166.6 216.1h0.78M124.1 125.7h0.78M133.3 164.6h0.78M176.3 236.1h0.78M246.7 338.4h0.78M184.4 233.5h0.78M120.6 115.4h0.78M138.8 173.8h0.78M134.1 167.7h0.78M175.5 216.5h0.78M135.3 169.3h0.78M136.1 169.5h0.78M185.9 249.1h0.78M182.1 232.6h0.78M113.0 110.0h0.78M199.3 278.4h0.78M141.9 171.8h0.78M158.8 189.7h0.78M174.4 201.9h0.78M135.0 170.7h0.78M152.3 181.9h0.78M128.9 158.5h0.78M172.7 237.6h0.78M104.1 102.1h0.78M158.7 190.4h0.78M222.5 302.7h0.78M137.3 168.1h0.78M135.7 161.3h0.78M113.1 130.4h0.78M154.9 179.2h0.78M125.0 155.7h0.78M102.7 108.4h0.78M105.5 111.6h0.78M134.5 138.4h0.78M196.0 276.2h0.78M198.5 277.3h0.78M106.2 99.4h0.78M169.1 211.1h0.78M130.3 168.9h0.78M103.9 104.4h0.78M189.4 227.8h0.78M151.1 187.9h0.78M146.7 160.3h0.78M138.9 166.9h0.78M147.3 193.5h0.78M149.7 200.2h0.78M152.7 172.3h0.78M173.1 235.0h0.78M134.2 150.1h0.78M128.9 154.6h0.78M168.8 219.4h0.78M189.3 243.1h0.78M181.0 213.4h0.78M177.4 241.6h0.78M196.7 253.5h0.78M230.3 312.4h0.78M138.5 176.0h0.78M131.9 151.9h0.78M125.2 134.8h0.78M192.3 263.9h0.78M237.2 325.1h0.78M146.4 149.8h0.78M200.3 256.7h0.78M104.5 103.8h0.78M118.4 126.2h0.78M229.9 320.6h0.78M146.0 188.2h0.78M149.6 176.7h0.78M124.5 153.8h0.78M224.2 309.2h0.78M227.6 317.7h0.78M106.5 101.7h0.78M144.9 168.7h0.78M151.5 171.8h0.78M121.8 150.7h0.78M113.6 123.6h0.78M128.8 145.4h0.78M136.5 153.2h0.78M120.3 138.8h0.78M152.6 154.4h0.78M106.7 106.7h0.78M205.0 286.0h0.78M161.8 195.5h0.78M171.7 211.9h0.78M188.1 250.2h0.78M168.6 197.4h0.78M125.0 157.8h0.78M209.8 274.8h0.78M179.8 216.8h0.78M203.1 257.5h0.78M138.8 176.0h0.78M153.0 187.4h0.78M112.7 111.9h0.78M202.0 268.0h0.78M211.8 297.8h0.78M162.5 219.3h0.78M192.6 237.3h0.78M199.7 233.9h0.78M157.6 174.5h0.78M208.5 294.5h0.78M215.4 300.6h0.78M164.8 219.9h0.78M122.0 138.5h0.78M154.8 197.5h0.78M119.5 140.7h0.78M184.1 217.9h0.78M145.6 180.4h0.78M208.7 273.1h0.78M162.8 213.4h0.78M131.9 149.0h0.78M180.2 228.7h0.78M184.6 235.5h0.78M119.1 141.0h0.78M108.5 100.7h0.78M125.1 139.9h0.78M155.6 205.8h0.78M159.1 197.4h0.78M196.8 276.3h0.78M142.5 150.2h0.78M117.9 131.9h0.78M201.7 275.8h0.78M151.4 181.5h0.78M131.0 159.7h0.78M126.3 153.2h0.78M109.9 127.5h0.78M218.0 306.0h0.78M141.3 186.8h0.78M140.5 168.7h0.78M131.9 142.8h0.78M166.2 229.4h0.78M190.5 264.7h0.78M136.5 173.9h0.78M125.2 121.9h0.78M126.9 159.2h0.78M114.0 117.9h0.78M144.2 181.9h0.78M163.9 222.7h0.78M151.6 197.5h0.78M203.9 287.4h0.78M173.7 221.9h0.78M150.1 191.0h0.78M111.5 110.8h0.78M143.7 164.5h0.78M102.5 109.2h0.78M134.4 164.6h0.78M121.2 151.3h0.78M170.2 229.4h0.78M172.3 210.9h0.78M127.1 153.9h0.78M116.1 122.4h0.78M153.6 194.7h0.78M240.6 332.5h0.78M200.7 272.7h0.78M198.2 274.1h0.78M147.6 166.3h0.78M133.1 173.8h0.78M111.7 110.2h0.78M135.6 133.7h0.78M216.4 298.5h0.78M127.9 137.2h0.78M135.3 158.5h0.78M120.5 134.7h0.78M121.7 140.6h0.78M139.5 155.2h0.78M129.4 137.0h0.78M125.9 136.7h0.78M156.8 197.6h0.78M145.2 167.1h0.78M107.3 97.3h0.78M160.2 201.4h0.78M134.6 161.9h0.78M158.0 213.6h0.78M182.3 247.9h0.78M186.2 252.0h0.78M184.1 229.2h0.78M137.3 179.5h0.78M124.6 156.5h0.78M123.5 132.1h0.78M124.1 120.6h0.78M129.7 157.4h0.78M116.9 129.2h0.78M136.0 156.9h0.78M186.7 246.4h0.78M126.5 161.4h0.78M134.5 173.6h0.78M167.8 202.8h0.78M153.5 188.5h0.78M135.9 177.9h0.78M175.8 220.5h0.78M164.0 226.5h0.78M125.7 126.9h0.78M105.7 110.8h0.78M203.7 267.9h0.78M105.0 104.9h0.78M131.5 155.4h0.78M158.3 210.5h0.78M144.0 190.1h0.78M109.8 119.2h0.78M198.6 251.5h0.78M138.7 164.1h0.78M122.0 126.8h0.78M176.4 230.1h0.78M201.8 283.4h0.78M112.2 126.7h0.78M183.4 244.1h0.78M184.8 246.6h0.78M185.1 257.6h0.78M167.2 216.5h0.78M132.6 167.6h0.78M133.5 150.1h0.78M178.1 236.5h0.78M121.9 121.6h0.78M200.8 271.7h0.78M206.5 283.4h0.78M233.7 325.3h0.78M159.4 195.1h0.78M187.1 234.9h0.78M168.0 198.5h0.78M146.7 166.3h0.78M124.3 152.2h0.78M134.3 175.3h0.78M109.9 119.0h0.78M174.9 212.1h0.78M162.8 224.3h0.78M159.6 163.7h0.78M162.2 188.3h0.78M103.6 113.6h0.78M187.6 247.3h0.78M135.2 141.2h0.78M194.1 248.7h0.78M244.7 339.1h0.78M219.7 307.4h0.78M138.2 150.9h0.78M125.3 144.2h0.78M220.9 304.2h0.78M143.3 149.9h0.78M104.4 105.2h0.78M229.5 311.3h0.78M147.6 180.5h0.78M191.7 269.5h0.78M106.6 98.2h0.78M238.7 324.7h0.78M145.6 183.7h0.78M190.6 261.6h0.78M152.2 175.1h0.78M170.8 229.5h0.78M160.6 201.2h0.78M247.7 333.6h0.78M187.7 255.8h0.78M144.6 174.2h0.78M191.1 255.6h0.78M105.8 114.8h0.78M167.1 229.8h0.78M139.4 181.6h0.78M180.7 251.7h0.78M210.1 295.9h0.78M188.3 220.1h0.78M199.2 249.0h0.78M104.7 116.2h0.78M138.7 171.0h0.78M183.5 244.7h0.78M124.3 148.5h0.78M165.6 217.7h0.78M171.5 231.8h0.78M218.2 299.3h0.78M146.5 186.8h0.78M200.8 260.4h0.78M245.3 334.9h0.78M118.5 138.2h0.78M110.2 117.0h0.78M150.7 195.9h0.78M175.6 237.3h0.78M145.0 179.7h0.78M195.2 264.9h0.78M171.0 223.1h0.78M131.8 149.4h0.78M205.8 280.2h0.78M145.1 180.6h0.78M113.9 133.9h0.78M142.6 183.4h0.78M128.4 136.7h0.78M153.5 192.2h0.78M119.4 115.6h0.78M216.5 297.0h0.78M154.6 162.3h0.78M129.4 157.6h0.78M202.7 283.3h0.78M161.8 198.7h0.78M128.7 145.6h0.78M110.6 115.6h0.78M123.9 156.5h0.78M186.5 239.1h0.78M174.1 236.4h0.78M172.4 201.8h0.78M129.1 140.1h0.78M157.6 209.9h0.78M179.2 224.6h0.78M158.2 210.7h0.78M174.7 226.0h0.78M101.3 109.4h0.78M220.9 307.7h0.78M219.2 288.1h0.78M176.7 224.9h0.78M179.7 232.5h0.78M124.8 143.1h0.78M144.8 176.8h0.78M176.0 209.2h0.78M166.2 200.0h0.78M152.3 175.9h0.78M120.4 148.5h0.78M250.4 335.0h0.78M182.8 238.2h0.78M156.3 174.5h0.78M202.7 287.2h0.78M120.1 119.7h0.78M179.4 242.8h0.78M130.2 127.0h0.78M169.2 223.1h0.78M208.1 284.0h0.78M182.8 232.7h0.78M133.7 142.7h0.78M118.5 118.3h0.78M164.3 225.1h0.78M207.5 275.9h0.78M211.5 295.4h0.78M153.6 184.1h0.78M133.7 145.3h0.78M156.2 199.9h0.78M134.4 157.0h0.78M191.4 249.7h0.78M117.9 127.1h0.78M136.6 160.7h0.78M161.0 182.1h0.78M176.3 244.4h0.78M135.5 176.7h0.78M177.5 224.1h0.78M153.7 168.2h0.78M154.6 186.5h0.78M190.6 256.2h0.78M106.7 111.0h0.78M132.4 161.5h0.78M104.6 113.3h0.78M142.4 157.2h0.78M180.2 246.3h0.78M122.6 120.1h0.78M195.6 257.1h0.78M130.2 132.7h0.78M121.6 147.3h0.78M103.9 106.4h0.78M176.9 245.9h0.78M173.8 228.2h0.78M170.5 234.0h0.78M161.6 210.1h0.78M157.5 215.1h0.78M233.9 323.3h0.78M134.6 167.9h0.78M123.4 118.2h0.78M178.6 248.1h0.78M167.4 208.2h0.78M163.9 224.2h0.78M118.2 127.1h0.78M160.1 207.2h0.78M110.7 114.7h0.78M144.0 150.2h0.78M169.1 208.7h0.78M181.2 228.6h0.78M190.9 236.1h0.78M159.5 215.6h0.78M166.7 221.8h0.78M108.9 123.2h0.78M187.2 228.5h0.78M158.0 174.6h0.78M111.3 119.5h0.78M150.8 181.1h0.78M131.7 165.8h0.78M107.5 118.7h0.78M120.2 128.3h0.78M219.7 304.4h0.78M176.4 217.7h0.78M133.5 172.9h0.78M137.5 165.6h0.78M154.9 175.6h0.78M144.3 169.7h0.78M126.8 142.9h0.78M244.0 331.9h0.78M206.2 265.7h0.78M113.3 121.0h0.78M162.5 222.8h0.78M114.8 134.5h0.78M150.6 182.5h0.78M132.2 153.4h0.78M141.2 175.4h0.78M155.3 203.5h0.78M175.2 223.6h0.78M194.4 273.9h0.78M140.8 179.3h0.78M162.1 217.4h0.78M170.4 224.3h0.78M171.5 195.1h0.78M113.5 122.4h0.78M175.5 239.5h0.78M161.1 182.3h0.78M116.7 115.1h0.78M126.8 142.8h0.78M120.7 142.2h0.78M101.8 110.6h0.78M186.6 256.5h0.78M163.7 190.7h0.78M146.5 173.4h0.78M136.1 146.3h0.78M163.1 218.8h0.78M133.9 168.1h0.78M145.9 186.5h0.78M154.2 199.5h0.78M184.1 254.7h0.78M101.8 108.1h0.78M194.6 246.9h0.78M140.5 154.8h0.78M135.0 151.2h0.78M130.1 157.6h0.78M136.3 155.3h0.78M189.4 228.8h0.78M219.1 303.3h0.78M102.8 108.1h0.78M187.9 221.4h0.78M156.5 211.2h0.78M171.0 195.6h0.78M173.2 234.9h0.78M151.8 183.2h0.78M142.9 173.5h0.78M206.1 284.8h0.78M117.3 117.1h0.78M159.4 185.1h0.78M136.3 154.7h0.78M122.8 137.0h0.78M127.8 142.6h0.78M159.4 192.0h0.78M113.0 124.0h0.78M187.2 224.1h0.78M186.1 227.1h0.78M183.8 230.8h0.78M144.1 153.0h0.78M173.4 232.4h0.78M148.6 191.6h0.78M159.9 209.2h0.78M142.1 177.5h0.78M115.7 136.4h0.78M118.5 131.1h0.78M155.6 209.6h0.78M164.8 214.3h0.78M131.0 169.5h0.78M213.3 267.3h0.78M165.6 225.6h0.78M179.8 243.4h0.78M156.8 174.7h0.78M111.7 108.4h0.78M191.5 248.7h0.78M176.4 223.3h0.78M165.9 215.8h0.78M146.8 177.7h0.78M135.0 145.1h0.78M111.9 103.9h0.78M165.6 212.2h0.78M133.6 144.2h0.78M171.6 195.1h0.78M153.7 196.4h0.78M117.9 127.4h0.78M153.5 154.6h0.78M176.8 210.8h0.78M106.9 110.0h0.78M149.1 172.7h0.78M237.1 315.4h0.78M200.2 266.1h0.78M132.4 134.7h0.78M211.9 265.0h0.78M150.3 191.6h0.78M122.4 146.0h0.78M119.3 122.8h0.78M107.2 103.1h0.78M170.0 219.8h0.78M107.4 109.0h0.78M128.8 147.2h0.78M137.0 150.0h0.78M136.9 153.2h0.78M197.6 261.9h0.78M116.3 126.1h0.78M133.9 164.4h0.78M157.3 203.1h0.78M156.7 209.3h0.78M128.5 147.3h0.78M103.9 107.8h0.78M133.7 151.1h0.78M196.2 251.3h0.78M191.6 258.4h0.78M240.6 331.7h0.78M213.5 301.0h0.78M160.5 219.7h0.78M155.5 210.2h0.78M197.4 264.7h0.78M211.6 290.4h0.78M150.5 188.0h0.78M184.7 248.4h0.78M148.4 175.9h0.78M124.7 134.4h0.78M126.2 138.2h0.78M138.0 166.0h0.78M117.4 114.6h0.78M144.3 168.4h0.78M129.5 138.1h0.78M187.8 261.2h0.78M200.3 283.5h0.78M180.0 235.8h0.78M111.1 127.2h0.78M159.3 202.5h0.78M119.7 140.0h0.78M143.6 186.4h0.78M157.1 189.0h0.78M118.3 113.6h0.78M168.7 228.5h0.78M166.2 195.7h0.78M107.3 102.1h0.78M164.2 220.7h0.78M200.8 264.4h0.78M120.4 126.5h0.78M101.6 105.8h0.78M135.2 170.4h0.78M150.8 182.4h0.78M133.7 171.0h0.78M134.1 164.3h0.78M175.1 223.1h0.78M151.3 175.0h0.78M118.6 139.4h0.78M110.1 116.1h0.78M142.2 147.6h0.78M163.3 211.0h0.78M170.2 221.8h0.78M146.4 184.3h0.78M195.5 273.0h0.78M136.5 165.4h0.78M149.2 153.0h0.78M153.7 179.2h0.78M117.4 128.7h0.78M176.6 230.6h0.78M180.5 206.7h0.78M134.5 173.0h0.78M163.0 189.0h0.78M120.8 148.8h0.78M208.9 286.1h0.78M123.8 127.4h0.78M138.4 178.3h0.78M154.7 209.4h0.78M114.6 136.8h0.78M157.1 205.4h0.78M149.7 201.9h0.78M136.2 164.6h0.78M172.8 235.1h0.78M182.2 247.4h0.78M143.5 175.1h0.78M169.8 218.8h0.78M159.2 209.7h0.78M109.6 108.8h0.78M167.5 214.9h0.78M196.0 250.7h0.78M243.2 336.5h0.78M177.0 212.7h0.78M114.7 131.2h0.78M153.3 183.3h0.78M106.8 104.0h0.78M178.3 248.6h0.78M123.0 146.2h0.78M189.9 257.0h0.78M117.5 132.6h0.78M199.0 267.8h0.78M145.3 171.1h0.78M122.3 121.9h0.78M221.6 305.0h0.78M149.2 173.7h0.78M193.9 237.3h0.78M108.0 121.1h0.78M170.2 227.8h0.78M145.2 185.3h0.78M235.5 321.6h0.78M150.8 186.4h0.78M168.3 231.4h0.78M127.6 156.7h0.78M156.0 192.2h0.78M150.9 188.5h0.78M158.4 213.9h0.78M127.3 159.3h0.78M103.9 116.4h0.78M128.2 158.5h0.78M167.2 196.0h0.78M163.6 208.6h0.78M124.0 148.8h0.78M132.1 149.5h0.78M173.6 237.2h0.78M188.3 255.4h0.78M192.4 262.3h0.78M169.6 229.0h0.78M174.6 229.6h0.78M118.0 128.1h0.78M149.7 180.6h0.78M145.5 180.3h0.78M160.2 195.1h0.78M148.9 191.9h0.78M150.6 193.9h0.78M175.7 239.0h0.78M176.5 236.2h0.78M152.9 190.8h0.78M178.7 210.9h0.78M118.3 114.0h0.78M133.6 163.1h0.78M194.9 244.3h0.78M183.7 244.5h0.78M160.2 194.7h0.78M204.7 279.3h0.78M229.2 320.0h0.78M190.8 242.3h0.78M244.6 335.7h0.78M126.5 151.2h0.78M108.3 120.4h0.78M172.4 230.2h0.78M183.9 240.0h0.78M117.8 112.3h0.78M165.0 201.3h0.78M125.5 148.0h0.78M145.8 190.9h0.78M173.4 198.0h0.78M189.2 235.4h0.78M130.6 150.4h0.78M178.4 209.3h0.78M231.8 311.7h0.78M153.9 201.5h0.78M119.9 141.0h0.78M106.4 99.8h0.78M158.9 195.3h0.78M207.9 293.1h0.78M213.9 295.2h0.78M110.3 114.6h0.78M156.6 195.8h0.78M110.4 126.8h0.78M162.0 198.5h0.78M130.6 136.4h0.78M112.6 120.1h0.78M174.6 221.0h0.78M163.8 202.0h0.78M176.6 206.6h0.78M157.0 186.0h0.78M107.7 102.6h0.78M149.1 156.3h0.78M161.5 219.3h0.78M185.8 246.5h0.78M111.7 115.0h0.78M114.5 122.7h0.78M232.7 323.7h0.78M175.8 231.6h0.78M163.0 214.3h0.78M145.8 180.4h0.78M213.8 302.3h0.78M199.4 273.4h0.78M208.6 281.9h0.78M101.5 105.8h0.78M102.9 114.3h0.78M193.1 267.7h0.78M218.3 298.3h0.78M137.4 143.8h0.78M144.1 184.4h0.78M134.5 167.5h0.78M201.6 285.7h0.78M233.2 324.9h0.78M138.5 142.8h0.78M229.5 317.7h0.78M113.1 135.3h0.78M165.9 206.1h0.78M146.9 171.2h0.78M234.7 322.7h0.78M144.1 188.4h0.78M225.0 296.0h0.78M205.6 287.3h0.78M115.8 126.6h0.78M150.5 192.0h0.78M102.8 111.0h0.78M144.5 165.2h0.78M215.6 287.1h0.78M135.3 156.6h0.78M207.2 287.0h0.78M161.3 197.1h0.78M118.6 114.1h0.78M109.4 116.5h0.78M158.1 199.6h0.78M118.4 115.2h0.78M182.2 250.7h0.78M157.0 179.0h0.78M154.2 194.3h0.78M111.6 100.3h0.78M109.2 119.1h0.78M124.8 129.3h0.78M179.1 205.2h0.78M236.5 327.4h0.78M111.2 112.5h0.78M174.5 241.2h0.78M135.9 177.1h0.78M191.0 264.6h0.78M146.0 178.3h0.78M234.7 316.6h0.78M143.3 190.6h0.78M113.4 128.7h0.78M167.6 213.8h0.78M190.3 238.4h0.78M142.7 180.9h0.78M221.3 309.9h0.78M159.8 202.7h0.78M190.6 253.1h0.78M129.2 136.8h0.78M123.6 119.7h0.78M201.9 281.4h0.78M204.5 282.4h0.78M125.1 145.7h0.78M169.5 212.4h0.78M143.7 171.2h0.78M130.4 149.5h0.78M208.2 292.5h0.78M104.9 107.8h0.78M175.4 228.3h0.78M136.3 145.3h0.78M175.8 188.5h0.78M190.7 252.5h0.78M222.0 312.2h0.78M156.2 213.6h0.78M168.0 189.6h0.78M153.0 204.4h0.78M145.3 187.4h0.78M207.3 282.0h0.78M112.9 117.8h0.78M155.6 203.7h0.78M226.0 315.3h0.78M188.5 255.1h0.78M130.6 133.9h0.78M168.3 186.2h0.78M180.8 246.9h0.78M157.0 189.7h0.78M223.8 310.9h0.78M238.2 327.0h0.78M109.1 114.0h0.78M126.2 154.4h0.78M155.9 200.8h0.78M130.3 149.4h0.78M185.7 244.3h0.78M185.5 251.3h0.78M148.9 167.0h0.78M204.3 286.3h0.78M118.9 127.9h0.78M143.1 187.0h0.78M174.7 233.7h0.78M162.0 206.2h0.78M169.3 210.4h0.78M167.5 219.8h0.78M150.8 195.7h0.78M109.4 112.6h0.78M153.5 181.5h0.78M130.3 163.7h0.78M146.6 174.0h0.78M121.7 133.9h0.78M128.3 141.6h0.78M108.1 108.7h0.78M155.4 177.7h0.78M123.3 151.7h0.78M119.8 132.2h0.78M190.2 243.4h0.78M120.5 126.4h0.78M141.1 163.9h0.78M178.7 231.1h0.78M197.2 274.9h0.78M138.2 157.8h0.78M176.7 226.2h0.78M135.6 146.5h0.78M148.5 189.0h0.78M137.4 145.8h0.78M131.5 157.1h0.78M173.9 221.5h0.78M179.9 246.1h0.78M184.9 217.5h0.78M149.6 183.2h0.78M145.0 191.3h0.78M164.6 225.5h0.78M176.6 232.9h0.78M139.5 165.6h0.78M128.2 139.5h0.78M135.9 161.4h0.78M119.8 132.4h0.78M154.5 180.7h0.78M171.7 196.3h0.78M111.0 123.3h0.78M125.2 126.0h0.78M222.1 293.7h0.78M178.4 242.8h0.78M109.0 109.0h0.78M179.7 234.7h0.78M159.6 186.7h0.78M188.3 249.6h0.78M166.6 194.1h0.78M171.8 217.3h0.78M164.9 223.3h0.78M109.7 101.5h0.78M109.9 102.0h0.78M118.6 119.1h0.78M126.9 149.8h0.78M130.0 157.0h0.78M130.9 161.5h0.78M145.8 155.7h0.78M153.6 206.4h0.78M116.9 136.5h0.78M126.1 148.9h0.78M203.6 271.1h0.78M155.0 191.2h0.78M110.3 116.3h0.78M158.7 188.8h0.78M113.4 117.3h0.78M196.5 275.8h0.78M173.4 207.8h0.78M167.3 222.9h0.78M160.9 212.5h0.78M183.1 245.1h0.78M160.0 170.3h0.78M166.5 200.7h0.78M120.6 131.5h0.78M158.8 203.5h0.78M177.3 245.7h0.78M129.8 143.3h0.78M187.8 248.5h0.78M150.0 183.7h0.78M181.5 212.0h0.78M204.1 278.7h0.78M168.8 219.6h0.78M183.4 242.5h0.78M176.8 232.0h0.78M182.8 231.6h0.78M145.6 193.1h0.78M121.0 131.2h0.78M194.3 246.2h0.78M118.3 134.4h0.78M161.9 204.8h0.78M112.4 128.7h0.78M129.9 150.2h0.78M170.4 215.7h0.78M227.3 308.9h0.78M164.4 181.5h0.78M148.9 166.5h0.78M135.8 167.0h0.78M147.2 194.5h0.78M142.8 181.0h0.78M170.1 193.4h0.78M118.5 121.9h0.78M119.4 112.4h0.78M129.7 149.3h0.78M232.5 321.3h0.78M119.5 112.8h0.78M136.5 162.7h0.78M154.9 203.2h0.78M147.6 164.7h0.78M173.3 234.1h0.78M124.0 125.2h0.78M148.4 188.8h0.78M161.2 201.3h0.78M150.4 172.8h0.78M198.6 268.7h0.78M183.3 218.3h0.78M163.4 207.8h0.78M204.9 287.1h0.78M143.2 179.0h0.78M138.8 167.1h0.78M181.9 242.9h0.78M152.4 179.0h0.78M127.9 157.6h0.78M114.1 131.7h0.78M200.0 229.1h0.78M135.0 176.7h0.78M122.6 136.8h0.78M116.6 136.1h0.78M162.2 201.3h0.78M172.6 235.2h0.78M166.3 216.0h0.78M225.8 315.4h0.78M192.2 239.3h0.78M161.1 174.7h0.78M183.5 226.8h0.78M154.1 195.4h0.78M175.8 226.2h0.78M111.7 106.7h0.78M191.0 260.3h0.78M141.4 158.1h0.78M161.6 181.8h0.78M137.6 165.7h0.78M142.2 168.4h0.78M245.4 336.6h0.78M104.6 111.8h0.78" stroke="#f6c052" stroke-width="0.78" fill="none"/>
<path d="M196.2 262.7h0.78M192.7 267.8h0.78M120.3 137.4h0.78M143.2 189.2h0.78M118.2 122.6h0.78M118.2 130.7h0.78M179.9 218.2h0.78M162.3 184.0h0.78M105.0 112.1h0.78M176.9 236.9h0.78M113.0 128.5h0.78M136.4 176.8h0.78M143.1 188.9h0.78M142.9 177.0h0.78M103.7 101.7h0.78M146.2 194.1h0.78M107.0 99.1h0.78M132.6 169.2h0.78M101.7 111.2h0.78M142.6 152.1h0.78M157.1 196.6h0.78M132.8 164.1h0.78M203.3 269.8h0.78M137.5 167.8h0.78M111.5 128.6h0.78M143.1 176.6h0.78M121.1 139.8h0.78M124.0 132.9h0.78M152.2 183.4h0.78M108.5 114.1h0.78M103.0 115.0h0.78M142.8 180.1h0.78M141.6 168.5h0.78M185.6 242.5h0.78M149.3 182.5h0.78M168.2 227.7h0.78M129.6 158.1h0.78M138.6 155.5h0.78M159.1 209.1h0.78M145.4 190.9h0.78M139.0 183.3h0.78M124.3 153.8h0.78M133.5 143.0h0.78M171.0 231.9h0.78M159.8 215.7h0.78M137.3 159.9h0.78M148.3 176.7h0.78M115.7 118.8h0.78M164.0 210.2h0.78M146.6 186.5h0.78M124.2 143.4h0.78M103.6 109.2h0.78M128.1 159.7h0.78M126.1 148.3h0.78M123.0 144.5h0.78M185.1 235.2h0.78M207.5 258.0h0.78M247.9 332.8h0.78M158.3 204.2h0.78M160.3 198.1h0.78M143.8 182.1h0.78M148.2 173.2h0.78M194.0 246.6h0.78M129.6 152.8h0.78M150.9 188.5h0.78M107.8 100.8h0.78M112.7 131.0h0.78M164.2 187.1h0.78M123.7 136.8h0.78M138.9 179.0h0.78M152.0 190.1h0.78M123.8 150.3h0.78M127.9 148.9h0.78M150.0 194.6h0.78M180.7 235.5h0.78M141.8 179.2h0.78M167.3 231.6h0.78M158.8 217.3h0.78M165.2 225.9h0.78M107.6 122.0h0.78M134.7 154.9h0.78M166.5 206.9h0.78M123.2 138.1h0.78M111.1 114.5h0.78M168.2 233.2h0.78M113.2 127.8h0.78M114.2 130.5h0.78M125.4 144.7h0.78M123.6 128.2h0.78M126.2 151.4h0.78M182.3 225.6h0.78M110.5 120.2h0.78M112.0 116.1h0.78M175.6 240.3h0.78M109.4 108.7h0.78M136.8 176.5h0.78M153.8 208.0h0.78M106.5 108.9h0.78M106.8 107.3h0.78M112.5 111.2h0.78M117.9 133.7h0.78M222.6 311.7h0.78M121.9 133.5h0.78M165.0 215.5h0.78M148.9 198.4h0.78M141.6 169.2h0.78M150.4 184.1h0.78M136.3 155.2h0.78M150.3 196.6h0.78M144.6 172.0h0.78M129.6 141.8h0.78M234.0 325.6h0.78M178.5 241.6h0.78M109.9 113.0h0.78M133.7 156.8h0.78M136.0 160.0h0.78M110.0 108.1h0.78M191.5 253.1h0.78M113.1 130.0h0.78M116.3 136.4h0.78M121.1 132.3h0.78M191.3 245.0h0.78M129.1 151.1h0.78M128.1 163.0h0.78M121.7 126.2h0.78M184.2 245.8h0.78M135.8 166.0h0.78M133.5 172.3h0.78M138.5 162.7h0.78M133.5 157.8h0.78M233.1 322.8h0.78M121.7 149.5h0.78M178.5 240.7h0.78M210.6 271.6h0.78M124.0 152.1h0.78M174.1 239.0h0.78M194.1 254.5h0.78M143.6 162.4h0.78M122.7 145.0h0.78M104.2 110.4h0.78M112.7 115.8h0.78M135.3 176.3h0.78M133.9 166.9h0.78M115.8 112.8h0.78M150.2 175.0h0.78M146.7 193.7h0.78M184.2 251.1h0.78M166.0 226.7h0.78M148.3 199.0h0.78M156.0 205.0h0.78M119.0 133.9h0.78M157.8 203.7h0.78M135.4 170.4h0.78M128.2 144.4h0.78M126.2 160.1h0.78M115.8 132.1h0.78M131.0 145.6h0.78M136.9 161.0h0.78M149.0 175.3h0.78M127.0 157.1h0.78M174.7 227.8h0.78M110.4 124.1h0.78M140.3 178.8h0.78M101.5 109.1h0.78M201.1 279.7h0.78M118.7 140.2h0.78M163.6 212.5h0.78M126.7 161.9h0.78M146.5 186.9h0.78M108.9 126.3h0.78M145.2 184.1h0.78M183.3 250.9h0.78M105.3 116.0h0.78M179.1 242.9h0.78M112.3 118.3h0.78M157.5 215.7h0.78M149.1 192.0h0.78M147.4 191.3h0.78M150.7 178.8h0.78M146.0 188.0h0.78M141.4 159.7h0.78M144.1 174.8h0.78M120.0 144.0h0.78M157.5 210.5h0.78M147.9 180.5h0.78M109.7 112.3h0.78M149.7 201.4h0.78M100.9 105.4h0.78M167.8 220.7h0.78M115.8 132.4h0.78M120.3 139.9h0.78M118.7 145.1h0.78M188.1 262.9h0.78M109.5 117.0h0.78M148.9 192.1h0.78M157.6 208.9h0.78M118.0 138.8h0.78M138.2 174.5h0.78M195.2 267.0h0.78M191.5 267.3h0.78M102.5 114.3h0.78M176.5 224.7h0.78M159.9 194.8h0.78M130.8 161.4h0.78M112.1 127.4h0.78M186.7 257.1h0.78M105.4 105.2h0.78M123.1 150.7h0.78M104.8 99.6h0.78M145.7 160.0h0.78M137.2 166.1h0.78M126.0 145.2h0.78M133.1 154.6h0.78M132.5 161.9h0.78M126.2 139.3h0.78M154.5 205.9h0.78M149.2 172.3h0.78M111.3 132.0h0.78M109.8 126.2h0.78M143.6 176.5h0.78M117.0 132.3h0.78M188.8 238.7h0.78M159.6 205.8h0.78M118.5 144.4h0.78M132.3 151.6h0.78M142.9 164.9h0.78M135.7 151.1h0.78M103.9 115.1h0.78M153.6 198.9h0.78M200.0 280.2h0.78M172.6 219.6h0.78M117.7 142.3h0.78M151.5 194.9h0.78M128.1 147.8h0.78M162.4 199.1h0.78M139.3 168.1h0.78M199.6 276.9h0.78M186.6 256.5h0.78M118.0 134.8h0.78M187.9 231.8h0.78M137.3 153.4h0.78M127.0 159.5h0.78M159.9 218.4h0.78M146.1 184.4h0.78M106.3 104.7h0.78M111.0 122.6h0.78M119.1 145.9h0.78M116.5 140.3h0.78M108.2 104.6h0.78M200.2 276.1h0.78M105.9 101.1h0.78M163.0 216.3h0.78M162.8 197.8h0.78M159.5 206.9h0.78M143.1 182.2h0.78M164.2 219.6h0.78M131.1 155.1h0.78M116.6 137.1h0.78M128.3 146.5h0.78M122.6 134.0h0.78M182.8 250.6h0.78M157.0 204.4h0.78M139.5 183.1h0.78M171.8 198.3h0.78M150.5 201.9h0.78M166.2 223.8h0.78" stroke="#f3b24f" stroke-width="0.78" fill="none"/>
<path d="M123.5 150.0h0.78M121.0 148.6h0.78M121.1 140.3h0.78M114.0 116.9h0.78M136.0 176.0h0.78M157.2 177.5h0.78M109.0 108.8h0.78M148.6 197.0h0.78M119.5 144.3h0.78M112.8 126.0h0.78M149.4 190.2h0.78M106.0 107.8h0.78M109.1 126.9h0.78M136.3 165.0h0.78M120.4 137.7h0.78M167.1 197.0h0.78M109.4 115.3h0.78M186.6 259.8h0.78M137.0 170.6h0.78" stroke="#f1a549" stroke-width="0.78" fill="none"/>
<path d="M309 358.5C317 360.5 326 367 329.3 377" stroke="#4290c4" stroke-width="1.1" fill="none"/>
<path d="M277.6 383.4C280 392 288 400.5 299.7 403.8" stroke="#4290c4" stroke-width="1.1" fill="none"/></g>
<g id="grid"><line x1="508.0" x2="816.0" y1="193.8" y2="193.8" stroke="#dcdcdc" stroke-width="1.4"/><line x1="508.0" x2="816.0" y1="255.4" y2="255.4" stroke="#dcdcdc" stroke-width="1.4"/><line x1="508.0" x2="816.0" y1="317.0" y2="317.0" stroke="#dcdcdc" stroke-width="1.4"/><line x1="508.0" x2="816.0" y1="378.6" y2="378.6" stroke="#dcdcdc" stroke-width="1.4"/><line x1="662.0" x2="662.0" y1="182.3" y2="426.3" stroke="#dcdcdc" stroke-width="1.4"/></g>
<g id="data"><g fill="none" stroke="#1f74ee" stroke-width="1.15"><circle cx="508.0" cy="317.4" r="1.55"/><circle cx="510.7" cy="309.4" r="1.55"/><circle cx="512.7" cy="306.0" r="1.55"/><circle cx="514.8" cy="303.2" r="1.55"/><circle cx="519.4" cy="299.4" r="1.55"/><circle cx="521.0" cy="297.1" r="1.55"/><circle cx="524.1" cy="296.2" r="1.55"/><circle cx="526.6" cy="294.3" r="1.55"/><circle cx="528.7" cy="292.6" r="1.55"/><circle cx="530.2" cy="292.1" r="1.55"/><circle cx="531.5" cy="291.1" r="1.55"/><circle cx="534.2" cy="289.4" r="1.55"/><circle cx="537.0" cy="287.4" r="1.55"/><circle cx="547.4" cy="280.6" r="1.55"/><circle cx="549.3" cy="279.3" r="1.55"/><circle cx="551.3" cy="278.1" r="1.55"/><circle cx="552.9" cy="277.4" r="1.55"/><circle cx="556.5" cy="275.6" r="1.55"/><circle cx="560.4" cy="274.1" r="1.55"/><circle cx="561.9" cy="273.1" r="1.55"/><circle cx="563.5" cy="273.0" r="1.55"/><circle cx="567.3" cy="271.6" r="1.55"/><circle cx="569.1" cy="271.1" r="1.55"/><circle cx="574.1" cy="269.5" r="1.55"/><circle cx="576.6" cy="269.2" r="1.55"/><circle cx="578.4" cy="268.2" r="1.55"/><circle cx="582.0" cy="268.3" r="1.55"/><circle cx="583.8" cy="268.0" r="1.55"/><circle cx="585.0" cy="267.4" r="1.55"/><circle cx="591.0" cy="266.8" r="1.55"/><circle cx="595.8" cy="266.8" r="1.55"/><circle cx="596.9" cy="267.4" r="1.55"/><circle cx="600.4" cy="266.5" r="1.55"/><circle cx="604.7" cy="266.6" r="1.55"/><circle cx="606.3" cy="267.2" r="1.55"/><circle cx="612.6" cy="266.6" r="1.55"/><circle cx="614.2" cy="267.2" r="1.55"/><circle cx="618.9" cy="267.5" r="1.55"/><circle cx="620.4" cy="267.1" r="1.55"/><circle cx="624.3" cy="267.4" r="1.55"/><circle cx="630.3" cy="267.6" r="1.55"/><circle cx="632.9" cy="268.4" r="1.55"/><circle cx="635.5" cy="267.3" r="1.55"/><circle cx="639.1" cy="268.4" r="1.55"/><circle cx="643.1" cy="269.2" r="1.55"/><circle cx="645.0" cy="268.6" r="1.55"/><circle cx="647.5" cy="269.3" r="1.55"/><circle cx="649.0" cy="269.2" r="1.55"/><circle cx="650.4" cy="269.7" r="1.55"/><circle cx="652.1" cy="269.8" r="1.55"/><circle cx="654.6" cy="270.0" r="1.55"/><circle cx="657.5" cy="270.8" r="1.55"/><circle cx="662.8" cy="271.1" r="1.55"/><circle cx="667.3" cy="272.2" r="1.55"/><circle cx="669.0" cy="272.7" r="1.55"/><circle cx="676.9" cy="273.9" r="1.55"/><circle cx="678.0" cy="274.1" r="1.55"/><circle cx="679.8" cy="274.8" r="1.55"/><circle cx="682.2" cy="275.7" r="1.55"/><circle cx="684.2" cy="275.7" r="1.55"/><circle cx="687.2" cy="277.4" r="1.55"/><circle cx="689.8" cy="277.9" r="1.55"/><circle cx="692.7" cy="278.3" r="1.55"/><circle cx="694.6" cy="279.4" r="1.55"/><circle cx="695.9" cy="279.2" r="1.55"/><circle cx="697.3" cy="279.7" r="1.55"/><circle cx="699.5" cy="280.0" r="1.55"/><circle cx="710.3" cy="283.7" r="1.55"/><circle cx="713.9" cy="284.5" r="1.55"/><circle cx="716.6" cy="284.8" r="1.55"/><circle cx="719.6" cy="286.5" r="1.55"/><circle cx="721.2" cy="284.9" r="1.55"/><circle cx="722.4" cy="286.6" r="1.55"/><circle cx="724.9" cy="287.2" r="1.55"/><circle cx="726.7" cy="287.1" r="1.55"/><circle cx="728.4" cy="287.9" r="1.55"/><circle cx="737.1" cy="291.2" r="1.55"/><circle cx="738.9" cy="290.9" r="1.55"/><circle cx="740.7" cy="291.4" r="1.55"/><circle cx="742.1" cy="292.3" r="1.55"/><circle cx="744.0" cy="292.8" r="1.55"/><circle cx="746.8" cy="293.2" r="1.55"/><circle cx="750.2" cy="294.6" r="1.55"/><circle cx="752.1" cy="294.6" r="1.55"/><circle cx="754.8" cy="295.3" r="1.55"/><circle cx="756.8" cy="296.1" r="1.55"/><circle cx="759.6" cy="297.1" r="1.55"/><circle cx="762.5" cy="297.4" r="1.55"/><circle cx="764.7" cy="298.2" r="1.55"/><circle cx="766.2" cy="297.9" r="1.55"/><circle cx="774.2" cy="300.4" r="1.55"/><circle cx="777.2" cy="301.0" r="1.55"/><circle cx="779.1" cy="301.8" r="1.55"/><circle cx="780.5" cy="302.2" r="1.55"/><circle cx="788.4" cy="305.4" r="1.55"/><circle cx="793.7" cy="307.1" r="1.55"/><circle cx="799.0" cy="308.9" r="1.55"/><circle cx="801.5" cy="310.7" r="1.55"/><circle cx="803.0" cy="311.4" r="1.55"/><circle cx="805.1" cy="312.1" r="1.55"/><circle cx="806.4" cy="312.8" r="1.55"/><circle cx="808.4" cy="313.7" r="1.55"/><circle cx="811.6" cy="314.8" r="1.55"/><circle cx="508.0" cy="317.3" r="1.55"/><circle cx="510.3" cy="320.2" r="1.55"/><circle cx="511.8" cy="320.9" r="1.55"/><circle cx="521.8" cy="326.5" r="1.55"/><circle cx="523.4" cy="327.0" r="1.55"/><circle cx="524.7" cy="328.2" r="1.55"/><circle cx="526.7" cy="328.3" r="1.55"/><circle cx="528.1" cy="329.0" r="1.55"/><circle cx="529.8" cy="330.5" r="1.55"/><circle cx="530.9" cy="329.8" r="1.55"/><circle cx="532.2" cy="330.0" r="1.55"/><circle cx="534.8" cy="332.0" r="1.55"/><circle cx="536.1" cy="332.2" r="1.55"/><circle cx="541.8" cy="333.9" r="1.55"/><circle cx="543.6" cy="335.8" r="1.55"/><circle cx="547.6" cy="337.5" r="1.55"/><circle cx="550.1" cy="338.0" r="1.55"/><circle cx="551.6" cy="338.1" r="1.55"/><circle cx="553.8" cy="338.7" r="1.55"/><circle cx="555.5" cy="338.7" r="1.55"/><circle cx="558.2" cy="339.5" r="1.55"/><circle cx="563.2" cy="341.3" r="1.55"/><circle cx="564.9" cy="340.9" r="1.55"/><circle cx="566.9" cy="340.7" r="1.55"/><circle cx="570.0" cy="341.2" r="1.55"/><circle cx="571.8" cy="341.4" r="1.55"/><circle cx="573.7" cy="341.8" r="1.55"/><circle cx="579.9" cy="341.6" r="1.55"/><circle cx="582.3" cy="342.3" r="1.55"/><circle cx="584.4" cy="341.6" r="1.55"/><circle cx="587.3" cy="341.8" r="1.55"/><circle cx="589.8" cy="341.2" r="1.55"/><circle cx="592.0" cy="341.3" r="1.55"/><circle cx="593.7" cy="341.8" r="1.55"/><circle cx="604.0" cy="340.7" r="1.55"/><circle cx="608.5" cy="339.9" r="1.55"/><circle cx="619.5" cy="339.4" r="1.55"/><circle cx="627.0" cy="338.1" r="1.55"/><circle cx="629.0" cy="337.9" r="1.55"/><circle cx="631.6" cy="337.7" r="1.55"/><circle cx="633.2" cy="336.6" r="1.55"/><circle cx="636.0" cy="336.0" r="1.55"/><circle cx="644.7" cy="334.9" r="1.55"/><circle cx="646.6" cy="334.8" r="1.55"/><circle cx="648.4" cy="334.7" r="1.55"/><circle cx="650.4" cy="334.3" r="1.55"/><circle cx="660.4" cy="333.1" r="1.55"/><circle cx="662.2" cy="332.3" r="1.55"/><circle cx="663.6" cy="332.0" r="1.55"/><circle cx="665.6" cy="331.8" r="1.55"/><circle cx="668.3" cy="331.9" r="1.55"/><circle cx="670.0" cy="331.4" r="1.55"/><circle cx="671.2" cy="331.3" r="1.55"/><circle cx="673.1" cy="330.3" r="1.55"/><circle cx="676.9" cy="330.2" r="1.55"/><circle cx="678.6" cy="330.7" r="1.55"/><circle cx="680.7" cy="329.4" r="1.55"/><circle cx="683.4" cy="328.3" r="1.55"/><circle cx="685.2" cy="328.4" r="1.55"/><circle cx="687.4" cy="327.9" r="1.55"/><circle cx="688.8" cy="327.9" r="1.55"/><circle cx="690.9" cy="328.2" r="1.55"/><circle cx="696.2" cy="326.9" r="1.55"/><circle cx="698.9" cy="326.0" r="1.55"/><circle cx="700.1" cy="325.3" r="1.55"/><circle cx="701.7" cy="324.8" r="1.55"/><circle cx="704.0" cy="324.1" r="1.55"/><circle cx="705.7" cy="324.1" r="1.55"/><circle cx="707.8" cy="323.2" r="1.55"/><circle cx="713.8" cy="322.5" r="1.55"/><circle cx="715.0" cy="322.4" r="1.55"/><circle cx="718.9" cy="321.2" r="1.55"/><circle cx="721.6" cy="321.5" r="1.55"/><circle cx="723.9" cy="322.0" r="1.55"/><circle cx="727.3" cy="321.2" r="1.55"/><circle cx="729.1" cy="320.6" r="1.55"/><circle cx="731.0" cy="321.7" r="1.55"/><circle cx="738.9" cy="320.3" r="1.55"/><circle cx="742.8" cy="320.2" r="1.55"/><circle cx="746.3" cy="320.5" r="1.55"/><circle cx="749.9" cy="320.4" r="1.55"/><circle cx="751.6" cy="320.0" r="1.55"/><circle cx="757.7" cy="319.9" r="1.55"/><circle cx="763.8" cy="319.2" r="1.55"/><circle cx="765.2" cy="319.5" r="1.55"/><circle cx="767.9" cy="320.2" r="1.55"/><circle cx="769.7" cy="319.9" r="1.55"/><circle cx="771.1" cy="319.3" r="1.55"/><circle cx="773.3" cy="318.9" r="1.55"/><circle cx="774.6" cy="319.4" r="1.55"/><circle cx="776.6" cy="319.4" r="1.55"/><circle cx="780.7" cy="318.8" r="1.55"/><circle cx="783.2" cy="319.5" r="1.55"/><circle cx="789.2" cy="319.5" r="1.55"/><circle cx="791.0" cy="319.9" r="1.55"/><circle cx="794.0" cy="319.5" r="1.55"/><circle cx="795.2" cy="318.5" r="1.55"/><circle cx="797.5" cy="319.8" r="1.55"/><circle cx="799.3" cy="319.3" r="1.55"/><circle cx="802.2" cy="319.7" r="1.55"/><circle cx="803.6" cy="319.1" r="1.55"/><circle cx="806.0" cy="318.7" r="1.55"/><circle cx="808.4" cy="318.9" r="1.55"/><circle cx="811.1" cy="318.3" r="1.55"/><circle cx="814.0" cy="317.9" r="1.55"/></g>
<path d="M506.2 317.0h3.6M508.0 315.2v3.6M512.4 296.7h3.6M514.2 294.9v3.6M518.5 290.3h3.6M520.3 288.5v3.6M524.7 286.2h3.6M526.5 284.4v3.6M530.8 283.2h3.6M532.6 281.4v3.6M537.0 280.6h3.6M538.8 278.8v3.6M543.2 277.7h3.6M545.0 275.9v3.6M549.3 275.4h3.6M551.1 273.6v3.6M555.5 273.6h3.6M557.3 271.8v3.6M561.6 271.9h3.6M563.4 270.1v3.6M567.8 270.5h3.6M569.6 268.7v3.6M574.0 269.4h3.6M575.8 267.6v3.6M580.1 268.6h3.6M581.9 266.8v3.6M586.3 267.8h3.6M588.1 266.0v3.6M592.4 267.0h3.6M594.2 265.2v3.6M598.6 266.6h3.6M600.4 264.8v3.6M604.8 266.7h3.6M606.6 264.9v3.6M610.9 266.8h3.6M612.7 265.0v3.6M617.1 266.9h3.6M618.9 265.1v3.6M623.2 267.1h3.6M625.0 265.3v3.6M629.4 267.4h3.6M631.2 265.6v3.6M635.6 267.7h3.6M637.4 265.9v3.6M641.7 268.2h3.6M643.5 266.4v3.6M647.9 268.7h3.6M649.7 266.9v3.6M654.0 269.3h3.6M655.8 267.5v3.6M660.2 269.7h3.6M662.0 267.9v3.6M666.4 270.2h3.6M668.2 268.4v3.6M672.5 270.9h3.6M674.3 269.1v3.6M678.7 271.8h3.6M680.5 270.0v3.6M684.8 273.0h3.6M686.6 271.2v3.6M691.0 274.2h3.6M692.8 272.4v3.6M697.2 275.8h3.6M699.0 274.0v3.6M703.3 277.4h3.6M705.1 275.6v3.6M709.5 279.0h3.6M711.3 277.2v3.6M715.6 280.4h3.6M717.4 278.6v3.6M721.8 282.0h3.6M723.6 280.2v3.6M728.0 283.7h3.6M729.8 281.9v3.6M734.1 285.5h3.6M735.9 283.7v3.6M740.3 287.4h3.6M742.1 285.6v3.6M746.4 289.4h3.6M748.2 287.6v3.6M752.6 291.5h3.6M754.4 289.7v3.6M758.8 293.7h3.6M760.6 291.9v3.6M764.9 295.9h3.6M766.7 294.1v3.6M771.1 298.1h3.6M772.9 296.3v3.6M777.2 300.5h3.6M779.0 298.7v3.6M783.4 303.2h3.6M785.2 301.4v3.6M789.6 306.0h3.6M791.4 304.2v3.6M795.7 308.9h3.6M797.5 307.1v3.6M801.9 311.6h3.6M803.7 309.8v3.6M808.0 314.3h3.6M809.8 312.5v3.6M814.2 317.0h3.6M816.0 315.2v3.6M506.2 317.0h3.6M508.0 315.2v3.6M512.4 328.9h3.6M514.2 327.1v3.6M518.5 333.3h3.6M520.3 331.5v3.6M524.7 335.6h3.6M526.5 333.8v3.6M530.8 337.2h3.6M532.6 335.4v3.6M537.0 339.0h3.6M538.8 337.2v3.6M543.2 340.5h3.6M545.0 338.7v3.6M549.3 341.2h3.6M551.1 339.4v3.6M555.5 341.5h3.6M557.3 339.7v3.6M561.6 341.7h3.6M563.4 339.9v3.6M567.8 341.9h3.6M569.6 340.1v3.6M574.0 341.9h3.6M575.8 340.1v3.6M580.1 341.9h3.6M581.9 340.1v3.6M586.3 341.8h3.6M588.1 340.0v3.6M592.4 341.6h3.6M594.2 339.8v3.6M598.6 341.3h3.6M600.4 339.5v3.6M604.8 341.0h3.6M606.6 339.2v3.6M610.9 340.4h3.6M612.7 338.6v3.6M617.1 339.8h3.6M618.9 338.0v3.6M623.2 339.1h3.6M625.0 337.3v3.6M629.4 338.2h3.6M631.2 336.4v3.6M635.6 337.3h3.6M637.4 335.5v3.6M641.7 336.5h3.6M643.5 334.7v3.6M647.9 335.7h3.6M649.7 333.9v3.6M654.0 334.9h3.6M655.8 333.1v3.6M660.2 334.0h3.6M662.0 332.2v3.6M666.4 333.2h3.6M668.2 331.4v3.6M672.5 332.3h3.6M674.3 330.5v3.6M678.7 331.3h3.6M680.5 329.5v3.6M684.8 330.3h3.6M686.6 328.5v3.6M691.0 329.6h3.6M692.8 327.8v3.6M697.2 329.0h3.6M699.0 327.2v3.6M703.3 328.4h3.6M705.1 326.6v3.6M709.5 327.8h3.6M711.3 326.0v3.6M715.6 327.2h3.6M717.4 325.4v3.6M721.8 326.6h3.6M723.6 324.8v3.6M728.0 325.9h3.6M729.8 324.1v3.6M734.1 325.0h3.6M735.9 323.2v3.6M740.3 324.1h3.6M742.1 322.3v3.6M746.4 323.5h3.6M748.2 321.7v3.6M752.6 322.9h3.6M754.4 321.1v3.6M758.8 322.5h3.6M760.6 320.7v3.6M764.9 322.0h3.6M766.7 320.2v3.6M771.1 321.6h3.6M772.9 319.8v3.6M777.2 321.1h3.6M779.0 319.3v3.6M783.4 320.7h3.6M785.2 318.9v3.6M789.6 320.2h3.6M791.4 318.4v3.6M795.7 319.7h3.6M797.5 317.9v3.6M801.9 319.2h3.6M803.7 317.4v3.6M808.0 318.3h3.6M809.8 316.5v3.6M814.2 317.3h3.6M816.0 315.5v3.6" stroke="#000" stroke-width="1.25" fill="none"/>
<g fill="none" stroke="#e2410f" stroke-width="1.15"><circle cx="508.0" cy="316.8" r="1.55"/><circle cx="509.4" cy="313.9" r="1.55"/><circle cx="513.1" cy="308.7" r="1.55"/><circle cx="516.6" cy="305.5" r="1.55"/><circle cx="517.7" cy="305.0" r="1.55"/><circle cx="519.4" cy="304.0" r="1.55"/><circle cx="521.1" cy="302.5" r="1.55"/><circle cx="523.5" cy="300.6" r="1.55"/><circle cx="525.8" cy="300.0" r="1.55"/><circle cx="536.1" cy="295.2" r="1.55"/><circle cx="537.8" cy="293.5" r="1.55"/><circle cx="540.0" cy="294.0" r="1.55"/><circle cx="545.7" cy="291.5" r="1.55"/><circle cx="548.4" cy="291.2" r="1.55"/><circle cx="550.8" cy="289.9" r="1.55"/><circle cx="552.0" cy="290.3" r="1.55"/><circle cx="553.9" cy="288.9" r="1.55"/><circle cx="557.6" cy="288.1" r="1.55"/><circle cx="560.5" cy="288.0" r="1.55"/><circle cx="562.8" cy="287.6" r="1.55"/><circle cx="567.6" cy="286.0" r="1.55"/><circle cx="572.8" cy="284.5" r="1.55"/><circle cx="577.7" cy="284.3" r="1.55"/><circle cx="580.5" cy="284.1" r="1.55"/><circle cx="582.3" cy="284.1" r="1.55"/><circle cx="583.4" cy="283.7" r="1.55"/><circle cx="586.4" cy="283.6" r="1.55"/><circle cx="592.3" cy="283.2" r="1.55"/><circle cx="595.1" cy="283.4" r="1.55"/><circle cx="597.6" cy="282.5" r="1.55"/><circle cx="599.4" cy="282.3" r="1.55"/><circle cx="600.6" cy="283.3" r="1.55"/><circle cx="603.0" cy="281.9" r="1.55"/><circle cx="604.8" cy="282.4" r="1.55"/><circle cx="606.3" cy="282.8" r="1.55"/><circle cx="608.6" cy="283.3" r="1.55"/><circle cx="611.4" cy="282.3" r="1.55"/><circle cx="614.6" cy="282.3" r="1.55"/><circle cx="617.7" cy="282.7" r="1.55"/><circle cx="625.4" cy="283.2" r="1.55"/><circle cx="628.6" cy="282.2" r="1.55"/><circle cx="629.9" cy="282.9" r="1.55"/><circle cx="635.7" cy="283.0" r="1.55"/><circle cx="637.0" cy="281.8" r="1.55"/><circle cx="638.9" cy="282.1" r="1.55"/><circle cx="640.0" cy="282.6" r="1.55"/><circle cx="649.0" cy="283.5" r="1.55"/><circle cx="650.5" cy="283.2" r="1.55"/><circle cx="652.5" cy="284.4" r="1.55"/><circle cx="654.0" cy="283.6" r="1.55"/><circle cx="655.3" cy="284.0" r="1.55"/><circle cx="657.2" cy="284.3" r="1.55"/><circle cx="659.9" cy="284.6" r="1.55"/><circle cx="666.2" cy="284.4" r="1.55"/><circle cx="667.5" cy="284.6" r="1.55"/><circle cx="670.0" cy="284.8" r="1.55"/><circle cx="671.2" cy="284.7" r="1.55"/><circle cx="673.6" cy="285.6" r="1.55"/><circle cx="679.6" cy="286.5" r="1.55"/><circle cx="681.9" cy="287.1" r="1.55"/><circle cx="691.7" cy="288.1" r="1.55"/><circle cx="693.0" cy="287.9" r="1.55"/><circle cx="695.9" cy="288.6" r="1.55"/><circle cx="698.5" cy="288.6" r="1.55"/><circle cx="703.5" cy="290.0" r="1.55"/><circle cx="706.4" cy="290.1" r="1.55"/><circle cx="716.3" cy="291.9" r="1.55"/><circle cx="723.0" cy="293.4" r="1.55"/><circle cx="728.1" cy="293.1" r="1.55"/><circle cx="730.6" cy="293.9" r="1.55"/><circle cx="732.5" cy="294.8" r="1.55"/><circle cx="733.5" cy="295.0" r="1.55"/><circle cx="739.0" cy="295.6" r="1.55"/><circle cx="740.3" cy="296.3" r="1.55"/><circle cx="742.9" cy="296.1" r="1.55"/><circle cx="744.8" cy="297.1" r="1.55"/><circle cx="752.7" cy="298.5" r="1.55"/><circle cx="755.5" cy="299.4" r="1.55"/><circle cx="757.8" cy="299.8" r="1.55"/><circle cx="760.1" cy="300.6" r="1.55"/><circle cx="763.5" cy="301.5" r="1.55"/><circle cx="767.7" cy="302.2" r="1.55"/><circle cx="769.1" cy="302.4" r="1.55"/><circle cx="771.9" cy="302.8" r="1.55"/><circle cx="775.4" cy="303.4" r="1.55"/><circle cx="783.3" cy="304.7" r="1.55"/><circle cx="784.8" cy="305.4" r="1.55"/><circle cx="786.5" cy="306.3" r="1.55"/><circle cx="793.8" cy="308.2" r="1.55"/><circle cx="796.2" cy="309.6" r="1.55"/><circle cx="798.9" cy="309.7" r="1.55"/><circle cx="802.7" cy="311.4" r="1.55"/><circle cx="803.9" cy="312.5" r="1.55"/><circle cx="805.8" cy="312.4" r="1.55"/><circle cx="812.3" cy="314.9" r="1.55"/><circle cx="815.8" cy="317.6" r="1.55"/><circle cx="508.0" cy="316.8" r="1.55"/><circle cx="509.4" cy="321.1" r="1.55"/><circle cx="511.7" cy="322.7" r="1.55"/><circle cx="513.5" cy="323.3" r="1.55"/><circle cx="514.7" cy="324.1" r="1.55"/><circle cx="520.2" cy="326.3" r="1.55"/><circle cx="522.2" cy="326.8" r="1.55"/><circle cx="525.5" cy="326.9" r="1.55"/><circle cx="531.7" cy="328.4" r="1.55"/><circle cx="534.0" cy="328.2" r="1.55"/><circle cx="535.9" cy="328.3" r="1.55"/><circle cx="538.4" cy="329.0" r="1.55"/><circle cx="540.7" cy="328.8" r="1.55"/><circle cx="543.4" cy="329.3" r="1.55"/><circle cx="545.8" cy="329.5" r="1.55"/><circle cx="552.0" cy="330.1" r="1.55"/><circle cx="556.5" cy="329.6" r="1.55"/><circle cx="558.3" cy="330.1" r="1.55"/><circle cx="559.8" cy="330.1" r="1.55"/><circle cx="565.5" cy="330.4" r="1.55"/><circle cx="569.2" cy="329.3" r="1.55"/><circle cx="571.8" cy="329.7" r="1.55"/><circle cx="576.4" cy="330.0" r="1.55"/><circle cx="580.8" cy="330.2" r="1.55"/><circle cx="582.5" cy="330.4" r="1.55"/><circle cx="584.4" cy="329.7" r="1.55"/><circle cx="586.9" cy="329.5" r="1.55"/><circle cx="588.5" cy="330.0" r="1.55"/><circle cx="590.9" cy="328.9" r="1.55"/><circle cx="593.3" cy="328.9" r="1.55"/><circle cx="595.3" cy="329.4" r="1.55"/><circle cx="597.7" cy="329.1" r="1.55"/><circle cx="599.5" cy="328.9" r="1.55"/><circle cx="602.5" cy="328.5" r="1.55"/><circle cx="604.2" cy="328.6" r="1.55"/><circle cx="606.1" cy="329.0" r="1.55"/><circle cx="610.2" cy="327.7" r="1.55"/><circle cx="615.4" cy="327.8" r="1.55"/><circle cx="618.9" cy="327.3" r="1.55"/><circle cx="622.6" cy="327.1" r="1.55"/><circle cx="626.8" cy="327.5" r="1.55"/><circle cx="628.8" cy="327.2" r="1.55"/><circle cx="630.0" cy="327.0" r="1.55"/><circle cx="636.3" cy="326.6" r="1.55"/><circle cx="641.3" cy="326.6" r="1.55"/><circle cx="644.1" cy="326.5" r="1.55"/><circle cx="647.4" cy="326.0" r="1.55"/><circle cx="648.7" cy="326.2" r="1.55"/><circle cx="650.6" cy="325.9" r="1.55"/><circle cx="651.8" cy="326.4" r="1.55"/><circle cx="653.6" cy="325.4" r="1.55"/><circle cx="656.3" cy="325.6" r="1.55"/><circle cx="660.5" cy="325.1" r="1.55"/><circle cx="665.2" cy="324.5" r="1.55"/><circle cx="667.1" cy="324.2" r="1.55"/><circle cx="675.3" cy="322.9" r="1.55"/><circle cx="678.6" cy="323.3" r="1.55"/><circle cx="680.9" cy="323.6" r="1.55"/><circle cx="683.7" cy="322.8" r="1.55"/><circle cx="685.5" cy="322.9" r="1.55"/><circle cx="686.9" cy="322.4" r="1.55"/><circle cx="689.1" cy="322.6" r="1.55"/><circle cx="690.7" cy="322.4" r="1.55"/><circle cx="695.5" cy="321.8" r="1.55"/><circle cx="698.1" cy="321.6" r="1.55"/><circle cx="699.6" cy="321.9" r="1.55"/><circle cx="701.1" cy="321.3" r="1.55"/><circle cx="703.1" cy="320.9" r="1.55"/><circle cx="705.4" cy="320.2" r="1.55"/><circle cx="707.2" cy="320.6" r="1.55"/><circle cx="709.1" cy="320.4" r="1.55"/><circle cx="710.8" cy="319.9" r="1.55"/><circle cx="713.4" cy="319.7" r="1.55"/><circle cx="715.2" cy="319.1" r="1.55"/><circle cx="721.0" cy="318.9" r="1.55"/><circle cx="724.0" cy="318.8" r="1.55"/><circle cx="725.7" cy="318.2" r="1.55"/><circle cx="726.8" cy="318.1" r="1.55"/><circle cx="728.5" cy="318.8" r="1.55"/><circle cx="731.1" cy="318.5" r="1.55"/><circle cx="732.9" cy="319.1" r="1.55"/><circle cx="739.6" cy="318.5" r="1.55"/><circle cx="742.0" cy="318.6" r="1.55"/><circle cx="744.7" cy="318.4" r="1.55"/><circle cx="749.3" cy="318.4" r="1.55"/><circle cx="750.8" cy="318.3" r="1.55"/><circle cx="754.5" cy="318.3" r="1.55"/><circle cx="756.8" cy="318.1" r="1.55"/><circle cx="758.8" cy="318.2" r="1.55"/><circle cx="761.0" cy="318.5" r="1.55"/><circle cx="764.6" cy="318.8" r="1.55"/><circle cx="765.7" cy="317.9" r="1.55"/><circle cx="771.8" cy="317.9" r="1.55"/><circle cx="773.8" cy="318.6" r="1.55"/><circle cx="775.9" cy="318.3" r="1.55"/><circle cx="777.9" cy="319.1" r="1.55"/><circle cx="783.1" cy="319.1" r="1.55"/><circle cx="788.4" cy="318.6" r="1.55"/><circle cx="793.4" cy="318.0" r="1.55"/><circle cx="795.6" cy="318.9" r="1.55"/><circle cx="797.4" cy="318.8" r="1.55"/><circle cx="799.4" cy="317.9" r="1.55"/><circle cx="801.1" cy="319.2" r="1.55"/><circle cx="804.3" cy="318.3" r="1.55"/><circle cx="806.1" cy="318.3" r="1.55"/><circle cx="808.0" cy="318.5" r="1.55"/><circle cx="811.9" cy="318.0" r="1.55"/><circle cx="813.4" cy="316.9" r="1.55"/></g>
<path d="M506.2 317.0h3.6M508.0 315.2v3.6M512.4 307.8h3.6M514.2 306.0v3.6M518.5 303.1h3.6M520.3 301.3v3.6M524.7 299.8h3.6M526.5 298.0v3.6M530.8 296.5h3.6M532.6 294.7v3.6M537.0 293.7h3.6M538.8 291.9v3.6M543.2 291.9h3.6M545.0 290.1v3.6M549.3 290.2h3.6M551.1 288.4v3.6M555.5 288.3h3.6M557.3 286.5v3.6M561.6 286.7h3.6M563.4 284.9v3.6M567.8 285.5h3.6M569.6 283.7v3.6M574.0 284.6h3.6M575.8 282.8v3.6M580.1 284.1h3.6M581.9 282.3v3.6M586.3 283.6h3.6M588.1 281.8v3.6M592.4 283.1h3.6M594.2 281.3v3.6M598.6 282.8h3.6M600.4 281.0v3.6M604.8 282.7h3.6M606.6 280.9v3.6M610.9 282.5h3.6M612.7 280.7v3.6M617.1 282.5h3.6M618.9 280.7v3.6M623.2 282.6h3.6M625.0 280.8v3.6M629.4 282.7h3.6M631.2 280.9v3.6M635.6 282.8h3.6M637.4 281.0v3.6M641.7 283.1h3.6M643.5 281.3v3.6M647.9 283.4h3.6M649.7 281.6v3.6M654.0 283.8h3.6M655.8 282.0v3.6M660.2 284.2h3.6M662.0 282.4v3.6M666.4 284.7h3.6M668.2 282.9v3.6M672.5 285.3h3.6M674.3 283.5v3.6M678.7 286.2h3.6M680.5 284.4v3.6M684.8 287.2h3.6M686.6 285.4v3.6M691.0 288.1h3.6M692.8 286.3v3.6M697.2 288.9h3.6M699.0 287.1v3.6M703.3 289.8h3.6M705.1 288.0v3.6M709.5 290.7h3.6M711.3 288.9v3.6M715.6 291.9h3.6M717.4 290.1v3.6M721.8 293.0h3.6M723.6 291.2v3.6M728.0 294.1h3.6M729.8 292.3v3.6M734.1 295.1h3.6M735.9 293.3v3.6M740.3 296.1h3.6M742.1 294.3v3.6M746.4 297.3h3.6M748.2 295.5v3.6M752.6 298.8h3.6M754.4 297.0v3.6M758.8 300.3h3.6M760.6 298.5v3.6M764.9 301.7h3.6M766.7 299.9v3.6M771.1 302.9h3.6M772.9 301.1v3.6M777.2 304.2h3.6M779.0 302.4v3.6M783.4 305.8h3.6M785.2 304.0v3.6M789.6 307.7h3.6M791.4 305.9v3.6M795.7 309.8h3.6M797.5 308.0v3.6M801.9 311.9h3.6M803.7 310.1v3.6M808.0 314.2h3.6M809.8 312.4v3.6M814.2 316.7h3.6M816.0 314.9v3.6M506.2 317.0h3.6M508.0 315.2v3.6M512.4 323.7h3.6M514.2 321.9v3.6M518.5 326.0h3.6M520.3 324.2v3.6M524.7 327.6h3.6M526.5 325.8v3.6M530.8 328.4h3.6M532.6 326.6v3.6M537.0 328.8h3.6M538.8 327.0v3.6M543.2 329.2h3.6M545.0 327.4v3.6M549.3 329.6h3.6M551.1 327.8v3.6M555.5 329.9h3.6M557.3 328.1v3.6M561.6 329.9h3.6M563.4 328.1v3.6M567.8 329.9h3.6M569.6 328.1v3.6M574.0 329.9h3.6M575.8 328.1v3.6M580.1 329.9h3.6M581.9 328.1v3.6M586.3 329.6h3.6M588.1 327.8v3.6M592.4 329.1h3.6M594.2 327.3v3.6M598.6 328.7h3.6M600.4 326.9v3.6M604.8 328.4h3.6M606.6 326.6v3.6M610.9 328.1h3.6M612.7 326.3v3.6M617.1 327.8h3.6M618.9 326.0v3.6M623.2 327.5h3.6M625.0 325.7v3.6M629.4 327.2h3.6M631.2 325.4v3.6M635.6 326.8h3.6M637.4 325.0v3.6M641.7 326.3h3.6M643.5 324.5v3.6M647.9 325.8h3.6M649.7 324.0v3.6M654.0 325.3h3.6M655.8 323.5v3.6M660.2 324.8h3.6M662.0 323.0v3.6M666.4 324.3h3.6M668.2 322.5v3.6M672.5 323.7h3.6M674.3 321.9v3.6M678.7 323.1h3.6M680.5 321.3v3.6M684.8 322.5h3.6M686.6 320.7v3.6M691.0 321.9h3.6M692.8 320.1v3.6M697.2 321.3h3.6M699.0 319.5v3.6M703.3 320.7h3.6M705.1 318.9v3.6M709.5 320.1h3.6M711.3 318.3v3.6M715.6 319.5h3.6M717.4 317.7v3.6M721.8 318.9h3.6M723.6 317.1v3.6M728.0 318.5h3.6M729.8 316.7v3.6M734.1 318.4h3.6M735.9 316.6v3.6M740.3 318.3h3.6M742.1 316.5v3.6M746.4 318.3h3.6M748.2 316.5v3.6M752.6 318.2h3.6M754.4 316.4v3.6M758.8 318.3h3.6M760.6 316.5v3.6M764.9 318.3h3.6M766.7 316.5v3.6M771.1 318.4h3.6M772.9 316.6v3.6M777.2 318.5h3.6M779.0 316.7v3.6M783.4 318.5h3.6M785.2 316.7v3.6M789.6 318.5h3.6M791.4 316.7v3.6M795.7 318.5h3.6M797.5 316.7v3.6M801.9 318.5h3.6M803.7 316.7v3.6M808.0 318.2h3.6M809.8 316.4v3.6M814.2 317.6h3.6M816.0 315.8v3.6" stroke="#000" stroke-width="1.25" fill="none"/>
<g fill="none" stroke="#efa71d" stroke-width="1.15"><circle cx="508.0" cy="316.9" r="1.55"/><circle cx="509.3" cy="313.7" r="1.55"/><circle cx="514.5" cy="308.3" r="1.55"/><circle cx="515.9" cy="307.1" r="1.55"/><circle cx="517.7" cy="305.8" r="1.55"/><circle cx="520.0" cy="304.3" r="1.55"/><circle cx="522.2" cy="303.3" r="1.55"/><circle cx="524.5" cy="301.9" r="1.55"/><circle cx="528.4" cy="300.8" r="1.55"/><circle cx="530.1" cy="299.3" r="1.55"/><circle cx="532.8" cy="298.6" r="1.55"/><circle cx="534.7" cy="296.9" r="1.55"/><circle cx="536.1" cy="296.3" r="1.55"/><circle cx="541.3" cy="295.6" r="1.55"/><circle cx="543.8" cy="294.0" r="1.55"/><circle cx="545.5" cy="293.5" r="1.55"/><circle cx="547.2" cy="293.4" r="1.55"/><circle cx="551.0" cy="291.9" r="1.55"/><circle cx="552.7" cy="292.0" r="1.55"/><circle cx="554.5" cy="292.2" r="1.55"/><circle cx="557.0" cy="291.3" r="1.55"/><circle cx="562.4" cy="290.6" r="1.55"/><circle cx="566.1" cy="290.2" r="1.55"/><circle cx="568.6" cy="290.5" r="1.55"/><circle cx="572.3" cy="289.5" r="1.55"/><circle cx="576.9" cy="289.1" r="1.55"/><circle cx="578.6" cy="289.7" r="1.55"/><circle cx="581.3" cy="289.4" r="1.55"/><circle cx="585.6" cy="289.0" r="1.55"/><circle cx="587.6" cy="289.1" r="1.55"/><circle cx="590.2" cy="288.1" r="1.55"/><circle cx="591.9" cy="288.6" r="1.55"/><circle cx="595.1" cy="289.0" r="1.55"/><circle cx="599.2" cy="288.7" r="1.55"/><circle cx="603.1" cy="288.2" r="1.55"/><circle cx="613.1" cy="286.7" r="1.55"/><circle cx="617.0" cy="287.5" r="1.55"/><circle cx="620.6" cy="287.4" r="1.55"/><circle cx="622.0" cy="287.2" r="1.55"/><circle cx="623.3" cy="287.4" r="1.55"/><circle cx="625.2" cy="286.6" r="1.55"/><circle cx="626.5" cy="287.6" r="1.55"/><circle cx="629.1" cy="287.2" r="1.55"/><circle cx="639.5" cy="287.4" r="1.55"/><circle cx="641.1" cy="287.3" r="1.55"/><circle cx="643.4" cy="288.1" r="1.55"/><circle cx="646.2" cy="287.1" r="1.55"/><circle cx="648.6" cy="288.0" r="1.55"/><circle cx="651.7" cy="288.1" r="1.55"/><circle cx="653.5" cy="288.6" r="1.55"/><circle cx="655.1" cy="288.6" r="1.55"/><circle cx="657.3" cy="288.2" r="1.55"/><circle cx="660.2" cy="288.2" r="1.55"/><circle cx="661.8" cy="288.4" r="1.55"/><circle cx="663.5" cy="288.3" r="1.55"/><circle cx="665.5" cy="288.6" r="1.55"/><circle cx="670.2" cy="289.1" r="1.55"/><circle cx="672.1" cy="288.9" r="1.55"/><circle cx="673.7" cy="289.1" r="1.55"/><circle cx="676.4" cy="289.5" r="1.55"/><circle cx="678.9" cy="289.4" r="1.55"/><circle cx="690.1" cy="290.1" r="1.55"/><circle cx="693.7" cy="290.9" r="1.55"/><circle cx="697.9" cy="291.5" r="1.55"/><circle cx="699.9" cy="291.4" r="1.55"/><circle cx="701.5" cy="291.1" r="1.55"/><circle cx="703.8" cy="292.2" r="1.55"/><circle cx="705.4" cy="292.3" r="1.55"/><circle cx="707.4" cy="292.6" r="1.55"/><circle cx="709.8" cy="292.4" r="1.55"/><circle cx="711.3" cy="293.8" r="1.55"/><circle cx="713.7" cy="293.4" r="1.55"/><circle cx="715.4" cy="293.4" r="1.55"/><circle cx="719.6" cy="294.8" r="1.55"/><circle cx="721.0" cy="294.2" r="1.55"/><circle cx="722.8" cy="294.9" r="1.55"/><circle cx="725.5" cy="295.8" r="1.55"/><circle cx="726.9" cy="295.7" r="1.55"/><circle cx="730.7" cy="296.9" r="1.55"/><circle cx="738.0" cy="297.6" r="1.55"/><circle cx="740.6" cy="297.1" r="1.55"/><circle cx="742.3" cy="298.4" r="1.55"/><circle cx="744.0" cy="297.7" r="1.55"/><circle cx="749.1" cy="299.3" r="1.55"/><circle cx="750.2" cy="299.1" r="1.55"/><circle cx="752.8" cy="300.0" r="1.55"/><circle cx="754.5" cy="301.2" r="1.55"/><circle cx="756.4" cy="300.9" r="1.55"/><circle cx="759.1" cy="301.2" r="1.55"/><circle cx="761.6" cy="302.2" r="1.55"/><circle cx="764.1" cy="302.8" r="1.55"/><circle cx="765.8" cy="302.5" r="1.55"/><circle cx="768.5" cy="303.4" r="1.55"/><circle cx="771.2" cy="304.3" r="1.55"/><circle cx="772.6" cy="304.2" r="1.55"/><circle cx="776.1" cy="304.3" r="1.55"/><circle cx="778.4" cy="305.3" r="1.55"/><circle cx="783.9" cy="306.0" r="1.55"/><circle cx="786.1" cy="306.4" r="1.55"/><circle cx="788.9" cy="307.7" r="1.55"/><circle cx="792.2" cy="309.2" r="1.55"/><circle cx="795.2" cy="310.2" r="1.55"/><circle cx="796.8" cy="310.2" r="1.55"/><circle cx="802.1" cy="311.6" r="1.55"/><circle cx="805.0" cy="312.8" r="1.55"/><circle cx="807.5" cy="313.5" r="1.55"/><circle cx="809.3" cy="314.5" r="1.55"/><circle cx="815.6" cy="316.4" r="1.55"/><circle cx="508.0" cy="316.5" r="1.55"/><circle cx="512.7" cy="322.1" r="1.55"/><circle cx="514.0" cy="323.0" r="1.55"/><circle cx="516.2" cy="323.9" r="1.55"/><circle cx="517.6" cy="324.0" r="1.55"/><circle cx="519.3" cy="325.1" r="1.55"/><circle cx="522.0" cy="325.4" r="1.55"/><circle cx="524.7" cy="325.5" r="1.55"/><circle cx="526.4" cy="326.0" r="1.55"/><circle cx="528.0" cy="324.9" r="1.55"/><circle cx="530.7" cy="325.3" r="1.55"/><circle cx="533.3" cy="325.5" r="1.55"/><circle cx="540.2" cy="325.2" r="1.55"/><circle cx="542.0" cy="326.0" r="1.55"/><circle cx="544.0" cy="325.6" r="1.55"/><circle cx="547.6" cy="325.0" r="1.55"/><circle cx="549.6" cy="325.3" r="1.55"/><circle cx="558.3" cy="326.4" r="1.55"/><circle cx="560.2" cy="326.8" r="1.55"/><circle cx="562.0" cy="325.9" r="1.55"/><circle cx="564.7" cy="325.1" r="1.55"/><circle cx="567.2" cy="325.6" r="1.55"/><circle cx="569.1" cy="325.5" r="1.55"/><circle cx="570.4" cy="325.2" r="1.55"/><circle cx="573.1" cy="325.7" r="1.55"/><circle cx="574.3" cy="325.3" r="1.55"/><circle cx="576.5" cy="325.1" r="1.55"/><circle cx="578.4" cy="325.1" r="1.55"/><circle cx="581.3" cy="325.1" r="1.55"/><circle cx="583.1" cy="325.5" r="1.55"/><circle cx="586.5" cy="325.0" r="1.55"/><circle cx="588.7" cy="325.4" r="1.55"/><circle cx="598.1" cy="324.6" r="1.55"/><circle cx="599.2" cy="324.1" r="1.55"/><circle cx="601.7" cy="325.3" r="1.55"/><circle cx="605.2" cy="325.7" r="1.55"/><circle cx="606.6" cy="325.0" r="1.55"/><circle cx="608.1" cy="324.6" r="1.55"/><circle cx="609.9" cy="324.3" r="1.55"/><circle cx="611.2" cy="324.3" r="1.55"/><circle cx="614.1" cy="324.9" r="1.55"/><circle cx="616.8" cy="324.8" r="1.55"/><circle cx="620.9" cy="323.9" r="1.55"/><circle cx="622.5" cy="324.7" r="1.55"/><circle cx="624.4" cy="323.8" r="1.55"/><circle cx="626.8" cy="324.2" r="1.55"/><circle cx="631.0" cy="323.7" r="1.55"/><circle cx="633.2" cy="323.6" r="1.55"/><circle cx="634.4" cy="323.6" r="1.55"/><circle cx="636.2" cy="323.5" r="1.55"/><circle cx="638.3" cy="324.1" r="1.55"/><circle cx="640.1" cy="323.6" r="1.55"/><circle cx="641.3" cy="323.6" r="1.55"/><circle cx="645.8" cy="323.4" r="1.55"/><circle cx="647.6" cy="323.0" r="1.55"/><circle cx="651.1" cy="323.4" r="1.55"/><circle cx="653.3" cy="323.5" r="1.55"/><circle cx="655.5" cy="323.4" r="1.55"/><circle cx="657.8" cy="323.2" r="1.55"/><circle cx="664.0" cy="322.6" r="1.55"/><circle cx="665.5" cy="323.1" r="1.55"/><circle cx="666.9" cy="322.4" r="1.55"/><circle cx="672.3" cy="322.5" r="1.55"/><circle cx="674.0" cy="322.6" r="1.55"/><circle cx="679.2" cy="322.8" r="1.55"/><circle cx="681.7" cy="322.1" r="1.55"/><circle cx="683.0" cy="321.8" r="1.55"/><circle cx="685.2" cy="322.6" r="1.55"/><circle cx="686.8" cy="321.4" r="1.55"/><circle cx="690.0" cy="321.1" r="1.55"/><circle cx="691.4" cy="321.5" r="1.55"/><circle cx="694.2" cy="321.3" r="1.55"/><circle cx="695.2" cy="320.5" r="1.55"/><circle cx="697.2" cy="320.9" r="1.55"/><circle cx="698.8" cy="321.7" r="1.55"/><circle cx="704.3" cy="321.2" r="1.55"/><circle cx="706.0" cy="321.3" r="1.55"/><circle cx="707.5" cy="321.2" r="1.55"/><circle cx="709.4" cy="322.0" r="1.55"/><circle cx="715.1" cy="320.8" r="1.55"/><circle cx="717.6" cy="321.3" r="1.55"/><circle cx="726.1" cy="320.9" r="1.55"/><circle cx="727.9" cy="321.0" r="1.55"/><circle cx="729.6" cy="320.6" r="1.55"/><circle cx="731.2" cy="321.0" r="1.55"/><circle cx="732.9" cy="321.2" r="1.55"/><circle cx="736.8" cy="320.7" r="1.55"/><circle cx="738.8" cy="320.3" r="1.55"/><circle cx="741.3" cy="320.9" r="1.55"/><circle cx="743.6" cy="320.3" r="1.55"/><circle cx="745.2" cy="320.7" r="1.55"/><circle cx="747.0" cy="321.0" r="1.55"/><circle cx="753.3" cy="320.1" r="1.55"/><circle cx="754.8" cy="321.0" r="1.55"/><circle cx="759.7" cy="320.3" r="1.55"/><circle cx="762.2" cy="320.8" r="1.55"/><circle cx="766.1" cy="320.4" r="1.55"/><circle cx="767.8" cy="321.0" r="1.55"/><circle cx="769.4" cy="320.9" r="1.55"/><circle cx="771.2" cy="320.2" r="1.55"/><circle cx="772.9" cy="320.5" r="1.55"/><circle cx="775.6" cy="320.5" r="1.55"/><circle cx="777.6" cy="320.7" r="1.55"/><circle cx="778.8" cy="320.3" r="1.55"/><circle cx="780.3" cy="321.0" r="1.55"/><circle cx="782.6" cy="320.8" r="1.55"/><circle cx="784.6" cy="320.5" r="1.55"/><circle cx="787.3" cy="320.7" r="1.55"/><circle cx="792.9" cy="320.5" r="1.55"/><circle cx="794.6" cy="320.2" r="1.55"/><circle cx="795.7" cy="320.2" r="1.55"/><circle cx="800.0" cy="320.0" r="1.55"/><circle cx="803.2" cy="319.2" r="1.55"/><circle cx="806.5" cy="319.2" r="1.55"/><circle cx="815.6" cy="317.5" r="1.55"/></g>
<path d="M506.2 317.0h3.6M508.0 315.2v3.6M512.4 308.5h3.6M514.2 306.7v3.6M518.5 304.1h3.6M520.3 302.3v3.6M524.7 300.9h3.6M526.5 299.1v3.6M530.8 298.2h3.6M532.6 296.4v3.6M537.0 295.8h3.6M538.8 294.0v3.6M543.2 293.7h3.6M545.0 291.9v3.6M549.3 292.1h3.6M551.1 290.3v3.6M555.5 291.1h3.6M557.3 289.3v3.6M561.6 290.5h3.6M563.4 288.7v3.6M567.8 289.9h3.6M569.6 288.1v3.6M574.0 289.5h3.6M575.8 287.7v3.6M580.1 289.1h3.6M581.9 287.3v3.6M586.3 288.9h3.6M588.1 287.1v3.6M592.4 288.6h3.6M594.2 286.8v3.6M598.6 288.4h3.6M600.4 286.6v3.6M604.8 288.0h3.6M606.6 286.2v3.6M610.9 287.6h3.6M612.7 285.8v3.6M617.1 287.4h3.6M618.9 285.6v3.6M623.2 287.4h3.6M625.0 285.6v3.6M629.4 287.4h3.6M631.2 285.6v3.6M635.6 287.4h3.6M637.4 285.6v3.6M641.7 287.6h3.6M643.5 285.8v3.6M647.9 288.0h3.6M649.7 286.2v3.6M654.0 288.4h3.6M655.8 286.6v3.6M660.2 288.7h3.6M662.0 286.9v3.6M666.4 289.0h3.6M668.2 287.2v3.6M672.5 289.3h3.6M674.3 287.5v3.6M678.7 289.8h3.6M680.5 288.0v3.6M684.8 290.3h3.6M686.6 288.5v3.6M691.0 290.9h3.6M692.8 289.1v3.6M697.2 291.5h3.6M699.0 289.7v3.6M703.3 292.3h3.6M705.1 290.5v3.6M709.5 293.1h3.6M711.3 291.3v3.6M715.6 294.2h3.6M717.4 292.4v3.6M721.8 295.2h3.6M723.6 293.4v3.6M728.0 296.2h3.6M729.8 294.4v3.6M734.1 297.1h3.6M735.9 295.3v3.6M740.3 298.0h3.6M742.1 296.2v3.6M746.4 299.1h3.6M748.2 297.3v3.6M752.6 300.3h3.6M754.4 298.5v3.6M758.8 301.6h3.6M760.6 299.8v3.6M764.9 302.8h3.6M766.7 301.0v3.6M771.1 304.0h3.6M772.9 302.2v3.6M777.2 305.2h3.6M779.0 303.4v3.6M783.4 306.7h3.6M785.2 304.9v3.6M789.6 308.5h3.6M791.4 306.7v3.6M795.7 310.5h3.6M797.5 308.7v3.6M801.9 312.5h3.6M803.7 310.7v3.6M808.0 314.5h3.6M809.8 312.7v3.6M814.2 316.7h3.6M816.0 314.9v3.6M506.2 317.0h3.6M508.0 315.2v3.6M512.4 322.9h3.6M514.2 321.1v3.6M518.5 325.0h3.6M520.3 323.2v3.6M524.7 325.4h3.6M526.5 323.6v3.6M530.8 325.5h3.6M532.6 323.7v3.6M537.0 325.6h3.6M538.8 323.8v3.6M543.2 325.6h3.6M545.0 323.8v3.6M549.3 325.6h3.6M551.1 323.8v3.6M555.5 325.6h3.6M557.3 323.8v3.6M561.6 325.5h3.6M563.4 323.7v3.6M567.8 325.4h3.6M569.6 323.6v3.6M574.0 325.4h3.6M575.8 323.6v3.6M580.1 325.3h3.6M581.9 323.5v3.6M586.3 325.2h3.6M588.1 323.4v3.6M592.4 325.1h3.6M594.2 323.3v3.6M598.6 325.0h3.6M600.4 323.2v3.6M604.8 324.8h3.6M606.6 323.0v3.6M610.9 324.6h3.6M612.7 322.8v3.6M617.1 324.4h3.6M618.9 322.6v3.6M623.2 324.2h3.6M625.0 322.4v3.6M629.4 324.0h3.6M631.2 322.2v3.6M635.6 323.8h3.6M637.4 322.0v3.6M641.7 323.6h3.6M643.5 321.8v3.6M647.9 323.4h3.6M649.7 321.6v3.6M654.0 323.2h3.6M655.8 321.4v3.6M660.2 323.0h3.6M662.0 321.2v3.6M666.4 322.8h3.6M668.2 321.0v3.6M672.5 322.5h3.6M674.3 320.7v3.6M678.7 322.2h3.6M680.5 320.4v3.6M684.8 321.9h3.6M686.6 320.1v3.6M691.0 321.5h3.6M692.8 319.7v3.6M697.2 321.3h3.6M699.0 319.5v3.6M703.3 321.2h3.6M705.1 319.4v3.6M709.5 321.1h3.6M711.3 319.3v3.6M715.6 321.1h3.6M717.4 319.3v3.6M721.8 321.0h3.6M723.6 319.2v3.6M728.0 320.9h3.6M729.8 319.1v3.6M734.1 320.9h3.6M735.9 319.1v3.6M740.3 320.8h3.6M742.1 319.0v3.6M746.4 320.8h3.6M748.2 319.0v3.6M752.6 320.7h3.6M754.4 318.9v3.6M758.8 320.6h3.6M760.6 318.8v3.6M764.9 320.6h3.6M766.7 318.8v3.6M771.1 320.5h3.6M772.9 318.7v3.6M777.2 320.5h3.6M779.0 318.7v3.6M783.4 320.4h3.6M785.2 318.6v3.6M789.6 320.3h3.6M791.4 318.5v3.6M795.7 320.1h3.6M797.5 318.3v3.6M801.9 319.8h3.6M803.7 318.0v3.6M808.0 319.1h3.6M809.8 317.3v3.6M814.2 317.9h3.6M816.0 316.1v3.6" stroke="#000" stroke-width="1.25" fill="none"/>
<g fill="none" stroke="#7222de" stroke-width="1.15"><circle cx="508.0" cy="317.5" r="1.55"/><circle cx="517.3" cy="307.3" r="1.55"/><circle cx="524.2" cy="303.5" r="1.55"/><circle cx="527.1" cy="301.4" r="1.55"/><circle cx="531.0" cy="299.4" r="1.55"/><circle cx="536.1" cy="298.6" r="1.55"/><circle cx="541.0" cy="298.8" r="1.55"/><circle cx="543.5" cy="296.7" r="1.55"/><circle cx="552.0" cy="295.6" r="1.55"/><circle cx="563.6" cy="294.5" r="1.55"/><circle cx="565.3" cy="294.4" r="1.55"/><circle cx="569.2" cy="293.7" r="1.55"/><circle cx="571.6" cy="294.1" r="1.55"/><circle cx="573.7" cy="293.3" r="1.55"/><circle cx="576.5" cy="293.2" r="1.55"/><circle cx="578.3" cy="293.1" r="1.55"/><circle cx="580.6" cy="293.2" r="1.55"/><circle cx="585.8" cy="292.8" r="1.55"/><circle cx="587.7" cy="292.1" r="1.55"/><circle cx="590.1" cy="291.9" r="1.55"/><circle cx="591.9" cy="292.1" r="1.55"/><circle cx="595.5" cy="292.2" r="1.55"/><circle cx="597.0" cy="292.4" r="1.55"/><circle cx="598.7" cy="291.7" r="1.55"/><circle cx="600.7" cy="291.3" r="1.55"/><circle cx="605.2" cy="292.2" r="1.55"/><circle cx="607.5" cy="291.1" r="1.55"/><circle cx="612.5" cy="292.1" r="1.55"/><circle cx="616.8" cy="291.3" r="1.55"/><circle cx="618.7" cy="291.0" r="1.55"/><circle cx="627.6" cy="291.6" r="1.55"/><circle cx="630.3" cy="291.7" r="1.55"/><circle cx="634.9" cy="291.1" r="1.55"/><circle cx="637.5" cy="290.8" r="1.55"/><circle cx="638.9" cy="291.3" r="1.55"/><circle cx="645.1" cy="290.7" r="1.55"/><circle cx="646.3" cy="291.5" r="1.55"/><circle cx="649.6" cy="290.6" r="1.55"/><circle cx="651.1" cy="291.3" r="1.55"/><circle cx="652.8" cy="291.3" r="1.55"/><circle cx="655.2" cy="291.2" r="1.55"/><circle cx="656.9" cy="291.4" r="1.55"/><circle cx="659.1" cy="291.0" r="1.55"/><circle cx="661.4" cy="291.0" r="1.55"/><circle cx="663.7" cy="291.9" r="1.55"/><circle cx="665.0" cy="292.2" r="1.55"/><circle cx="666.4" cy="292.8" r="1.55"/><circle cx="668.1" cy="292.8" r="1.55"/><circle cx="671.1" cy="292.8" r="1.55"/><circle cx="673.4" cy="293.0" r="1.55"/><circle cx="678.6" cy="293.3" r="1.55"/><circle cx="679.8" cy="293.3" r="1.55"/><circle cx="682.6" cy="293.3" r="1.55"/><circle cx="685.7" cy="294.1" r="1.55"/><circle cx="688.1" cy="294.1" r="1.55"/><circle cx="689.5" cy="293.3" r="1.55"/><circle cx="691.0" cy="293.5" r="1.55"/><circle cx="696.8" cy="294.3" r="1.55"/><circle cx="702.1" cy="293.9" r="1.55"/><circle cx="703.5" cy="294.7" r="1.55"/><circle cx="706.1" cy="294.8" r="1.55"/><circle cx="708.4" cy="295.5" r="1.55"/><circle cx="712.8" cy="295.0" r="1.55"/><circle cx="716.1" cy="295.8" r="1.55"/><circle cx="718.4" cy="295.8" r="1.55"/><circle cx="720.0" cy="296.2" r="1.55"/><circle cx="726.4" cy="297.5" r="1.55"/><circle cx="730.9" cy="298.2" r="1.55"/><circle cx="734.4" cy="298.3" r="1.55"/><circle cx="736.2" cy="299.1" r="1.55"/><circle cx="738.2" cy="299.4" r="1.55"/><circle cx="740.2" cy="299.6" r="1.55"/><circle cx="741.7" cy="299.5" r="1.55"/><circle cx="748.1" cy="300.5" r="1.55"/><circle cx="751.8" cy="300.7" r="1.55"/><circle cx="754.3" cy="301.9" r="1.55"/><circle cx="757.0" cy="301.8" r="1.55"/><circle cx="759.9" cy="303.0" r="1.55"/><circle cx="762.1" cy="303.0" r="1.55"/><circle cx="767.6" cy="304.1" r="1.55"/><circle cx="770.0" cy="303.9" r="1.55"/><circle cx="773.3" cy="304.9" r="1.55"/><circle cx="778.0" cy="306.1" r="1.55"/><circle cx="780.0" cy="306.2" r="1.55"/><circle cx="781.5" cy="306.6" r="1.55"/><circle cx="785.3" cy="307.7" r="1.55"/><circle cx="788.9" cy="308.6" r="1.55"/><circle cx="799.0" cy="311.6" r="1.55"/><circle cx="800.6" cy="310.7" r="1.55"/><circle cx="802.3" cy="312.2" r="1.55"/><circle cx="811.5" cy="314.8" r="1.55"/><circle cx="815.0" cy="316.8" r="1.55"/><circle cx="508.0" cy="316.7" r="1.55"/><circle cx="510.5" cy="321.4" r="1.55"/><circle cx="513.8" cy="322.9" r="1.55"/><circle cx="519.2" cy="323.1" r="1.55"/><circle cx="520.4" cy="323.2" r="1.55"/><circle cx="522.1" cy="323.7" r="1.55"/><circle cx="527.1" cy="322.8" r="1.55"/><circle cx="531.0" cy="322.9" r="1.55"/><circle cx="534.8" cy="324.0" r="1.55"/><circle cx="537.3" cy="323.4" r="1.55"/><circle cx="546.2" cy="322.4" r="1.55"/><circle cx="550.1" cy="321.6" r="1.55"/><circle cx="551.2" cy="321.5" r="1.55"/><circle cx="553.9" cy="322.0" r="1.55"/><circle cx="555.7" cy="321.7" r="1.55"/><circle cx="564.7" cy="321.3" r="1.55"/><circle cx="566.4" cy="322.0" r="1.55"/><circle cx="569.1" cy="321.3" r="1.55"/><circle cx="571.6" cy="321.6" r="1.55"/><circle cx="575.1" cy="321.3" r="1.55"/><circle cx="577.5" cy="321.4" r="1.55"/><circle cx="580.1" cy="321.7" r="1.55"/><circle cx="582.6" cy="321.6" r="1.55"/><circle cx="584.2" cy="321.1" r="1.55"/><circle cx="587.4" cy="321.0" r="1.55"/><circle cx="589.8" cy="321.1" r="1.55"/><circle cx="591.2" cy="320.6" r="1.55"/><circle cx="594.3" cy="321.0" r="1.55"/><circle cx="596.0" cy="321.3" r="1.55"/><circle cx="599.9" cy="320.8" r="1.55"/><circle cx="603.4" cy="320.7" r="1.55"/><circle cx="613.3" cy="320.5" r="1.55"/><circle cx="614.5" cy="320.0" r="1.55"/><circle cx="616.6" cy="320.2" r="1.55"/><circle cx="618.7" cy="319.9" r="1.55"/><circle cx="620.0" cy="320.1" r="1.55"/><circle cx="621.9" cy="320.3" r="1.55"/><circle cx="623.6" cy="319.9" r="1.55"/><circle cx="625.3" cy="320.3" r="1.55"/><circle cx="627.4" cy="320.1" r="1.55"/><circle cx="630.1" cy="320.5" r="1.55"/><circle cx="634.0" cy="320.1" r="1.55"/><circle cx="637.2" cy="320.2" r="1.55"/><circle cx="641.1" cy="319.9" r="1.55"/><circle cx="643.1" cy="319.3" r="1.55"/><circle cx="645.7" cy="319.1" r="1.55"/><circle cx="647.1" cy="319.6" r="1.55"/><circle cx="649.3" cy="319.9" r="1.55"/><circle cx="653.7" cy="319.6" r="1.55"/><circle cx="655.4" cy="319.8" r="1.55"/><circle cx="657.3" cy="320.1" r="1.55"/><circle cx="658.4" cy="319.9" r="1.55"/><circle cx="660.9" cy="319.9" r="1.55"/><circle cx="664.7" cy="320.0" r="1.55"/><circle cx="667.0" cy="319.3" r="1.55"/><circle cx="668.6" cy="320.0" r="1.55"/><circle cx="670.2" cy="320.0" r="1.55"/><circle cx="672.2" cy="319.5" r="1.55"/><circle cx="673.3" cy="320.0" r="1.55"/><circle cx="675.2" cy="320.2" r="1.55"/><circle cx="680.8" cy="320.1" r="1.55"/><circle cx="683.5" cy="319.6" r="1.55"/><circle cx="686.0" cy="319.6" r="1.55"/><circle cx="687.7" cy="319.7" r="1.55"/><circle cx="690.8" cy="319.9" r="1.55"/><circle cx="693.0" cy="320.1" r="1.55"/><circle cx="695.0" cy="319.4" r="1.55"/><circle cx="697.7" cy="320.3" r="1.55"/><circle cx="704.5" cy="319.8" r="1.55"/><circle cx="706.2" cy="320.3" r="1.55"/><circle cx="710.2" cy="319.9" r="1.55"/><circle cx="711.6" cy="319.8" r="1.55"/><circle cx="714.0" cy="319.3" r="1.55"/><circle cx="717.6" cy="320.8" r="1.55"/><circle cx="719.0" cy="319.3" r="1.55"/><circle cx="729.7" cy="320.1" r="1.55"/><circle cx="733.7" cy="319.7" r="1.55"/><circle cx="736.2" cy="319.5" r="1.55"/><circle cx="737.5" cy="320.0" r="1.55"/><circle cx="743.4" cy="319.8" r="1.55"/><circle cx="745.9" cy="319.6" r="1.55"/><circle cx="748.6" cy="319.8" r="1.55"/><circle cx="750.1" cy="320.0" r="1.55"/><circle cx="751.8" cy="319.7" r="1.55"/><circle cx="756.6" cy="319.7" r="1.55"/><circle cx="758.4" cy="320.3" r="1.55"/><circle cx="760.2" cy="319.3" r="1.55"/><circle cx="762.4" cy="319.7" r="1.55"/><circle cx="767.2" cy="320.7" r="1.55"/><circle cx="770.2" cy="320.1" r="1.55"/><circle cx="774.0" cy="319.1" r="1.55"/><circle cx="775.9" cy="319.2" r="1.55"/><circle cx="780.4" cy="319.7" r="1.55"/><circle cx="781.9" cy="320.4" r="1.55"/><circle cx="784.5" cy="319.8" r="1.55"/><circle cx="785.9" cy="319.4" r="1.55"/><circle cx="791.1" cy="319.6" r="1.55"/><circle cx="794.3" cy="319.8" r="1.55"/><circle cx="797.3" cy="319.9" r="1.55"/><circle cx="799.0" cy="319.3" r="1.55"/><circle cx="806.4" cy="319.4" r="1.55"/><circle cx="811.7" cy="318.5" r="1.55"/><circle cx="814.8" cy="317.9" r="1.55"/></g>
<path d="M506.2 317.0h3.6M508.0 315.2v3.6M512.4 309.6h3.6M514.2 307.8v3.6M518.5 305.9h3.6M520.3 304.1v3.6M524.7 301.8h3.6M526.5 300.0v3.6M530.8 299.3h3.6M532.6 297.5v3.6M537.0 298.1h3.6M538.8 296.3v3.6M543.2 297.1h3.6M545.0 295.3v3.6M549.3 296.1h3.6M551.1 294.3v3.6M555.5 295.2h3.6M557.3 293.4v3.6M561.6 294.5h3.6M563.4 292.7v3.6M567.8 293.8h3.6M569.6 292.0v3.6M574.0 293.2h3.6M575.8 291.4v3.6M580.1 292.8h3.6M581.9 291.0v3.6M586.3 292.5h3.6M588.1 290.7v3.6M592.4 292.2h3.6M594.2 290.4v3.6M598.6 291.9h3.6M600.4 290.1v3.6M604.8 291.5h3.6M606.6 289.7v3.6M610.9 291.2h3.6M612.7 289.4v3.6M617.1 291.1h3.6M618.9 289.3v3.6M623.2 291.1h3.6M625.0 289.3v3.6M629.4 291.1h3.6M631.2 289.3v3.6M635.6 291.1h3.6M637.4 289.3v3.6M641.7 291.2h3.6M643.5 289.4v3.6M647.9 291.3h3.6M649.7 289.5v3.6M654.0 291.5h3.6M655.8 289.7v3.6M660.2 291.9h3.6M662.0 290.1v3.6M666.4 292.5h3.6M668.2 290.7v3.6M672.5 293.0h3.6M674.3 291.2v3.6M678.7 293.3h3.6M680.5 291.5v3.6M684.8 293.6h3.6M686.6 291.8v3.6M691.0 293.9h3.6M692.8 292.1v3.6M697.2 294.2h3.6M699.0 292.4v3.6M703.3 294.6h3.6M705.1 292.8v3.6M709.5 295.1h3.6M711.3 293.3v3.6M715.6 296.1h3.6M717.4 294.3v3.6M721.8 297.1h3.6M723.6 295.3v3.6M728.0 298.1h3.6M729.8 296.3v3.6M734.1 299.0h3.6M735.9 297.2v3.6M740.3 299.9h3.6M742.1 298.1v3.6M746.4 300.9h3.6M748.2 299.1v3.6M752.6 301.9h3.6M754.4 300.1v3.6M758.8 302.9h3.6M760.6 301.1v3.6M764.9 304.0h3.6M766.7 302.2v3.6M771.1 305.0h3.6M772.9 303.2v3.6M777.2 306.2h3.6M779.0 304.4v3.6M783.4 307.5h3.6M785.2 305.7v3.6M789.6 309.1h3.6M791.4 307.3v3.6M795.7 310.9h3.6M797.5 309.1v3.6M801.9 312.7h3.6M803.7 310.9v3.6M808.0 314.6h3.6M809.8 312.8v3.6M814.2 316.7h3.6M816.0 314.9v3.6M506.2 317.0h3.6M508.0 315.2v3.6M512.4 323.5h3.6M514.2 321.7v3.6M518.5 323.5h3.6M520.3 321.7v3.6M524.7 323.5h3.6M526.5 321.7v3.6M530.8 323.3h3.6M532.6 321.5v3.6M537.0 322.8h3.6M538.8 321.0v3.6M543.2 322.3h3.6M545.0 320.5v3.6M549.3 321.9h3.6M551.1 320.1v3.6M555.5 321.7h3.6M557.3 319.9v3.6M561.6 321.6h3.6M563.4 319.8v3.6M567.8 321.5h3.6M569.6 319.7v3.6M574.0 321.4h3.6M575.8 319.6v3.6M580.1 321.2h3.6M581.9 319.4v3.6M586.3 321.0h3.6M588.1 319.2v3.6M592.4 320.9h3.6M594.2 319.1v3.6M598.6 320.7h3.6M600.4 318.9v3.6M604.8 320.6h3.6M606.6 318.8v3.6M610.9 320.4h3.6M612.7 318.6v3.6M617.1 320.3h3.6M618.9 318.5v3.6M623.2 320.2h3.6M625.0 318.4v3.6M629.4 320.1h3.6M631.2 318.3v3.6M635.6 320.1h3.6M637.4 318.3v3.6M641.7 320.0h3.6M643.5 318.2v3.6M647.9 319.9h3.6M649.7 318.1v3.6M654.0 319.9h3.6M655.8 318.1v3.6M660.2 319.8h3.6M662.0 318.0v3.6M666.4 319.8h3.6M668.2 318.0v3.6M672.5 319.8h3.6M674.3 318.0v3.6M678.7 319.8h3.6M680.5 318.0v3.6M684.8 319.8h3.6M686.6 318.0v3.6M691.0 319.8h3.6M692.8 318.0v3.6M697.2 319.8h3.6M699.0 318.0v3.6M703.3 319.8h3.6M705.1 318.0v3.6M709.5 319.8h3.6M711.3 318.0v3.6M715.6 319.8h3.6M717.4 318.0v3.6M721.8 319.8h3.6M723.6 318.0v3.6M728.0 319.8h3.6M729.8 318.0v3.6M734.1 319.8h3.6M735.9 318.0v3.6M740.3 319.8h3.6M742.1 318.0v3.6M746.4 319.8h3.6M748.2 318.0v3.6M752.6 319.8h3.6M754.4 318.0v3.6M758.8 319.8h3.6M760.6 318.0v3.6M764.9 319.8h3.6M766.7 318.0v3.6M771.1 319.8h3.6M772.9 318.0v3.6M777.2 319.8h3.6M779.0 318.0v3.6M783.4 319.8h3.6M785.2 318.0v3.6M789.6 319.7h3.6M791.4 317.9v3.6M795.7 319.6h3.6M797.5 317.8v3.6M801.9 319.5h3.6M803.7 317.7v3.6M808.0 318.9h3.6M809.8 317.1v3.6M814.2 317.9h3.6M816.0 316.1v3.6" stroke="#000" stroke-width="1.25" fill="none"/>
</g>
<g id="frame"><rect x="508.0" y="182.3" width="308.0" height="244.0" fill="none" stroke="#1a1a1a" stroke-width="1.6"/><path d="M508.0 193.8h3.4M816.0 193.8h-3.4M508.0 255.4h3.4M816.0 255.4h-3.4M508.0 317.0h3.4M816.0 317.0h-3.4M508.0 378.6h3.4M816.0 378.6h-3.4M508.0 426.3v-3.4M508.0 182.3v3.4M662.0 426.3v-3.4M662.0 182.3v3.4M816.0 426.3v-3.4M816.0 182.3v3.4" stroke="#1a1a1a" stroke-width="1.4" fill="none"/></g>
<g id="labels"><text x="501.8" y="201.0" text-anchor="end" font-size="19.8">0.4</text><text x="501.8" y="262.6" text-anchor="end" font-size="19.8">0.2</text><text x="501.8" y="324.2" text-anchor="end" font-size="19.8">0</text><text x="501.8" y="385.8" text-anchor="end" font-size="19.8">-0.2</text><text x="508.0" y="451.4" text-anchor="middle" font-size="19.8">0</text><text x="662.0" y="451.4" text-anchor="middle" font-size="19.8">0.5</text><text x="816.0" y="451.4" text-anchor="middle" font-size="19.8">1</text><text x="659.8" y="476.5" text-anchor="middle" font-size="21.0">x/c [--]</text><text transform="translate(459.5,306) rotate(-90)" text-anchor="middle" font-size="21.0">y/c [--]</text><circle cx="552.9" cy="10.8" r="1.4" fill="none" stroke="#1f74ee" stroke-width="1"/><text x="561.3" y="17.8" font-size="18.75">r/R = 0.2 (scanned points)</text><path d="M551.2 33.1h3.4M552.9 31.4v3.4" stroke="#000" stroke-width="1.2"/><text x="561.3" y="40.1" font-size="18.75">r/R = 0.2 (matched aerofoil)</text><circle cx="552.9" cy="55.4" r="1.4" fill="none" stroke="#e2410f" stroke-width="1"/><text x="561.3" y="62.4" font-size="18.75">r/R = 0.4 (scanned points)</text><path d="M551.2 77.7h3.4M552.9 76.0v3.4" stroke="#000" stroke-width="1.2"/><text x="561.3" y="84.7" font-size="18.75">r/R = 0.4 (matched aerofoil)</text><circle cx="552.9" cy="100.0" r="1.4" fill="none" stroke="#efa71d" stroke-width="1"/><text x="561.3" y="107.0" font-size="18.75">r/R = 0.6 (scanned points)</text><path d="M551.2 122.3h3.4M552.9 120.6v3.4" stroke="#000" stroke-width="1.2"/><text x="561.3" y="129.3" font-size="18.75">r/R = 0.6 (matched aerofoil)</text><circle cx="552.9" cy="144.6" r="1.4" fill="none" stroke="#7222de" stroke-width="1"/><text x="561.3" y="151.6" font-size="18.75">r/R = 0.8 (scanned points)</text><path d="M551.2 166.9h3.4M552.9 165.2v3.4" stroke="#000" stroke-width="1.2"/><text x="561.3" y="173.9" font-size="18.75">r/R = 0.8 (matched aerofoil)</text></g>
</svg>
<div class="cap" id="ca">(a) 3D point cloud from scan (every 1000th point shown)</div>
<div class="cap" id="cb">(b) Sectional <span class="sf">aerofoil</span> sections (every 500th point shown at each section)</div>
</body></html>
